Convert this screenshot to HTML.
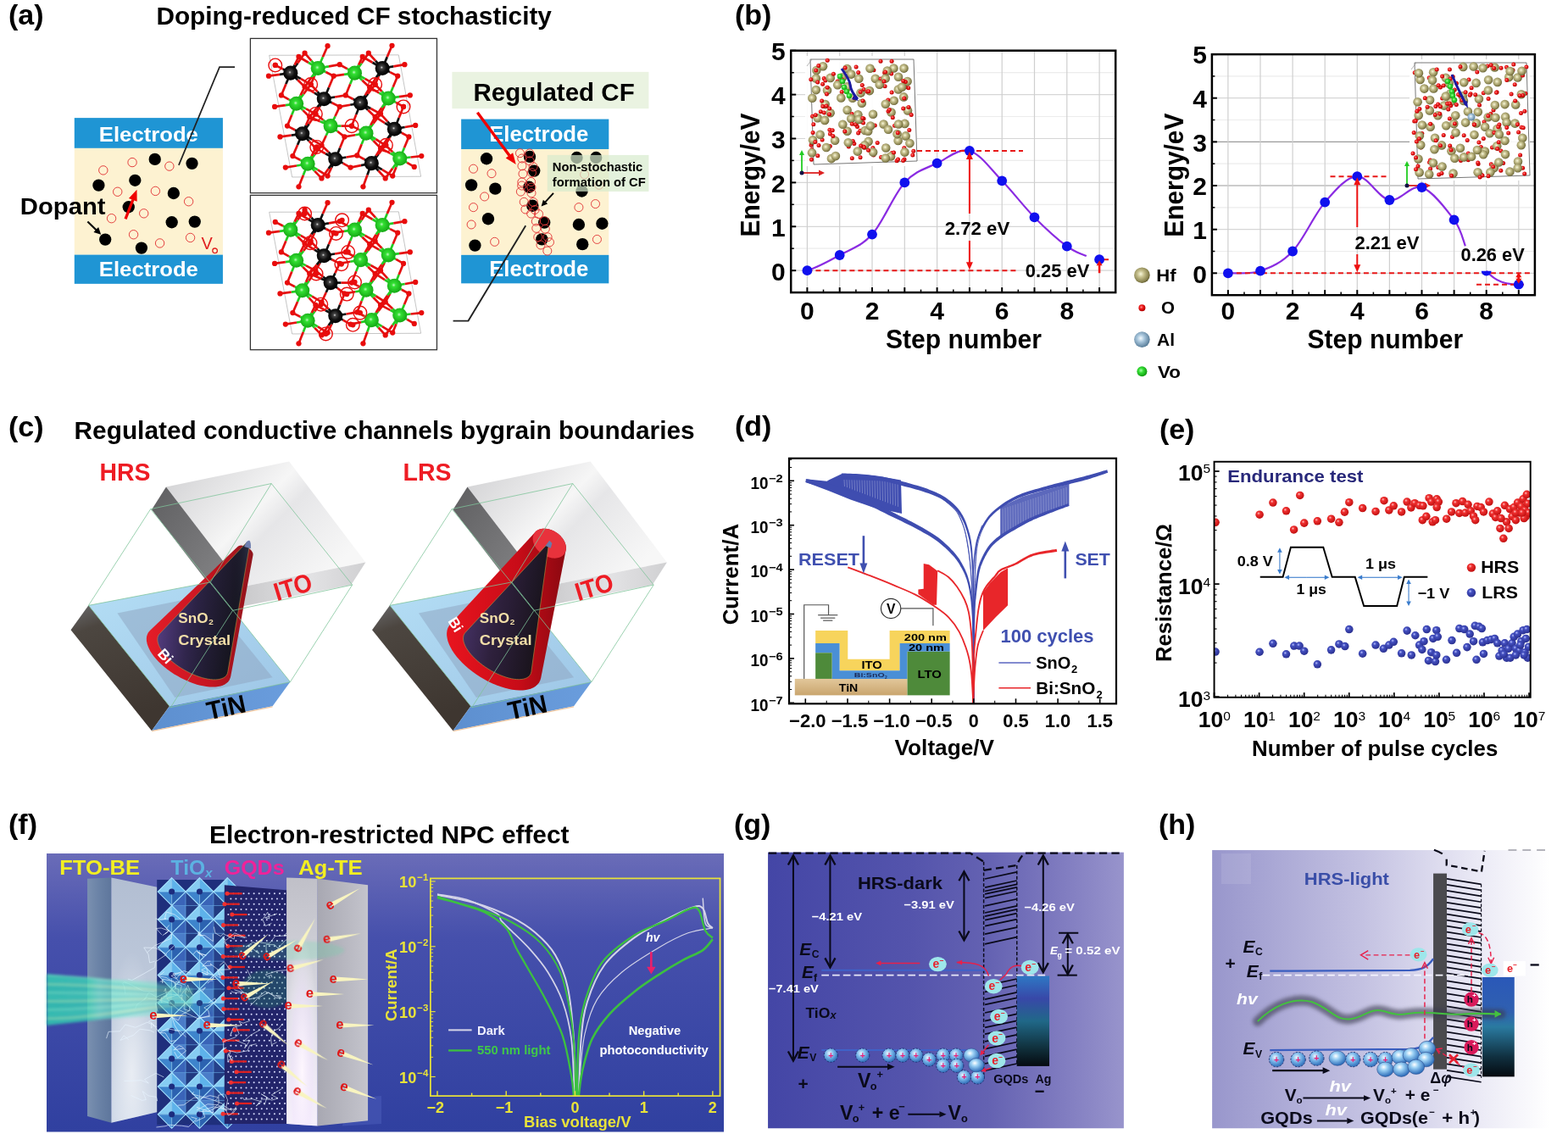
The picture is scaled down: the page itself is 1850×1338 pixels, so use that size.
<!DOCTYPE html>
<html><head><meta charset="utf-8"><title>Figure</title>
<style>
html,body{margin:0;padding:0;background:#fff;width:1850px;height:1338px;overflow:hidden}
svg{display:block}
text{font-family:"Liberation Sans", Arial, sans-serif;font-weight:bold}
</style></head><body>
<svg width="1850" height="1338" viewBox="0 0 1850 1338">
<defs>
<radialGradient id="gBlack" cx="0.45" cy="0.45" r="0.55"><stop offset="0" stop-color="#ddd"/><stop offset="0.18" stop-color="#444"/><stop offset="0.6" stop-color="#111"/><stop offset="1" stop-color="#000"/></radialGradient>
<radialGradient id="gGreen" cx="0.45" cy="0.45" r="0.55"><stop offset="0" stop-color="#bff7bf"/><stop offset="0.25" stop-color="#33e033"/><stop offset="1" stop-color="#15a815"/></radialGradient>
<radialGradient id="gGreenS" cx="0.4" cy="0.4" r="0.6"><stop offset="0" stop-color="#aaffaa"/><stop offset="0.4" stop-color="#33dd33"/><stop offset="1" stop-color="#119911"/></radialGradient>
<radialGradient id="gRed" cx="0.4" cy="0.4" r="0.6"><stop offset="0" stop-color="#ff9090"/><stop offset="0.45" stop-color="#ee1a1a"/><stop offset="1" stop-color="#b00000"/></radialGradient>
<radialGradient id="gHf" cx="0.42" cy="0.42" r="0.58"><stop offset="0" stop-color="#f8f8dc"/><stop offset="0.35" stop-color="#c8c290"/><stop offset="0.85" stop-color="#8a8450"/><stop offset="1" stop-color="#6a6436"/></radialGradient>
<radialGradient id="gAl" cx="0.42" cy="0.42" r="0.58"><stop offset="0" stop-color="#f4fbff"/><stop offset="0.4" stop-color="#a8c6dc"/><stop offset="1" stop-color="#5a7e9a"/></radialGradient>
<linearGradient id="gITOtop" x1="0" y1="0" x2="1" y2="0.6"><stop offset="0" stop-color="#cfcfd1"/><stop offset="0.35" stop-color="#e9e9ea"/><stop offset="0.5" stop-color="#f6f6f6"/><stop offset="0.62" stop-color="#e6e6e8"/><stop offset="1" stop-color="#f7f7f7"/></linearGradient>
<linearGradient id="gITOleft" x1="0" y1="0" x2="1" y2="1"><stop offset="0" stop-color="#5f5f61"/><stop offset="1" stop-color="#8c8c8e"/></linearGradient>
<linearGradient id="gITOfront" x1="0" y1="0" x2="1" y2="0"><stop offset="0" stop-color="#c4c4c6"/><stop offset="0.6" stop-color="#e2e2e4"/><stop offset="1" stop-color="#d0d0d2"/></linearGradient>
<linearGradient id="gTiNtop" x1="0" y1="0" x2="1" y2="1"><stop offset="0" stop-color="#b4def5"/><stop offset="1" stop-color="#9ec6e6"/></linearGradient>
<linearGradient id="gTiNleft" x1="0" y1="0" x2="0.3" y2="1"><stop offset="0" stop-color="#6a6a6c"/><stop offset="0.22" stop-color="#4c4640"/><stop offset="1" stop-color="#3e3630"/></linearGradient>
<linearGradient id="gTiNfront" x1="0" y1="0" x2="1" y2="0"><stop offset="0" stop-color="#5d8fcf"/><stop offset="1" stop-color="#6a9ddd"/></linearGradient>
<linearGradient id="gConeRed" x1="0" y1="0" x2="1" y2="0"><stop offset="0" stop-color="#e8141e"/><stop offset="0.6" stop-color="#c80c18"/><stop offset="1" stop-color="#8a0810"/></linearGradient>
<linearGradient id="gConeDark" x1="0" y1="0" x2="1" y2="0.3"><stop offset="0" stop-color="#4a3a78"/><stop offset="0.5" stop-color="#2a2240"/><stop offset="1" stop-color="#14141c"/></linearGradient>
<linearGradient id="gTiNd" x1="0" y1="0" x2="0" y2="1"><stop offset="0" stop-color="#e2c79a"/><stop offset="1" stop-color="#c9a56e"/></linearGradient>
<radialGradient id="gRedBall" cx="0.38" cy="0.35" r="0.65"><stop offset="0" stop-color="#ffc0c0"/><stop offset="0.3" stop-color="#f03030"/><stop offset="1" stop-color="#c01010"/></radialGradient>
<radialGradient id="gBlueBall" cx="0.38" cy="0.35" r="0.65"><stop offset="0" stop-color="#b8c0ff"/><stop offset="0.3" stop-color="#4450c0"/><stop offset="1" stop-color="#2a3090"/></radialGradient>
<linearGradient id="gFbg" x1="0" y1="0" x2="0" y2="1"><stop offset="0" stop-color="#6a6cb8"/><stop offset="0.3" stop-color="#4650ac"/><stop offset="1" stop-color="#3040a0"/></linearGradient>
<radialGradient id="gBeam" cx="0.5" cy="0.5" r="0.5"><stop offset="0" stop-color="#50e0b0" stop-opacity="0.55"/><stop offset="1" stop-color="#50e0b0" stop-opacity="0"/></radialGradient>
<linearGradient id="gFTOside" x1="0" y1="0" x2="1" y2="0"><stop offset="0" stop-color="#7a90b0"/><stop offset="0.5" stop-color="#6a82a6"/><stop offset="1" stop-color="#5e769c"/></linearGradient>
<linearGradient id="gFTOfront" x1="0" y1="0" x2="0" y2="1"><stop offset="0" stop-color="#b2bed2"/><stop offset="1" stop-color="#ccd6e6"/></linearGradient>
<radialGradient id="gFTOglow" cx="0.4" cy="0.8" r="0.5"><stop offset="0" stop-color="#ffffff" stop-opacity="0.6"/><stop offset="1" stop-color="#ffffff" stop-opacity="0"/></radialGradient>
<linearGradient id="gAgside" x1="0" y1="0" x2="0" y2="1"><stop offset="0" stop-color="#c0c0c8"/><stop offset="0.5" stop-color="#d8d8e0"/><stop offset="1" stop-color="#f4eefa"/></linearGradient>
<linearGradient id="gAgfront" x1="0" y1="0" x2="1" y2="0"><stop offset="0" stop-color="#a8a8b2"/><stop offset="1" stop-color="#c4c4cc"/></linearGradient>
<radialGradient id="gAgglow" cx="0.5" cy="0.78" r="0.55"><stop offset="0" stop-color="#fff8ff" stop-opacity="0.95"/><stop offset="0.6" stop-color="#f4e8ff" stop-opacity="0.5"/><stop offset="1" stop-color="#ffffff" stop-opacity="0"/></radialGradient>
<linearGradient id="gGbg" x1="0" y1="0" x2="1" y2="0"><stop offset="0" stop-color="#4446a6"/><stop offset="0.4" stop-color="#5454ac"/><stop offset="0.62" stop-color="#6462b2"/><stop offset="0.8" stop-color="#7c78be"/><stop offset="1" stop-color="#9894cc"/></linearGradient>
<linearGradient id="gHbg" x1="0" y1="0" x2="1" y2="0"><stop offset="0" stop-color="#9896cc"/><stop offset="0.45" stop-color="#c4c2e2"/><stop offset="0.8" stop-color="#ecebf6"/><stop offset="1" stop-color="#ffffff"/></linearGradient>
<linearGradient id="gAgBlk" x1="0" y1="0" x2="0" y2="1"><stop offset="0" stop-color="#2e78c4"/><stop offset="0.25" stop-color="#3848a8"/><stop offset="0.5" stop-color="#206888"/><stop offset="0.8" stop-color="#10303c"/><stop offset="1" stop-color="#050a10"/></linearGradient>
<linearGradient id="gAgBlk2" x1="0" y1="0" x2="0" y2="1"><stop offset="0" stop-color="#2a58b8"/><stop offset="0.35" stop-color="#3060b0"/><stop offset="0.5" stop-color="#2a7aa0"/><stop offset="0.8" stop-color="#103040"/><stop offset="1" stop-color="#050a10"/></linearGradient>
<radialGradient id="gHole" cx="0.4" cy="0.35" r="0.6"><stop offset="0" stop-color="#e8f4ff"/><stop offset="0.5" stop-color="#7ab8ea"/><stop offset="1" stop-color="#3a78c0"/></radialGradient>
<radialGradient id="gSphere" cx="0.4" cy="0.35" r="0.65"><stop offset="0" stop-color="#ffffff"/><stop offset="0.35" stop-color="#9ad0f4"/><stop offset="1" stop-color="#2a6ab8"/></radialGradient>
<linearGradient id="gBeamLin" x1="0" y1="0" x2="1" y2="0"><stop offset="0" stop-color="#34d2b2" stop-opacity="0.95"/><stop offset="0.23" stop-color="#40d8b8" stop-opacity="0.9"/><stop offset="0.3" stop-color="#80f0dc" stop-opacity="0.75"/><stop offset="0.65" stop-color="#60e0c8" stop-opacity="0.35"/><stop offset="1" stop-color="#40d8b8" stop-opacity="0"/></linearGradient>
<filter id="fBlur8" x="-20%" y="-50%" width="140%" height="200%"><feGaussianBlur stdDeviation="7"/></filter>
<filter id="fBlur3" x="-20%" y="-50%" width="140%" height="200%"><feGaussianBlur stdDeviation="3"/></filter>
<linearGradient id="gConeSheen" x1="0" y1="0" x2="1" y2="0"><stop offset="0" stop-color="#7a50b0" stop-opacity="0.35"/><stop offset="0.45" stop-color="#3a2a70" stop-opacity="0.1"/><stop offset="0.8" stop-color="#101018" stop-opacity="0"/><stop offset="1" stop-color="#5a6a9a" stop-opacity="0.3"/></linearGradient>
</defs>
<text x="10.0" y="28.6" font-size="34" fill="#000">(a)</text>
<text x="184.4" y="28.5" font-size="29.4" fill="#000" textLength="466.5" lengthAdjust="spacingAndGlyphs">Doping-reduced CF stochasticity</text>
<g transform="translate(0,60) scale(0.21676)"><rect x="405.0" y="365.0" width="808.0" height="165.0" fill="#1f95d4"/>
<rect x="405.0" y="530.0" width="808.0" height="580.0" fill="#fdf2d1"/>
<rect x="405.0" y="1110.0" width="808.0" height="158.0" fill="#1f95d4"/>
<text x="809.0" y="492.0" font-size="114" fill="#fff" text-anchor="middle" textLength="540" lengthAdjust="spacingAndGlyphs">Electrode</text>
<text x="809.0" y="1228.0" font-size="114" fill="#fff" text-anchor="middle" textLength="540" lengthAdjust="spacingAndGlyphs">Electrode</text>
<circle cx="843.0" cy="590.0" r="33" fill="#000"/>
<circle cx="1045.0" cy="613.0" r="33" fill="#000"/>
<circle cx="735.0" cy="705.0" r="33" fill="#000"/>
<circle cx="537.0" cy="732.0" r="33" fill="#000"/>
<circle cx="945.0" cy="775.0" r="33" fill="#000"/>
<circle cx="700.0" cy="850.0" r="33" fill="#000"/>
<circle cx="935.0" cy="933.0" r="33" fill="#000"/>
<circle cx="1060.0" cy="930.0" r="33" fill="#000"/>
<circle cx="573.0" cy="1027.0" r="33" fill="#000"/>
<circle cx="770.0" cy="1073.0" r="33" fill="#000"/>
<circle cx="720.0" cy="607.0" r="24" fill="none" stroke="#e23a3a" stroke-width="4.5"/>
<circle cx="922.0" cy="628.0" r="24" fill="none" stroke="#e23a3a" stroke-width="4.5"/>
<circle cx="562.0" cy="650.0" r="24" fill="none" stroke="#e23a3a" stroke-width="4.5"/>
<circle cx="640.0" cy="767.0" r="24" fill="none" stroke="#e23a3a" stroke-width="4.5"/>
<circle cx="846.0" cy="763.0" r="24" fill="none" stroke="#e23a3a" stroke-width="4.5"/>
<circle cx="1027.0" cy="820.0" r="24" fill="none" stroke="#e23a3a" stroke-width="4.5"/>
<circle cx="783.0" cy="885.0" r="24" fill="none" stroke="#e23a3a" stroke-width="4.5"/>
<circle cx="607.0" cy="912.0" r="24" fill="none" stroke="#e23a3a" stroke-width="4.5"/>
<circle cx="727.0" cy="1000.0" r="24" fill="none" stroke="#e23a3a" stroke-width="4.5"/>
<circle cx="1036.0" cy="1017.0" r="24" fill="none" stroke="#e23a3a" stroke-width="4.5"/>
<circle cx="870.0" cy="1047.0" r="24" fill="none" stroke="#e23a3a" stroke-width="4.5"/>
<line x1="683.0" y1="915.0" x2="723.7" y2="810.0" stroke="#f00000" stroke-width="15"/><path d="M745.0,755.0 L745.7,819.6 L700.9,802.3 Z" fill="#f00000"/>
<text x="110.0" y="890.0" font-size="124" fill="#000" textLength="465" lengthAdjust="spacingAndGlyphs">Dopant</text>
<line x1="477.0" y1="930.0" x2="523.3" y2="974.4" stroke="#000" stroke-width="10"/><path d="M550.0,1000.0 L509.4,987.4 L535.7,960.0 Z" fill="#000"/>
<text x="1096.0" y="1080.0" font-size="92" fill="#e02020" style="font-weight:normal;">V</text>
<circle cx="1170.0" cy="1088.0" r="13" fill="none" stroke="#e02020" stroke-width="6"/>
<path d="M973,622 L1195,88 L1278,88" fill="none" stroke="#222" stroke-width="8"/></g>
<g transform="translate(290,40) scale(0.14198)"><rect x="38.0" y="38.0" width="1550.0" height="1284.0" fill="#fff" stroke="#333" stroke-width="9"/>
<path d="M195,178 L1270,175 L1455,1185 L385,1190 Z" fill="none" stroke="#999" stroke-width="4"/>
<line x1="372.0" y1="325.0" x2="431.0" y2="242.5" stroke="#111" stroke-width="19"/>
<line x1="431.0" y1="242.5" x2="490.0" y2="160.0" stroke="#e41010" stroke-width="19"/>
<line x1="372.0" y1="325.0" x2="406.0" y2="257.5" stroke="#111" stroke-width="19"/>
<line x1="406.0" y1="257.5" x2="440.0" y2="190.0" stroke="#e41010" stroke-width="19"/>
<line x1="372.0" y1="325.0" x2="308.5" y2="292.5" stroke="#111" stroke-width="19"/>
<line x1="308.5" y1="292.5" x2="245.0" y2="260.0" stroke="#e41010" stroke-width="19"/>
<line x1="372.0" y1="325.0" x2="281.0" y2="337.5" stroke="#111" stroke-width="19"/>
<line x1="281.0" y1="337.5" x2="190.0" y2="350.0" stroke="#e41010" stroke-width="19"/>
<line x1="372.0" y1="325.0" x2="456.0" y2="372.5" stroke="#111" stroke-width="19"/>
<line x1="456.0" y1="372.5" x2="540.0" y2="420.0" stroke="#e41010" stroke-width="19"/>
<line x1="372.0" y1="325.0" x2="431.0" y2="382.5" stroke="#111" stroke-width="19"/>
<line x1="431.0" y1="382.5" x2="490.0" y2="440.0" stroke="#e41010" stroke-width="19"/>
<line x1="372.0" y1="325.0" x2="333.5" y2="417.5" stroke="#111" stroke-width="19"/>
<line x1="333.5" y1="417.5" x2="295.0" y2="510.0" stroke="#e41010" stroke-width="19"/>
<line x1="600.0" y1="285.0" x2="640.0" y2="192.5" stroke="#22cc22" stroke-width="19"/>
<line x1="640.0" y1="192.5" x2="680.0" y2="100.0" stroke="#e41010" stroke-width="19"/>
<line x1="600.0" y1="285.0" x2="545.0" y2="222.5" stroke="#22cc22" stroke-width="19"/>
<line x1="545.0" y1="222.5" x2="490.0" y2="160.0" stroke="#e41010" stroke-width="19"/>
<line x1="600.0" y1="285.0" x2="520.0" y2="237.5" stroke="#22cc22" stroke-width="19"/>
<line x1="520.0" y1="237.5" x2="440.0" y2="190.0" stroke="#e41010" stroke-width="19"/>
<line x1="600.0" y1="285.0" x2="690.0" y2="270.0" stroke="#22cc22" stroke-width="19"/>
<line x1="690.0" y1="270.0" x2="780.0" y2="255.0" stroke="#e41010" stroke-width="19"/>
<line x1="600.0" y1="285.0" x2="665.0" y2="317.5" stroke="#22cc22" stroke-width="19"/>
<line x1="665.0" y1="317.5" x2="730.0" y2="350.0" stroke="#e41010" stroke-width="19"/>
<line x1="600.0" y1="285.0" x2="570.0" y2="352.5" stroke="#22cc22" stroke-width="19"/>
<line x1="570.0" y1="352.5" x2="540.0" y2="420.0" stroke="#e41010" stroke-width="19"/>
<line x1="600.0" y1="285.0" x2="545.0" y2="362.5" stroke="#22cc22" stroke-width="19"/>
<line x1="545.0" y1="362.5" x2="490.0" y2="440.0" stroke="#e41010" stroke-width="19"/>
<line x1="905.0" y1="325.0" x2="962.5" y2="242.5" stroke="#22cc22" stroke-width="19"/>
<line x1="962.5" y1="242.5" x2="1020.0" y2="160.0" stroke="#e41010" stroke-width="19"/>
<line x1="905.0" y1="325.0" x2="937.5" y2="257.5" stroke="#22cc22" stroke-width="19"/>
<line x1="937.5" y1="257.5" x2="970.0" y2="190.0" stroke="#e41010" stroke-width="19"/>
<line x1="905.0" y1="325.0" x2="842.5" y2="290.0" stroke="#22cc22" stroke-width="19"/>
<line x1="842.5" y1="290.0" x2="780.0" y2="255.0" stroke="#e41010" stroke-width="19"/>
<line x1="905.0" y1="325.0" x2="817.5" y2="337.5" stroke="#22cc22" stroke-width="19"/>
<line x1="817.5" y1="337.5" x2="730.0" y2="350.0" stroke="#e41010" stroke-width="19"/>
<line x1="905.0" y1="325.0" x2="990.0" y2="372.5" stroke="#22cc22" stroke-width="19"/>
<line x1="990.0" y1="372.5" x2="1075.0" y2="420.0" stroke="#e41010" stroke-width="19"/>
<line x1="905.0" y1="325.0" x2="967.5" y2="385.0" stroke="#22cc22" stroke-width="19"/>
<line x1="967.5" y1="385.0" x2="1030.0" y2="445.0" stroke="#e41010" stroke-width="19"/>
<line x1="905.0" y1="325.0" x2="867.5" y2="417.5" stroke="#22cc22" stroke-width="19"/>
<line x1="867.5" y1="417.5" x2="830.0" y2="510.0" stroke="#e41010" stroke-width="19"/>
<line x1="1135.0" y1="285.0" x2="1175.0" y2="191.0" stroke="#111" stroke-width="19"/>
<line x1="1175.0" y1="191.0" x2="1215.0" y2="97.0" stroke="#e41010" stroke-width="19"/>
<line x1="1135.0" y1="285.0" x2="1077.5" y2="222.5" stroke="#111" stroke-width="19"/>
<line x1="1077.5" y1="222.5" x2="1020.0" y2="160.0" stroke="#e41010" stroke-width="19"/>
<line x1="1135.0" y1="285.0" x2="1052.5" y2="237.5" stroke="#111" stroke-width="19"/>
<line x1="1052.5" y1="237.5" x2="970.0" y2="190.0" stroke="#e41010" stroke-width="19"/>
<line x1="1135.0" y1="285.0" x2="1227.5" y2="270.0" stroke="#111" stroke-width="19"/>
<line x1="1227.5" y1="270.0" x2="1320.0" y2="255.0" stroke="#e41010" stroke-width="19"/>
<line x1="1135.0" y1="285.0" x2="1198.5" y2="317.5" stroke="#111" stroke-width="19"/>
<line x1="1198.5" y1="317.5" x2="1262.0" y2="350.0" stroke="#e41010" stroke-width="19"/>
<line x1="1135.0" y1="285.0" x2="1105.0" y2="352.5" stroke="#111" stroke-width="19"/>
<line x1="1105.0" y1="352.5" x2="1075.0" y2="420.0" stroke="#e41010" stroke-width="19"/>
<line x1="1135.0" y1="285.0" x2="1082.5" y2="365.0" stroke="#111" stroke-width="19"/>
<line x1="1082.5" y1="365.0" x2="1030.0" y2="445.0" stroke="#e41010" stroke-width="19"/>
<line x1="420.0" y1="580.0" x2="480.0" y2="500.0" stroke="#22cc22" stroke-width="19"/>
<line x1="480.0" y1="500.0" x2="540.0" y2="420.0" stroke="#e41010" stroke-width="19"/>
<line x1="420.0" y1="580.0" x2="455.0" y2="510.0" stroke="#22cc22" stroke-width="19"/>
<line x1="455.0" y1="510.0" x2="490.0" y2="440.0" stroke="#e41010" stroke-width="19"/>
<line x1="420.0" y1="580.0" x2="357.5" y2="545.0" stroke="#22cc22" stroke-width="19"/>
<line x1="357.5" y1="545.0" x2="295.0" y2="510.0" stroke="#e41010" stroke-width="19"/>
<line x1="420.0" y1="580.0" x2="330.0" y2="592.5" stroke="#22cc22" stroke-width="19"/>
<line x1="330.0" y1="592.5" x2="240.0" y2="605.0" stroke="#e41010" stroke-width="19"/>
<line x1="420.0" y1="580.0" x2="500.0" y2="622.5" stroke="#22cc22" stroke-width="19"/>
<line x1="500.0" y1="622.5" x2="580.0" y2="665.0" stroke="#e41010" stroke-width="19"/>
<line x1="420.0" y1="580.0" x2="475.0" y2="635.0" stroke="#22cc22" stroke-width="19"/>
<line x1="475.0" y1="635.0" x2="530.0" y2="690.0" stroke="#e41010" stroke-width="19"/>
<line x1="420.0" y1="580.0" x2="382.5" y2="672.5" stroke="#22cc22" stroke-width="19"/>
<line x1="382.5" y1="672.5" x2="345.0" y2="765.0" stroke="#e41010" stroke-width="19"/>
<line x1="650.0" y1="540.0" x2="690.0" y2="445.0" stroke="#111" stroke-width="19"/>
<line x1="690.0" y1="445.0" x2="730.0" y2="350.0" stroke="#e41010" stroke-width="19"/>
<line x1="650.0" y1="540.0" x2="595.0" y2="480.0" stroke="#111" stroke-width="19"/>
<line x1="595.0" y1="480.0" x2="540.0" y2="420.0" stroke="#e41010" stroke-width="19"/>
<line x1="650.0" y1="540.0" x2="570.0" y2="490.0" stroke="#111" stroke-width="19"/>
<line x1="570.0" y1="490.0" x2="490.0" y2="440.0" stroke="#e41010" stroke-width="19"/>
<line x1="650.0" y1="540.0" x2="740.0" y2="525.0" stroke="#111" stroke-width="19"/>
<line x1="740.0" y1="525.0" x2="830.0" y2="510.0" stroke="#e41010" stroke-width="19"/>
<line x1="650.0" y1="540.0" x2="715.0" y2="572.5" stroke="#111" stroke-width="19"/>
<line x1="715.0" y1="572.5" x2="780.0" y2="605.0" stroke="#e41010" stroke-width="19"/>
<line x1="650.0" y1="540.0" x2="615.0" y2="602.5" stroke="#111" stroke-width="19"/>
<line x1="615.0" y1="602.5" x2="580.0" y2="665.0" stroke="#e41010" stroke-width="19"/>
<line x1="650.0" y1="540.0" x2="590.0" y2="615.0" stroke="#111" stroke-width="19"/>
<line x1="590.0" y1="615.0" x2="530.0" y2="690.0" stroke="#e41010" stroke-width="19"/>
<line x1="955.0" y1="575.0" x2="1015.0" y2="497.5" stroke="#111" stroke-width="19"/>
<line x1="1015.0" y1="497.5" x2="1075.0" y2="420.0" stroke="#e41010" stroke-width="19"/>
<line x1="955.0" y1="575.0" x2="992.5" y2="510.0" stroke="#111" stroke-width="19"/>
<line x1="992.5" y1="510.0" x2="1030.0" y2="445.0" stroke="#e41010" stroke-width="19"/>
<line x1="955.0" y1="575.0" x2="892.5" y2="542.5" stroke="#111" stroke-width="19"/>
<line x1="892.5" y1="542.5" x2="830.0" y2="510.0" stroke="#e41010" stroke-width="19"/>
<line x1="955.0" y1="575.0" x2="867.5" y2="590.0" stroke="#111" stroke-width="19"/>
<line x1="867.5" y1="590.0" x2="780.0" y2="605.0" stroke="#e41010" stroke-width="19"/>
<line x1="955.0" y1="575.0" x2="1037.5" y2="620.0" stroke="#111" stroke-width="19"/>
<line x1="1037.5" y1="620.0" x2="1120.0" y2="665.0" stroke="#e41010" stroke-width="19"/>
<line x1="955.0" y1="575.0" x2="1015.0" y2="632.5" stroke="#111" stroke-width="19"/>
<line x1="1015.0" y1="632.5" x2="1075.0" y2="690.0" stroke="#e41010" stroke-width="19"/>
<line x1="955.0" y1="575.0" x2="917.5" y2="670.0" stroke="#111" stroke-width="19"/>
<line x1="917.5" y1="670.0" x2="880.0" y2="765.0" stroke="#e41010" stroke-width="19"/>
<line x1="1185.0" y1="535.0" x2="1223.5" y2="442.5" stroke="#22cc22" stroke-width="19"/>
<line x1="1223.5" y1="442.5" x2="1262.0" y2="350.0" stroke="#e41010" stroke-width="19"/>
<line x1="1185.0" y1="535.0" x2="1130.0" y2="477.5" stroke="#22cc22" stroke-width="19"/>
<line x1="1130.0" y1="477.5" x2="1075.0" y2="420.0" stroke="#e41010" stroke-width="19"/>
<line x1="1185.0" y1="535.0" x2="1107.5" y2="490.0" stroke="#22cc22" stroke-width="19"/>
<line x1="1107.5" y1="490.0" x2="1030.0" y2="445.0" stroke="#e41010" stroke-width="19"/>
<line x1="1185.0" y1="535.0" x2="1275.0" y2="522.5" stroke="#22cc22" stroke-width="19"/>
<line x1="1275.0" y1="522.5" x2="1365.0" y2="510.0" stroke="#e41010" stroke-width="19"/>
<line x1="1185.0" y1="535.0" x2="1247.5" y2="570.0" stroke="#22cc22" stroke-width="19"/>
<line x1="1247.5" y1="570.0" x2="1310.0" y2="605.0" stroke="#e41010" stroke-width="19"/>
<line x1="1185.0" y1="535.0" x2="1152.5" y2="600.0" stroke="#22cc22" stroke-width="19"/>
<line x1="1152.5" y1="600.0" x2="1120.0" y2="665.0" stroke="#e41010" stroke-width="19"/>
<line x1="1185.0" y1="535.0" x2="1130.0" y2="612.5" stroke="#22cc22" stroke-width="19"/>
<line x1="1130.0" y1="612.5" x2="1075.0" y2="690.0" stroke="#e41010" stroke-width="19"/>
<line x1="470.0" y1="830.0" x2="525.0" y2="747.5" stroke="#111" stroke-width="19"/>
<line x1="525.0" y1="747.5" x2="580.0" y2="665.0" stroke="#e41010" stroke-width="19"/>
<line x1="470.0" y1="830.0" x2="500.0" y2="760.0" stroke="#111" stroke-width="19"/>
<line x1="500.0" y1="760.0" x2="530.0" y2="690.0" stroke="#e41010" stroke-width="19"/>
<line x1="470.0" y1="830.0" x2="407.5" y2="797.5" stroke="#111" stroke-width="19"/>
<line x1="407.5" y1="797.5" x2="345.0" y2="765.0" stroke="#e41010" stroke-width="19"/>
<line x1="470.0" y1="830.0" x2="377.5" y2="842.5" stroke="#111" stroke-width="19"/>
<line x1="377.5" y1="842.5" x2="285.0" y2="855.0" stroke="#e41010" stroke-width="19"/>
<line x1="470.0" y1="830.0" x2="550.0" y2="877.5" stroke="#111" stroke-width="19"/>
<line x1="550.0" y1="877.5" x2="630.0" y2="925.0" stroke="#e41010" stroke-width="19"/>
<line x1="470.0" y1="830.0" x2="525.0" y2="890.0" stroke="#111" stroke-width="19"/>
<line x1="525.0" y1="890.0" x2="580.0" y2="950.0" stroke="#e41010" stroke-width="19"/>
<line x1="470.0" y1="830.0" x2="430.0" y2="922.5" stroke="#111" stroke-width="19"/>
<line x1="430.0" y1="922.5" x2="390.0" y2="1015.0" stroke="#e41010" stroke-width="19"/>
<line x1="705.0" y1="765.0" x2="742.5" y2="685.0" stroke="#22cc22" stroke-width="19"/>
<line x1="742.5" y1="685.0" x2="780.0" y2="605.0" stroke="#e41010" stroke-width="19"/>
<line x1="705.0" y1="765.0" x2="642.5" y2="715.0" stroke="#22cc22" stroke-width="19"/>
<line x1="642.5" y1="715.0" x2="580.0" y2="665.0" stroke="#e41010" stroke-width="19"/>
<line x1="705.0" y1="765.0" x2="617.5" y2="727.5" stroke="#22cc22" stroke-width="19"/>
<line x1="617.5" y1="727.5" x2="530.0" y2="690.0" stroke="#e41010" stroke-width="19"/>
<line x1="705.0" y1="765.0" x2="792.5" y2="765.0" stroke="#22cc22" stroke-width="19"/>
<line x1="792.5" y1="765.0" x2="880.0" y2="765.0" stroke="#e41010" stroke-width="19"/>
<line x1="705.0" y1="765.0" x2="762.5" y2="810.0" stroke="#22cc22" stroke-width="19"/>
<line x1="762.5" y1="810.0" x2="820.0" y2="855.0" stroke="#e41010" stroke-width="19"/>
<line x1="705.0" y1="765.0" x2="667.5" y2="845.0" stroke="#22cc22" stroke-width="19"/>
<line x1="667.5" y1="845.0" x2="630.0" y2="925.0" stroke="#e41010" stroke-width="19"/>
<line x1="1000.0" y1="825.0" x2="1060.0" y2="745.0" stroke="#22cc22" stroke-width="19"/>
<line x1="1060.0" y1="745.0" x2="1120.0" y2="665.0" stroke="#e41010" stroke-width="19"/>
<line x1="1000.0" y1="825.0" x2="1037.5" y2="757.5" stroke="#22cc22" stroke-width="19"/>
<line x1="1037.5" y1="757.5" x2="1075.0" y2="690.0" stroke="#e41010" stroke-width="19"/>
<line x1="1000.0" y1="825.0" x2="940.0" y2="795.0" stroke="#22cc22" stroke-width="19"/>
<line x1="940.0" y1="795.0" x2="880.0" y2="765.0" stroke="#e41010" stroke-width="19"/>
<line x1="1000.0" y1="825.0" x2="910.0" y2="840.0" stroke="#22cc22" stroke-width="19"/>
<line x1="910.0" y1="840.0" x2="820.0" y2="855.0" stroke="#e41010" stroke-width="19"/>
<line x1="1000.0" y1="825.0" x2="1080.0" y2="875.0" stroke="#22cc22" stroke-width="19"/>
<line x1="1080.0" y1="875.0" x2="1160.0" y2="925.0" stroke="#e41010" stroke-width="19"/>
<line x1="1000.0" y1="825.0" x2="1060.0" y2="887.5" stroke="#22cc22" stroke-width="19"/>
<line x1="1060.0" y1="887.5" x2="1120.0" y2="950.0" stroke="#e41010" stroke-width="19"/>
<line x1="1000.0" y1="825.0" x2="962.5" y2="917.5" stroke="#22cc22" stroke-width="19"/>
<line x1="962.5" y1="917.5" x2="925.0" y2="1010.0" stroke="#e41010" stroke-width="19"/>
<line x1="1235.0" y1="790.0" x2="1272.5" y2="697.5" stroke="#111" stroke-width="19"/>
<line x1="1272.5" y1="697.5" x2="1310.0" y2="605.0" stroke="#e41010" stroke-width="19"/>
<line x1="1235.0" y1="790.0" x2="1177.5" y2="727.5" stroke="#111" stroke-width="19"/>
<line x1="1177.5" y1="727.5" x2="1120.0" y2="665.0" stroke="#e41010" stroke-width="19"/>
<line x1="1235.0" y1="790.0" x2="1155.0" y2="740.0" stroke="#111" stroke-width="19"/>
<line x1="1155.0" y1="740.0" x2="1075.0" y2="690.0" stroke="#e41010" stroke-width="19"/>
<line x1="1235.0" y1="790.0" x2="1322.5" y2="775.0" stroke="#111" stroke-width="19"/>
<line x1="1322.5" y1="775.0" x2="1410.0" y2="760.0" stroke="#e41010" stroke-width="19"/>
<line x1="1235.0" y1="790.0" x2="1295.0" y2="822.5" stroke="#111" stroke-width="19"/>
<line x1="1295.0" y1="822.5" x2="1355.0" y2="855.0" stroke="#e41010" stroke-width="19"/>
<line x1="1235.0" y1="790.0" x2="1197.5" y2="857.5" stroke="#111" stroke-width="19"/>
<line x1="1197.5" y1="857.5" x2="1160.0" y2="925.0" stroke="#e41010" stroke-width="19"/>
<line x1="1235.0" y1="790.0" x2="1177.5" y2="870.0" stroke="#111" stroke-width="19"/>
<line x1="1177.5" y1="870.0" x2="1120.0" y2="950.0" stroke="#e41010" stroke-width="19"/>
<line x1="515.0" y1="1080.0" x2="572.5" y2="1002.5" stroke="#22cc22" stroke-width="19"/>
<line x1="572.5" y1="1002.5" x2="630.0" y2="925.0" stroke="#e41010" stroke-width="19"/>
<line x1="515.0" y1="1080.0" x2="547.5" y2="1015.0" stroke="#22cc22" stroke-width="19"/>
<line x1="547.5" y1="1015.0" x2="580.0" y2="950.0" stroke="#e41010" stroke-width="19"/>
<line x1="515.0" y1="1080.0" x2="452.5" y2="1047.5" stroke="#22cc22" stroke-width="19"/>
<line x1="452.5" y1="1047.5" x2="390.0" y2="1015.0" stroke="#e41010" stroke-width="19"/>
<line x1="515.0" y1="1080.0" x2="422.5" y2="1095.0" stroke="#22cc22" stroke-width="19"/>
<line x1="422.5" y1="1095.0" x2="330.0" y2="1110.0" stroke="#e41010" stroke-width="19"/>
<line x1="515.0" y1="1080.0" x2="597.5" y2="1130.0" stroke="#22cc22" stroke-width="19"/>
<line x1="597.5" y1="1130.0" x2="680.0" y2="1180.0" stroke="#e41010" stroke-width="19"/>
<line x1="515.0" y1="1080.0" x2="572.5" y2="1140.0" stroke="#22cc22" stroke-width="19"/>
<line x1="572.5" y1="1140.0" x2="630.0" y2="1200.0" stroke="#e41010" stroke-width="19"/>
<line x1="515.0" y1="1080.0" x2="477.5" y2="1175.0" stroke="#22cc22" stroke-width="19"/>
<line x1="477.5" y1="1175.0" x2="440.0" y2="1270.0" stroke="#e41010" stroke-width="19"/>
<line x1="745.0" y1="1040.0" x2="782.5" y2="947.5" stroke="#111" stroke-width="19"/>
<line x1="782.5" y1="947.5" x2="820.0" y2="855.0" stroke="#e41010" stroke-width="19"/>
<line x1="745.0" y1="1040.0" x2="687.5" y2="982.5" stroke="#111" stroke-width="19"/>
<line x1="687.5" y1="982.5" x2="630.0" y2="925.0" stroke="#e41010" stroke-width="19"/>
<line x1="745.0" y1="1040.0" x2="662.5" y2="995.0" stroke="#111" stroke-width="19"/>
<line x1="662.5" y1="995.0" x2="580.0" y2="950.0" stroke="#e41010" stroke-width="19"/>
<line x1="745.0" y1="1040.0" x2="835.0" y2="1025.0" stroke="#111" stroke-width="19"/>
<line x1="835.0" y1="1025.0" x2="925.0" y2="1010.0" stroke="#e41010" stroke-width="19"/>
<line x1="745.0" y1="1040.0" x2="807.5" y2="1075.0" stroke="#111" stroke-width="19"/>
<line x1="807.5" y1="1075.0" x2="870.0" y2="1110.0" stroke="#e41010" stroke-width="19"/>
<line x1="745.0" y1="1040.0" x2="712.5" y2="1110.0" stroke="#111" stroke-width="19"/>
<line x1="712.5" y1="1110.0" x2="680.0" y2="1180.0" stroke="#e41010" stroke-width="19"/>
<line x1="745.0" y1="1040.0" x2="687.5" y2="1120.0" stroke="#111" stroke-width="19"/>
<line x1="687.5" y1="1120.0" x2="630.0" y2="1200.0" stroke="#e41010" stroke-width="19"/>
<line x1="1045.0" y1="1075.0" x2="1102.5" y2="1000.0" stroke="#111" stroke-width="19"/>
<line x1="1102.5" y1="1000.0" x2="1160.0" y2="925.0" stroke="#e41010" stroke-width="19"/>
<line x1="1045.0" y1="1075.0" x2="1082.5" y2="1012.5" stroke="#111" stroke-width="19"/>
<line x1="1082.5" y1="1012.5" x2="1120.0" y2="950.0" stroke="#e41010" stroke-width="19"/>
<line x1="1045.0" y1="1075.0" x2="985.0" y2="1042.5" stroke="#111" stroke-width="19"/>
<line x1="985.0" y1="1042.5" x2="925.0" y2="1010.0" stroke="#e41010" stroke-width="19"/>
<line x1="1045.0" y1="1075.0" x2="957.5" y2="1092.5" stroke="#111" stroke-width="19"/>
<line x1="957.5" y1="1092.5" x2="870.0" y2="1110.0" stroke="#e41010" stroke-width="19"/>
<line x1="1045.0" y1="1075.0" x2="1132.5" y2="1127.5" stroke="#111" stroke-width="19"/>
<line x1="1132.5" y1="1127.5" x2="1220.0" y2="1180.0" stroke="#e41010" stroke-width="19"/>
<line x1="1045.0" y1="1075.0" x2="1102.5" y2="1137.5" stroke="#111" stroke-width="19"/>
<line x1="1102.5" y1="1137.5" x2="1160.0" y2="1200.0" stroke="#e41010" stroke-width="19"/>
<line x1="1045.0" y1="1075.0" x2="1010.0" y2="1172.5" stroke="#111" stroke-width="19"/>
<line x1="1010.0" y1="1172.5" x2="975.0" y2="1270.0" stroke="#e41010" stroke-width="19"/>
<line x1="1280.0" y1="1035.0" x2="1317.5" y2="945.0" stroke="#22cc22" stroke-width="19"/>
<line x1="1317.5" y1="945.0" x2="1355.0" y2="855.0" stroke="#e41010" stroke-width="19"/>
<line x1="1280.0" y1="1035.0" x2="1220.0" y2="980.0" stroke="#22cc22" stroke-width="19"/>
<line x1="1220.0" y1="980.0" x2="1160.0" y2="925.0" stroke="#e41010" stroke-width="19"/>
<line x1="1280.0" y1="1035.0" x2="1200.0" y2="992.5" stroke="#22cc22" stroke-width="19"/>
<line x1="1200.0" y1="992.5" x2="1120.0" y2="950.0" stroke="#e41010" stroke-width="19"/>
<line x1="1280.0" y1="1035.0" x2="1370.0" y2="1025.0" stroke="#22cc22" stroke-width="19"/>
<line x1="1370.0" y1="1025.0" x2="1460.0" y2="1015.0" stroke="#e41010" stroke-width="19"/>
<line x1="1280.0" y1="1035.0" x2="1340.0" y2="1070.0" stroke="#22cc22" stroke-width="19"/>
<line x1="1340.0" y1="1070.0" x2="1400.0" y2="1105.0" stroke="#e41010" stroke-width="19"/>
<line x1="1280.0" y1="1035.0" x2="1250.0" y2="1107.5" stroke="#22cc22" stroke-width="19"/>
<line x1="1250.0" y1="1107.5" x2="1220.0" y2="1180.0" stroke="#e41010" stroke-width="19"/>
<line x1="1280.0" y1="1035.0" x2="1220.0" y2="1117.5" stroke="#22cc22" stroke-width="19"/>
<line x1="1220.0" y1="1117.5" x2="1160.0" y2="1200.0" stroke="#e41010" stroke-width="19"/>
<circle cx="680.0" cy="100.0" r="22" fill="#e80c0c"/>
<circle cx="1215.0" cy="97.0" r="22" fill="#e80c0c"/>
<circle cx="490.0" cy="160.0" r="22" fill="#e80c0c"/>
<circle cx="440.0" cy="190.0" r="22" fill="#e80c0c"/>
<circle cx="1020.0" cy="160.0" r="22" fill="#e80c0c"/>
<circle cx="970.0" cy="190.0" r="22" fill="#e80c0c"/>
<circle cx="245.0" cy="260.0" r="22" fill="#e80c0c"/>
<circle cx="1320.0" cy="255.0" r="22" fill="#e80c0c"/>
<circle cx="190.0" cy="350.0" r="22" fill="#e80c0c"/>
<circle cx="780.0" cy="255.0" r="22" fill="#e80c0c"/>
<circle cx="730.0" cy="350.0" r="22" fill="#e80c0c"/>
<circle cx="1262.0" cy="350.0" r="22" fill="#e80c0c"/>
<circle cx="540.0" cy="420.0" r="22" fill="#e80c0c"/>
<circle cx="490.0" cy="440.0" r="22" fill="#e80c0c"/>
<circle cx="1075.0" cy="420.0" r="22" fill="#e80c0c"/>
<circle cx="1030.0" cy="445.0" r="22" fill="#e80c0c"/>
<circle cx="295.0" cy="510.0" r="22" fill="#e80c0c"/>
<circle cx="830.0" cy="510.0" r="22" fill="#e80c0c"/>
<circle cx="1365.0" cy="510.0" r="22" fill="#e80c0c"/>
<circle cx="240.0" cy="605.0" r="22" fill="#e80c0c"/>
<circle cx="780.0" cy="605.0" r="22" fill="#e80c0c"/>
<circle cx="1310.0" cy="605.0" r="22" fill="#e80c0c"/>
<circle cx="580.0" cy="665.0" r="22" fill="#e80c0c"/>
<circle cx="530.0" cy="690.0" r="22" fill="#e80c0c"/>
<circle cx="1120.0" cy="665.0" r="22" fill="#e80c0c"/>
<circle cx="1075.0" cy="690.0" r="22" fill="#e80c0c"/>
<circle cx="345.0" cy="765.0" r="22" fill="#e80c0c"/>
<circle cx="880.0" cy="765.0" r="22" fill="#e80c0c"/>
<circle cx="1410.0" cy="760.0" r="22" fill="#e80c0c"/>
<circle cx="285.0" cy="855.0" r="22" fill="#e80c0c"/>
<circle cx="820.0" cy="855.0" r="22" fill="#e80c0c"/>
<circle cx="1355.0" cy="855.0" r="22" fill="#e80c0c"/>
<circle cx="630.0" cy="925.0" r="22" fill="#e80c0c"/>
<circle cx="580.0" cy="950.0" r="22" fill="#e80c0c"/>
<circle cx="1160.0" cy="925.0" r="22" fill="#e80c0c"/>
<circle cx="1120.0" cy="950.0" r="22" fill="#e80c0c"/>
<circle cx="390.0" cy="1015.0" r="22" fill="#e80c0c"/>
<circle cx="925.0" cy="1010.0" r="22" fill="#e80c0c"/>
<circle cx="1460.0" cy="1015.0" r="22" fill="#e80c0c"/>
<circle cx="330.0" cy="1110.0" r="22" fill="#e80c0c"/>
<circle cx="870.0" cy="1110.0" r="22" fill="#e80c0c"/>
<circle cx="1400.0" cy="1105.0" r="22" fill="#e80c0c"/>
<circle cx="680.0" cy="1180.0" r="22" fill="#e80c0c"/>
<circle cx="630.0" cy="1200.0" r="22" fill="#e80c0c"/>
<circle cx="1220.0" cy="1180.0" r="22" fill="#e80c0c"/>
<circle cx="1160.0" cy="1200.0" r="22" fill="#e80c0c"/>
<circle cx="440.0" cy="1270.0" r="22" fill="#e80c0c"/>
<circle cx="975.0" cy="1270.0" r="22" fill="#e80c0c"/>
<circle cx="372.0" cy="325.0" r="60" fill="url(#gBlack)"/>
<circle cx="600.0" cy="285.0" r="60" fill="url(#gGreen)"/>
<circle cx="905.0" cy="325.0" r="60" fill="url(#gGreen)"/>
<circle cx="1135.0" cy="285.0" r="60" fill="url(#gBlack)"/>
<circle cx="420.0" cy="580.0" r="60" fill="url(#gGreen)"/>
<circle cx="650.0" cy="540.0" r="60" fill="url(#gBlack)"/>
<circle cx="955.0" cy="575.0" r="60" fill="url(#gBlack)"/>
<circle cx="1185.0" cy="535.0" r="60" fill="url(#gGreen)"/>
<circle cx="470.0" cy="830.0" r="60" fill="url(#gBlack)"/>
<circle cx="705.0" cy="765.0" r="60" fill="url(#gGreen)"/>
<circle cx="1000.0" cy="825.0" r="60" fill="url(#gGreen)"/>
<circle cx="1235.0" cy="790.0" r="60" fill="url(#gBlack)"/>
<circle cx="515.0" cy="1080.0" r="60" fill="url(#gGreen)"/>
<circle cx="745.0" cy="1040.0" r="60" fill="url(#gBlack)"/>
<circle cx="1045.0" cy="1075.0" r="60" fill="url(#gBlack)"/>
<circle cx="1280.0" cy="1035.0" r="60" fill="url(#gGreen)"/>
<circle cx="245.0" cy="260.0" r="22" fill="#e80c0c"/>
<circle cx="245.0" cy="260.0" r="55" fill="none" stroke="#e81010" stroke-width="10"/>
<circle cx="540.0" cy="420.0" r="22" fill="#e80c0c"/>
<circle cx="540.0" cy="420.0" r="55" fill="none" stroke="#e81010" stroke-width="10"/>
<circle cx="580.0" cy="665.0" r="22" fill="#e80c0c"/>
<circle cx="580.0" cy="665.0" r="55" fill="none" stroke="#e81010" stroke-width="10"/>
<circle cx="880.0" cy="765.0" r="22" fill="#e80c0c"/>
<circle cx="880.0" cy="765.0" r="55" fill="none" stroke="#e81010" stroke-width="10"/>
<circle cx="1310.0" cy="605.0" r="22" fill="#e80c0c"/>
<circle cx="1310.0" cy="605.0" r="55" fill="none" stroke="#e81010" stroke-width="10"/>
<circle cx="1075.0" cy="420.0" r="22" fill="#e80c0c"/>
<circle cx="1075.0" cy="420.0" r="55" fill="none" stroke="#e81010" stroke-width="10"/>
<circle cx="590.0" cy="940.0" r="22" fill="#e80c0c"/>
<circle cx="590.0" cy="940.0" r="55" fill="none" stroke="#e81010" stroke-width="10"/>
<circle cx="1165.0" cy="925.0" r="22" fill="#e80c0c"/>
<circle cx="1165.0" cy="925.0" r="55" fill="none" stroke="#e81010" stroke-width="10"/></g>
<g transform="translate(290,225) scale(0.14198)"><rect x="38.0" y="38.0" width="1550.0" height="1284.0" fill="#fff" stroke="#333" stroke-width="9"/>
<path d="M195,178 L1270,175 L1455,1185 L385,1190 Z" fill="none" stroke="#999" stroke-width="4"/>
<line x1="372.0" y1="325.0" x2="431.0" y2="242.5" stroke="#22cc22" stroke-width="19"/>
<line x1="431.0" y1="242.5" x2="490.0" y2="160.0" stroke="#e41010" stroke-width="19"/>
<line x1="372.0" y1="325.0" x2="406.0" y2="257.5" stroke="#22cc22" stroke-width="19"/>
<line x1="406.0" y1="257.5" x2="440.0" y2="190.0" stroke="#e41010" stroke-width="19"/>
<line x1="372.0" y1="325.0" x2="308.5" y2="292.5" stroke="#22cc22" stroke-width="19"/>
<line x1="308.5" y1="292.5" x2="245.0" y2="260.0" stroke="#e41010" stroke-width="19"/>
<line x1="372.0" y1="325.0" x2="281.0" y2="337.5" stroke="#22cc22" stroke-width="19"/>
<line x1="281.0" y1="337.5" x2="190.0" y2="350.0" stroke="#e41010" stroke-width="19"/>
<line x1="372.0" y1="325.0" x2="456.0" y2="372.5" stroke="#22cc22" stroke-width="19"/>
<line x1="456.0" y1="372.5" x2="540.0" y2="420.0" stroke="#e41010" stroke-width="19"/>
<line x1="372.0" y1="325.0" x2="431.0" y2="382.5" stroke="#22cc22" stroke-width="19"/>
<line x1="431.0" y1="382.5" x2="490.0" y2="440.0" stroke="#e41010" stroke-width="19"/>
<line x1="372.0" y1="325.0" x2="333.5" y2="417.5" stroke="#22cc22" stroke-width="19"/>
<line x1="333.5" y1="417.5" x2="295.0" y2="510.0" stroke="#e41010" stroke-width="19"/>
<line x1="600.0" y1="285.0" x2="640.0" y2="192.5" stroke="#111" stroke-width="19"/>
<line x1="640.0" y1="192.5" x2="680.0" y2="100.0" stroke="#e41010" stroke-width="19"/>
<line x1="600.0" y1="285.0" x2="545.0" y2="222.5" stroke="#111" stroke-width="19"/>
<line x1="545.0" y1="222.5" x2="490.0" y2="160.0" stroke="#e41010" stroke-width="19"/>
<line x1="600.0" y1="285.0" x2="520.0" y2="237.5" stroke="#111" stroke-width="19"/>
<line x1="520.0" y1="237.5" x2="440.0" y2="190.0" stroke="#e41010" stroke-width="19"/>
<line x1="600.0" y1="285.0" x2="690.0" y2="270.0" stroke="#111" stroke-width="19"/>
<line x1="690.0" y1="270.0" x2="780.0" y2="255.0" stroke="#e41010" stroke-width="19"/>
<line x1="600.0" y1="285.0" x2="665.0" y2="317.5" stroke="#111" stroke-width="19"/>
<line x1="665.0" y1="317.5" x2="730.0" y2="350.0" stroke="#e41010" stroke-width="19"/>
<line x1="600.0" y1="285.0" x2="570.0" y2="352.5" stroke="#111" stroke-width="19"/>
<line x1="570.0" y1="352.5" x2="540.0" y2="420.0" stroke="#e41010" stroke-width="19"/>
<line x1="600.0" y1="285.0" x2="545.0" y2="362.5" stroke="#111" stroke-width="19"/>
<line x1="545.0" y1="362.5" x2="490.0" y2="440.0" stroke="#e41010" stroke-width="19"/>
<line x1="905.0" y1="325.0" x2="962.5" y2="242.5" stroke="#22cc22" stroke-width="19"/>
<line x1="962.5" y1="242.5" x2="1020.0" y2="160.0" stroke="#e41010" stroke-width="19"/>
<line x1="905.0" y1="325.0" x2="937.5" y2="257.5" stroke="#22cc22" stroke-width="19"/>
<line x1="937.5" y1="257.5" x2="970.0" y2="190.0" stroke="#e41010" stroke-width="19"/>
<line x1="905.0" y1="325.0" x2="842.5" y2="290.0" stroke="#22cc22" stroke-width="19"/>
<line x1="842.5" y1="290.0" x2="780.0" y2="255.0" stroke="#e41010" stroke-width="19"/>
<line x1="905.0" y1="325.0" x2="817.5" y2="337.5" stroke="#22cc22" stroke-width="19"/>
<line x1="817.5" y1="337.5" x2="730.0" y2="350.0" stroke="#e41010" stroke-width="19"/>
<line x1="905.0" y1="325.0" x2="990.0" y2="372.5" stroke="#22cc22" stroke-width="19"/>
<line x1="990.0" y1="372.5" x2="1075.0" y2="420.0" stroke="#e41010" stroke-width="19"/>
<line x1="905.0" y1="325.0" x2="967.5" y2="385.0" stroke="#22cc22" stroke-width="19"/>
<line x1="967.5" y1="385.0" x2="1030.0" y2="445.0" stroke="#e41010" stroke-width="19"/>
<line x1="905.0" y1="325.0" x2="867.5" y2="417.5" stroke="#22cc22" stroke-width="19"/>
<line x1="867.5" y1="417.5" x2="830.0" y2="510.0" stroke="#e41010" stroke-width="19"/>
<line x1="1135.0" y1="285.0" x2="1175.0" y2="191.0" stroke="#22cc22" stroke-width="19"/>
<line x1="1175.0" y1="191.0" x2="1215.0" y2="97.0" stroke="#e41010" stroke-width="19"/>
<line x1="1135.0" y1="285.0" x2="1077.5" y2="222.5" stroke="#22cc22" stroke-width="19"/>
<line x1="1077.5" y1="222.5" x2="1020.0" y2="160.0" stroke="#e41010" stroke-width="19"/>
<line x1="1135.0" y1="285.0" x2="1052.5" y2="237.5" stroke="#22cc22" stroke-width="19"/>
<line x1="1052.5" y1="237.5" x2="970.0" y2="190.0" stroke="#e41010" stroke-width="19"/>
<line x1="1135.0" y1="285.0" x2="1227.5" y2="270.0" stroke="#22cc22" stroke-width="19"/>
<line x1="1227.5" y1="270.0" x2="1320.0" y2="255.0" stroke="#e41010" stroke-width="19"/>
<line x1="1135.0" y1="285.0" x2="1198.5" y2="317.5" stroke="#22cc22" stroke-width="19"/>
<line x1="1198.5" y1="317.5" x2="1262.0" y2="350.0" stroke="#e41010" stroke-width="19"/>
<line x1="1135.0" y1="285.0" x2="1105.0" y2="352.5" stroke="#22cc22" stroke-width="19"/>
<line x1="1105.0" y1="352.5" x2="1075.0" y2="420.0" stroke="#e41010" stroke-width="19"/>
<line x1="1135.0" y1="285.0" x2="1082.5" y2="365.0" stroke="#22cc22" stroke-width="19"/>
<line x1="1082.5" y1="365.0" x2="1030.0" y2="445.0" stroke="#e41010" stroke-width="19"/>
<line x1="420.0" y1="580.0" x2="480.0" y2="500.0" stroke="#22cc22" stroke-width="19"/>
<line x1="480.0" y1="500.0" x2="540.0" y2="420.0" stroke="#e41010" stroke-width="19"/>
<line x1="420.0" y1="580.0" x2="455.0" y2="510.0" stroke="#22cc22" stroke-width="19"/>
<line x1="455.0" y1="510.0" x2="490.0" y2="440.0" stroke="#e41010" stroke-width="19"/>
<line x1="420.0" y1="580.0" x2="357.5" y2="545.0" stroke="#22cc22" stroke-width="19"/>
<line x1="357.5" y1="545.0" x2="295.0" y2="510.0" stroke="#e41010" stroke-width="19"/>
<line x1="420.0" y1="580.0" x2="330.0" y2="592.5" stroke="#22cc22" stroke-width="19"/>
<line x1="330.0" y1="592.5" x2="240.0" y2="605.0" stroke="#e41010" stroke-width="19"/>
<line x1="420.0" y1="580.0" x2="500.0" y2="622.5" stroke="#22cc22" stroke-width="19"/>
<line x1="500.0" y1="622.5" x2="580.0" y2="665.0" stroke="#e41010" stroke-width="19"/>
<line x1="420.0" y1="580.0" x2="475.0" y2="635.0" stroke="#22cc22" stroke-width="19"/>
<line x1="475.0" y1="635.0" x2="530.0" y2="690.0" stroke="#e41010" stroke-width="19"/>
<line x1="420.0" y1="580.0" x2="382.5" y2="672.5" stroke="#22cc22" stroke-width="19"/>
<line x1="382.5" y1="672.5" x2="345.0" y2="765.0" stroke="#e41010" stroke-width="19"/>
<line x1="650.0" y1="540.0" x2="690.0" y2="445.0" stroke="#111" stroke-width="19"/>
<line x1="690.0" y1="445.0" x2="730.0" y2="350.0" stroke="#e41010" stroke-width="19"/>
<line x1="650.0" y1="540.0" x2="595.0" y2="480.0" stroke="#111" stroke-width="19"/>
<line x1="595.0" y1="480.0" x2="540.0" y2="420.0" stroke="#e41010" stroke-width="19"/>
<line x1="650.0" y1="540.0" x2="570.0" y2="490.0" stroke="#111" stroke-width="19"/>
<line x1="570.0" y1="490.0" x2="490.0" y2="440.0" stroke="#e41010" stroke-width="19"/>
<line x1="650.0" y1="540.0" x2="740.0" y2="525.0" stroke="#111" stroke-width="19"/>
<line x1="740.0" y1="525.0" x2="830.0" y2="510.0" stroke="#e41010" stroke-width="19"/>
<line x1="650.0" y1="540.0" x2="715.0" y2="572.5" stroke="#111" stroke-width="19"/>
<line x1="715.0" y1="572.5" x2="780.0" y2="605.0" stroke="#e41010" stroke-width="19"/>
<line x1="650.0" y1="540.0" x2="615.0" y2="602.5" stroke="#111" stroke-width="19"/>
<line x1="615.0" y1="602.5" x2="580.0" y2="665.0" stroke="#e41010" stroke-width="19"/>
<line x1="650.0" y1="540.0" x2="590.0" y2="615.0" stroke="#111" stroke-width="19"/>
<line x1="590.0" y1="615.0" x2="530.0" y2="690.0" stroke="#e41010" stroke-width="19"/>
<line x1="955.0" y1="575.0" x2="1015.0" y2="497.5" stroke="#22cc22" stroke-width="19"/>
<line x1="1015.0" y1="497.5" x2="1075.0" y2="420.0" stroke="#e41010" stroke-width="19"/>
<line x1="955.0" y1="575.0" x2="992.5" y2="510.0" stroke="#22cc22" stroke-width="19"/>
<line x1="992.5" y1="510.0" x2="1030.0" y2="445.0" stroke="#e41010" stroke-width="19"/>
<line x1="955.0" y1="575.0" x2="892.5" y2="542.5" stroke="#22cc22" stroke-width="19"/>
<line x1="892.5" y1="542.5" x2="830.0" y2="510.0" stroke="#e41010" stroke-width="19"/>
<line x1="955.0" y1="575.0" x2="867.5" y2="590.0" stroke="#22cc22" stroke-width="19"/>
<line x1="867.5" y1="590.0" x2="780.0" y2="605.0" stroke="#e41010" stroke-width="19"/>
<line x1="955.0" y1="575.0" x2="1037.5" y2="620.0" stroke="#22cc22" stroke-width="19"/>
<line x1="1037.5" y1="620.0" x2="1120.0" y2="665.0" stroke="#e41010" stroke-width="19"/>
<line x1="955.0" y1="575.0" x2="1015.0" y2="632.5" stroke="#22cc22" stroke-width="19"/>
<line x1="1015.0" y1="632.5" x2="1075.0" y2="690.0" stroke="#e41010" stroke-width="19"/>
<line x1="955.0" y1="575.0" x2="917.5" y2="670.0" stroke="#22cc22" stroke-width="19"/>
<line x1="917.5" y1="670.0" x2="880.0" y2="765.0" stroke="#e41010" stroke-width="19"/>
<line x1="1185.0" y1="535.0" x2="1223.5" y2="442.5" stroke="#22cc22" stroke-width="19"/>
<line x1="1223.5" y1="442.5" x2="1262.0" y2="350.0" stroke="#e41010" stroke-width="19"/>
<line x1="1185.0" y1="535.0" x2="1130.0" y2="477.5" stroke="#22cc22" stroke-width="19"/>
<line x1="1130.0" y1="477.5" x2="1075.0" y2="420.0" stroke="#e41010" stroke-width="19"/>
<line x1="1185.0" y1="535.0" x2="1107.5" y2="490.0" stroke="#22cc22" stroke-width="19"/>
<line x1="1107.5" y1="490.0" x2="1030.0" y2="445.0" stroke="#e41010" stroke-width="19"/>
<line x1="1185.0" y1="535.0" x2="1275.0" y2="522.5" stroke="#22cc22" stroke-width="19"/>
<line x1="1275.0" y1="522.5" x2="1365.0" y2="510.0" stroke="#e41010" stroke-width="19"/>
<line x1="1185.0" y1="535.0" x2="1247.5" y2="570.0" stroke="#22cc22" stroke-width="19"/>
<line x1="1247.5" y1="570.0" x2="1310.0" y2="605.0" stroke="#e41010" stroke-width="19"/>
<line x1="1185.0" y1="535.0" x2="1152.5" y2="600.0" stroke="#22cc22" stroke-width="19"/>
<line x1="1152.5" y1="600.0" x2="1120.0" y2="665.0" stroke="#e41010" stroke-width="19"/>
<line x1="1185.0" y1="535.0" x2="1130.0" y2="612.5" stroke="#22cc22" stroke-width="19"/>
<line x1="1130.0" y1="612.5" x2="1075.0" y2="690.0" stroke="#e41010" stroke-width="19"/>
<line x1="470.0" y1="830.0" x2="525.0" y2="747.5" stroke="#22cc22" stroke-width="19"/>
<line x1="525.0" y1="747.5" x2="580.0" y2="665.0" stroke="#e41010" stroke-width="19"/>
<line x1="470.0" y1="830.0" x2="500.0" y2="760.0" stroke="#22cc22" stroke-width="19"/>
<line x1="500.0" y1="760.0" x2="530.0" y2="690.0" stroke="#e41010" stroke-width="19"/>
<line x1="470.0" y1="830.0" x2="407.5" y2="797.5" stroke="#22cc22" stroke-width="19"/>
<line x1="407.5" y1="797.5" x2="345.0" y2="765.0" stroke="#e41010" stroke-width="19"/>
<line x1="470.0" y1="830.0" x2="377.5" y2="842.5" stroke="#22cc22" stroke-width="19"/>
<line x1="377.5" y1="842.5" x2="285.0" y2="855.0" stroke="#e41010" stroke-width="19"/>
<line x1="470.0" y1="830.0" x2="550.0" y2="877.5" stroke="#22cc22" stroke-width="19"/>
<line x1="550.0" y1="877.5" x2="630.0" y2="925.0" stroke="#e41010" stroke-width="19"/>
<line x1="470.0" y1="830.0" x2="525.0" y2="890.0" stroke="#22cc22" stroke-width="19"/>
<line x1="525.0" y1="890.0" x2="580.0" y2="950.0" stroke="#e41010" stroke-width="19"/>
<line x1="470.0" y1="830.0" x2="430.0" y2="922.5" stroke="#22cc22" stroke-width="19"/>
<line x1="430.0" y1="922.5" x2="390.0" y2="1015.0" stroke="#e41010" stroke-width="19"/>
<line x1="705.0" y1="765.0" x2="742.5" y2="685.0" stroke="#111" stroke-width="19"/>
<line x1="742.5" y1="685.0" x2="780.0" y2="605.0" stroke="#e41010" stroke-width="19"/>
<line x1="705.0" y1="765.0" x2="642.5" y2="715.0" stroke="#111" stroke-width="19"/>
<line x1="642.5" y1="715.0" x2="580.0" y2="665.0" stroke="#e41010" stroke-width="19"/>
<line x1="705.0" y1="765.0" x2="617.5" y2="727.5" stroke="#111" stroke-width="19"/>
<line x1="617.5" y1="727.5" x2="530.0" y2="690.0" stroke="#e41010" stroke-width="19"/>
<line x1="705.0" y1="765.0" x2="792.5" y2="765.0" stroke="#111" stroke-width="19"/>
<line x1="792.5" y1="765.0" x2="880.0" y2="765.0" stroke="#e41010" stroke-width="19"/>
<line x1="705.0" y1="765.0" x2="762.5" y2="810.0" stroke="#111" stroke-width="19"/>
<line x1="762.5" y1="810.0" x2="820.0" y2="855.0" stroke="#e41010" stroke-width="19"/>
<line x1="705.0" y1="765.0" x2="667.5" y2="845.0" stroke="#111" stroke-width="19"/>
<line x1="667.5" y1="845.0" x2="630.0" y2="925.0" stroke="#e41010" stroke-width="19"/>
<line x1="1000.0" y1="825.0" x2="1060.0" y2="745.0" stroke="#22cc22" stroke-width="19"/>
<line x1="1060.0" y1="745.0" x2="1120.0" y2="665.0" stroke="#e41010" stroke-width="19"/>
<line x1="1000.0" y1="825.0" x2="1037.5" y2="757.5" stroke="#22cc22" stroke-width="19"/>
<line x1="1037.5" y1="757.5" x2="1075.0" y2="690.0" stroke="#e41010" stroke-width="19"/>
<line x1="1000.0" y1="825.0" x2="940.0" y2="795.0" stroke="#22cc22" stroke-width="19"/>
<line x1="940.0" y1="795.0" x2="880.0" y2="765.0" stroke="#e41010" stroke-width="19"/>
<line x1="1000.0" y1="825.0" x2="910.0" y2="840.0" stroke="#22cc22" stroke-width="19"/>
<line x1="910.0" y1="840.0" x2="820.0" y2="855.0" stroke="#e41010" stroke-width="19"/>
<line x1="1000.0" y1="825.0" x2="1080.0" y2="875.0" stroke="#22cc22" stroke-width="19"/>
<line x1="1080.0" y1="875.0" x2="1160.0" y2="925.0" stroke="#e41010" stroke-width="19"/>
<line x1="1000.0" y1="825.0" x2="1060.0" y2="887.5" stroke="#22cc22" stroke-width="19"/>
<line x1="1060.0" y1="887.5" x2="1120.0" y2="950.0" stroke="#e41010" stroke-width="19"/>
<line x1="1000.0" y1="825.0" x2="962.5" y2="917.5" stroke="#22cc22" stroke-width="19"/>
<line x1="962.5" y1="917.5" x2="925.0" y2="1010.0" stroke="#e41010" stroke-width="19"/>
<line x1="1235.0" y1="790.0" x2="1272.5" y2="697.5" stroke="#22cc22" stroke-width="19"/>
<line x1="1272.5" y1="697.5" x2="1310.0" y2="605.0" stroke="#e41010" stroke-width="19"/>
<line x1="1235.0" y1="790.0" x2="1177.5" y2="727.5" stroke="#22cc22" stroke-width="19"/>
<line x1="1177.5" y1="727.5" x2="1120.0" y2="665.0" stroke="#e41010" stroke-width="19"/>
<line x1="1235.0" y1="790.0" x2="1155.0" y2="740.0" stroke="#22cc22" stroke-width="19"/>
<line x1="1155.0" y1="740.0" x2="1075.0" y2="690.0" stroke="#e41010" stroke-width="19"/>
<line x1="1235.0" y1="790.0" x2="1322.5" y2="775.0" stroke="#22cc22" stroke-width="19"/>
<line x1="1322.5" y1="775.0" x2="1410.0" y2="760.0" stroke="#e41010" stroke-width="19"/>
<line x1="1235.0" y1="790.0" x2="1295.0" y2="822.5" stroke="#22cc22" stroke-width="19"/>
<line x1="1295.0" y1="822.5" x2="1355.0" y2="855.0" stroke="#e41010" stroke-width="19"/>
<line x1="1235.0" y1="790.0" x2="1197.5" y2="857.5" stroke="#22cc22" stroke-width="19"/>
<line x1="1197.5" y1="857.5" x2="1160.0" y2="925.0" stroke="#e41010" stroke-width="19"/>
<line x1="1235.0" y1="790.0" x2="1177.5" y2="870.0" stroke="#22cc22" stroke-width="19"/>
<line x1="1177.5" y1="870.0" x2="1120.0" y2="950.0" stroke="#e41010" stroke-width="19"/>
<line x1="515.0" y1="1080.0" x2="572.5" y2="1002.5" stroke="#22cc22" stroke-width="19"/>
<line x1="572.5" y1="1002.5" x2="630.0" y2="925.0" stroke="#e41010" stroke-width="19"/>
<line x1="515.0" y1="1080.0" x2="547.5" y2="1015.0" stroke="#22cc22" stroke-width="19"/>
<line x1="547.5" y1="1015.0" x2="580.0" y2="950.0" stroke="#e41010" stroke-width="19"/>
<line x1="515.0" y1="1080.0" x2="452.5" y2="1047.5" stroke="#22cc22" stroke-width="19"/>
<line x1="452.5" y1="1047.5" x2="390.0" y2="1015.0" stroke="#e41010" stroke-width="19"/>
<line x1="515.0" y1="1080.0" x2="422.5" y2="1095.0" stroke="#22cc22" stroke-width="19"/>
<line x1="422.5" y1="1095.0" x2="330.0" y2="1110.0" stroke="#e41010" stroke-width="19"/>
<line x1="515.0" y1="1080.0" x2="597.5" y2="1130.0" stroke="#22cc22" stroke-width="19"/>
<line x1="597.5" y1="1130.0" x2="680.0" y2="1180.0" stroke="#e41010" stroke-width="19"/>
<line x1="515.0" y1="1080.0" x2="572.5" y2="1140.0" stroke="#22cc22" stroke-width="19"/>
<line x1="572.5" y1="1140.0" x2="630.0" y2="1200.0" stroke="#e41010" stroke-width="19"/>
<line x1="515.0" y1="1080.0" x2="477.5" y2="1175.0" stroke="#22cc22" stroke-width="19"/>
<line x1="477.5" y1="1175.0" x2="440.0" y2="1270.0" stroke="#e41010" stroke-width="19"/>
<line x1="745.0" y1="1040.0" x2="782.5" y2="947.5" stroke="#111" stroke-width="19"/>
<line x1="782.5" y1="947.5" x2="820.0" y2="855.0" stroke="#e41010" stroke-width="19"/>
<line x1="745.0" y1="1040.0" x2="687.5" y2="982.5" stroke="#111" stroke-width="19"/>
<line x1="687.5" y1="982.5" x2="630.0" y2="925.0" stroke="#e41010" stroke-width="19"/>
<line x1="745.0" y1="1040.0" x2="662.5" y2="995.0" stroke="#111" stroke-width="19"/>
<line x1="662.5" y1="995.0" x2="580.0" y2="950.0" stroke="#e41010" stroke-width="19"/>
<line x1="745.0" y1="1040.0" x2="835.0" y2="1025.0" stroke="#111" stroke-width="19"/>
<line x1="835.0" y1="1025.0" x2="925.0" y2="1010.0" stroke="#e41010" stroke-width="19"/>
<line x1="745.0" y1="1040.0" x2="807.5" y2="1075.0" stroke="#111" stroke-width="19"/>
<line x1="807.5" y1="1075.0" x2="870.0" y2="1110.0" stroke="#e41010" stroke-width="19"/>
<line x1="745.0" y1="1040.0" x2="712.5" y2="1110.0" stroke="#111" stroke-width="19"/>
<line x1="712.5" y1="1110.0" x2="680.0" y2="1180.0" stroke="#e41010" stroke-width="19"/>
<line x1="745.0" y1="1040.0" x2="687.5" y2="1120.0" stroke="#111" stroke-width="19"/>
<line x1="687.5" y1="1120.0" x2="630.0" y2="1200.0" stroke="#e41010" stroke-width="19"/>
<line x1="1045.0" y1="1075.0" x2="1102.5" y2="1000.0" stroke="#22cc22" stroke-width="19"/>
<line x1="1102.5" y1="1000.0" x2="1160.0" y2="925.0" stroke="#e41010" stroke-width="19"/>
<line x1="1045.0" y1="1075.0" x2="1082.5" y2="1012.5" stroke="#22cc22" stroke-width="19"/>
<line x1="1082.5" y1="1012.5" x2="1120.0" y2="950.0" stroke="#e41010" stroke-width="19"/>
<line x1="1045.0" y1="1075.0" x2="985.0" y2="1042.5" stroke="#22cc22" stroke-width="19"/>
<line x1="985.0" y1="1042.5" x2="925.0" y2="1010.0" stroke="#e41010" stroke-width="19"/>
<line x1="1045.0" y1="1075.0" x2="957.5" y2="1092.5" stroke="#22cc22" stroke-width="19"/>
<line x1="957.5" y1="1092.5" x2="870.0" y2="1110.0" stroke="#e41010" stroke-width="19"/>
<line x1="1045.0" y1="1075.0" x2="1132.5" y2="1127.5" stroke="#22cc22" stroke-width="19"/>
<line x1="1132.5" y1="1127.5" x2="1220.0" y2="1180.0" stroke="#e41010" stroke-width="19"/>
<line x1="1045.0" y1="1075.0" x2="1102.5" y2="1137.5" stroke="#22cc22" stroke-width="19"/>
<line x1="1102.5" y1="1137.5" x2="1160.0" y2="1200.0" stroke="#e41010" stroke-width="19"/>
<line x1="1045.0" y1="1075.0" x2="1010.0" y2="1172.5" stroke="#22cc22" stroke-width="19"/>
<line x1="1010.0" y1="1172.5" x2="975.0" y2="1270.0" stroke="#e41010" stroke-width="19"/>
<line x1="1280.0" y1="1035.0" x2="1317.5" y2="945.0" stroke="#22cc22" stroke-width="19"/>
<line x1="1317.5" y1="945.0" x2="1355.0" y2="855.0" stroke="#e41010" stroke-width="19"/>
<line x1="1280.0" y1="1035.0" x2="1220.0" y2="980.0" stroke="#22cc22" stroke-width="19"/>
<line x1="1220.0" y1="980.0" x2="1160.0" y2="925.0" stroke="#e41010" stroke-width="19"/>
<line x1="1280.0" y1="1035.0" x2="1200.0" y2="992.5" stroke="#22cc22" stroke-width="19"/>
<line x1="1200.0" y1="992.5" x2="1120.0" y2="950.0" stroke="#e41010" stroke-width="19"/>
<line x1="1280.0" y1="1035.0" x2="1370.0" y2="1025.0" stroke="#22cc22" stroke-width="19"/>
<line x1="1370.0" y1="1025.0" x2="1460.0" y2="1015.0" stroke="#e41010" stroke-width="19"/>
<line x1="1280.0" y1="1035.0" x2="1340.0" y2="1070.0" stroke="#22cc22" stroke-width="19"/>
<line x1="1340.0" y1="1070.0" x2="1400.0" y2="1105.0" stroke="#e41010" stroke-width="19"/>
<line x1="1280.0" y1="1035.0" x2="1250.0" y2="1107.5" stroke="#22cc22" stroke-width="19"/>
<line x1="1250.0" y1="1107.5" x2="1220.0" y2="1180.0" stroke="#e41010" stroke-width="19"/>
<line x1="1280.0" y1="1035.0" x2="1220.0" y2="1117.5" stroke="#22cc22" stroke-width="19"/>
<line x1="1220.0" y1="1117.5" x2="1160.0" y2="1200.0" stroke="#e41010" stroke-width="19"/>
<circle cx="680.0" cy="100.0" r="22" fill="#e80c0c"/>
<circle cx="1215.0" cy="97.0" r="22" fill="#e80c0c"/>
<circle cx="490.0" cy="160.0" r="22" fill="#e80c0c"/>
<circle cx="440.0" cy="190.0" r="22" fill="#e80c0c"/>
<circle cx="1020.0" cy="160.0" r="22" fill="#e80c0c"/>
<circle cx="970.0" cy="190.0" r="22" fill="#e80c0c"/>
<circle cx="245.0" cy="260.0" r="22" fill="#e80c0c"/>
<circle cx="1320.0" cy="255.0" r="22" fill="#e80c0c"/>
<circle cx="190.0" cy="350.0" r="22" fill="#e80c0c"/>
<circle cx="780.0" cy="255.0" r="22" fill="#e80c0c"/>
<circle cx="730.0" cy="350.0" r="22" fill="#e80c0c"/>
<circle cx="1262.0" cy="350.0" r="22" fill="#e80c0c"/>
<circle cx="540.0" cy="420.0" r="22" fill="#e80c0c"/>
<circle cx="490.0" cy="440.0" r="22" fill="#e80c0c"/>
<circle cx="1075.0" cy="420.0" r="22" fill="#e80c0c"/>
<circle cx="1030.0" cy="445.0" r="22" fill="#e80c0c"/>
<circle cx="295.0" cy="510.0" r="22" fill="#e80c0c"/>
<circle cx="830.0" cy="510.0" r="22" fill="#e80c0c"/>
<circle cx="1365.0" cy="510.0" r="22" fill="#e80c0c"/>
<circle cx="240.0" cy="605.0" r="22" fill="#e80c0c"/>
<circle cx="780.0" cy="605.0" r="22" fill="#e80c0c"/>
<circle cx="1310.0" cy="605.0" r="22" fill="#e80c0c"/>
<circle cx="580.0" cy="665.0" r="22" fill="#e80c0c"/>
<circle cx="530.0" cy="690.0" r="22" fill="#e80c0c"/>
<circle cx="1120.0" cy="665.0" r="22" fill="#e80c0c"/>
<circle cx="1075.0" cy="690.0" r="22" fill="#e80c0c"/>
<circle cx="345.0" cy="765.0" r="22" fill="#e80c0c"/>
<circle cx="880.0" cy="765.0" r="22" fill="#e80c0c"/>
<circle cx="1410.0" cy="760.0" r="22" fill="#e80c0c"/>
<circle cx="285.0" cy="855.0" r="22" fill="#e80c0c"/>
<circle cx="820.0" cy="855.0" r="22" fill="#e80c0c"/>
<circle cx="1355.0" cy="855.0" r="22" fill="#e80c0c"/>
<circle cx="630.0" cy="925.0" r="22" fill="#e80c0c"/>
<circle cx="580.0" cy="950.0" r="22" fill="#e80c0c"/>
<circle cx="1160.0" cy="925.0" r="22" fill="#e80c0c"/>
<circle cx="1120.0" cy="950.0" r="22" fill="#e80c0c"/>
<circle cx="390.0" cy="1015.0" r="22" fill="#e80c0c"/>
<circle cx="925.0" cy="1010.0" r="22" fill="#e80c0c"/>
<circle cx="1460.0" cy="1015.0" r="22" fill="#e80c0c"/>
<circle cx="330.0" cy="1110.0" r="22" fill="#e80c0c"/>
<circle cx="870.0" cy="1110.0" r="22" fill="#e80c0c"/>
<circle cx="1400.0" cy="1105.0" r="22" fill="#e80c0c"/>
<circle cx="680.0" cy="1180.0" r="22" fill="#e80c0c"/>
<circle cx="630.0" cy="1200.0" r="22" fill="#e80c0c"/>
<circle cx="1220.0" cy="1180.0" r="22" fill="#e80c0c"/>
<circle cx="1160.0" cy="1200.0" r="22" fill="#e80c0c"/>
<circle cx="440.0" cy="1270.0" r="22" fill="#e80c0c"/>
<circle cx="975.0" cy="1270.0" r="22" fill="#e80c0c"/>
<circle cx="372.0" cy="325.0" r="60" fill="url(#gGreen)"/>
<circle cx="600.0" cy="285.0" r="60" fill="url(#gBlack)"/>
<circle cx="905.0" cy="325.0" r="60" fill="url(#gGreen)"/>
<circle cx="1135.0" cy="285.0" r="60" fill="url(#gGreen)"/>
<circle cx="420.0" cy="580.0" r="60" fill="url(#gGreen)"/>
<circle cx="650.0" cy="540.0" r="60" fill="url(#gBlack)"/>
<circle cx="955.0" cy="575.0" r="60" fill="url(#gGreen)"/>
<circle cx="1185.0" cy="535.0" r="60" fill="url(#gGreen)"/>
<circle cx="470.0" cy="830.0" r="60" fill="url(#gGreen)"/>
<circle cx="705.0" cy="765.0" r="60" fill="url(#gBlack)"/>
<circle cx="1000.0" cy="825.0" r="60" fill="url(#gGreen)"/>
<circle cx="1235.0" cy="790.0" r="60" fill="url(#gGreen)"/>
<circle cx="515.0" cy="1080.0" r="60" fill="url(#gGreen)"/>
<circle cx="745.0" cy="1040.0" r="60" fill="url(#gBlack)"/>
<circle cx="1045.0" cy="1075.0" r="60" fill="url(#gGreen)"/>
<circle cx="1280.0" cy="1035.0" r="60" fill="url(#gGreen)"/>
<circle cx="490.0" cy="190.0" r="22" fill="#e80c0c"/>
<circle cx="490.0" cy="190.0" r="55" fill="none" stroke="#e81010" stroke-width="10"/>
<circle cx="800.0" cy="245.0" r="22" fill="#e80c0c"/>
<circle cx="800.0" cy="245.0" r="55" fill="none" stroke="#e81010" stroke-width="10"/>
<circle cx="750.0" cy="355.0" r="22" fill="#e80c0c"/>
<circle cx="750.0" cy="355.0" r="55" fill="none" stroke="#e81010" stroke-width="10"/>
<circle cx="535.0" cy="435.0" r="22" fill="#e80c0c"/>
<circle cx="535.0" cy="435.0" r="55" fill="none" stroke="#e81010" stroke-width="10"/>
<circle cx="850.0" cy="510.0" r="22" fill="#e80c0c"/>
<circle cx="850.0" cy="510.0" r="55" fill="none" stroke="#e81010" stroke-width="10"/>
<circle cx="795.0" cy="610.0" r="22" fill="#e80c0c"/>
<circle cx="795.0" cy="610.0" r="55" fill="none" stroke="#e81010" stroke-width="10"/>
<circle cx="585.0" cy="690.0" r="22" fill="#e80c0c"/>
<circle cx="585.0" cy="690.0" r="55" fill="none" stroke="#e81010" stroke-width="10"/>
<circle cx="905.0" cy="760.0" r="22" fill="#e80c0c"/>
<circle cx="905.0" cy="760.0" r="55" fill="none" stroke="#e81010" stroke-width="10"/>
<circle cx="840.0" cy="860.0" r="22" fill="#e80c0c"/>
<circle cx="840.0" cy="860.0" r="55" fill="none" stroke="#e81010" stroke-width="10"/>
<circle cx="625.0" cy="945.0" r="22" fill="#e80c0c"/>
<circle cx="625.0" cy="945.0" r="55" fill="none" stroke="#e81010" stroke-width="10"/>
<circle cx="950.0" cy="1015.0" r="22" fill="#e80c0c"/>
<circle cx="950.0" cy="1015.0" r="55" fill="none" stroke="#e81010" stroke-width="10"/>
<circle cx="890.0" cy="1115.0" r="22" fill="#e80c0c"/>
<circle cx="890.0" cy="1115.0" r="55" fill="none" stroke="#e81010" stroke-width="10"/>
<circle cx="665.0" cy="1190.0" r="22" fill="#e80c0c"/>
<circle cx="665.0" cy="1190.0" r="55" fill="none" stroke="#e81010" stroke-width="10"/></g>
<g transform="translate(525,70) scale(0.23923)"><rect x="35.0" y="62.0" width="970.0" height="181.0" fill="#eaf3e1"/>
<text x="140.0" y="205.0" font-size="121" fill="#000" textLength="795" lengthAdjust="spacingAndGlyphs">Regulated CF</text>
<rect x="80.0" y="295.0" width="728.0" height="148.0" fill="#1f95d4"/>
<rect x="80.0" y="443.0" width="728.0" height="522.0" fill="#fdf2d1"/>
<rect x="80.0" y="965.0" width="728.0" height="140.0" fill="#1f95d4"/>
<text x="463.0" y="405.0" font-size="104" fill="#fff" text-anchor="middle" textLength="490" lengthAdjust="spacingAndGlyphs">Electrode</text>
<text x="463.0" y="1072.0" font-size="104" fill="#fff" text-anchor="middle" textLength="490" lengthAdjust="spacingAndGlyphs">Electrode</text>
<circle cx="205.0" cy="490.0" r="30" fill="#000"/>
<circle cx="130.0" cy="620.0" r="30" fill="#000"/>
<circle cx="248.0" cy="638.0" r="30" fill="#000"/>
<circle cx="213.0" cy="787.0" r="30" fill="#000"/>
<circle cx="148.0" cy="918.0" r="30" fill="#000"/>
<circle cx="418.0" cy="480.0" r="30" fill="#000"/>
<circle cx="440.0" cy="550.0" r="30" fill="#000"/>
<circle cx="415.0" cy="630.0" r="30" fill="#000"/>
<circle cx="432.0" cy="722.0" r="30" fill="#000"/>
<circle cx="490.0" cy="805.0" r="30" fill="#000"/>
<circle cx="478.0" cy="888.0" r="30" fill="#000"/>
<circle cx="650.0" cy="485.0" r="30" fill="#000"/>
<circle cx="745.0" cy="485.0" r="30" fill="#000"/>
<circle cx="675.0" cy="650.0" r="30" fill="#000"/>
<circle cx="660.0" cy="815.0" r="30" fill="#000"/>
<circle cx="775.0" cy="810.0" r="30" fill="#000"/>
<circle cx="678.0" cy="912.0" r="30" fill="#000"/>
<circle cx="140.0" cy="540.0" r="21" fill="none" stroke="#e23a3a" stroke-width="4"/>
<circle cx="230.0" cy="563.0" r="21" fill="none" stroke="#e23a3a" stroke-width="4"/>
<circle cx="195.0" cy="677.0" r="21" fill="none" stroke="#e23a3a" stroke-width="4"/>
<circle cx="140.0" cy="730.0" r="21" fill="none" stroke="#e23a3a" stroke-width="4"/>
<circle cx="130.0" cy="815.0" r="21" fill="none" stroke="#e23a3a" stroke-width="4"/>
<circle cx="245.0" cy="900.0" r="21" fill="none" stroke="#e23a3a" stroke-width="4"/>
<circle cx="660.0" cy="730.0" r="21" fill="none" stroke="#e23a3a" stroke-width="4"/>
<circle cx="742.0" cy="713.0" r="21" fill="none" stroke="#e23a3a" stroke-width="4"/>
<circle cx="750.0" cy="888.0" r="21" fill="none" stroke="#e23a3a" stroke-width="4"/>
<circle cx="688.0" cy="568.0" r="21" fill="none" stroke="#e23a3a" stroke-width="4"/>
<circle cx="760.0" cy="620.0" r="21" fill="none" stroke="#e23a3a" stroke-width="4"/>
<circle cx="369.9" cy="462.7" r="21" fill="none" stroke="#e23a3a" stroke-width="4"/>
<circle cx="417.4" cy="463.7" r="21" fill="none" stroke="#e23a3a" stroke-width="4"/>
<circle cx="379.5" cy="489.0" r="21" fill="none" stroke="#e23a3a" stroke-width="4"/>
<circle cx="418.2" cy="501.4" r="21" fill="none" stroke="#e23a3a" stroke-width="4"/>
<circle cx="380.1" cy="525.7" r="21" fill="none" stroke="#e23a3a" stroke-width="4"/>
<circle cx="434.9" cy="529.5" r="21" fill="none" stroke="#e23a3a" stroke-width="4"/>
<circle cx="384.5" cy="564.6" r="21" fill="none" stroke="#e23a3a" stroke-width="4"/>
<circle cx="428.2" cy="559.4" r="21" fill="none" stroke="#e23a3a" stroke-width="4"/>
<circle cx="379.6" cy="605.9" r="21" fill="none" stroke="#e23a3a" stroke-width="4"/>
<circle cx="424.3" cy="603.9" r="21" fill="none" stroke="#e23a3a" stroke-width="4"/>
<circle cx="379.1" cy="623.0" r="21" fill="none" stroke="#e23a3a" stroke-width="4"/>
<circle cx="426.1" cy="631.5" r="21" fill="none" stroke="#e23a3a" stroke-width="4"/>
<circle cx="373.6" cy="652.5" r="21" fill="none" stroke="#e23a3a" stroke-width="4"/>
<circle cx="426.4" cy="659.6" r="21" fill="none" stroke="#e23a3a" stroke-width="4"/>
<circle cx="389.6" cy="703.6" r="21" fill="none" stroke="#e23a3a" stroke-width="4"/>
<circle cx="435.6" cy="704.2" r="21" fill="none" stroke="#e23a3a" stroke-width="4"/>
<circle cx="396.7" cy="739.8" r="21" fill="none" stroke="#e23a3a" stroke-width="4"/>
<circle cx="443.3" cy="742.0" r="21" fill="none" stroke="#e23a3a" stroke-width="4"/>
<circle cx="425.0" cy="761.1" r="21" fill="none" stroke="#e23a3a" stroke-width="4"/>
<circle cx="462.1" cy="763.0" r="21" fill="none" stroke="#e23a3a" stroke-width="4"/>
<circle cx="448.6" cy="799.0" r="21" fill="none" stroke="#e23a3a" stroke-width="4"/>
<circle cx="490.5" cy="796.8" r="21" fill="none" stroke="#e23a3a" stroke-width="4"/>
<circle cx="450.6" cy="833.2" r="21" fill="none" stroke="#e23a3a" stroke-width="4"/>
<circle cx="494.7" cy="836.4" r="21" fill="none" stroke="#e23a3a" stroke-width="4"/>
<circle cx="459.0" cy="876.5" r="21" fill="none" stroke="#e23a3a" stroke-width="4"/>
<circle cx="506.2" cy="876.9" r="21" fill="none" stroke="#e23a3a" stroke-width="4"/>
<circle cx="472.3" cy="915.4" r="21" fill="none" stroke="#e23a3a" stroke-width="4"/>
<circle cx="516.1" cy="902.1" r="21" fill="none" stroke="#e23a3a" stroke-width="4"/>
<circle cx="505.0" cy="945.0" r="21" fill="none" stroke="#e23a3a" stroke-width="4"/>
<rect x="505.0" y="472.0" width="500.0" height="180.0" fill="rgba(215,235,205,0.7)"/>
<text x="530.0" y="550.0" font-size="60" fill="#000" textLength="445" lengthAdjust="spacingAndGlyphs">Non-stochastic</text>
<text x="530.0" y="625.0" font-size="60" fill="#000" textLength="460" lengthAdjust="spacingAndGlyphs">formation of CF</text>
<line x1="160.0" y1="262.0" x2="317.8" y2="474.6" stroke="#f00000" stroke-width="14"/><path d="M350.0,518.0 L299.6,486.9 L334.9,460.7 Z" fill="#f00000"/>
<line x1="535.0" y1="660.0" x2="494.7" y2="703.7" stroke="#000" stroke-width="8"/><path d="M475.0,725.0 L484.3,692.8 L506.4,713.1 Z" fill="#000"/>
<path d="M398,820 L115,1290 L40,1290" fill="none" stroke="#222" stroke-width="8"/></g>
<text x="866.9" y="28.6" font-size="34" fill="#000">(b)</text>
<line x1="933.2" y1="319.2" x2="1316.2" y2="319.2" stroke="#d6d6d6" stroke-width="1.2"/>
<line x1="933.2" y1="293.2" x2="1316.2" y2="293.2" stroke="#ececec" stroke-width="1.2"/>
<line x1="933.2" y1="267.3" x2="1316.2" y2="267.3" stroke="#d6d6d6" stroke-width="1.2"/>
<line x1="933.2" y1="241.3" x2="1316.2" y2="241.3" stroke="#ececec" stroke-width="1.2"/>
<line x1="933.2" y1="215.4" x2="1316.2" y2="215.4" stroke="#d6d6d6" stroke-width="1.2"/>
<line x1="933.2" y1="189.4" x2="1316.2" y2="189.4" stroke="#ececec" stroke-width="1.2"/>
<line x1="933.2" y1="163.5" x2="1316.2" y2="163.5" stroke="#d6d6d6" stroke-width="1.2"/>
<line x1="933.2" y1="137.5" x2="1316.2" y2="137.5" stroke="#ececec" stroke-width="1.2"/>
<line x1="933.2" y1="111.6" x2="1316.2" y2="111.6" stroke="#d6d6d6" stroke-width="1.2"/>
<line x1="933.2" y1="85.7" x2="1316.2" y2="85.7" stroke="#ececec" stroke-width="1.2"/>
<line x1="952.4" y1="59.7" x2="952.4" y2="345.1" stroke="#cfcfcf" stroke-width="1.2"/>
<line x1="990.7" y1="59.7" x2="990.7" y2="345.1" stroke="#cfcfcf" stroke-width="1.2"/>
<line x1="1029.0" y1="59.7" x2="1029.0" y2="345.1" stroke="#cfcfcf" stroke-width="1.2"/>
<line x1="1067.3" y1="59.7" x2="1067.3" y2="345.1" stroke="#cfcfcf" stroke-width="1.2"/>
<line x1="1105.6" y1="59.7" x2="1105.6" y2="345.1" stroke="#cfcfcf" stroke-width="1.2"/>
<line x1="1143.9" y1="59.7" x2="1143.9" y2="345.1" stroke="#cfcfcf" stroke-width="1.2"/>
<line x1="1182.2" y1="59.7" x2="1182.2" y2="345.1" stroke="#cfcfcf" stroke-width="1.2"/>
<line x1="1220.5" y1="59.7" x2="1220.5" y2="345.1" stroke="#cfcfcf" stroke-width="1.2"/>
<line x1="1258.8" y1="59.7" x2="1258.8" y2="345.1" stroke="#cfcfcf" stroke-width="1.2"/>
<line x1="1297.1" y1="59.7" x2="1297.1" y2="345.1" stroke="#cfcfcf" stroke-width="1.2"/>
<line x1="952.4" y1="345.1" x2="952.4" y2="339.1" stroke="#000" stroke-width="2"/>
<line x1="971.5" y1="345.1" x2="971.5" y2="341.6" stroke="#000" stroke-width="1.5"/>
<line x1="990.7" y1="345.1" x2="990.7" y2="339.1" stroke="#000" stroke-width="2"/>
<line x1="1009.9" y1="345.1" x2="1009.9" y2="341.6" stroke="#000" stroke-width="1.5"/>
<line x1="1029.0" y1="345.1" x2="1029.0" y2="339.1" stroke="#000" stroke-width="2"/>
<line x1="1048.2" y1="345.1" x2="1048.2" y2="341.6" stroke="#000" stroke-width="1.5"/>
<line x1="1067.3" y1="345.1" x2="1067.3" y2="339.1" stroke="#000" stroke-width="2"/>
<line x1="1086.5" y1="345.1" x2="1086.5" y2="341.6" stroke="#000" stroke-width="1.5"/>
<line x1="1105.6" y1="345.1" x2="1105.6" y2="339.1" stroke="#000" stroke-width="2"/>
<line x1="1124.8" y1="345.1" x2="1124.8" y2="341.6" stroke="#000" stroke-width="1.5"/>
<line x1="1143.9" y1="345.1" x2="1143.9" y2="339.1" stroke="#000" stroke-width="2"/>
<line x1="1163.0" y1="345.1" x2="1163.0" y2="341.6" stroke="#000" stroke-width="1.5"/>
<line x1="1182.2" y1="345.1" x2="1182.2" y2="339.1" stroke="#000" stroke-width="2"/>
<line x1="1201.3" y1="345.1" x2="1201.3" y2="341.6" stroke="#000" stroke-width="1.5"/>
<line x1="1220.5" y1="345.1" x2="1220.5" y2="339.1" stroke="#000" stroke-width="2"/>
<line x1="1239.7" y1="345.1" x2="1239.7" y2="341.6" stroke="#000" stroke-width="1.5"/>
<line x1="1258.8" y1="345.1" x2="1258.8" y2="339.1" stroke="#000" stroke-width="2"/>
<line x1="1277.9" y1="345.1" x2="1277.9" y2="341.6" stroke="#000" stroke-width="1.5"/>
<line x1="1297.1" y1="345.1" x2="1297.1" y2="339.1" stroke="#000" stroke-width="2"/>
<line x1="1316.2" y1="345.1" x2="1316.2" y2="341.6" stroke="#000" stroke-width="1.5"/>
<line x1="933.2" y1="319.2" x2="939.2" y2="319.2" stroke="#000" stroke-width="2"/>
<line x1="933.2" y1="345.1" x2="936.8" y2="345.1" stroke="#000" stroke-width="1.5"/>
<line x1="933.2" y1="267.3" x2="939.2" y2="267.3" stroke="#000" stroke-width="2"/>
<line x1="933.2" y1="293.2" x2="936.8" y2="293.2" stroke="#000" stroke-width="1.5"/>
<line x1="933.2" y1="215.4" x2="939.2" y2="215.4" stroke="#000" stroke-width="2"/>
<line x1="933.2" y1="241.3" x2="936.8" y2="241.3" stroke="#000" stroke-width="1.5"/>
<line x1="933.2" y1="163.5" x2="939.2" y2="163.5" stroke="#000" stroke-width="2"/>
<line x1="933.2" y1="189.4" x2="936.8" y2="189.4" stroke="#000" stroke-width="1.5"/>
<line x1="933.2" y1="111.6" x2="939.2" y2="111.6" stroke="#000" stroke-width="2"/>
<line x1="933.2" y1="137.5" x2="936.8" y2="137.5" stroke="#000" stroke-width="1.5"/>
<line x1="933.2" y1="59.7" x2="939.2" y2="59.7" stroke="#000" stroke-width="2"/>
<line x1="933.2" y1="85.7" x2="936.8" y2="85.7" stroke="#000" stroke-width="1.5"/>
<rect x="950.0" y="66.0" width="132.0" height="130.0" fill="rgba(255,255,255,0.92)"/>
<path d="M956,70 L1078,70 L1082,190 L960,194 Z" fill="none" stroke="#555" stroke-width="0.8"/>
<path d="M952,78 L958,70" fill="none" stroke="#888" stroke-width="0.6"/>
<circle cx="972.2" cy="92.5" r="2.5" fill="url(#gRed)"/>
<circle cx="1014.9" cy="154.3" r="2.5" fill="url(#gRed)"/>
<circle cx="1071.8" cy="103.8" r="2.5" fill="url(#gRed)"/>
<circle cx="973.6" cy="123.1" r="5.3" fill="url(#gHf)"/>
<circle cx="1032.8" cy="92.7" r="5.3" fill="url(#gHf)"/>
<circle cx="1019.0" cy="139.9" r="2.5" fill="url(#gRed)"/>
<circle cx="1051.5" cy="132.5" r="5.3" fill="url(#gHf)"/>
<circle cx="1052.2" cy="180.6" r="2.5" fill="url(#gRed)"/>
<circle cx="966.0" cy="171.5" r="2.5" fill="url(#gRed)"/>
<circle cx="1024.6" cy="166.9" r="5.3" fill="url(#gHf)"/>
<circle cx="1008.7" cy="137.1" r="2.5" fill="url(#gRed)"/>
<circle cx="957.9" cy="176.5" r="2.5" fill="url(#gRed)"/>
<circle cx="1068.5" cy="102.8" r="2.5" fill="url(#gRed)"/>
<circle cx="976.2" cy="71.3" r="2.5" fill="url(#gRed)"/>
<circle cx="975.0" cy="125.0" r="2.5" fill="url(#gRed)"/>
<circle cx="999.4" cy="81.0" r="5.3" fill="url(#gHf)"/>
<circle cx="957.1" cy="171.2" r="2.5" fill="url(#gRed)"/>
<circle cx="1044.4" cy="147.9" r="2.5" fill="url(#gRed)"/>
<circle cx="1015.5" cy="109.6" r="5.3" fill="url(#gHf)"/>
<circle cx="1010.2" cy="146.3" r="2.5" fill="url(#gRed)"/>
<circle cx="988.1" cy="96.1" r="2.5" fill="url(#gRed)"/>
<circle cx="993.7" cy="91.4" r="5.3" fill="url(#gHf)"/>
<circle cx="958.6" cy="137.3" r="2.5" fill="url(#gRed)"/>
<circle cx="1030.6" cy="182.9" r="2.5" fill="url(#gRed)"/>
<circle cx="971.0" cy="78.2" r="5.3" fill="url(#gHf)"/>
<circle cx="979.3" cy="172.5" r="2.5" fill="url(#gRed)"/>
<circle cx="1054.7" cy="118.8" r="5.3" fill="url(#gHf)"/>
<circle cx="1076.8" cy="183.1" r="2.5" fill="url(#gRed)"/>
<circle cx="1058.1" cy="189.8" r="2.5" fill="url(#gRed)"/>
<circle cx="999.6" cy="154.7" r="5.3" fill="url(#gHf)"/>
<circle cx="1019.3" cy="105.4" r="2.5" fill="url(#gRed)"/>
<circle cx="964.7" cy="139.3" r="5.3" fill="url(#gHf)"/>
<circle cx="968.3" cy="131.7" r="2.5" fill="url(#gRed)"/>
<circle cx="1020.1" cy="171.4" r="5.3" fill="url(#gHf)"/>
<circle cx="1030.9" cy="82.8" r="2.5" fill="url(#gRed)"/>
<circle cx="970.1" cy="165.1" r="2.5" fill="url(#gRed)"/>
<circle cx="1032.3" cy="147.9" r="2.5" fill="url(#gRed)"/>
<circle cx="1029.9" cy="174.5" r="2.5" fill="url(#gRed)"/>
<circle cx="999.6" cy="129.9" r="5.3" fill="url(#gHf)"/>
<circle cx="1039.0" cy="72.2" r="2.5" fill="url(#gRed)"/>
<circle cx="993.3" cy="93.4" r="2.5" fill="url(#gRed)"/>
<circle cx="1053.3" cy="138.7" r="2.5" fill="url(#gRed)"/>
<circle cx="1011.8" cy="178.6" r="5.3" fill="url(#gHf)"/>
<circle cx="979.4" cy="158.1" r="2.5" fill="url(#gRed)"/>
<circle cx="963.3" cy="83.0" r="5.3" fill="url(#gHf)"/>
<circle cx="1055.5" cy="148.3" r="2.5" fill="url(#gRed)"/>
<circle cx="1052.8" cy="185.2" r="2.5" fill="url(#gRed)"/>
<circle cx="957.4" cy="188.3" r="2.5" fill="url(#gRed)"/>
<circle cx="1030.1" cy="179.6" r="5.3" fill="url(#gHf)"/>
<circle cx="978.9" cy="153.3" r="2.5" fill="url(#gRed)"/>
<circle cx="1060.0" cy="90.8" r="5.3" fill="url(#gHf)"/>
<circle cx="1015.1" cy="185.8" r="2.5" fill="url(#gRed)"/>
<circle cx="988.2" cy="100.3" r="5.3" fill="url(#gHf)"/>
<circle cx="1030.0" cy="134.7" r="5.3" fill="url(#gHf)"/>
<circle cx="1047.8" cy="118.0" r="2.5" fill="url(#gRed)"/>
<circle cx="1051.0" cy="184.5" r="5.3" fill="url(#gHf)"/>
<circle cx="1059.6" cy="166.0" r="5.3" fill="url(#gHf)"/>
<circle cx="1044.1" cy="101.7" r="2.5" fill="url(#gRed)"/>
<circle cx="994.3" cy="146.8" r="5.3" fill="url(#gHf)"/>
<circle cx="1043.7" cy="172.5" r="2.5" fill="url(#gRed)"/>
<circle cx="970.6" cy="99.2" r="2.5" fill="url(#gRed)"/>
<circle cx="978.9" cy="135.4" r="2.5" fill="url(#gRed)"/>
<circle cx="1016.4" cy="143.8" r="2.5" fill="url(#gRed)"/>
<circle cx="1010.1" cy="79.1" r="2.5" fill="url(#gRed)"/>
<circle cx="1071.0" cy="130.4" r="5.3" fill="url(#gHf)"/>
<circle cx="1054.4" cy="80.5" r="5.3" fill="url(#gHf)"/>
<circle cx="958.0" cy="180.2" r="5.3" fill="url(#gHf)"/>
<circle cx="1075.2" cy="135.5" r="2.5" fill="url(#gRed)"/>
<circle cx="1005.3" cy="134.6" r="2.5" fill="url(#gRed)"/>
<circle cx="1058.5" cy="158.1" r="5.3" fill="url(#gHf)"/>
<circle cx="1043.6" cy="85.8" r="2.5" fill="url(#gRed)"/>
<circle cx="985.1" cy="165.7" r="5.3" fill="url(#gHf)"/>
<circle cx="1066.8" cy="174.4" r="2.5" fill="url(#gRed)"/>
<circle cx="967.6" cy="158.8" r="5.3" fill="url(#gHf)"/>
<circle cx="965.8" cy="77.6" r="2.5" fill="url(#gRed)"/>
<circle cx="997.2" cy="80.1" r="2.5" fill="url(#gRed)"/>
<circle cx="996.9" cy="155.1" r="2.5" fill="url(#gRed)"/>
<circle cx="959.8" cy="146.8" r="2.5" fill="url(#gRed)"/>
<circle cx="957.5" cy="168.7" r="2.5" fill="url(#gRed)"/>
<circle cx="993.9" cy="113.4" r="2.5" fill="url(#gRed)"/>
<circle cx="1039.0" cy="93.1" r="2.5" fill="url(#gRed)"/>
<circle cx="1052.1" cy="109.1" r="2.5" fill="url(#gRed)"/>
<circle cx="1068.6" cy="160.4" r="5.3" fill="url(#gHf)"/>
<circle cx="1073.4" cy="169.1" r="5.3" fill="url(#gHf)"/>
<circle cx="972.4" cy="133.0" r="2.5" fill="url(#gRed)"/>
<circle cx="1020.7" cy="154.0" r="5.3" fill="url(#gHf)"/>
<circle cx="1011.5" cy="149.5" r="2.5" fill="url(#gRed)"/>
<circle cx="1012.3" cy="135.3" r="5.3" fill="url(#gHf)"/>
<circle cx="1018.8" cy="172.9" r="2.5" fill="url(#gRed)"/>
<circle cx="962.8" cy="92.6" r="5.3" fill="url(#gHf)"/>
<circle cx="1054.5" cy="180.1" r="2.5" fill="url(#gRed)"/>
<circle cx="962.2" cy="135.7" r="2.5" fill="url(#gRed)"/>
<circle cx="1019.7" cy="173.9" r="2.5" fill="url(#gRed)"/>
<circle cx="959.0" cy="165.2" r="5.3" fill="url(#gHf)"/>
<circle cx="1070.6" cy="96.1" r="5.3" fill="url(#gHf)"/>
<circle cx="961.9" cy="167.6" r="2.5" fill="url(#gRed)"/>
<circle cx="1059.9" cy="105.5" r="5.3" fill="url(#gHf)"/>
<circle cx="1016.8" cy="121.7" r="5.3" fill="url(#gHf)"/>
<circle cx="1013.3" cy="92.7" r="5.3" fill="url(#gHf)"/>
<circle cx="1005.3" cy="186.7" r="2.5" fill="url(#gRed)"/>
<circle cx="973.1" cy="141.9" r="5.3" fill="url(#gHf)"/>
<circle cx="1015.2" cy="108.5" r="2.5" fill="url(#gRed)"/>
<circle cx="974.9" cy="174.0" r="5.3" fill="url(#gHf)"/>
<circle cx="1001.3" cy="173.1" r="2.5" fill="url(#gRed)"/>
<circle cx="1059.2" cy="156.8" r="2.5" fill="url(#gRed)"/>
<circle cx="1042.5" cy="146.5" r="5.3" fill="url(#gHf)"/>
<circle cx="1018.5" cy="145.0" r="2.5" fill="url(#gRed)"/>
<circle cx="980.9" cy="187.1" r="5.3" fill="url(#gHf)"/>
<circle cx="1009.4" cy="146.9" r="2.5" fill="url(#gRed)"/>
<circle cx="964.7" cy="97.0" r="2.5" fill="url(#gRed)"/>
<circle cx="973.8" cy="94.9" r="2.5" fill="url(#gRed)"/>
<circle cx="1066.5" cy="80.6" r="5.3" fill="url(#gHf)"/>
<circle cx="1064.1" cy="102.7" r="5.3" fill="url(#gHf)"/>
<circle cx="993.2" cy="108.4" r="2.5" fill="url(#gRed)"/>
<circle cx="979.7" cy="91.9" r="5.3" fill="url(#gHf)"/>
<circle cx="1067.5" cy="145.9" r="5.3" fill="url(#gHf)"/>
<circle cx="1004.2" cy="87.6" r="5.3" fill="url(#gHf)"/>
<circle cx="1015.6" cy="172.1" r="2.5" fill="url(#gRed)"/>
<circle cx="969.6" cy="119.1" r="2.5" fill="url(#gRed)"/>
<circle cx="1012.7" cy="85.5" r="2.5" fill="url(#gRed)"/>
<circle cx="1004.2" cy="139.9" r="5.3" fill="url(#gHf)"/>
<circle cx="1024.2" cy="154.8" r="5.3" fill="url(#gHf)"/>
<circle cx="1026.5" cy="80.7" r="5.3" fill="url(#gHf)"/>
<circle cx="970.8" cy="125.5" r="2.5" fill="url(#gRed)"/>
<circle cx="1039.5" cy="185.4" r="2.5" fill="url(#gRed)"/>
<circle cx="1059.5" cy="188.1" r="2.5" fill="url(#gRed)"/>
<circle cx="1007.8" cy="169.5" r="2.5" fill="url(#gRed)"/>
<circle cx="1060.1" cy="146.5" r="5.3" fill="url(#gHf)"/>
<circle cx="979.6" cy="133.2" r="5.3" fill="url(#gHf)"/>
<circle cx="1072.8" cy="153.5" r="2.5" fill="url(#gRed)"/>
<circle cx="962.8" cy="106.1" r="5.3" fill="url(#gHf)"/>
<circle cx="1005.9" cy="115.8" r="5.3" fill="url(#gHf)"/>
<circle cx="1051.7" cy="87.1" r="2.5" fill="url(#gRed)"/>
<circle cx="1005.3" cy="146.3" r="2.5" fill="url(#gRed)"/>
<circle cx="982.2" cy="153.8" r="2.5" fill="url(#gRed)"/>
<circle cx="992.3" cy="115.5" r="5.3" fill="url(#gHf)"/>
<circle cx="1044.7" cy="92.6" r="5.3" fill="url(#gHf)"/>
<circle cx="1045.2" cy="174.5" r="5.3" fill="url(#gHf)"/>
<circle cx="978.5" cy="134.7" r="2.5" fill="url(#gRed)"/>
<circle cx="1006.3" cy="166.4" r="2.5" fill="url(#gRed)"/>
<circle cx="962.7" cy="83.0" r="2.5" fill="url(#gRed)"/>
<circle cx="1077.8" cy="178.3" r="2.5" fill="url(#gRed)"/>
<circle cx="1018.0" cy="118.9" r="2.5" fill="url(#gRed)"/>
<circle cx="1052.1" cy="72.3" r="2.5" fill="url(#gRed)"/>
<circle cx="1013.3" cy="140.9" r="5.3" fill="url(#gHf)"/>
<circle cx="1008.2" cy="115.8" r="2.5" fill="url(#gRed)"/>
<circle cx="1025.9" cy="107.1" r="5.3" fill="url(#gHf)"/>
<circle cx="1000.8" cy="168.2" r="5.3" fill="url(#gHf)"/>
<circle cx="1067.4" cy="179.6" r="5.3" fill="url(#gHf)"/>
<circle cx="1066.2" cy="114.4" r="5.3" fill="url(#gHf)"/>
<circle cx="983.4" cy="87.2" r="2.5" fill="url(#gRed)"/>
<circle cx="956.8" cy="93.7" r="2.5" fill="url(#gRed)"/>
<circle cx="1023.4" cy="108.0" r="2.5" fill="url(#gRed)"/>
<circle cx="1037.7" cy="99.7" r="5.3" fill="url(#gHf)"/>
<circle cx="1048.0" cy="131.3" r="2.5" fill="url(#gRed)"/>
<circle cx="1065.7" cy="128.1" r="2.5" fill="url(#gRed)"/>
<circle cx="1068.4" cy="96.6" r="2.5" fill="url(#gRed)"/>
<circle cx="985.9" cy="184.1" r="5.3" fill="url(#gHf)"/>
<circle cx="959.1" cy="156.5" r="2.5" fill="url(#gRed)"/>
<circle cx="1067.0" cy="188.1" r="2.5" fill="url(#gRed)"/>
<circle cx="1017.8" cy="139.4" r="2.5" fill="url(#gRed)"/>
<circle cx="1072.0" cy="126.4" r="2.5" fill="url(#gRed)"/>
<circle cx="1027.0" cy="148.5" r="5.3" fill="url(#gHf)"/>
<circle cx="1017.3" cy="100.6" r="2.5" fill="url(#gRed)"/>
<circle cx="1044.8" cy="122.7" r="5.3" fill="url(#gHf)"/>
<circle cx="1066.8" cy="116.0" r="2.5" fill="url(#gRed)"/>
<circle cx="1012.6" cy="157.1" r="2.5" fill="url(#gRed)"/>
<circle cx="978.7" cy="128.0" r="2.5" fill="url(#gRed)"/>
<circle cx="1049.3" cy="129.5" r="2.5" fill="url(#gRed)"/>
<circle cx="1024.5" cy="177.3" r="2.5" fill="url(#gRed)"/>
<circle cx="1046.8" cy="83.6" r="5.3" fill="url(#gHf)"/>
<circle cx="1048.0" cy="152.8" r="5.3" fill="url(#gHf)"/>
<circle cx="976.0" cy="106.5" r="5.3" fill="url(#gHf)"/>
<circle cx="982.8" cy="160.4" r="2.5" fill="url(#gRed)"/>
<circle cx="958.3" cy="115.8" r="5.3" fill="url(#gHf)"/>
<circle cx="976.2" cy="103.2" r="2.5" fill="url(#gRed)"/>
<circle cx="1044.6" cy="85.0" r="2.5" fill="url(#gRed)"/>
<circle cx="1044.8" cy="186.5" r="5.3" fill="url(#gHf)"/>
<circle cx="1065.6" cy="189.6" r="2.5" fill="url(#gRed)"/>
<circle cx="1035.2" cy="168.5" r="2.5" fill="url(#gRed)"/>
<circle cx="1065.7" cy="95.4" r="2.5" fill="url(#gRed)"/>
<circle cx="1043.0" cy="96.0" r="2.5" fill="url(#gRed)"/>
<circle cx="975.4" cy="110.9" r="2.5" fill="url(#gRed)"/>
<circle cx="964.8" cy="183.8" r="2.5" fill="url(#gRed)"/>
<circle cx="1024.8" cy="107.7" r="2.5" fill="url(#gRed)"/>
<circle cx="999.6" cy="102.4" r="5.3" fill="url(#gHf)"/>
<path d="M993,81 Q1003,95 1003,100 Q1004,108 1012,117" fill="none" stroke="#1a1aa0" stroke-width="3"/>
<path d="M1008,112 L1013,119 L1005,117 Z" fill="#1a1aa0"/>
<circle cx="991.0" cy="90.0" r="3.3" fill="url(#gGreenS)"/>
<circle cx="994.0" cy="96.0" r="3.3" fill="url(#gGreenS)"/>
<circle cx="996.0" cy="103.0" r="3.3" fill="url(#gGreenS)"/>
<circle cx="999.0" cy="108.0" r="3.3" fill="url(#gGreenS)"/>
<circle cx="1002.0" cy="113.0" r="3.3" fill="url(#gGreenS)"/>
<line x1="946.0" y1="204.0" x2="946.0" y2="182.0" stroke="#22cc22" stroke-width="1.8"/><path d="M946.0,177.0 L949.0,183.0 L943.0,183.0 Z" fill="#22cc22"/>
<line x1="946.0" y1="204.0" x2="967.0" y2="204.0" stroke="#dd2222" stroke-width="1.8"/><path d="M973.0,204.0 L966.0,207.5 L966.0,200.5 Z" fill="#dd2222"/>
<circle cx="946.0" cy="204.0" r="2.5" fill="#111144"/>
<path d="M952.4,319.2 C962.6,316.2 977.9,308.1 990.7,301.0 C1003.5,293.9 1016.2,290.9 1029.0,276.6 C1041.8,262.4 1054.5,229.4 1067.3,215.4 C1080.1,201.4 1092.8,198.8 1105.6,192.6 C1118.4,186.3 1131.1,174.6 1143.9,178.0 C1156.7,181.5 1169.4,200.3 1182.2,213.3 C1195.0,226.4 1207.7,243.5 1220.5,256.4 C1233.3,269.3 1248.6,283.0 1258.8,290.7 C1269.0,298.3 1278.0,300.2 1281.8,302.1" fill="none" stroke="#8a2be2" stroke-width="2.2"/>
<line x1="952.4" y1="319.2" x2="1201.3" y2="319.2" stroke="#e81818" stroke-width="2" stroke-dasharray="6,4"/>
<line x1="1082.0" y1="178.0" x2="1207.0" y2="178.0" stroke="#e81818" stroke-width="2" stroke-dasharray="6,4"/>
<line x1="1292.0" y1="306.2" x2="1310.0" y2="306.2" stroke="#e81818" stroke-width="2" stroke-dasharray="6,4"/>
<circle cx="952.4" cy="319.2" r="5.9" fill="#1010ee"/>
<circle cx="990.7" cy="301.0" r="5.9" fill="#1010ee"/>
<circle cx="1029.0" cy="276.6" r="5.9" fill="#1010ee"/>
<circle cx="1067.3" cy="215.4" r="5.9" fill="#1010ee"/>
<circle cx="1105.6" cy="192.6" r="5.9" fill="#1010ee"/>
<circle cx="1143.9" cy="178.0" r="5.9" fill="#1010ee"/>
<circle cx="1182.2" cy="213.3" r="5.9" fill="#1010ee"/>
<circle cx="1220.5" cy="256.4" r="5.9" fill="#1010ee"/>
<circle cx="1258.8" cy="290.7" r="5.9" fill="#1010ee"/>
<circle cx="1297.1" cy="306.2" r="5.9" fill="#1010ee"/>
<line x1="1143.9" y1="252.0" x2="1143.9" y2="187.0" stroke="#ee1111" stroke-width="2"/><path d="M1143.9,179.0 L1147.9,188.0 L1139.9,188.0 Z" fill="#ee1111"/>
<line x1="1143.9" y1="284.0" x2="1143.9" y2="310.2" stroke="#ee1111" stroke-width="2"/><path d="M1143.9,318.2 L1139.9,309.2 L1147.9,309.2 Z" fill="#ee1111"/>
<line x1="1297.1" y1="322.2" x2="1297.1" y2="312.2" stroke="#ee1111" stroke-width="2.5"/><path d="M1297.1,307.2 L1300.6,313.2 L1293.6,313.2 Z" fill="#ee1111"/>
<text x="1114.7" y="277.3" font-size="21.5" fill="#000" textLength="76.5" lengthAdjust="spacingAndGlyphs">2.72 eV</text>
<text x="1209.7" y="326.7" font-size="21.5" fill="#000" textLength="75.6" lengthAdjust="spacingAndGlyphs">0.25 eV</text>
<rect x="933.2" y="59.7" width="383.0" height="285.4" fill="none" stroke="#000" stroke-width="2.5"/>
<text x="926.8" y="330.5" font-size="30" fill="#000" text-anchor="end">0</text>
<text x="926.8" y="278.6" font-size="30" fill="#000" text-anchor="end">1</text>
<text x="926.8" y="226.7" font-size="30" fill="#000" text-anchor="end">2</text>
<text x="926.8" y="174.8" font-size="30" fill="#000" text-anchor="end">3</text>
<text x="926.8" y="122.9" font-size="30" fill="#000" text-anchor="end">4</text>
<text x="926.8" y="71.0" font-size="30" fill="#000" text-anchor="end">5</text>
<text x="952.4" y="376.8" font-size="30" fill="#000" text-anchor="middle">0</text>
<text x="1029.0" y="376.8" font-size="30" fill="#000" text-anchor="middle">2</text>
<text x="1105.6" y="376.8" font-size="30" fill="#000" text-anchor="middle">4</text>
<text x="1182.2" y="376.8" font-size="30" fill="#000" text-anchor="middle">6</text>
<text x="1258.8" y="376.8" font-size="30" fill="#000" text-anchor="middle">8</text>
<text x="1045.0" y="410.8" font-size="31" fill="#000" textLength="184" lengthAdjust="spacingAndGlyphs">Step number</text>
<text x="0.0" y="0.0" font-size="31" fill="#000" text-anchor="middle" textLength="146" lengthAdjust="spacingAndGlyphs" transform="translate(896.2,206.5) rotate(-90)">Energy/eV</text>
<line x1="1429.9" y1="322.3" x2="1810.9" y2="322.3" stroke="#d6d6d6" stroke-width="1.2"/>
<line x1="1429.9" y1="296.5" x2="1810.9" y2="296.5" stroke="#ececec" stroke-width="1.2"/>
<line x1="1429.9" y1="270.7" x2="1810.9" y2="270.7" stroke="#d6d6d6" stroke-width="1.2"/>
<line x1="1429.9" y1="244.8" x2="1810.9" y2="244.8" stroke="#ececec" stroke-width="1.2"/>
<line x1="1429.9" y1="219.0" x2="1810.9" y2="219.0" stroke="#9a9a9a" stroke-width="1.2"/>
<line x1="1429.9" y1="193.2" x2="1810.9" y2="193.2" stroke="#ececec" stroke-width="1.2"/>
<line x1="1429.9" y1="167.4" x2="1810.9" y2="167.4" stroke="#9a9a9a" stroke-width="1.2"/>
<line x1="1429.9" y1="141.5" x2="1810.9" y2="141.5" stroke="#ececec" stroke-width="1.2"/>
<line x1="1429.9" y1="115.7" x2="1810.9" y2="115.7" stroke="#d6d6d6" stroke-width="1.2"/>
<line x1="1429.9" y1="89.9" x2="1810.9" y2="89.9" stroke="#ececec" stroke-width="1.2"/>
<line x1="1448.9" y1="64.1" x2="1448.9" y2="348.1" stroke="#cfcfcf" stroke-width="1.2"/>
<line x1="1487.0" y1="64.1" x2="1487.0" y2="348.1" stroke="#cfcfcf" stroke-width="1.2"/>
<line x1="1525.1" y1="64.1" x2="1525.1" y2="348.1" stroke="#cfcfcf" stroke-width="1.2"/>
<line x1="1563.2" y1="64.1" x2="1563.2" y2="348.1" stroke="#cfcfcf" stroke-width="1.2"/>
<line x1="1601.3" y1="64.1" x2="1601.3" y2="348.1" stroke="#cfcfcf" stroke-width="1.2"/>
<line x1="1639.4" y1="64.1" x2="1639.4" y2="348.1" stroke="#cfcfcf" stroke-width="1.2"/>
<line x1="1677.5" y1="64.1" x2="1677.5" y2="348.1" stroke="#cfcfcf" stroke-width="1.2"/>
<line x1="1715.6" y1="64.1" x2="1715.6" y2="348.1" stroke="#cfcfcf" stroke-width="1.2"/>
<line x1="1753.7" y1="64.1" x2="1753.7" y2="348.1" stroke="#cfcfcf" stroke-width="1.2"/>
<line x1="1791.8" y1="64.1" x2="1791.8" y2="348.1" stroke="#cfcfcf" stroke-width="1.2"/>
<line x1="1448.9" y1="348.1" x2="1448.9" y2="342.1" stroke="#000" stroke-width="2"/>
<line x1="1468.0" y1="348.1" x2="1468.0" y2="344.6" stroke="#000" stroke-width="1.5"/>
<line x1="1487.0" y1="348.1" x2="1487.0" y2="342.1" stroke="#000" stroke-width="2"/>
<line x1="1506.1" y1="348.1" x2="1506.1" y2="344.6" stroke="#000" stroke-width="1.5"/>
<line x1="1525.1" y1="348.1" x2="1525.1" y2="342.1" stroke="#000" stroke-width="2"/>
<line x1="1544.2" y1="348.1" x2="1544.2" y2="344.6" stroke="#000" stroke-width="1.5"/>
<line x1="1563.2" y1="348.1" x2="1563.2" y2="342.1" stroke="#000" stroke-width="2"/>
<line x1="1582.2" y1="348.1" x2="1582.2" y2="344.6" stroke="#000" stroke-width="1.5"/>
<line x1="1601.3" y1="348.1" x2="1601.3" y2="342.1" stroke="#000" stroke-width="2"/>
<line x1="1620.4" y1="348.1" x2="1620.4" y2="344.6" stroke="#000" stroke-width="1.5"/>
<line x1="1639.4" y1="348.1" x2="1639.4" y2="342.1" stroke="#000" stroke-width="2"/>
<line x1="1658.5" y1="348.1" x2="1658.5" y2="344.6" stroke="#000" stroke-width="1.5"/>
<line x1="1677.5" y1="348.1" x2="1677.5" y2="342.1" stroke="#000" stroke-width="2"/>
<line x1="1696.6" y1="348.1" x2="1696.6" y2="344.6" stroke="#000" stroke-width="1.5"/>
<line x1="1715.6" y1="348.1" x2="1715.6" y2="342.1" stroke="#000" stroke-width="2"/>
<line x1="1734.7" y1="348.1" x2="1734.7" y2="344.6" stroke="#000" stroke-width="1.5"/>
<line x1="1753.7" y1="348.1" x2="1753.7" y2="342.1" stroke="#000" stroke-width="2"/>
<line x1="1772.8" y1="348.1" x2="1772.8" y2="344.6" stroke="#000" stroke-width="1.5"/>
<line x1="1791.8" y1="348.1" x2="1791.8" y2="342.1" stroke="#000" stroke-width="2"/>
<line x1="1810.9" y1="348.1" x2="1810.9" y2="344.6" stroke="#000" stroke-width="1.5"/>
<line x1="1429.9" y1="322.3" x2="1435.9" y2="322.3" stroke="#000" stroke-width="2"/>
<line x1="1429.9" y1="348.1" x2="1433.4" y2="348.1" stroke="#000" stroke-width="1.5"/>
<line x1="1429.9" y1="270.7" x2="1435.9" y2="270.7" stroke="#000" stroke-width="2"/>
<line x1="1429.9" y1="296.5" x2="1433.4" y2="296.5" stroke="#000" stroke-width="1.5"/>
<line x1="1429.9" y1="219.0" x2="1435.9" y2="219.0" stroke="#000" stroke-width="2"/>
<line x1="1429.9" y1="244.8" x2="1433.4" y2="244.8" stroke="#000" stroke-width="1.5"/>
<line x1="1429.9" y1="167.4" x2="1435.9" y2="167.4" stroke="#000" stroke-width="2"/>
<line x1="1429.9" y1="193.2" x2="1433.4" y2="193.2" stroke="#000" stroke-width="1.5"/>
<line x1="1429.9" y1="115.7" x2="1435.9" y2="115.7" stroke="#000" stroke-width="2"/>
<line x1="1429.9" y1="141.5" x2="1433.4" y2="141.5" stroke="#000" stroke-width="1.5"/>
<line x1="1429.9" y1="64.1" x2="1435.9" y2="64.1" stroke="#000" stroke-width="2"/>
<line x1="1429.9" y1="89.9" x2="1433.4" y2="89.9" stroke="#000" stroke-width="1.5"/>
<rect x="1663.0" y="70.0" width="142.0" height="143.0" fill="rgba(255,255,255,0.92)"/>
<path d="M1669,74 L1801,74 L1805,207 L1673,211 Z" fill="none" stroke="#555" stroke-width="0.8"/>
<path d="M1665,82 L1671,74" fill="none" stroke="#888" stroke-width="0.6"/>
<circle cx="1733.0" cy="94.1" r="2.5" fill="url(#gRed)"/>
<circle cx="1791.0" cy="190.5" r="5.3" fill="url(#gHf)"/>
<circle cx="1712.4" cy="178.3" r="5.3" fill="url(#gHf)"/>
<circle cx="1741.9" cy="145.4" r="5.3" fill="url(#gHf)"/>
<circle cx="1710.4" cy="82.0" r="2.5" fill="url(#gRed)"/>
<circle cx="1703.2" cy="159.5" r="2.5" fill="url(#gRed)"/>
<circle cx="1773.6" cy="192.6" r="2.5" fill="url(#gRed)"/>
<circle cx="1760.5" cy="173.9" r="2.5" fill="url(#gRed)"/>
<circle cx="1686.5" cy="191.6" r="2.5" fill="url(#gRed)"/>
<circle cx="1703.8" cy="124.6" r="5.3" fill="url(#gHf)"/>
<circle cx="1770.9" cy="177.9" r="2.5" fill="url(#gRed)"/>
<circle cx="1671.9" cy="139.4" r="2.5" fill="url(#gRed)"/>
<circle cx="1751.1" cy="143.7" r="2.5" fill="url(#gRed)"/>
<circle cx="1693.0" cy="162.8" r="5.3" fill="url(#gHf)"/>
<circle cx="1710.4" cy="121.1" r="2.5" fill="url(#gRed)"/>
<circle cx="1687.6" cy="149.7" r="5.3" fill="url(#gHf)"/>
<circle cx="1674.6" cy="203.4" r="5.3" fill="url(#gHf)"/>
<circle cx="1766.2" cy="172.2" r="5.3" fill="url(#gHf)"/>
<circle cx="1668.7" cy="143.0" r="2.5" fill="url(#gRed)"/>
<circle cx="1705.8" cy="91.8" r="5.3" fill="url(#gHf)"/>
<circle cx="1710.4" cy="139.9" r="2.5" fill="url(#gRed)"/>
<circle cx="1747.5" cy="206.0" r="2.5" fill="url(#gRed)"/>
<circle cx="1793.6" cy="182.9" r="2.5" fill="url(#gRed)"/>
<circle cx="1744.9" cy="116.7" r="5.3" fill="url(#gHf)"/>
<circle cx="1758.9" cy="134.3" r="2.5" fill="url(#gRed)"/>
<circle cx="1714.2" cy="90.4" r="2.5" fill="url(#gRed)"/>
<circle cx="1680.4" cy="104.6" r="5.3" fill="url(#gHf)"/>
<circle cx="1711.8" cy="120.1" r="5.3" fill="url(#gHf)"/>
<circle cx="1787.2" cy="143.7" r="2.5" fill="url(#gRed)"/>
<circle cx="1795.1" cy="150.2" r="2.5" fill="url(#gRed)"/>
<circle cx="1747.0" cy="174.2" r="2.5" fill="url(#gRed)"/>
<circle cx="1673.7" cy="136.1" r="5.3" fill="url(#gHf)"/>
<circle cx="1771.0" cy="80.3" r="2.5" fill="url(#gRed)"/>
<circle cx="1716.3" cy="105.9" r="2.5" fill="url(#gRed)"/>
<circle cx="1687.6" cy="199.0" r="2.5" fill="url(#gRed)"/>
<circle cx="1677.8" cy="157.6" r="2.5" fill="url(#gRed)"/>
<circle cx="1687.1" cy="118.1" r="5.3" fill="url(#gHf)"/>
<circle cx="1794.5" cy="133.6" r="2.5" fill="url(#gRed)"/>
<circle cx="1711.4" cy="110.2" r="5.3" fill="url(#gHf)"/>
<circle cx="1673.4" cy="187.5" r="5.3" fill="url(#gHf)"/>
<circle cx="1779.7" cy="157.0" r="2.5" fill="url(#gRed)"/>
<circle cx="1696.8" cy="197.6" r="2.5" fill="url(#gRed)"/>
<circle cx="1781.4" cy="202.6" r="5.3" fill="url(#gHf)"/>
<circle cx="1796.3" cy="162.8" r="5.3" fill="url(#gHf)"/>
<circle cx="1732.3" cy="180.9" r="2.5" fill="url(#gRed)"/>
<circle cx="1710.7" cy="172.0" r="2.5" fill="url(#gRed)"/>
<circle cx="1713.5" cy="161.6" r="2.5" fill="url(#gRed)"/>
<circle cx="1725.7" cy="113.4" r="5.3" fill="url(#gHf)"/>
<circle cx="1752.1" cy="149.7" r="5.3" fill="url(#gHf)"/>
<circle cx="1770.8" cy="201.2" r="2.5" fill="url(#gRed)"/>
<circle cx="1675.6" cy="94.0" r="5.3" fill="url(#gHf)"/>
<circle cx="1744.1" cy="193.6" r="2.5" fill="url(#gRed)"/>
<circle cx="1766.1" cy="108.8" r="2.5" fill="url(#gRed)"/>
<circle cx="1765.5" cy="109.3" r="2.5" fill="url(#gRed)"/>
<circle cx="1676.6" cy="174.1" r="2.5" fill="url(#gRed)"/>
<circle cx="1697.7" cy="205.9" r="2.5" fill="url(#gRed)"/>
<circle cx="1714.5" cy="107.7" r="2.5" fill="url(#gRed)"/>
<circle cx="1729.1" cy="108.8" r="2.5" fill="url(#gRed)"/>
<circle cx="1726.3" cy="78.9" r="5.3" fill="url(#gHf)"/>
<circle cx="1709.7" cy="98.6" r="5.3" fill="url(#gHf)"/>
<circle cx="1670.6" cy="186.0" r="2.5" fill="url(#gRed)"/>
<circle cx="1673.5" cy="120.0" r="2.5" fill="url(#gRed)"/>
<circle cx="1681.3" cy="115.8" r="2.5" fill="url(#gRed)"/>
<circle cx="1701.7" cy="116.0" r="2.5" fill="url(#gRed)"/>
<circle cx="1706.2" cy="148.2" r="5.3" fill="url(#gHf)"/>
<circle cx="1674.8" cy="160.2" r="5.3" fill="url(#gHf)"/>
<circle cx="1788.2" cy="123.4" r="5.3" fill="url(#gHf)"/>
<circle cx="1693.9" cy="125.6" r="2.5" fill="url(#gRed)"/>
<circle cx="1718.3" cy="123.5" r="2.5" fill="url(#gRed)"/>
<circle cx="1691.1" cy="85.2" r="5.3" fill="url(#gHf)"/>
<circle cx="1714.5" cy="204.6" r="5.3" fill="url(#gHf)"/>
<circle cx="1798.7" cy="204.9" r="2.5" fill="url(#gRed)"/>
<circle cx="1787.4" cy="145.6" r="5.3" fill="url(#gHf)"/>
<circle cx="1717.5" cy="156.5" r="5.3" fill="url(#gHf)"/>
<circle cx="1776.0" cy="182.1" r="5.3" fill="url(#gHf)"/>
<circle cx="1694.2" cy="165.8" r="2.5" fill="url(#gRed)"/>
<circle cx="1687.7" cy="146.3" r="2.5" fill="url(#gRed)"/>
<circle cx="1667.0" cy="181.0" r="2.5" fill="url(#gRed)"/>
<circle cx="1723.5" cy="189.4" r="2.5" fill="url(#gRed)"/>
<circle cx="1715.3" cy="146.1" r="5.3" fill="url(#gHf)"/>
<circle cx="1707.7" cy="122.3" r="2.5" fill="url(#gRed)"/>
<circle cx="1701.6" cy="90.1" r="2.5" fill="url(#gRed)"/>
<circle cx="1759.3" cy="193.8" r="2.5" fill="url(#gRed)"/>
<circle cx="1708.8" cy="129.0" r="2.5" fill="url(#gRed)"/>
<circle cx="1790.5" cy="146.8" r="2.5" fill="url(#gRed)"/>
<circle cx="1790.6" cy="91.5" r="5.3" fill="url(#gHf)"/>
<circle cx="1747.3" cy="173.4" r="2.5" fill="url(#gRed)"/>
<circle cx="1755.0" cy="77.9" r="2.5" fill="url(#gRed)"/>
<circle cx="1768.3" cy="167.7" r="2.5" fill="url(#gRed)"/>
<circle cx="1722.6" cy="112.8" r="2.5" fill="url(#gRed)"/>
<circle cx="1696.4" cy="136.3" r="5.3" fill="url(#gHf)"/>
<circle cx="1800.9" cy="79.1" r="2.5" fill="url(#gRed)"/>
<circle cx="1727.2" cy="159.7" r="2.5" fill="url(#gRed)"/>
<circle cx="1780.3" cy="91.1" r="5.3" fill="url(#gHf)"/>
<circle cx="1740.7" cy="111.7" r="2.5" fill="url(#gRed)"/>
<circle cx="1686.2" cy="205.4" r="5.3" fill="url(#gHf)"/>
<circle cx="1777.8" cy="94.5" r="2.5" fill="url(#gRed)"/>
<circle cx="1749.0" cy="207.1" r="2.5" fill="url(#gRed)"/>
<circle cx="1696.6" cy="123.0" r="2.5" fill="url(#gRed)"/>
<circle cx="1756.1" cy="116.6" r="2.5" fill="url(#gRed)"/>
<circle cx="1798.9" cy="131.2" r="2.5" fill="url(#gRed)"/>
<circle cx="1766.5" cy="152.0" r="5.3" fill="url(#gHf)"/>
<circle cx="1775.5" cy="166.0" r="5.3" fill="url(#gHf)"/>
<circle cx="1739.3" cy="147.0" r="2.5" fill="url(#gRed)"/>
<circle cx="1676.2" cy="171.1" r="5.3" fill="url(#gHf)"/>
<circle cx="1687.5" cy="189.0" r="2.5" fill="url(#gRed)"/>
<circle cx="1743.8" cy="132.1" r="5.3" fill="url(#gHf)"/>
<circle cx="1711.2" cy="93.0" r="2.5" fill="url(#gRed)"/>
<circle cx="1693.3" cy="135.5" r="2.5" fill="url(#gRed)"/>
<circle cx="1703.1" cy="101.0" r="2.5" fill="url(#gRed)"/>
<circle cx="1762.0" cy="129.9" r="2.5" fill="url(#gRed)"/>
<circle cx="1716.4" cy="145.9" r="2.5" fill="url(#gRed)"/>
<circle cx="1732.3" cy="188.7" r="2.5" fill="url(#gRed)"/>
<circle cx="1794.8" cy="171.2" r="5.3" fill="url(#gHf)"/>
<circle cx="1796.5" cy="89.1" r="2.5" fill="url(#gRed)"/>
<circle cx="1796.6" cy="198.2" r="2.5" fill="url(#gRed)"/>
<circle cx="1787.7" cy="118.9" r="2.5" fill="url(#gRed)"/>
<circle cx="1735.1" cy="110.7" r="2.5" fill="url(#gRed)"/>
<circle cx="1750.3" cy="109.8" r="2.5" fill="url(#gRed)"/>
<circle cx="1776.1" cy="137.9" r="5.3" fill="url(#gHf)"/>
<circle cx="1743.6" cy="203.2" r="5.3" fill="url(#gHf)"/>
<circle cx="1743.7" cy="192.0" r="2.5" fill="url(#gRed)"/>
<circle cx="1729.1" cy="144.6" r="5.3" fill="url(#gHf)"/>
<circle cx="1691.4" cy="104.5" r="5.3" fill="url(#gHf)"/>
<circle cx="1674.9" cy="128.5" r="2.5" fill="url(#gRed)"/>
<circle cx="1677.9" cy="147.5" r="5.3" fill="url(#gHf)"/>
<circle cx="1727.1" cy="185.4" r="5.3" fill="url(#gHf)"/>
<circle cx="1736.1" cy="103.7" r="2.5" fill="url(#gRed)"/>
<circle cx="1712.1" cy="176.9" r="2.5" fill="url(#gRed)"/>
<circle cx="1733.6" cy="186.4" r="2.5" fill="url(#gRed)"/>
<circle cx="1799.9" cy="110.3" r="2.5" fill="url(#gRed)"/>
<circle cx="1670.2" cy="142.8" r="2.5" fill="url(#gRed)"/>
<circle cx="1766.8" cy="96.9" r="5.3" fill="url(#gHf)"/>
<circle cx="1757.7" cy="157.2" r="5.3" fill="url(#gHf)"/>
<circle cx="1690.9" cy="192.2" r="5.3" fill="url(#gHf)"/>
<circle cx="1751.9" cy="178.5" r="5.3" fill="url(#gHf)"/>
<circle cx="1785.8" cy="76.1" r="2.5" fill="url(#gRed)"/>
<circle cx="1686.8" cy="130.4" r="5.3" fill="url(#gHf)"/>
<circle cx="1745.5" cy="123.9" r="2.5" fill="url(#gRed)"/>
<circle cx="1756.1" cy="94.3" r="5.3" fill="url(#gHf)"/>
<circle cx="1744.9" cy="168.1" r="2.5" fill="url(#gRed)"/>
<circle cx="1684.1" cy="126.2" r="2.5" fill="url(#gRed)"/>
<circle cx="1720.5" cy="111.6" r="2.5" fill="url(#gRed)"/>
<circle cx="1701.0" cy="171.4" r="5.3" fill="url(#gHf)"/>
<circle cx="1731.9" cy="131.5" r="5.3" fill="url(#gHf)"/>
<circle cx="1762.8" cy="198.1" r="5.3" fill="url(#gHf)"/>
<circle cx="1723.0" cy="78.7" r="2.5" fill="url(#gRed)"/>
<circle cx="1711.6" cy="124.7" r="2.5" fill="url(#gRed)"/>
<circle cx="1718.5" cy="98.2" r="2.5" fill="url(#gRed)"/>
<circle cx="1741.6" cy="97.9" r="5.3" fill="url(#gHf)"/>
<circle cx="1762.9" cy="156.6" r="2.5" fill="url(#gRed)"/>
<circle cx="1673.0" cy="196.1" r="2.5" fill="url(#gRed)"/>
<circle cx="1746.1" cy="208.9" r="2.5" fill="url(#gRed)"/>
<circle cx="1716.3" cy="186.7" r="5.3" fill="url(#gHf)"/>
<circle cx="1755.7" cy="138.2" r="5.3" fill="url(#gHf)"/>
<circle cx="1727.2" cy="97.2" r="5.3" fill="url(#gHf)"/>
<circle cx="1777.5" cy="79.3" r="2.5" fill="url(#gRed)"/>
<circle cx="1726.9" cy="118.9" r="5.3" fill="url(#gHf)"/>
<circle cx="1671.8" cy="131.3" r="2.5" fill="url(#gRed)"/>
<circle cx="1763.8" cy="124.1" r="5.3" fill="url(#gHf)"/>
<circle cx="1674.4" cy="163.7" r="2.5" fill="url(#gRed)"/>
<circle cx="1670.5" cy="199.8" r="2.5" fill="url(#gRed)"/>
<circle cx="1794.9" cy="111.2" r="5.3" fill="url(#gHf)"/>
<circle cx="1768.8" cy="158.5" r="5.3" fill="url(#gHf)"/>
<circle cx="1669.2" cy="85.7" r="2.5" fill="url(#gRed)"/>
<circle cx="1686.2" cy="91.7" r="2.5" fill="url(#gRed)"/>
<circle cx="1768.9" cy="147.1" r="2.5" fill="url(#gRed)"/>
<circle cx="1777.6" cy="144.4" r="5.3" fill="url(#gHf)"/>
<circle cx="1768.3" cy="191.5" r="5.3" fill="url(#gHf)"/>
<circle cx="1795.5" cy="83.7" r="5.3" fill="url(#gHf)"/>
<circle cx="1755.8" cy="136.8" r="2.5" fill="url(#gRed)"/>
<circle cx="1790.7" cy="198.2" r="5.3" fill="url(#gHf)"/>
<circle cx="1731.2" cy="165.4" r="2.5" fill="url(#gRed)"/>
<circle cx="1763.5" cy="79.5" r="5.3" fill="url(#gHf)"/>
<circle cx="1742.8" cy="85.1" r="2.5" fill="url(#gRed)"/>
<circle cx="1750.3" cy="163.4" r="2.5" fill="url(#gRed)"/>
<circle cx="1668.2" cy="156.6" r="2.5" fill="url(#gRed)"/>
<circle cx="1739.6" cy="147.0" r="2.5" fill="url(#gRed)"/>
<circle cx="1736.1" cy="184.8" r="5.3" fill="url(#gHf)"/>
<circle cx="1710.4" cy="122.1" r="2.5" fill="url(#gRed)"/>
<circle cx="1785.0" cy="82.7" r="2.5" fill="url(#gRed)"/>
<circle cx="1749.6" cy="80.2" r="5.3" fill="url(#gHf)"/>
<circle cx="1724.8" cy="118.3" r="2.5" fill="url(#gRed)"/>
<circle cx="1777.8" cy="150.6" r="2.5" fill="url(#gRed)"/>
<circle cx="1701.0" cy="204.4" r="2.5" fill="url(#gRed)"/>
<circle cx="1699.4" cy="103.1" r="2.5" fill="url(#gRed)"/>
<circle cx="1722.9" cy="174.8" r="5.3" fill="url(#gHf)"/>
<circle cx="1767.7" cy="149.8" r="2.5" fill="url(#gRed)"/>
<circle cx="1783.1" cy="111.1" r="2.5" fill="url(#gRed)"/>
<circle cx="1750.1" cy="182.3" r="5.3" fill="url(#gHf)"/>
<circle cx="1712.5" cy="207.3" r="2.5" fill="url(#gRed)"/>
<circle cx="1791.6" cy="155.9" r="2.5" fill="url(#gRed)"/>
<circle cx="1734.2" cy="112.3" r="2.5" fill="url(#gRed)"/>
<circle cx="1766.7" cy="175.5" r="2.5" fill="url(#gRed)"/>
<circle cx="1701.5" cy="196.5" r="5.3" fill="url(#gHf)"/>
<circle cx="1698.7" cy="134.3" r="2.5" fill="url(#gRed)"/>
<circle cx="1692.4" cy="176.3" r="5.3" fill="url(#gHf)"/>
<circle cx="1761.7" cy="196.8" r="2.5" fill="url(#gRed)"/>
<circle cx="1781.6" cy="84.0" r="5.3" fill="url(#gHf)"/>
<circle cx="1697.1" cy="100.8" r="2.5" fill="url(#gRed)"/>
<circle cx="1671.3" cy="167.1" r="2.5" fill="url(#gRed)"/>
<circle cx="1755.9" cy="106.5" r="5.3" fill="url(#gHf)"/>
<circle cx="1695.2" cy="82.0" r="2.5" fill="url(#gRed)"/>
<circle cx="1738.6" cy="78.5" r="5.3" fill="url(#gHf)"/>
<circle cx="1759.2" cy="76.8" r="2.5" fill="url(#gRed)"/>
<circle cx="1690.0" cy="94.6" r="5.3" fill="url(#gHf)"/>
<circle cx="1758.3" cy="203.3" r="5.3" fill="url(#gHf)"/>
<circle cx="1756.0" cy="207.7" r="2.5" fill="url(#gRed)"/>
<circle cx="1797.2" cy="150.8" r="2.5" fill="url(#gRed)"/>
<circle cx="1762.7" cy="80.4" r="2.5" fill="url(#gRed)"/>
<circle cx="1764.4" cy="138.8" r="5.3" fill="url(#gHf)"/>
<circle cx="1717.2" cy="136.2" r="5.3" fill="url(#gHf)"/>
<circle cx="1699.5" cy="171.7" r="2.5" fill="url(#gRed)"/>
<circle cx="1796.6" cy="112.4" r="2.5" fill="url(#gRed)"/>
<circle cx="1793.1" cy="112.7" r="2.5" fill="url(#gRed)"/>
<circle cx="1699.4" cy="125.7" r="2.5" fill="url(#gRed)"/>
<circle cx="1672.6" cy="120.3" r="5.3" fill="url(#gHf)"/>
<circle cx="1742.9" cy="177.0" r="5.3" fill="url(#gHf)"/>
<circle cx="1775.5" cy="123.1" r="5.3" fill="url(#gHf)"/>
<circle cx="1673.9" cy="86.2" r="5.3" fill="url(#gHf)"/>
<circle cx="1787.2" cy="99.7" r="2.5" fill="url(#gRed)"/>
<circle cx="1705.8" cy="113.6" r="5.3" fill="url(#gHf)"/>
<circle cx="1739.4" cy="159.0" r="5.3" fill="url(#gHf)"/>
<path d="M1713,88 Q1718,100 1722,108 Q1726,116 1730,124" fill="none" stroke="#1a1aa0" stroke-width="3"/>
<path d="M1726,121 L1732,128 L1731,119 Z" fill="#1a1aa0"/>
<circle cx="1708.0" cy="96.0" r="3.3" fill="url(#gGreenS)"/>
<circle cx="1711.0" cy="102.0" r="3.3" fill="url(#gGreenS)"/>
<circle cx="1713.0" cy="108.0" r="3.3" fill="url(#gGreenS)"/>
<circle cx="1714.0" cy="113.0" r="3.3" fill="url(#gGreenS)"/>
<circle cx="1716.0" cy="118.0" r="3.3" fill="url(#gGreenS)"/>
<circle cx="1736.0" cy="138.0" r="4.5" fill="url(#gAl)"/>
<line x1="1660.0" y1="219.0" x2="1660.0" y2="195.0" stroke="#22cc22" stroke-width="1.8"/><path d="M1660.0,190.0 L1663.0,196.0 L1657.0,196.0 Z" fill="#22cc22"/>
<line x1="1660.0" y1="219.0" x2="1682.0" y2="219.0" stroke="#dd2222" stroke-width="1.8"/><path d="M1688.0,219.0 L1681.0,222.5 L1681.0,215.5 Z" fill="#dd2222"/>
<circle cx="1660.0" cy="219.0" r="2.5" fill="#111144"/>
<path d="M1448.9,322.3 C1459.1,321.9 1474.3,324.0 1487.0,319.7 C1499.7,315.4 1512.4,310.0 1525.1,296.5 C1537.8,283.0 1550.5,253.3 1563.2,238.6 C1575.9,223.9 1588.6,208.6 1601.3,208.2 C1614.0,207.7 1626.7,233.9 1639.4,236.0 C1652.1,238.2 1664.8,217.2 1677.5,221.1 C1690.2,224.9 1707.0,247.8 1715.6,259.3 C1724.2,270.8 1726.7,285.1 1728.9,290.3" fill="none" stroke="#8a2be2" stroke-width="2.2"/>
<path d="M1753.7,319.7 C1765.1,332.6 1776.6,335.7 1791.8,335.7" fill="none" stroke="#8a2be2" stroke-width="2.2"/>
<line x1="1448.9" y1="322.3" x2="1807.0" y2="322.3" stroke="#e81818" stroke-width="2" stroke-dasharray="6,4"/>
<line x1="1569.5" y1="208.2" x2="1637.8" y2="208.2" stroke="#e81818" stroke-width="2" stroke-dasharray="6,4"/>
<line x1="1742.0" y1="335.7" x2="1802.0" y2="335.7" stroke="#e81818" stroke-width="2" stroke-dasharray="6,4"/>
<circle cx="1448.9" cy="322.3" r="5.9" fill="#1010ee"/>
<circle cx="1487.0" cy="319.7" r="5.9" fill="#1010ee"/>
<circle cx="1525.1" cy="296.5" r="5.9" fill="#1010ee"/>
<circle cx="1563.2" cy="238.6" r="5.9" fill="#1010ee"/>
<circle cx="1601.3" cy="208.2" r="5.9" fill="#1010ee"/>
<circle cx="1639.4" cy="236.0" r="5.9" fill="#1010ee"/>
<circle cx="1677.5" cy="221.1" r="5.9" fill="#1010ee"/>
<circle cx="1715.6" cy="259.3" r="5.9" fill="#1010ee"/>
<path d="M1747.8,319.7 A5.9,5.9 0 0 0 1759.6,319.7 Z" fill="#1010ee"/>
<circle cx="1791.8" cy="335.7" r="5.9" fill="#1010ee"/>
<line x1="1601.3" y1="268.0" x2="1601.3" y2="217.2" stroke="#ee1111" stroke-width="2"/><path d="M1601.3,209.2 L1605.3,218.2 L1597.3,218.2 Z" fill="#ee1111"/>
<line x1="1601.3" y1="300.0" x2="1601.3" y2="313.3" stroke="#ee1111" stroke-width="2"/><path d="M1601.3,321.3 L1597.3,312.3 L1605.3,312.3 Z" fill="#ee1111"/>
<line x1="1791.8" y1="332.7" x2="1791.8" y2="326.3" stroke="#ee1111" stroke-width="2.5"/><path d="M1791.8,321.3 L1795.3,327.3 L1788.3,327.3 Z" fill="#ee1111"/>
<line x1="1791.8" y1="324.3" x2="1791.8" y2="329.7" stroke="#ee1111" stroke-width="2.5"/><path d="M1791.8,334.7 L1788.3,328.7 L1795.3,328.7 Z" fill="#ee1111"/>
<text x="1598.4" y="294.2" font-size="21.5" fill="#000" textLength="76" lengthAdjust="spacingAndGlyphs">2.21 eV</text>
<text x="1723.5" y="308.3" font-size="21.5" fill="#000" textLength="75.3" lengthAdjust="spacingAndGlyphs">0.26 eV</text>
<rect x="1429.9" y="64.1" width="381.0" height="284.1" fill="none" stroke="#000" stroke-width="2.5"/>
<text x="1424.0" y="333.6" font-size="30" fill="#000" text-anchor="end">0</text>
<text x="1424.0" y="282.0" font-size="30" fill="#000" text-anchor="end">1</text>
<text x="1424.0" y="230.3" font-size="30" fill="#000" text-anchor="end">2</text>
<text x="1424.0" y="178.7" font-size="30" fill="#000" text-anchor="end">3</text>
<text x="1424.0" y="127.0" font-size="30" fill="#000" text-anchor="end">4</text>
<text x="1424.0" y="75.4" font-size="30" fill="#000" text-anchor="end">5</text>
<text x="1448.9" y="376.8" font-size="30" fill="#000" text-anchor="middle">0</text>
<text x="1525.1" y="376.8" font-size="30" fill="#000" text-anchor="middle">2</text>
<text x="1601.3" y="376.8" font-size="30" fill="#000" text-anchor="middle">4</text>
<text x="1677.5" y="376.8" font-size="30" fill="#000" text-anchor="middle">6</text>
<text x="1753.7" y="376.8" font-size="30" fill="#000" text-anchor="middle">8</text>
<text x="1542.6" y="410.5" font-size="31" fill="#000" textLength="183.5" lengthAdjust="spacingAndGlyphs">Step number</text>
<text x="0.0" y="0.0" font-size="31" fill="#000" text-anchor="middle" textLength="146" lengthAdjust="spacingAndGlyphs" transform="translate(1395.5,206.7) rotate(-90)">Energy/eV</text>
<circle cx="1347.4" cy="324.7" r="9.3" fill="url(#gHf)"/>
<text x="1364.3" y="331.5" font-size="21" fill="#000" textLength="23.3" lengthAdjust="spacingAndGlyphs">Hf</text>
<circle cx="1347.4" cy="363.2" r="4" fill="url(#gRed)"/>
<text x="1370.0" y="369.7" font-size="21" fill="#000" textLength="16" lengthAdjust="spacingAndGlyphs">O</text>
<circle cx="1347.4" cy="400.6" r="9.3" fill="url(#gAl)"/>
<text x="1365.0" y="408.0" font-size="21" fill="#000" textLength="21" lengthAdjust="spacingAndGlyphs">Al</text>
<circle cx="1347.4" cy="438.3" r="6" fill="url(#gGreenS)"/>
<text x="1366.0" y="445.6" font-size="21" fill="#000" textLength="27" lengthAdjust="spacingAndGlyphs">Vo</text>
<text x="10.0" y="514.6" font-size="34" fill="#000">(c)</text>
<text x="87.6" y="517.6" font-size="29.9" fill="#000" textLength="732" lengthAdjust="spacingAndGlyphs">Regulated conductive channels bygrain boundaries</text>
<text x="117.5" y="566.5" font-size="29" fill="#ee1c24" textLength="60" lengthAdjust="spacingAndGlyphs">HRS</text>
<text x="475.5" y="566.5" font-size="29" fill="#ee1c24" textLength="57" lengthAdjust="spacingAndGlyphs">LRS</text>
<g transform="translate(60,530) scale(0.26152)"><path d="M170.0,705.0 L720.0,600.0 L1080.0,1050.0 L535.0,1160.0 Z" fill="url(#gTiNtop)"/>
<path d="M300.0,740.0 L700.0,660.0 L1000.0,1030.0 L560.0,1120.0 Z" fill="#8fa8c2" opacity="0.55"/>
<path d="M170.0,705.0 L535.0,1160.0 L455.0,1270.0 L90.0,815.0 Z" fill="url(#gTiNleft)"/>
<path d="M535.0,1160.0 L1080.0,1050.0 L1000.0,1160.0 L455.0,1270.0 Z" fill="url(#gTiNfront)"/>
<line x1="455.0" y1="1272.0" x2="1000.0" y2="1162.0" stroke="#f2c8a0" stroke-width="5"/>
<path d="M520.0,170.0 L1075.0,55.0 L1420.0,510.0 L865.0,620.0 Z" fill="url(#gITOtop)"/>
<path d="M520.0,170.0 L865.0,620.0 L800.0,722.0 L455.0,272.0 Z" fill="url(#gITOleft)"/>
<path d="M865.0,620.0 L1420.0,510.0 L1355.0,612.0 L800.0,722.0 Z" fill="url(#gITOfront)"/>
<path d="M431.5,855.5 L432.3,845.9 L434.7,837.1 L438.4,829.0 L443.5,821.7 L450.0,815.3 L843.8,439.0 L845.4,437.8 L847.2,436.7 L849.3,435.8 L851.5,435.2 L853.9,434.7 L856.5,434.4 L859.3,434.4 L862.2,434.5 L865.1,434.9 L868.2,435.5 L871.3,436.3 L874.5,437.3 L877.7,438.4 L880.8,439.8 L883.9,441.3 L887.0,442.9 L890.0,444.8 L892.8,446.7 L895.6,448.8 L898.2,450.9 L900.6,453.2 L902.8,455.5 L904.9,457.9 L906.7,460.3 L908.3,462.7 L909.6,465.1 L910.7,467.5 L911.5,469.8 L912.0,472.1 L912.3,474.3 L912.3,476.4 L912.0,478.4 L811.7,1024.1 L809.3,1032.9 L805.6,1041.0 L800.5,1048.3 L794.0,1054.7 L786.1,1060.3 L777.1,1064.8 L766.8,1068.4 L755.5,1071.0 L743.1,1072.5 L729.9,1073.0 L715.8,1072.4 L700.9,1070.8 L685.5,1068.2 L669.6,1064.5 L653.4,1059.9 L636.9,1054.3 L620.3,1047.8 L603.7,1040.4 L587.2,1032.2 L571.0,1023.3 L555.2,1013.8 L539.9,1003.6 L525.2,992.9 L511.3,981.8 L498.2,970.3 L486.0,958.5 L474.9,946.6 L464.9,934.5 L456.1,922.5 L448.6,910.6 L442.4,898.8 L437.5,887.4 L434.1,876.3 L432.0,865.6 Z" fill="url(#gConeRed)" opacity="0.95"/>
<path d="M481.0,859.5 L481.4,852.1 L483.0,845.2 L485.8,839.0 L489.8,833.5 L884.0,420.0 L898.0,425.0 L798.6,1003.9 L797.0,1010.8 L794.2,1017.0 L790.2,1022.5 L785.0,1027.4 L778.8,1031.5 L771.5,1034.7 L763.2,1037.2 L754.0,1038.9 L743.9,1039.6 L733.0,1039.6 L721.4,1038.7 L709.2,1037.0 L696.5,1034.4 L683.3,1031.0 L669.8,1026.8 L656.1,1021.9 L642.2,1016.3 L628.4,1010.0 L614.6,1003.0 L601.0,995.5 L587.7,987.5 L574.8,979.1 L562.4,970.2 L550.6,961.0 L539.5,951.6 L529.1,942.0 L519.6,932.3 L511.0,922.5 L503.4,912.8 L496.8,903.2 L491.4,893.8 L487.0,884.7 L483.8,875.9 L481.8,867.5 Z" fill="url(#gConeDark)" stroke="#b09040" stroke-width="2.5"/>
<path d="M481.0,859.5 L481.4,852.1 L483.0,845.2 L485.8,839.0 L489.8,833.5 L884.0,420.0 L898.0,425.0 L798.6,1003.9 L797.0,1010.8 L794.2,1017.0 L790.2,1022.5 L785.0,1027.4 L778.8,1031.5 L771.5,1034.7 L763.2,1037.2 L754.0,1038.9 L743.9,1039.6 L733.0,1039.6 L721.4,1038.7 L709.2,1037.0 L696.5,1034.4 L683.3,1031.0 L669.8,1026.8 L656.1,1021.9 L642.2,1016.3 L628.4,1010.0 L614.6,1003.0 L601.0,995.5 L587.7,987.5 L574.8,979.1 L562.4,970.2 L550.6,961.0 L539.5,951.6 L529.1,942.0 L519.6,932.3 L511.0,922.5 L503.4,912.8 L496.8,903.2 L491.4,893.8 L487.0,884.7 L483.8,875.9 L481.8,867.5 Z" fill="url(#gConeSheen)"/>
<path d="M872,440 Q884,408 896,412 Q904,420 902,448 Z" fill="#7080b0"/>
<line x1="450.0" y1="270.0" x2="995.0" y2="155.0" stroke="#7fc49a" stroke-width="3"/>
<line x1="170.0" y1="705.0" x2="720.0" y2="600.0" stroke="#7fc49a" stroke-width="3"/>
<line x1="450.0" y1="270.0" x2="170.0" y2="705.0" stroke="#7fc49a" stroke-width="3"/>
<line x1="995.0" y1="155.0" x2="1360.0" y2="612.0" stroke="#7fc49a" stroke-width="3"/>
<line x1="720.0" y1="600.0" x2="1080.0" y2="1050.0" stroke="#7fc49a" stroke-width="3"/>
<line x1="995.0" y1="155.0" x2="720.0" y2="600.0" stroke="#7fc49a" stroke-width="3"/>
<line x1="1360.0" y1="612.0" x2="820.0" y2="728.0" stroke="#7fc49a" stroke-width="3"/>
<line x1="1080.0" y1="1050.0" x2="540.0" y2="1165.0" stroke="#7fc49a" stroke-width="3"/>
<line x1="1360.0" y1="612.0" x2="1080.0" y2="1050.0" stroke="#7fc49a" stroke-width="3"/>
<line x1="820.0" y1="728.0" x2="450.0" y2="270.0" stroke="#7fc49a" stroke-width="3"/>
<line x1="540.0" y1="1165.0" x2="170.0" y2="705.0" stroke="#7fc49a" stroke-width="3"/>
<line x1="820.0" y1="728.0" x2="540.0" y2="1165.0" stroke="#7fc49a" stroke-width="3"/>
<text x="575.0" y="782.0" font-size="62" fill="#f3dfa8" textLength="135" lengthAdjust="spacingAndGlyphs">SnO</text>
<text x="712.0" y="792.0" font-size="38" fill="#f3dfa8">2</text>
<text x="575.0" y="882.0" font-size="62" fill="#f3dfa8" textLength="236" lengthAdjust="spacingAndGlyphs">Crystal</text>
<text x="0.0" y="0.0" font-size="66" fill="#fff" transform="translate(478,925) rotate(47)">Bi</text>
<text x="0.0" y="0.0" font-size="115" fill="#ee1c24" textLength="175" lengthAdjust="spacingAndGlyphs" transform="translate(1020,685) rotate(-17)">ITO</text>
<text x="0.0" y="0.0" font-size="115" fill="#000" textLength="178" lengthAdjust="spacingAndGlyphs" transform="translate(712,1222) rotate(-12)">TiN</text></g>
<g transform="translate(415.5,530) scale(0.26152)"><path d="M170.0,705.0 L720.0,600.0 L1080.0,1050.0 L535.0,1160.0 Z" fill="url(#gTiNtop)"/>
<path d="M300.0,740.0 L700.0,660.0 L1000.0,1030.0 L560.0,1120.0 Z" fill="#8fa8c2" opacity="0.55"/>
<path d="M170.0,705.0 L535.0,1160.0 L455.0,1270.0 L90.0,815.0 Z" fill="url(#gTiNleft)"/>
<path d="M535.0,1160.0 L1080.0,1050.0 L1000.0,1160.0 L455.0,1270.0 Z" fill="url(#gTiNfront)"/>
<line x1="455.0" y1="1272.0" x2="1000.0" y2="1162.0" stroke="#f2c8a0" stroke-width="5"/>
<path d="M520.0,170.0 L1075.0,55.0 L1420.0,510.0 L865.0,620.0 Z" fill="url(#gITOtop)"/>
<path d="M520.0,170.0 L865.0,620.0 L800.0,722.0 L455.0,272.0 Z" fill="url(#gITOleft)"/>
<path d="M865.0,620.0 L1420.0,510.0 L1355.0,612.0 L800.0,722.0 Z" fill="url(#gITOfront)"/>
<path d="M426.9,828.5 L428.5,817.4 L431.7,807.2 L436.5,797.8 L442.8,789.4 L826.0,374.0 L829.6,370.4 L833.7,367.3 L838.3,364.6 L843.2,362.3 L848.5,360.5 L854.1,359.2 L859.9,358.4 L866.0,358.1 L872.3,358.4 L878.7,359.1 L885.2,360.3 L891.8,362.1 L898.3,364.3 L904.7,366.9 L911.1,370.0 L917.3,373.6 L923.3,377.5 L929.0,381.8 L934.4,386.4 L939.5,391.3 L944.2,396.4 L948.5,401.8 L952.4,407.4 L955.8,413.1 L958.7,418.8 L961.0,424.7 L962.8,430.5 L964.1,436.3 L964.8,442.0 L964.9,447.5 L964.5,452.9 L963.5,458.1 L851.5,1032.6 L848.3,1042.8 L843.5,1052.2 L837.2,1060.6 L829.4,1067.9 L820.1,1074.2 L809.5,1079.3 L797.6,1083.3 L784.5,1086.0 L770.2,1087.6 L755.0,1087.8 L739.0,1086.9 L722.1,1084.7 L704.7,1081.3 L686.7,1076.7 L668.4,1071.0 L649.9,1064.1 L631.3,1056.2 L612.7,1047.3 L594.4,1037.5 L576.4,1026.8 L558.9,1015.3 L542.0,1003.1 L525.9,990.4 L510.6,977.1 L496.4,963.5 L483.2,949.5 L471.2,935.4 L460.5,921.2 L451.1,907.0 L443.2,893.0 L436.8,879.2 L431.9,865.7 L428.7,852.7 L427.0,840.3 Z" fill="url(#gConeRed)"/>
<path d="M957.2,472.0 L954.0,476.0 L950.4,479.6 L946.3,482.7 L941.7,485.4 L936.8,487.7 L931.5,489.5 L925.9,490.8 L920.1,491.6 L914.0,491.9 L907.7,491.6 L901.3,490.9 L894.8,489.7 L888.2,487.9 L881.7,485.7 L875.3,483.1 L868.9,480.0 L862.7,476.4 L856.7,472.5 L851.0,468.2 L845.6,463.6 L840.5,458.7 L835.8,453.6 L831.5,448.2 L827.6,442.6 L824.2,436.9 L821.3,431.2 L819.0,425.3 L817.2,419.5 L815.9,413.7 L815.2,408.0 L815.1,402.5 L815.5,397.1 L816.5,391.9 L818.1,386.9 L820.2,382.3 L822.8,378.0 L826.0,374.0 L829.6,370.4 L833.7,367.3 L838.3,364.6 L843.2,362.3 L848.5,360.5 L854.1,359.2 L859.9,358.4 L866.0,358.1 L872.3,358.4 L878.7,359.1 L885.2,360.3 L891.8,362.1 L898.3,364.3 L904.7,366.9 L911.1,370.0 L917.3,373.6 L923.3,377.5 L929.0,381.8 L934.4,386.4 L939.5,391.3 L944.2,396.4 L948.5,401.8 L952.4,407.4 L955.8,413.1 L958.7,418.8 L961.0,424.7 L962.8,430.5 L964.1,436.3 L964.8,442.0 L964.9,447.5 L964.5,452.9 L963.5,458.1 L961.9,463.1 L959.8,467.7 Z" fill="#e8323c"/>
<path d="M501.0,852.5 L501.7,845.2 L503.6,838.4 L506.6,832.3 L510.8,826.9 L888.0,420.0 L808.3,1004.8 L806.4,1011.6 L803.4,1017.7 L799.2,1023.1 L794.0,1027.8 L787.7,1031.7 L780.3,1034.8 L772.0,1037.0 L762.9,1038.4 L752.9,1038.9 L742.1,1038.6 L730.7,1037.3 L718.7,1035.3 L706.3,1032.4 L693.4,1028.7 L680.3,1024.1 L666.9,1018.9 L653.5,1012.9 L640.1,1006.2 L626.8,999.0 L613.7,991.1 L600.9,982.8 L588.5,974.0 L576.7,964.9 L565.4,955.4 L554.8,945.8 L545.0,935.9 L536.0,926.0 L527.9,916.1 L520.8,906.2 L514.7,896.5 L509.7,887.0 L505.8,877.8 L503.0,868.9 L501.4,860.5 Z" fill="url(#gConeDark)" stroke="#b09040" stroke-width="2.5" opacity="0.97"/>
<path d="M872,436 L890,412 L902,424 L896,446 Z" fill="#6a7aa8"/>
<line x1="450.0" y1="270.0" x2="995.0" y2="155.0" stroke="#7fc49a" stroke-width="3"/>
<line x1="170.0" y1="705.0" x2="720.0" y2="600.0" stroke="#7fc49a" stroke-width="3"/>
<line x1="450.0" y1="270.0" x2="170.0" y2="705.0" stroke="#7fc49a" stroke-width="3"/>
<line x1="995.0" y1="155.0" x2="1360.0" y2="612.0" stroke="#7fc49a" stroke-width="3"/>
<line x1="720.0" y1="600.0" x2="1080.0" y2="1050.0" stroke="#7fc49a" stroke-width="3"/>
<line x1="995.0" y1="155.0" x2="720.0" y2="600.0" stroke="#7fc49a" stroke-width="3"/>
<line x1="1360.0" y1="612.0" x2="820.0" y2="728.0" stroke="#7fc49a" stroke-width="3"/>
<line x1="1080.0" y1="1050.0" x2="540.0" y2="1165.0" stroke="#7fc49a" stroke-width="3"/>
<line x1="1360.0" y1="612.0" x2="1080.0" y2="1050.0" stroke="#7fc49a" stroke-width="3"/>
<line x1="820.0" y1="728.0" x2="450.0" y2="270.0" stroke="#7fc49a" stroke-width="3"/>
<line x1="540.0" y1="1165.0" x2="170.0" y2="705.0" stroke="#7fc49a" stroke-width="3"/>
<line x1="820.0" y1="728.0" x2="540.0" y2="1165.0" stroke="#7fc49a" stroke-width="3"/>
<text x="575.0" y="782.0" font-size="62" fill="#f3dfa8" textLength="135" lengthAdjust="spacingAndGlyphs">SnO</text>
<text x="712.0" y="792.0" font-size="38" fill="#f3dfa8">2</text>
<text x="575.0" y="882.0" font-size="62" fill="#f3dfa8" textLength="236" lengthAdjust="spacingAndGlyphs">Crystal</text>
<text x="0.0" y="0.0" font-size="66" fill="#fff" transform="translate(430,775) rotate(58)">Bi</text>
<text x="0.0" y="0.0" font-size="115" fill="#ee1c24" textLength="175" lengthAdjust="spacingAndGlyphs" transform="translate(1020,685) rotate(-17)">ITO</text>
<text x="0.0" y="0.0" font-size="115" fill="#000" textLength="178" lengthAdjust="spacingAndGlyphs" transform="translate(712,1222) rotate(-12)">TiN</text></g>
<text x="866.9" y="513.7" font-size="34" fill="#000">(d)</text>
<path d="M950.8,565.2 L975.6,567.8 L978.1,566.3 L993.3,558.9 L1016.2,559.9 L1041.6,562.7 L1063.0,566.5 L1064.0,606.0 L1028.9,598.3 L1003.5,589.4 L978.1,579.2 L950.8,569.0 Z" fill="#3f4db0"/>
<line x1="996.0" y1="566.0" x2="996.5" y2="574.0" stroke="#fff" stroke-width="0.45" opacity="0.6"/>
<line x1="999.0" y1="566.1" x2="999.5" y2="575.1" stroke="#fff" stroke-width="0.45" opacity="0.6"/>
<line x1="1002.0" y1="566.2" x2="1002.5" y2="576.3" stroke="#fff" stroke-width="0.45" opacity="0.6"/>
<line x1="1005.0" y1="566.3" x2="1005.5" y2="577.4" stroke="#fff" stroke-width="0.45" opacity="0.6"/>
<line x1="1008.0" y1="566.4" x2="1008.5" y2="578.6" stroke="#fff" stroke-width="0.45" opacity="0.6"/>
<line x1="1011.0" y1="566.5" x2="1011.5" y2="579.7" stroke="#fff" stroke-width="0.45" opacity="0.6"/>
<line x1="1014.0" y1="566.5" x2="1014.5" y2="580.8" stroke="#fff" stroke-width="0.45" opacity="0.6"/>
<line x1="1017.0" y1="566.6" x2="1017.5" y2="582.0" stroke="#fff" stroke-width="0.45" opacity="0.6"/>
<line x1="1020.0" y1="566.7" x2="1020.5" y2="583.1" stroke="#fff" stroke-width="0.45" opacity="0.6"/>
<line x1="1023.0" y1="566.8" x2="1023.5" y2="584.3" stroke="#fff" stroke-width="0.45" opacity="0.6"/>
<line x1="1026.0" y1="566.9" x2="1026.5" y2="585.4" stroke="#fff" stroke-width="0.45" opacity="0.6"/>
<line x1="1029.0" y1="567.0" x2="1029.5" y2="586.5" stroke="#fff" stroke-width="0.45" opacity="0.6"/>
<line x1="1032.0" y1="567.1" x2="1032.5" y2="587.7" stroke="#fff" stroke-width="0.45" opacity="0.6"/>
<line x1="1035.0" y1="567.2" x2="1035.5" y2="588.8" stroke="#fff" stroke-width="0.45" opacity="0.6"/>
<line x1="1038.0" y1="567.3" x2="1038.5" y2="590.0" stroke="#fff" stroke-width="0.45" opacity="0.6"/>
<line x1="1041.0" y1="567.4" x2="1041.5" y2="591.1" stroke="#fff" stroke-width="0.45" opacity="0.6"/>
<line x1="1044.0" y1="567.4" x2="1044.5" y2="592.2" stroke="#fff" stroke-width="0.45" opacity="0.6"/>
<line x1="1047.0" y1="567.5" x2="1047.5" y2="593.4" stroke="#fff" stroke-width="0.45" opacity="0.6"/>
<line x1="1050.0" y1="567.6" x2="1050.5" y2="594.5" stroke="#fff" stroke-width="0.45" opacity="0.6"/>
<line x1="1053.0" y1="567.7" x2="1053.5" y2="595.7" stroke="#fff" stroke-width="0.45" opacity="0.6"/>
<line x1="1056.0" y1="567.8" x2="1056.5" y2="596.8" stroke="#fff" stroke-width="0.45" opacity="0.6"/>
<line x1="1059.0" y1="567.9" x2="1059.5" y2="597.9" stroke="#fff" stroke-width="0.45" opacity="0.6"/>
<path d="M992.9,563.5 L994.7,563.6 L997.0,563.6 L999.8,563.7 L1002.9,563.8 L1006.1,563.9 L1009.4,564.1 L1012.7,564.3 L1015.8,564.5 L1018.8,564.7 L1021.8,565.0 L1024.9,565.3 L1028.0,565.6 L1031.1,566.0 L1034.2,566.4 L1037.4,566.9 L1040.5,567.5 L1043.8,568.1 L1047.1,568.8 L1050.5,569.6 L1053.9,570.4 L1057.3,571.3 L1060.7,572.1 L1064.0,573.0 L1067.4,573.9 L1070.7,574.8 L1074.0,575.6 L1077.3,576.5 L1080.6,577.4 L1083.8,578.3 L1086.9,579.3 L1089.9,580.2 L1092.7,581.2 L1095.4,582.1 L1098.0,583.1 L1100.5,584.0 L1102.9,585.0 L1105.2,586.0 L1107.4,587.0 L1109.5,588.1 L1111.6,589.2 L1113.6,590.4 L1115.5,591.6 L1117.3,592.9 L1119.1,594.2 L1120.8,595.6 L1122.4,596.9 L1123.9,598.3 L1125.4,599.7 L1126.8,601.1 L1128.0,602.4 L1129.2,603.7 L1130.3,605.1 L1131.3,606.5 L1132.3,608.0 L1133.3,609.5 L1134.3,611.2 L1135.2,612.9 L1136.1,614.7 L1136.9,616.6 L1137.8,618.6 L1138.5,620.6 L1139.3,622.7 L1140.0,624.8 L1140.7,626.8 L1141.3,628.9 L1141.9,630.9 L1142.4,632.9 L1142.9,634.9 L1143.4,637.0 L1143.8,639.2 L1144.2,641.6 L1144.6,644.1 L1145.0,646.9 L1145.3,649.9 L1145.6,653.0 L1145.8,656.2 L1146.1,659.5 L1146.3,662.8 L1146.5,666.1 L1146.7,669.3 L1146.9,672.5 L1147.0,675.6 L1147.2,678.7 L1147.3,681.8 L1147.4,684.9 L1147.5,688.1 L1147.6,691.4 L1147.7,694.8 L1147.8,697.9 L1147.9,700.3 L1147.9,702.6 L1148.0,705.0 L1148.1,708.1 L1148.1,712.2 L1148.2,717.7 L1148.2,725.0 L1148.2,735.2 L1148.2,748.2 L1148.3,763.2 L1148.3,778.9 L1148.3,794.4 L1148.3,808.6 L1148.3,820.5 L1148.3,829.0 L1149.5,829.0 L1149.5,820.5 L1149.5,808.6 L1149.5,794.4 L1149.5,778.9 L1149.5,763.2 L1149.4,748.2 L1149.4,735.2 L1149.4,725.0 L1149.4,717.7 L1149.4,712.1 L1149.3,708.1 L1149.3,705.0 L1149.3,702.5 L1149.2,700.3 L1149.2,697.8 L1149.1,694.8 L1149.0,691.4 L1149.0,688.1 L1148.9,684.9 L1148.8,681.7 L1148.7,678.6 L1148.6,675.5 L1148.5,672.4 L1148.3,669.3 L1148.1,666.0 L1148.0,662.7 L1147.8,659.4 L1147.6,656.1 L1147.4,652.8 L1147.2,649.7 L1146.9,646.7 L1146.6,643.9 L1146.2,641.3 L1145.9,638.9 L1145.5,636.6 L1145.0,634.4 L1144.6,632.3 L1144.1,630.3 L1143.5,628.2 L1142.9,626.2 L1142.3,624.0 L1141.6,621.9 L1140.9,619.8 L1140.2,617.7 L1139.4,615.6 L1138.5,613.6 L1137.7,611.7 L1136.7,609.8 L1135.8,608.1 L1134.8,606.4 L1133.8,604.8 L1132.8,603.3 L1131.7,601.8 L1130.5,600.3 L1129.2,598.8 L1127.8,597.3 L1126.3,595.8 L1124.8,594.3 L1123.1,592.8 L1121.4,591.3 L1119.6,589.9 L1117.7,588.5 L1115.7,587.1 L1113.6,585.8 L1111.5,584.5 L1109.3,583.3 L1107.0,582.2 L1104.6,581.1 L1102.2,580.0 L1099.7,578.9 L1097.0,577.9 L1094.3,576.8 L1091.4,575.8 L1088.3,574.8 L1085.2,573.8 L1081.9,572.8 L1078.6,571.9 L1075.3,570.9 L1071.9,570.0 L1068.6,569.1 L1065.3,568.2 L1061.9,567.3 L1058.5,566.4 L1055.1,565.5 L1051.6,564.7 L1048.2,563.9 L1044.8,563.2 L1041.5,562.5 L1038.2,562.0 L1034.9,561.5 L1031.7,561.1 L1028.5,560.7 L1025.4,560.3 L1022.3,560.0 L1019.2,559.8 L1016.2,559.5 L1013.0,559.3 L1009.7,559.1 L1006.3,558.9 L1003.0,558.8 L999.9,558.7 L997.2,558.6 L994.8,558.6 L993.1,558.5 Z" fill="#3f4db0"/>
<path d="M1112.3,589.3 L1113.6,590.4 L1115.3,591.8 L1117.3,593.4 L1119.5,595.2 L1121.8,597.2 L1124.0,599.2 L1126.0,601.3 L1127.7,603.2 L1129.1,605.2 L1130.4,607.2 L1131.5,609.2 L1132.6,611.3 L1133.5,613.4 L1134.4,615.6 L1135.3,617.9 L1136.1,620.1 L1136.9,622.4 L1137.5,624.7 L1138.1,626.9 L1138.6,629.3 L1139.1,631.7 L1139.6,634.3 L1140.1,637.1 L1140.6,640.1 L1141.1,643.2 L1141.7,646.4 L1142.2,649.7 L1142.7,653.2 L1143.2,656.9 L1143.7,660.9 L1144.2,665.3 L1144.6,670.0 L1145.0,674.9 L1145.4,679.7 L1145.7,684.7 L1146.0,690.1 L1146.3,696.1 L1146.6,702.9 L1146.9,710.8 L1147.1,720.0 L1147.3,731.6 L1147.5,745.7 L1147.7,761.3 L1147.9,777.6 L1148.0,793.5 L1148.1,808.0 L1148.2,820.2 L1148.3,829.0 L1149.1,829.0 L1149.0,820.2 L1148.9,808.0 L1148.8,793.5 L1148.7,777.6 L1148.5,761.3 L1148.3,745.7 L1148.1,731.5 L1147.9,720.0 L1147.7,710.8 L1147.4,702.9 L1147.1,696.0 L1146.8,690.0 L1146.5,684.7 L1146.2,679.7 L1145.8,674.9 L1145.4,670.0 L1145.0,665.2 L1144.5,660.8 L1144.0,656.8 L1143.5,653.1 L1143.0,649.6 L1142.5,646.3 L1141.9,643.1 L1141.4,639.9 L1140.9,636.9 L1140.4,634.2 L1139.9,631.6 L1139.4,629.1 L1138.9,626.7 L1138.3,624.4 L1137.6,622.2 L1136.9,619.9 L1136.1,617.6 L1135.2,615.3 L1134.3,613.1 L1133.3,611.0 L1132.2,608.8 L1131.0,606.8 L1129.8,604.7 L1128.3,602.8 L1126.6,600.7 L1124.6,598.7 L1122.3,596.6 L1120.0,594.6 L1117.8,592.8 L1115.8,591.1 L1114.1,589.8 L1112.9,588.7 Z" fill="#3f4db0"/>
<path d="M950.3,569.0 L952.4,569.7 L955.2,570.5 L958.5,571.4 L962.2,572.4 L966.1,573.5 L970.0,574.6 L973.7,575.8 L977.1,576.9 L980.3,577.9 L983.5,579.0 L986.6,580.1 L989.7,581.2 L992.8,582.4 L995.9,583.6 L999.0,584.9 L1002.2,586.2 L1005.4,587.5 L1008.7,588.9 L1012.0,590.3 L1015.4,591.8 L1018.8,593.4 L1022.1,594.9 L1025.5,596.5 L1028.8,598.0 L1032.0,599.5 L1035.2,601.1 L1038.4,602.7 L1041.6,604.2 L1044.7,605.8 L1047.9,607.4 L1051.1,609.0 L1054.3,610.5 L1057.5,612.1 L1060.7,613.6 L1063.9,615.1 L1067.0,616.7 L1070.2,618.2 L1073.4,619.7 L1076.5,621.3 L1079.7,623.0 L1082.9,624.8 L1086.2,626.6 L1089.5,628.4 L1092.8,630.2 L1096.0,632.1 L1099.1,634.1 L1102.1,636.0 L1105.0,638.0 L1107.7,640.0 L1110.3,642.2 L1112.9,644.4 L1115.4,646.6 L1117.7,648.8 L1120.0,651.0 L1122.0,653.2 L1124.0,655.2 L1125.7,657.1 L1127.2,659.0 L1128.6,660.8 L1129.8,662.6 L1131.0,664.3 L1132.1,666.1 L1133.1,667.9 L1134.2,669.7 L1135.2,671.5 L1136.1,673.3 L1137.0,675.0 L1137.8,676.8 L1138.6,678.6 L1139.3,680.4 L1140.0,682.3 L1140.7,684.3 L1141.3,686.4 L1141.9,688.5 L1142.4,690.7 L1142.9,692.9 L1143.4,695.2 L1143.8,697.6 L1144.2,700.1 L1144.6,702.6 L1145.0,705.2 L1145.3,707.9 L1145.6,710.6 L1145.8,713.4 L1146.1,716.3 L1146.3,719.3 L1146.5,722.6 L1146.7,726.0 L1146.9,729.5 L1147.1,733.0 L1147.2,736.5 L1147.4,740.2 L1147.5,744.2 L1147.6,748.8 L1147.7,754.0 L1147.9,760.0 L1147.9,767.4 L1148.0,776.4 L1148.0,786.3 L1148.1,796.6 L1148.1,806.6 L1148.2,815.8 L1148.2,823.4 L1148.2,829.0 L1149.4,829.0 L1149.4,823.4 L1149.4,815.8 L1149.4,806.6 L1149.3,796.6 L1149.3,786.3 L1149.3,776.4 L1149.2,767.4 L1149.1,760.0 L1149.1,754.0 L1149.0,748.8 L1148.9,744.2 L1148.8,740.1 L1148.7,736.4 L1148.6,732.9 L1148.5,729.5 L1148.3,726.0 L1148.1,722.5 L1148.0,719.2 L1147.8,716.1 L1147.6,713.2 L1147.4,710.4 L1147.2,707.7 L1146.9,705.0 L1146.6,702.4 L1146.2,699.8 L1145.9,697.3 L1145.5,694.8 L1145.1,692.5 L1144.6,690.2 L1144.1,688.0 L1143.5,685.8 L1142.9,683.7 L1142.3,681.6 L1141.7,679.6 L1141.0,677.6 L1140.3,675.8 L1139.5,673.9 L1138.7,672.0 L1137.8,670.2 L1136.8,668.3 L1135.8,666.4 L1134.8,664.5 L1133.7,662.7 L1132.6,660.8 L1131.3,658.8 L1129.9,656.9 L1128.4,654.9 L1126.6,652.8 L1124.7,650.6 L1122.6,648.4 L1120.4,646.1 L1118.0,643.8 L1115.5,641.4 L1112.9,639.1 L1110.2,636.8 L1107.4,634.6 L1104.5,632.5 L1101.5,630.4 L1098.3,628.4 L1095.0,626.4 L1091.7,624.5 L1088.4,622.6 L1085.1,620.8 L1081.9,619.0 L1078.7,617.2 L1075.5,615.6 L1072.3,613.9 L1069.2,612.3 L1066.0,610.8 L1062.8,609.2 L1059.7,607.7 L1056.5,606.1 L1053.4,604.4 L1050.2,602.8 L1047.1,601.2 L1044.0,599.5 L1040.8,597.9 L1037.6,596.3 L1034.4,594.6 L1031.2,593.0 L1028.0,591.3 L1024.7,589.6 L1021.4,587.9 L1018.1,586.2 L1014.8,584.5 L1011.5,582.9 L1008.1,581.3 L1004.8,579.8 L1001.5,578.5 L998.3,577.3 L995.1,576.2 L991.9,575.1 L988.7,574.0 L985.4,573.0 L982.2,572.1 L978.9,571.1 L975.3,570.2 L971.4,569.3 L967.4,568.4 L963.4,567.6 L959.6,566.8 L956.2,566.1 L953.4,565.6 L951.3,565.2 Z" fill="#3f4db0"/>
<path d="M1306.2,554.3 L1304.3,554.9 L1301.8,555.6 L1298.9,556.5 L1295.6,557.4 L1292.1,558.5 L1288.6,559.5 L1285.1,560.5 L1281.9,561.3 L1278.8,562.2 L1275.7,563.0 L1272.5,563.8 L1269.3,564.6 L1266.1,565.4 L1262.9,566.2 L1259.7,567.0 L1256.5,567.8 L1253.4,568.7 L1250.2,569.5 L1247.1,570.3 L1243.9,571.1 L1240.7,572.0 L1237.5,572.8 L1234.4,573.7 L1231.2,574.6 L1228.0,575.5 L1224.7,576.4 L1221.4,577.3 L1218.1,578.2 L1214.8,579.2 L1211.6,580.2 L1208.6,581.2 L1205.7,582.3 L1202.9,583.4 L1200.3,584.6 L1197.8,585.8 L1195.4,587.0 L1193.0,588.2 L1190.8,589.5 L1188.5,590.8 L1186.4,592.1 L1184.2,593.5 L1182.1,594.9 L1180.1,596.4 L1178.1,597.9 L1176.2,599.4 L1174.3,600.9 L1172.6,602.4 L1170.9,604.0 L1169.4,605.5 L1168.0,607.0 L1166.6,608.6 L1165.4,610.1 L1164.2,611.7 L1163.0,613.4 L1161.9,615.1 L1160.8,616.9 L1159.7,618.8 L1158.6,620.8 L1157.6,622.8 L1156.6,624.9 L1155.6,627.1 L1154.7,629.2 L1153.9,631.5 L1153.2,633.7 L1152.5,635.9 L1151.9,638.1 L1151.4,640.3 L1151.0,642.5 L1150.6,644.8 L1150.2,647.2 L1149.8,649.7 L1149.5,652.4 L1149.2,655.1 L1148.9,657.9 L1148.6,660.8 L1148.4,663.7 L1148.2,666.9 L1148.0,670.3 L1147.9,673.9 L1147.8,678.0 L1147.6,682.0 L1147.6,685.8 L1147.5,689.6 L1147.5,693.8 L1147.5,698.6 L1147.5,704.4 L1147.6,711.4 L1147.6,720.0 L1147.6,731.2 L1147.7,745.1 L1147.8,760.8 L1147.9,777.1 L1148.0,793.2 L1148.2,807.8 L1148.2,820.1 L1148.3,829.0 L1149.5,829.0 L1149.4,820.1 L1149.4,807.8 L1149.2,793.2 L1149.1,777.1 L1149.0,760.8 L1148.9,745.1 L1148.8,731.2 L1148.8,720.0 L1148.8,711.4 L1148.8,704.4 L1148.8,698.6 L1148.8,693.8 L1148.8,689.6 L1148.8,685.8 L1148.9,682.0 L1149.0,678.0 L1149.2,674.0 L1149.4,670.3 L1149.6,667.0 L1149.8,663.8 L1150.1,660.9 L1150.4,658.1 L1150.7,655.3 L1151.1,652.6 L1151.5,650.0 L1151.9,647.5 L1152.3,645.1 L1152.7,642.9 L1153.2,640.7 L1153.8,638.6 L1154.4,636.4 L1155.0,634.3 L1155.8,632.2 L1156.7,630.0 L1157.6,627.9 L1158.6,625.8 L1159.6,623.8 L1160.6,621.8 L1161.7,619.9 L1162.8,618.1 L1163.9,616.4 L1165.1,614.8 L1166.2,613.2 L1167.4,611.8 L1168.6,610.3 L1169.9,608.9 L1171.3,607.5 L1172.9,606.0 L1174.5,604.6 L1176.2,603.1 L1178.0,601.7 L1179.9,600.3 L1181.8,598.9 L1183.9,597.5 L1185.9,596.2 L1188.0,594.9 L1190.2,593.6 L1192.4,592.4 L1194.6,591.2 L1196.9,590.0 L1199.2,588.9 L1201.7,587.8 L1204.3,586.7 L1206.9,585.7 L1209.8,584.7 L1212.8,583.7 L1215.9,582.8 L1219.1,581.9 L1222.4,581.0 L1225.7,580.1 L1229.0,579.3 L1232.2,578.4 L1235.4,577.6 L1238.6,576.8 L1241.7,576.0 L1244.9,575.2 L1248.1,574.5 L1251.3,573.7 L1254.5,573.0 L1257.7,572.2 L1260.8,571.4 L1264.0,570.6 L1267.2,569.8 L1270.4,569.0 L1273.6,568.2 L1276.8,567.4 L1280.0,566.5 L1283.1,565.7 L1286.4,564.7 L1289.8,563.6 L1293.3,562.4 L1296.8,561.3 L1300.0,560.2 L1303.0,559.2 L1305.4,558.3 L1307.2,557.7 Z" fill="#3f4db0"/>
<path d="M1180.8,598.0 L1206.3,586.0 L1231.7,578.5 L1260.9,571.0 L1260.9,596.0 L1244.4,602.0 L1219.0,611.5 L1199.9,621.5 L1180.8,633.0 Z" fill="#3f4db0" opacity="0.85"/>
<line x1="1183.0" y1="600.3" x2="1183.3" y2="630.0" stroke="#fff" stroke-width="0.45" opacity="0.55"/>
<line x1="1186.0" y1="599.2" x2="1186.3" y2="628.6" stroke="#fff" stroke-width="0.45" opacity="0.55"/>
<line x1="1189.0" y1="598.2" x2="1189.3" y2="627.2" stroke="#fff" stroke-width="0.45" opacity="0.55"/>
<line x1="1192.0" y1="597.2" x2="1192.3" y2="625.8" stroke="#fff" stroke-width="0.45" opacity="0.55"/>
<line x1="1195.0" y1="596.2" x2="1195.3" y2="624.4" stroke="#fff" stroke-width="0.45" opacity="0.55"/>
<line x1="1198.0" y1="595.2" x2="1198.3" y2="623.0" stroke="#fff" stroke-width="0.45" opacity="0.55"/>
<line x1="1201.0" y1="594.2" x2="1201.3" y2="621.7" stroke="#fff" stroke-width="0.45" opacity="0.55"/>
<line x1="1204.0" y1="593.2" x2="1204.3" y2="620.3" stroke="#fff" stroke-width="0.45" opacity="0.55"/>
<line x1="1207.0" y1="592.2" x2="1207.3" y2="618.9" stroke="#fff" stroke-width="0.45" opacity="0.55"/>
<line x1="1210.0" y1="591.1" x2="1210.3" y2="617.5" stroke="#fff" stroke-width="0.45" opacity="0.55"/>
<line x1="1213.0" y1="590.1" x2="1213.3" y2="616.1" stroke="#fff" stroke-width="0.45" opacity="0.55"/>
<line x1="1216.0" y1="589.1" x2="1216.3" y2="614.7" stroke="#fff" stroke-width="0.45" opacity="0.55"/>
<line x1="1219.0" y1="588.1" x2="1219.3" y2="613.3" stroke="#fff" stroke-width="0.45" opacity="0.55"/>
<line x1="1222.0" y1="587.1" x2="1222.3" y2="611.9" stroke="#fff" stroke-width="0.45" opacity="0.55"/>
<line x1="1225.0" y1="586.1" x2="1225.3" y2="610.6" stroke="#fff" stroke-width="0.45" opacity="0.55"/>
<line x1="1228.0" y1="585.1" x2="1228.3" y2="609.2" stroke="#fff" stroke-width="0.45" opacity="0.55"/>
<line x1="1231.0" y1="584.1" x2="1231.3" y2="607.8" stroke="#fff" stroke-width="0.45" opacity="0.55"/>
<line x1="1234.0" y1="583.0" x2="1234.3" y2="606.4" stroke="#fff" stroke-width="0.45" opacity="0.55"/>
<line x1="1237.0" y1="582.0" x2="1237.3" y2="605.0" stroke="#fff" stroke-width="0.45" opacity="0.55"/>
<line x1="1240.0" y1="581.0" x2="1240.3" y2="603.6" stroke="#fff" stroke-width="0.45" opacity="0.55"/>
<line x1="1243.0" y1="580.0" x2="1243.3" y2="602.2" stroke="#fff" stroke-width="0.45" opacity="0.55"/>
<line x1="1246.0" y1="579.0" x2="1246.3" y2="600.8" stroke="#fff" stroke-width="0.45" opacity="0.55"/>
<line x1="1249.0" y1="578.0" x2="1249.3" y2="599.5" stroke="#fff" stroke-width="0.45" opacity="0.55"/>
<line x1="1252.0" y1="577.0" x2="1252.3" y2="598.1" stroke="#fff" stroke-width="0.45" opacity="0.55"/>
<line x1="1255.0" y1="576.0" x2="1255.3" y2="596.7" stroke="#fff" stroke-width="0.45" opacity="0.55"/>
<line x1="1258.0" y1="574.9" x2="1258.3" y2="595.3" stroke="#fff" stroke-width="0.45" opacity="0.55"/>
<line x1="1180.8" y1="598.0" x2="1180.8" y2="634.0" stroke="#3f4db0" stroke-width="0.9"/>
<line x1="1260.9" y1="570.0" x2="1260.9" y2="597.0" stroke="#3f4db0" stroke-width="0.9"/>
<path d="M1260.4,594.1 L1259.2,594.5 L1257.6,595.0 L1255.8,595.7 L1253.7,596.4 L1251.4,597.2 L1249.0,598.0 L1246.4,598.9 L1243.8,599.9 L1241.0,601.0 L1237.9,602.1 L1234.6,603.3 L1231.2,604.6 L1227.8,605.9 L1224.4,607.3 L1221.2,608.6 L1218.3,609.9 L1215.5,611.1 L1213.0,612.3 L1210.6,613.6 L1208.2,614.8 L1205.9,616.0 L1203.6,617.3 L1201.4,618.6 L1199.0,619.9 L1196.6,621.3 L1194.1,622.7 L1191.5,624.2 L1189.0,625.7 L1186.5,627.2 L1184.1,628.7 L1181.9,630.2 L1179.7,631.7 L1177.8,633.2 L1176.0,634.6 L1174.3,636.1 L1172.7,637.5 L1171.1,639.0 L1169.6,640.5 L1168.2,642.1 L1166.8,643.8 L1165.5,645.6 L1164.2,647.4 L1163.0,649.4 L1161.8,651.4 L1160.7,653.4 L1159.7,655.4 L1158.7,657.4 L1157.8,659.4 L1157.0,661.3 L1156.3,663.1 L1155.6,664.8 L1155.0,666.7 L1154.4,668.5 L1153.8,670.6 L1153.3,672.8 L1152.8,675.3 L1152.4,678.0 L1151.9,681.1 L1151.5,684.4 L1151.2,687.8 L1150.8,691.2 L1150.5,694.6 L1150.3,697.9 L1150.0,700.9 L1149.8,703.6 L1149.6,706.1 L1149.4,708.4 L1149.2,710.7 L1149.1,713.0 L1149.0,715.6 L1148.9,718.6 L1148.8,722.0 L1148.7,725.7 L1148.6,729.6 L1148.6,733.6 L1148.6,738.0 L1148.5,742.7 L1148.5,747.9 L1148.5,753.6 L1148.5,760.0 L1148.4,767.6 L1148.4,776.7 L1148.4,786.6 L1148.3,796.9 L1148.3,806.8 L1148.3,815.9 L1148.3,823.5 L1148.3,829.0 L1149.5,829.0 L1149.5,823.5 L1149.5,815.9 L1149.6,806.8 L1149.6,796.9 L1149.6,786.6 L1149.7,776.7 L1149.7,767.6 L1149.7,760.0 L1149.8,753.7 L1149.9,747.9 L1149.9,742.7 L1150.0,738.0 L1150.1,733.7 L1150.2,729.6 L1150.3,725.7 L1150.4,722.0 L1150.5,718.6 L1150.7,715.7 L1150.9,713.1 L1151.0,710.8 L1151.2,708.5 L1151.5,706.3 L1151.7,703.8 L1152.0,701.1 L1152.3,698.1 L1152.7,694.8 L1153.1,691.4 L1153.5,688.0 L1153.9,684.7 L1154.4,681.4 L1154.9,678.4 L1155.4,675.7 L1155.9,673.4 L1156.5,671.3 L1157.0,669.3 L1157.6,667.6 L1158.3,665.9 L1159.0,664.2 L1159.7,662.4 L1160.6,660.6 L1161.5,658.7 L1162.4,656.8 L1163.5,654.9 L1164.5,652.9 L1165.7,651.1 L1166.9,649.2 L1168.1,647.5 L1169.4,645.8 L1170.7,644.3 L1172.1,642.8 L1173.5,641.4 L1175.0,640.1 L1176.5,638.7 L1178.2,637.4 L1180.0,636.0 L1181.9,634.7 L1183.9,633.2 L1186.1,631.8 L1188.4,630.3 L1190.9,628.8 L1193.4,627.3 L1195.9,625.9 L1198.4,624.4 L1200.8,623.1 L1203.1,621.7 L1205.4,620.5 L1207.7,619.2 L1209.9,618.0 L1212.2,616.8 L1214.6,615.6 L1217.1,614.4 L1219.7,613.1 L1222.6,611.9 L1225.8,610.6 L1229.1,609.2 L1232.5,607.9 L1235.9,606.6 L1239.1,605.3 L1242.2,604.2 L1245.0,603.1 L1247.6,602.1 L1250.1,601.1 L1252.5,600.2 L1254.8,599.4 L1256.8,598.6 L1258.7,597.9 L1260.2,597.4 L1261.4,596.9 Z" fill="#3f4db0"/>
<path d="M1130.0,605.0 C1131.3,608.3 1135.8,617.5 1138.0,625.0 C1140.2,632.5 1141.6,639.2 1143.0,650.0 C1144.4,660.8 1145.6,671.7 1146.5,690.0 C1147.4,708.3 1147.9,736.8 1148.3,760.0 C1148.7,783.2 1148.7,817.5 1148.8,829.0" fill="none" stroke="#3f4db0" stroke-width="0.8"/>
<path d="M1158.5,620.0 C1157.6,623.3 1154.3,631.7 1153.0,640.0 C1151.7,648.3 1151.1,656.7 1150.5,670.0 C1149.9,683.3 1149.6,693.5 1149.3,720.0 C1149.0,746.5 1149.0,810.8 1148.9,829.0" fill="none" stroke="#3f4db0" stroke-width="0.8"/>
<path d="M1166.0,612.0 C1164.3,615.5 1158.4,625.0 1156.0,633.0 C1153.6,641.0 1152.5,645.5 1151.5,660.0 C1150.5,674.5 1150.2,691.8 1149.8,720.0 C1149.4,748.2 1149.1,810.8 1149.0,829.0" fill="none" stroke="#3f4db0" stroke-width="0.8"/>
<path d="M1000.3,669.4 C1005.1,671.2 1019.9,676.7 1028.9,680.2 C1037.9,683.7 1045.8,686.8 1054.3,690.4 C1062.8,694.0 1072.0,697.5 1080.0,701.6 C1088.0,705.7 1095.5,710.5 1102.0,715.0 C1108.5,719.5 1114.2,723.2 1119.2,728.3 C1124.2,733.4 1128.1,738.8 1131.8,745.6 C1135.5,752.4 1138.8,761.2 1141.2,769.1 C1143.6,777.0 1144.7,782.6 1145.9,792.7 C1147.1,802.9 1147.9,823.8 1148.3,830.0" fill="none" stroke="#e8262a" stroke-width="1.8"/>
<path d="M1089.7,664.9 L1096.1,666.2 L1106.2,673.8 L1105.0,713.8 L1101.1,713.8 L1083.4,701.1 L1083.4,695.4 L1089.7,694.8 Z" fill="#e8262a"/>
<path d="M1106.2,673.2 C1108.3,674.5 1115.1,677.6 1118.9,680.8 C1122.7,684.0 1125.9,687.8 1129.1,692.2 C1132.3,696.7 1135.7,702.5 1138.0,707.5 C1140.3,712.5 1141.5,715.6 1142.8,722.0 C1144.1,728.4 1145.1,736.4 1145.9,745.6 C1146.7,754.8 1147.1,762.9 1147.5,777.0 C1147.9,791.1 1148.2,821.2 1148.3,830.0" fill="none" stroke="#e8262a" stroke-width="1.8"/>
<path d="M1246.6,647.8 L1244.5,648.2 L1241.5,648.6 L1238.0,649.2 L1234.0,649.8 L1229.9,650.5 L1225.9,651.3 L1222.0,652.2 L1218.6,653.2 L1215.5,654.3 L1212.5,655.7 L1209.7,657.2 L1207.0,658.8 L1204.4,660.3 L1201.9,661.8 L1199.5,663.2 L1197.2,664.4 L1194.8,665.5 L1192.5,666.4 L1190.2,667.3 L1187.9,668.2 L1185.8,669.0 L1183.8,669.8 L1181.9,670.6 L1180.2,671.6 L1178.9,672.4 L1177.8,673.2 L1177.0,674.0 L1176.4,674.8 L1175.8,675.7 L1175.1,676.6 L1174.4,677.6 L1173.4,678.9 L1172.1,680.4 L1170.5,682.1 L1168.8,684.0 L1167.1,686.0 L1165.3,688.1 L1163.6,690.3 L1162.1,692.6 L1160.7,694.8 L1159.6,697.0 L1158.6,699.1 L1157.8,701.3 L1157.0,703.5 L1156.3,705.8 L1155.6,708.3 L1155.0,711.0 L1154.4,714.0 L1153.8,717.4 L1153.2,721.0 L1152.7,724.9 L1152.2,729.0 L1151.7,733.2 L1151.3,737.4 L1150.9,741.5 L1150.5,745.5 L1150.1,749.3 L1149.8,752.9 L1149.5,756.3 L1149.2,759.9 L1148.9,763.6 L1148.7,767.6 L1148.5,772.0 L1148.3,777.0 L1148.1,782.9 L1148.0,790.0 L1147.9,797.6 L1147.8,805.5 L1147.7,813.1 L1147.7,820.0 L1147.6,825.8 L1147.6,830.0 L1149.0,830.0 L1149.1,825.8 L1149.1,820.0 L1149.2,813.1 L1149.3,805.5 L1149.4,797.6 L1149.6,790.0 L1149.7,783.0 L1149.9,777.0 L1150.1,772.1 L1150.4,767.7 L1150.6,763.7 L1150.9,760.0 L1151.2,756.5 L1151.5,753.0 L1151.9,749.5 L1152.3,745.7 L1152.7,741.7 L1153.1,737.5 L1153.6,733.4 L1154.0,729.2 L1154.5,725.2 L1155.0,721.3 L1155.6,717.7 L1156.2,714.4 L1156.9,711.4 L1157.5,708.8 L1158.1,706.3 L1158.8,704.1 L1159.6,702.0 L1160.4,699.9 L1161.4,697.9 L1162.5,695.8 L1163.8,693.7 L1165.3,691.6 L1166.9,689.5 L1168.7,687.4 L1170.4,685.4 L1172.1,683.6 L1173.7,681.9 L1175.0,680.3 L1176.1,679.0 L1176.9,677.9 L1177.6,676.9 L1178.1,676.2 L1178.6,675.5 L1179.3,674.9 L1180.2,674.2 L1181.4,673.4 L1182.9,672.6 L1184.6,671.9 L1186.6,671.1 L1188.7,670.3 L1191.0,669.5 L1193.4,668.6 L1195.8,667.7 L1198.2,666.6 L1200.7,665.4 L1203.2,664.0 L1205.7,662.5 L1208.3,661.0 L1211.0,659.5 L1213.7,658.1 L1216.5,656.9 L1219.4,655.8 L1222.7,654.9 L1226.5,654.1 L1230.5,653.4 L1234.5,652.7 L1238.4,652.2 L1242.0,651.7 L1244.9,651.3 L1247.2,651.0 Z" fill="#e8262a"/>
<path d="M1160.0,699.0 L1168.0,688.0 L1180.8,675.0 L1189.1,670.2 L1189.1,714.2 L1175.0,728.0 L1160.0,744.0 Z" fill="#e8262a"/>
<path d="M1160.0,744.0 C1159.0,746.9 1155.4,754.5 1153.8,761.3 C1152.2,768.1 1151.4,776.9 1150.6,784.8 C1149.8,792.6 1149.5,800.9 1149.1,808.4 C1148.7,815.9 1148.4,826.4 1148.3,830.0" fill="none" stroke="#e8262a" stroke-width="1.8"/>
<line x1="931.0" y1="829.3" x2="937.0" y2="829.3" stroke="#000" stroke-width="1.6"/>
<line x1="931.0" y1="813.5" x2="934.2" y2="813.5" stroke="#000" stroke-width="1.0"/>
<line x1="931.0" y1="804.3" x2="934.2" y2="804.3" stroke="#000" stroke-width="1.0"/>
<line x1="931.0" y1="797.8" x2="934.2" y2="797.8" stroke="#000" stroke-width="1.0"/>
<line x1="931.0" y1="792.7" x2="934.2" y2="792.7" stroke="#000" stroke-width="1.0"/>
<line x1="931.0" y1="788.5" x2="934.2" y2="788.5" stroke="#000" stroke-width="1.0"/>
<line x1="931.0" y1="785.0" x2="934.2" y2="785.0" stroke="#000" stroke-width="1.0"/>
<line x1="931.0" y1="782.0" x2="934.2" y2="782.0" stroke="#000" stroke-width="1.0"/>
<line x1="931.0" y1="779.3" x2="934.2" y2="779.3" stroke="#000" stroke-width="1.0"/>
<line x1="931.0" y1="776.9" x2="937.0" y2="776.9" stroke="#000" stroke-width="1.6"/>
<line x1="931.0" y1="761.1" x2="934.2" y2="761.1" stroke="#000" stroke-width="1.0"/>
<line x1="931.0" y1="751.9" x2="934.2" y2="751.9" stroke="#000" stroke-width="1.0"/>
<line x1="931.0" y1="745.4" x2="934.2" y2="745.4" stroke="#000" stroke-width="1.0"/>
<line x1="931.0" y1="740.3" x2="934.2" y2="740.3" stroke="#000" stroke-width="1.0"/>
<line x1="931.0" y1="736.1" x2="934.2" y2="736.1" stroke="#000" stroke-width="1.0"/>
<line x1="931.0" y1="732.6" x2="934.2" y2="732.6" stroke="#000" stroke-width="1.0"/>
<line x1="931.0" y1="729.6" x2="934.2" y2="729.6" stroke="#000" stroke-width="1.0"/>
<line x1="931.0" y1="726.9" x2="934.2" y2="726.9" stroke="#000" stroke-width="1.0"/>
<line x1="931.0" y1="724.5" x2="937.0" y2="724.5" stroke="#000" stroke-width="1.6"/>
<line x1="931.0" y1="708.7" x2="934.2" y2="708.7" stroke="#000" stroke-width="1.0"/>
<line x1="931.0" y1="699.5" x2="934.2" y2="699.5" stroke="#000" stroke-width="1.0"/>
<line x1="931.0" y1="693.0" x2="934.2" y2="693.0" stroke="#000" stroke-width="1.0"/>
<line x1="931.0" y1="687.9" x2="934.2" y2="687.9" stroke="#000" stroke-width="1.0"/>
<line x1="931.0" y1="683.7" x2="934.2" y2="683.7" stroke="#000" stroke-width="1.0"/>
<line x1="931.0" y1="680.2" x2="934.2" y2="680.2" stroke="#000" stroke-width="1.0"/>
<line x1="931.0" y1="677.2" x2="934.2" y2="677.2" stroke="#000" stroke-width="1.0"/>
<line x1="931.0" y1="674.5" x2="934.2" y2="674.5" stroke="#000" stroke-width="1.0"/>
<line x1="931.0" y1="672.1" x2="937.0" y2="672.1" stroke="#000" stroke-width="1.6"/>
<line x1="931.0" y1="656.3" x2="934.2" y2="656.3" stroke="#000" stroke-width="1.0"/>
<line x1="931.0" y1="647.1" x2="934.2" y2="647.1" stroke="#000" stroke-width="1.0"/>
<line x1="931.0" y1="640.6" x2="934.2" y2="640.6" stroke="#000" stroke-width="1.0"/>
<line x1="931.0" y1="635.5" x2="934.2" y2="635.5" stroke="#000" stroke-width="1.0"/>
<line x1="931.0" y1="631.3" x2="934.2" y2="631.3" stroke="#000" stroke-width="1.0"/>
<line x1="931.0" y1="627.8" x2="934.2" y2="627.8" stroke="#000" stroke-width="1.0"/>
<line x1="931.0" y1="624.8" x2="934.2" y2="624.8" stroke="#000" stroke-width="1.0"/>
<line x1="931.0" y1="622.1" x2="934.2" y2="622.1" stroke="#000" stroke-width="1.0"/>
<line x1="931.0" y1="619.7" x2="937.0" y2="619.7" stroke="#000" stroke-width="1.6"/>
<line x1="931.0" y1="603.9" x2="934.2" y2="603.9" stroke="#000" stroke-width="1.0"/>
<line x1="931.0" y1="594.7" x2="934.2" y2="594.7" stroke="#000" stroke-width="1.0"/>
<line x1="931.0" y1="588.2" x2="934.2" y2="588.2" stroke="#000" stroke-width="1.0"/>
<line x1="931.0" y1="583.1" x2="934.2" y2="583.1" stroke="#000" stroke-width="1.0"/>
<line x1="931.0" y1="578.9" x2="934.2" y2="578.9" stroke="#000" stroke-width="1.0"/>
<line x1="931.0" y1="575.4" x2="934.2" y2="575.4" stroke="#000" stroke-width="1.0"/>
<line x1="931.0" y1="572.4" x2="934.2" y2="572.4" stroke="#000" stroke-width="1.0"/>
<line x1="931.0" y1="569.7" x2="934.2" y2="569.7" stroke="#000" stroke-width="1.0"/>
<line x1="931.0" y1="567.3" x2="937.0" y2="567.3" stroke="#000" stroke-width="1.6"/>
<line x1="931.0" y1="551.5" x2="934.2" y2="551.5" stroke="#000" stroke-width="1.0"/>
<line x1="931.0" y1="542.3" x2="934.2" y2="542.3" stroke="#000" stroke-width="1.0"/>
<line x1="950.3" y1="830.3" x2="950.3" y2="824.3" stroke="#000" stroke-width="1.6"/>
<line x1="975.2" y1="830.3" x2="975.2" y2="826.8" stroke="#000" stroke-width="1.1"/>
<line x1="1000.0" y1="830.3" x2="1000.0" y2="824.3" stroke="#000" stroke-width="1.6"/>
<line x1="1024.8" y1="830.3" x2="1024.8" y2="826.8" stroke="#000" stroke-width="1.1"/>
<line x1="1049.6" y1="830.3" x2="1049.6" y2="824.3" stroke="#000" stroke-width="1.6"/>
<line x1="1074.4" y1="830.3" x2="1074.4" y2="826.8" stroke="#000" stroke-width="1.1"/>
<line x1="1099.2" y1="830.3" x2="1099.2" y2="824.3" stroke="#000" stroke-width="1.6"/>
<line x1="1124.0" y1="830.3" x2="1124.0" y2="826.8" stroke="#000" stroke-width="1.1"/>
<line x1="1148.8" y1="830.3" x2="1148.8" y2="824.3" stroke="#000" stroke-width="1.6"/>
<line x1="1173.7" y1="830.3" x2="1173.7" y2="826.8" stroke="#000" stroke-width="1.1"/>
<line x1="1198.5" y1="830.3" x2="1198.5" y2="824.3" stroke="#000" stroke-width="1.6"/>
<line x1="1223.3" y1="830.3" x2="1223.3" y2="826.8" stroke="#000" stroke-width="1.1"/>
<line x1="1248.1" y1="830.3" x2="1248.1" y2="824.3" stroke="#000" stroke-width="1.6"/>
<line x1="1272.9" y1="830.3" x2="1272.9" y2="826.8" stroke="#000" stroke-width="1.1"/>
<line x1="1297.7" y1="830.3" x2="1297.7" y2="824.3" stroke="#000" stroke-width="1.6"/>
<rect x="931.0" y="540.8" width="386.0" height="289.5" fill="none" stroke="#000" stroke-width="2.2"/>
<g transform="translate(930,700) scale(0.149522)"><path d="M125,675 L125,92 L318,92 L318,172" fill="none" stroke="#555" stroke-width="8"/>
<line x1="235.0" y1="172.0" x2="390.0" y2="172.0" stroke="#555" stroke-width="8"/>
<line x1="255.0" y1="195.0" x2="370.0" y2="195.0" stroke="#555" stroke-width="8"/>
<line x1="275.0" y1="215.0" x2="350.0" y2="215.0" stroke="#555" stroke-width="8"/>
<circle cx="810.0" cy="120.0" r="78" fill="#fff" stroke="#333" stroke-width="8"/>
<text x="810.0" y="160.0" font-size="105" fill="#000" text-anchor="middle">V</text>
<path d="M888,120 L1143,120 L1143,255" fill="none" stroke="#555" stroke-width="8"/>
<rect x="52.0" y="675.0" width="888.0" height="130.0" fill="url(#gTiNd)"/>
<path d="M215.0,295.0 L470.0,295.0 L470.0,520.0 L800.0,520.0 L800.0,295.0 L1275.0,295.0 L1275.0,395.0 L880.0,395.0 L880.0,610.0 L405.0,610.0 L405.0,395.0 L215.0,395.0 Z" fill="#f7d45c"/>
<path d="M215.0,395.0 L405.0,395.0 L405.0,610.0 L880.0,610.0 L880.0,395.0 L1275.0,395.0 L1275.0,460.0 L940.0,460.0 L940.0,675.0 L345.0,675.0 L345.0,470.0 L215.0,470.0 Z" fill="#4a8fd6"/>
<rect x="215.0" y="470.0" width="130.0" height="205.0" fill="#4e8a3a"/>
<rect x="940.0" y="460.0" width="335.0" height="345.0" fill="#4e8a3a"/>
<text x="915.0" y="375.0" font-size="78" fill="#000" textLength="335" lengthAdjust="spacingAndGlyphs">200 nm</text>
<text x="950.0" y="455.0" font-size="78" fill="#000" textLength="280" lengthAdjust="spacingAndGlyphs">20 nm</text>
<text x="578.0" y="598.0" font-size="88" fill="#000" textLength="162" lengthAdjust="spacingAndGlyphs">ITO</text>
<text x="520.0" y="665.0" font-size="50" fill="#1a2a5a" textLength="240" lengthAdjust="spacingAndGlyphs">Bi:SnO</text>
<text x="762.0" y="675.0" font-size="32" fill="#1a2a5a">2</text>
<text x="1020.0" y="668.0" font-size="90" fill="#000" textLength="190" lengthAdjust="spacingAndGlyphs">LTO</text>
<text x="400.0" y="778.0" font-size="88" fill="#000" textLength="150" lengthAdjust="spacingAndGlyphs">TiN</text></g>
<text x="885.5" y="576.6" font-size="21" fill="#000" textLength="21" lengthAdjust="spacingAndGlyphs">10</text>
<text x="907.0" y="568.9" font-size="12.5" fill="#000" textLength="16.7" lengthAdjust="spacingAndGlyphs">−2</text>
<text x="885.5" y="629.0" font-size="21" fill="#000" textLength="21" lengthAdjust="spacingAndGlyphs">10</text>
<text x="907.0" y="621.3" font-size="12.5" fill="#000" textLength="16.7" lengthAdjust="spacingAndGlyphs">−3</text>
<text x="885.5" y="681.4" font-size="21" fill="#000" textLength="21" lengthAdjust="spacingAndGlyphs">10</text>
<text x="907.0" y="673.7" font-size="12.5" fill="#000" textLength="16.7" lengthAdjust="spacingAndGlyphs">−4</text>
<text x="885.5" y="733.8" font-size="21" fill="#000" textLength="21" lengthAdjust="spacingAndGlyphs">10</text>
<text x="907.0" y="726.1" font-size="12.5" fill="#000" textLength="16.7" lengthAdjust="spacingAndGlyphs">−5</text>
<text x="885.5" y="786.2" font-size="21" fill="#000" textLength="21" lengthAdjust="spacingAndGlyphs">10</text>
<text x="907.0" y="778.5" font-size="12.5" fill="#000" textLength="16.7" lengthAdjust="spacingAndGlyphs">−6</text>
<text x="885.5" y="838.6" font-size="21" fill="#000" textLength="21" lengthAdjust="spacingAndGlyphs">10</text>
<text x="907.0" y="830.9" font-size="12.5" fill="#000" textLength="16.7" lengthAdjust="spacingAndGlyphs">−7</text>
<text x="931.1" y="857.6" font-size="21.7" fill="#000" textLength="43.5" lengthAdjust="spacingAndGlyphs">−2.0</text>
<text x="980.7" y="857.6" font-size="21.7" fill="#000" textLength="43.5" lengthAdjust="spacingAndGlyphs">−1.5</text>
<text x="1030.3" y="857.6" font-size="21.7" fill="#000" textLength="43.5" lengthAdjust="spacingAndGlyphs">−1.0</text>
<text x="1080.0" y="857.6" font-size="21.7" fill="#000" textLength="43.5" lengthAdjust="spacingAndGlyphs">−0.5</text>
<text x="1142.8" y="857.6" font-size="21.7" fill="#000" textLength="12" lengthAdjust="spacingAndGlyphs">0</text>
<text x="1183.2" y="857.6" font-size="21.7" fill="#000" textLength="30.5" lengthAdjust="spacingAndGlyphs">0.5</text>
<text x="1232.8" y="857.6" font-size="21.7" fill="#000" textLength="30.5" lengthAdjust="spacingAndGlyphs">1.0</text>
<text x="1282.5" y="857.6" font-size="21.7" fill="#000" textLength="30.5" lengthAdjust="spacingAndGlyphs">1.5</text>
<text x="1055.6" y="891.4" font-size="25" fill="#000" textLength="117.4" lengthAdjust="spacingAndGlyphs">Voltage/V</text>
<text x="0.0" y="0.0" font-size="26.5" fill="#000" text-anchor="middle" textLength="119.5" lengthAdjust="spacingAndGlyphs" transform="translate(870.5,677.6) rotate(-90)">Current/A</text>
<text x="942.0" y="666.8" font-size="20" fill="#4050b0" textLength="72" lengthAdjust="spacingAndGlyphs">RESET</text>
<text x="1268.4" y="666.8" font-size="20" fill="#4050b0" textLength="41.5" lengthAdjust="spacingAndGlyphs">SET</text>
<line x1="1018.9" y1="632.2" x2="1018.9" y2="665.5" stroke="#4050b0" stroke-width="2.6"/><path d="M1018.9,676.5 L1014.4,664.5 L1023.4,664.5 Z" fill="#4050b0"/>
<line x1="1256.8" y1="682.4" x2="1256.8" y2="649.5" stroke="#4050b0" stroke-width="2.6"/><path d="M1256.8,638.5 L1261.3,650.5 L1252.3,650.5 Z" fill="#4050b0"/>
<text x="1180.5" y="757.8" font-size="22" fill="#4050b0" textLength="110" lengthAdjust="spacingAndGlyphs">100 cycles</text>
<line x1="1178.4" y1="782.0" x2="1216.0" y2="782.0" stroke="#5a64c0" stroke-width="1.6"/>
<text x="1222.3" y="789.2" font-size="20" fill="#000" textLength="41" lengthAdjust="spacingAndGlyphs">SnO</text>
<text x="1264.0" y="794.0" font-size="13" fill="#000">2</text>
<line x1="1178.4" y1="811.8" x2="1216.0" y2="811.8" stroke="#e8262a" stroke-width="1.6"/>
<text x="1222.3" y="819.0" font-size="20" fill="#000" textLength="70" lengthAdjust="spacingAndGlyphs">Bi:SnO</text>
<text x="1293.5" y="824.0" font-size="13" fill="#000">2</text>
<text x="1367.9" y="517.7" font-size="34" fill="#000">(e)</text>
<g transform="translate(1420,540) scale(0.216685)"><clipPath id="clipE"><rect x="58" y="22" width="1722" height="1283"/></clipPath>
<g clip-path="url(#clipE)">
<circle cx="65.0" cy="352.0" r="22" fill="url(#gRedBall)"/>
<circle cx="305.0" cy="310.0" r="22" fill="url(#gRedBall)"/>
<circle cx="378.0" cy="245.0" r="22" fill="url(#gRedBall)"/>
<circle cx="450.0" cy="290.0" r="22" fill="url(#gRedBall)"/>
<circle cx="525.0" cy="205.0" r="22" fill="url(#gRedBall)"/>
<circle cx="492.0" cy="392.0" r="22" fill="url(#gRedBall)"/>
<circle cx="548.0" cy="356.0" r="22" fill="url(#gRedBall)"/>
<circle cx="620.0" cy="345.0" r="22" fill="url(#gRedBall)"/>
<circle cx="695.0" cy="333.0" r="22" fill="url(#gRedBall)"/>
<circle cx="738.0" cy="352.0" r="22" fill="url(#gRedBall)"/>
<circle cx="768.0" cy="296.0" r="22" fill="url(#gRedBall)"/>
<circle cx="793.0" cy="243.0" r="22" fill="url(#gRedBall)"/>
<circle cx="866.0" cy="275.0" r="22" fill="url(#gRedBall)"/>
<circle cx="937.0" cy="293.0" r="22" fill="url(#gRedBall)"/>
<circle cx="983.0" cy="234.0" r="22" fill="url(#gRedBall)"/>
<circle cx="1010.0" cy="286.0" r="22" fill="url(#gRedBall)"/>
<circle cx="1035.0" cy="262.0" r="22" fill="url(#gRedBall)"/>
<circle cx="1078.0" cy="295.0" r="22" fill="url(#gRedBall)"/>
<circle cx="1108.0" cy="240.0" r="22" fill="url(#gRedBall)"/>
<circle cx="1130.0" cy="272.0" r="22" fill="url(#gRedBall)"/>
<circle cx="1150.0" cy="248.0" r="22" fill="url(#gRedBall)"/>
<circle cx="1175.0" cy="260.0" r="22" fill="url(#gRedBall)"/>
<circle cx="1195.0" cy="262.0" r="22" fill="url(#gRedBall)"/>
<circle cx="1192.0" cy="340.0" r="22" fill="url(#gRedBall)"/>
<circle cx="1213.0" cy="320.0" r="22" fill="url(#gRedBall)"/>
<circle cx="1228.0" cy="220.0" r="22" fill="url(#gRedBall)"/>
<circle cx="1240.0" cy="240.0" r="22" fill="url(#gRedBall)"/>
<circle cx="1247.0" cy="350.0" r="22" fill="url(#gRedBall)"/>
<circle cx="1262.0" cy="340.0" r="22" fill="url(#gRedBall)"/>
<circle cx="1270.0" cy="225.0" r="22" fill="url(#gRedBall)"/>
<circle cx="1280.0" cy="240.0" r="22" fill="url(#gRedBall)"/>
<circle cx="1270.0" cy="270.0" r="22" fill="url(#gRedBall)"/>
<circle cx="1323.0" cy="333.0" r="22" fill="url(#gRedBall)"/>
<circle cx="1350.0" cy="295.0" r="22" fill="url(#gRedBall)"/>
<circle cx="1375.0" cy="248.0" r="22" fill="url(#gRedBall)"/>
<circle cx="1393.0" cy="302.0" r="22" fill="url(#gRedBall)"/>
<circle cx="1410.0" cy="238.0" r="22" fill="url(#gRedBall)"/>
<circle cx="1425.0" cy="300.0" r="22" fill="url(#gRedBall)"/>
<circle cx="1440.0" cy="255.0" r="22" fill="url(#gRedBall)"/>
<circle cx="1455.0" cy="290.0" r="22" fill="url(#gRedBall)"/>
<circle cx="1470.0" cy="318.0" r="22" fill="url(#gRedBall)"/>
<circle cx="1480.0" cy="340.0" r="22" fill="url(#gRedBall)"/>
<circle cx="1490.0" cy="265.0" r="22" fill="url(#gRedBall)"/>
<circle cx="1510.0" cy="270.0" r="22" fill="url(#gRedBall)"/>
<circle cx="1525.0" cy="295.0" r="22" fill="url(#gRedBall)"/>
<circle cx="1555.0" cy="240.0" r="22" fill="url(#gRedBall)"/>
<circle cx="1575.0" cy="305.0" r="22" fill="url(#gRedBall)"/>
<circle cx="1590.0" cy="325.0" r="22" fill="url(#gRedBall)"/>
<circle cx="1600.0" cy="290.0" r="22" fill="url(#gRedBall)"/>
<circle cx="1615.0" cy="385.0" r="22" fill="url(#gRedBall)"/>
<circle cx="1633.0" cy="440.0" r="22" fill="url(#gRedBall)"/>
<circle cx="1640.0" cy="260.0" r="22" fill="url(#gRedBall)"/>
<circle cx="1650.0" cy="350.0" r="22" fill="url(#gRedBall)"/>
<circle cx="1662.0" cy="385.0" r="22" fill="url(#gRedBall)"/>
<circle cx="1668.0" cy="280.0" r="22" fill="url(#gRedBall)"/>
<circle cx="1680.0" cy="320.0" r="22" fill="url(#gRedBall)"/>
<circle cx="1690.0" cy="270.0" r="22" fill="url(#gRedBall)"/>
<circle cx="1700.0" cy="340.0" r="22" fill="url(#gRedBall)"/>
<circle cx="1710.0" cy="245.0" r="22" fill="url(#gRedBall)"/>
<circle cx="1720.0" cy="300.0" r="22" fill="url(#gRedBall)"/>
<circle cx="1730.0" cy="265.0" r="22" fill="url(#gRedBall)"/>
<circle cx="1740.0" cy="225.0" r="22" fill="url(#gRedBall)"/>
<circle cx="1750.0" cy="285.0" r="22" fill="url(#gRedBall)"/>
<circle cx="1755.0" cy="320.0" r="22" fill="url(#gRedBall)"/>
<circle cx="1760.0" cy="200.0" r="22" fill="url(#gRedBall)"/>
<circle cx="1765.0" cy="250.0" r="22" fill="url(#gRedBall)"/>
<circle cx="1770.0" cy="300.0" r="22" fill="url(#gRedBall)"/>
<circle cx="1620.0" cy="330.0" r="22" fill="url(#gRedBall)"/>
<circle cx="1700.0" cy="300.0" r="22" fill="url(#gRedBall)"/>
<circle cx="1745.0" cy="330.0" r="22" fill="url(#gRedBall)"/>
<circle cx="1735.0" cy="300.0" r="22" fill="url(#gRedBall)"/>
<circle cx="65.0" cy="1057.0" r="22" fill="url(#gBlueBall)"/>
<circle cx="305.0" cy="1058.0" r="22" fill="url(#gBlueBall)"/>
<circle cx="378.0" cy="1012.0" r="22" fill="url(#gBlueBall)"/>
<circle cx="450.0" cy="1070.0" r="22" fill="url(#gBlueBall)"/>
<circle cx="493.0" cy="1025.0" r="22" fill="url(#gBlueBall)"/>
<circle cx="522.0" cy="1025.0" r="22" fill="url(#gBlueBall)"/>
<circle cx="548.0" cy="1053.0" r="22" fill="url(#gBlueBall)"/>
<circle cx="620.0" cy="1125.0" r="22" fill="url(#gBlueBall)"/>
<circle cx="695.0" cy="1047.0" r="22" fill="url(#gBlueBall)"/>
<circle cx="738.0" cy="1015.0" r="22" fill="url(#gBlueBall)"/>
<circle cx="770.0" cy="1027.0" r="22" fill="url(#gBlueBall)"/>
<circle cx="793.0" cy="935.0" r="22" fill="url(#gBlueBall)"/>
<circle cx="866.0" cy="1067.0" r="22" fill="url(#gBlueBall)"/>
<circle cx="937.0" cy="1020.0" r="22" fill="url(#gBlueBall)"/>
<circle cx="980.0" cy="1040.0" r="22" fill="url(#gBlueBall)"/>
<circle cx="1010.0" cy="1020.0" r="22" fill="url(#gBlueBall)"/>
<circle cx="1035.0" cy="1003.0" r="22" fill="url(#gBlueBall)"/>
<circle cx="1078.0" cy="1065.0" r="22" fill="url(#gBlueBall)"/>
<circle cx="1108.0" cy="942.0" r="22" fill="url(#gBlueBall)"/>
<circle cx="1132.0" cy="1075.0" r="22" fill="url(#gBlueBall)"/>
<circle cx="1153.0" cy="968.0" r="22" fill="url(#gBlueBall)"/>
<circle cx="1175.0" cy="1020.0" r="22" fill="url(#gBlueBall)"/>
<circle cx="1190.0" cy="1045.0" r="22" fill="url(#gBlueBall)"/>
<circle cx="1200.0" cy="1000.0" r="22" fill="url(#gBlueBall)"/>
<circle cx="1215.0" cy="935.0" r="22" fill="url(#gBlueBall)"/>
<circle cx="1225.0" cy="1105.0" r="22" fill="url(#gBlueBall)"/>
<circle cx="1240.0" cy="1060.0" r="22" fill="url(#gBlueBall)"/>
<circle cx="1250.0" cy="985.0" r="22" fill="url(#gBlueBall)"/>
<circle cx="1262.0" cy="1110.0" r="22" fill="url(#gBlueBall)"/>
<circle cx="1268.0" cy="940.0" r="22" fill="url(#gBlueBall)"/>
<circle cx="1275.0" cy="975.0" r="22" fill="url(#gBlueBall)"/>
<circle cx="1268.0" cy="1075.0" r="22" fill="url(#gBlueBall)"/>
<circle cx="1322.0" cy="1100.0" r="22" fill="url(#gBlueBall)"/>
<circle cx="1352.0" cy="995.0" r="22" fill="url(#gBlueBall)"/>
<circle cx="1378.0" cy="1063.0" r="22" fill="url(#gBlueBall)"/>
<circle cx="1393.0" cy="930.0" r="22" fill="url(#gBlueBall)"/>
<circle cx="1420.0" cy="935.0" r="22" fill="url(#gBlueBall)"/>
<circle cx="1435.0" cy="1032.0" r="22" fill="url(#gBlueBall)"/>
<circle cx="1450.0" cy="960.0" r="22" fill="url(#gBlueBall)"/>
<circle cx="1470.0" cy="1000.0" r="22" fill="url(#gBlueBall)"/>
<circle cx="1478.0" cy="915.0" r="22" fill="url(#gBlueBall)"/>
<circle cx="1486.0" cy="1100.0" r="22" fill="url(#gBlueBall)"/>
<circle cx="1500.0" cy="920.0" r="22" fill="url(#gBlueBall)"/>
<circle cx="1515.0" cy="930.0" r="22" fill="url(#gBlueBall)"/>
<circle cx="1520.0" cy="1005.0" r="22" fill="url(#gBlueBall)"/>
<circle cx="1525.0" cy="1068.0" r="22" fill="url(#gBlueBall)"/>
<circle cx="1545.0" cy="995.0" r="22" fill="url(#gBlueBall)"/>
<circle cx="1565.0" cy="990.0" r="22" fill="url(#gBlueBall)"/>
<circle cx="1585.0" cy="985.0" r="22" fill="url(#gBlueBall)"/>
<circle cx="1600.0" cy="1010.0" r="22" fill="url(#gBlueBall)"/>
<circle cx="1610.0" cy="1080.0" r="22" fill="url(#gBlueBall)"/>
<circle cx="1625.0" cy="1050.0" r="22" fill="url(#gBlueBall)"/>
<circle cx="1640.0" cy="1010.0" r="22" fill="url(#gBlueBall)"/>
<circle cx="1650.0" cy="1090.0" r="22" fill="url(#gBlueBall)"/>
<circle cx="1660.0" cy="1040.0" r="22" fill="url(#gBlueBall)"/>
<circle cx="1670.0" cy="1090.0" r="22" fill="url(#gBlueBall)"/>
<circle cx="1680.0" cy="1010.0" r="22" fill="url(#gBlueBall)"/>
<circle cx="1690.0" cy="975.0" r="22" fill="url(#gBlueBall)"/>
<circle cx="1700.0" cy="1040.0" r="22" fill="url(#gBlueBall)"/>
<circle cx="1710.0" cy="960.0" r="22" fill="url(#gBlueBall)"/>
<circle cx="1720.0" cy="1050.0" r="22" fill="url(#gBlueBall)"/>
<circle cx="1730.0" cy="1000.0" r="22" fill="url(#gBlueBall)"/>
<circle cx="1740.0" cy="940.0" r="22" fill="url(#gBlueBall)"/>
<circle cx="1750.0" cy="1060.0" r="22" fill="url(#gBlueBall)"/>
<circle cx="1755.0" cy="985.0" r="22" fill="url(#gBlueBall)"/>
<circle cx="1760.0" cy="935.0" r="22" fill="url(#gBlueBall)"/>
<circle cx="1765.0" cy="1090.0" r="22" fill="url(#gBlueBall)"/>
<circle cx="1770.0" cy="1030.0" r="22" fill="url(#gBlueBall)"/>
<circle cx="1725.0" cy="1020.0" r="22" fill="url(#gBlueBall)"/>
<circle cx="1745.0" cy="1075.0" r="22" fill="url(#gBlueBall)"/>
<circle cx="1700.0" cy="1075.0" r="22" fill="url(#gBlueBall)"/>
<circle cx="1635.0" cy="1070.0" r="22" fill="url(#gBlueBall)"/>
</g>
<line x1="58.0" y1="1305.0" x2="58.0" y2="1279.0" stroke="#000" stroke-width="8"/>
<line x1="131.7" y1="1305.0" x2="131.7" y2="1291.0" stroke="#000" stroke-width="5"/>
<line x1="174.8" y1="1305.0" x2="174.8" y2="1291.0" stroke="#000" stroke-width="5"/>
<line x1="205.4" y1="1305.0" x2="205.4" y2="1291.0" stroke="#000" stroke-width="5"/>
<line x1="229.2" y1="1305.0" x2="229.2" y2="1291.0" stroke="#000" stroke-width="5"/>
<line x1="248.6" y1="1305.0" x2="248.6" y2="1291.0" stroke="#000" stroke-width="5"/>
<line x1="265.0" y1="1305.0" x2="265.0" y2="1291.0" stroke="#000" stroke-width="5"/>
<line x1="279.2" y1="1305.0" x2="279.2" y2="1291.0" stroke="#000" stroke-width="5"/>
<line x1="291.7" y1="1305.0" x2="291.7" y2="1291.0" stroke="#000" stroke-width="5"/>
<line x1="302.9" y1="1305.0" x2="302.9" y2="1279.0" stroke="#000" stroke-width="8"/>
<line x1="376.6" y1="1305.0" x2="376.6" y2="1291.0" stroke="#000" stroke-width="5"/>
<line x1="419.7" y1="1305.0" x2="419.7" y2="1291.0" stroke="#000" stroke-width="5"/>
<line x1="450.3" y1="1305.0" x2="450.3" y2="1291.0" stroke="#000" stroke-width="5"/>
<line x1="474.1" y1="1305.0" x2="474.1" y2="1291.0" stroke="#000" stroke-width="5"/>
<line x1="493.5" y1="1305.0" x2="493.5" y2="1291.0" stroke="#000" stroke-width="5"/>
<line x1="509.9" y1="1305.0" x2="509.9" y2="1291.0" stroke="#000" stroke-width="5"/>
<line x1="524.1" y1="1305.0" x2="524.1" y2="1291.0" stroke="#000" stroke-width="5"/>
<line x1="536.6" y1="1305.0" x2="536.6" y2="1291.0" stroke="#000" stroke-width="5"/>
<line x1="547.8" y1="1305.0" x2="547.8" y2="1279.0" stroke="#000" stroke-width="8"/>
<line x1="621.5" y1="1305.0" x2="621.5" y2="1291.0" stroke="#000" stroke-width="5"/>
<line x1="664.6" y1="1305.0" x2="664.6" y2="1291.0" stroke="#000" stroke-width="5"/>
<line x1="695.2" y1="1305.0" x2="695.2" y2="1291.0" stroke="#000" stroke-width="5"/>
<line x1="719.0" y1="1305.0" x2="719.0" y2="1291.0" stroke="#000" stroke-width="5"/>
<line x1="738.4" y1="1305.0" x2="738.4" y2="1291.0" stroke="#000" stroke-width="5"/>
<line x1="754.8" y1="1305.0" x2="754.8" y2="1291.0" stroke="#000" stroke-width="5"/>
<line x1="769.0" y1="1305.0" x2="769.0" y2="1291.0" stroke="#000" stroke-width="5"/>
<line x1="781.5" y1="1305.0" x2="781.5" y2="1291.0" stroke="#000" stroke-width="5"/>
<line x1="792.7" y1="1305.0" x2="792.7" y2="1279.0" stroke="#000" stroke-width="8"/>
<line x1="866.4" y1="1305.0" x2="866.4" y2="1291.0" stroke="#000" stroke-width="5"/>
<line x1="909.5" y1="1305.0" x2="909.5" y2="1291.0" stroke="#000" stroke-width="5"/>
<line x1="940.1" y1="1305.0" x2="940.1" y2="1291.0" stroke="#000" stroke-width="5"/>
<line x1="963.9" y1="1305.0" x2="963.9" y2="1291.0" stroke="#000" stroke-width="5"/>
<line x1="983.3" y1="1305.0" x2="983.3" y2="1291.0" stroke="#000" stroke-width="5"/>
<line x1="999.7" y1="1305.0" x2="999.7" y2="1291.0" stroke="#000" stroke-width="5"/>
<line x1="1013.9" y1="1305.0" x2="1013.9" y2="1291.0" stroke="#000" stroke-width="5"/>
<line x1="1026.4" y1="1305.0" x2="1026.4" y2="1291.0" stroke="#000" stroke-width="5"/>
<line x1="1037.6" y1="1305.0" x2="1037.6" y2="1279.0" stroke="#000" stroke-width="8"/>
<line x1="1111.3" y1="1305.0" x2="1111.3" y2="1291.0" stroke="#000" stroke-width="5"/>
<line x1="1154.4" y1="1305.0" x2="1154.4" y2="1291.0" stroke="#000" stroke-width="5"/>
<line x1="1185.0" y1="1305.0" x2="1185.0" y2="1291.0" stroke="#000" stroke-width="5"/>
<line x1="1208.8" y1="1305.0" x2="1208.8" y2="1291.0" stroke="#000" stroke-width="5"/>
<line x1="1228.2" y1="1305.0" x2="1228.2" y2="1291.0" stroke="#000" stroke-width="5"/>
<line x1="1244.6" y1="1305.0" x2="1244.6" y2="1291.0" stroke="#000" stroke-width="5"/>
<line x1="1258.8" y1="1305.0" x2="1258.8" y2="1291.0" stroke="#000" stroke-width="5"/>
<line x1="1271.3" y1="1305.0" x2="1271.3" y2="1291.0" stroke="#000" stroke-width="5"/>
<line x1="1282.5" y1="1305.0" x2="1282.5" y2="1279.0" stroke="#000" stroke-width="8"/>
<line x1="1356.2" y1="1305.0" x2="1356.2" y2="1291.0" stroke="#000" stroke-width="5"/>
<line x1="1399.3" y1="1305.0" x2="1399.3" y2="1291.0" stroke="#000" stroke-width="5"/>
<line x1="1429.9" y1="1305.0" x2="1429.9" y2="1291.0" stroke="#000" stroke-width="5"/>
<line x1="1453.7" y1="1305.0" x2="1453.7" y2="1291.0" stroke="#000" stroke-width="5"/>
<line x1="1473.1" y1="1305.0" x2="1473.1" y2="1291.0" stroke="#000" stroke-width="5"/>
<line x1="1489.5" y1="1305.0" x2="1489.5" y2="1291.0" stroke="#000" stroke-width="5"/>
<line x1="1503.7" y1="1305.0" x2="1503.7" y2="1291.0" stroke="#000" stroke-width="5"/>
<line x1="1516.2" y1="1305.0" x2="1516.2" y2="1291.0" stroke="#000" stroke-width="5"/>
<line x1="1527.4" y1="1305.0" x2="1527.4" y2="1279.0" stroke="#000" stroke-width="8"/>
<line x1="1601.1" y1="1305.0" x2="1601.1" y2="1291.0" stroke="#000" stroke-width="5"/>
<line x1="1644.2" y1="1305.0" x2="1644.2" y2="1291.0" stroke="#000" stroke-width="5"/>
<line x1="1674.8" y1="1305.0" x2="1674.8" y2="1291.0" stroke="#000" stroke-width="5"/>
<line x1="1698.6" y1="1305.0" x2="1698.6" y2="1291.0" stroke="#000" stroke-width="5"/>
<line x1="1718.0" y1="1305.0" x2="1718.0" y2="1291.0" stroke="#000" stroke-width="5"/>
<line x1="1734.4" y1="1305.0" x2="1734.4" y2="1291.0" stroke="#000" stroke-width="5"/>
<line x1="1748.6" y1="1305.0" x2="1748.6" y2="1291.0" stroke="#000" stroke-width="5"/>
<line x1="1761.1" y1="1305.0" x2="1761.1" y2="1291.0" stroke="#000" stroke-width="5"/>
<line x1="1772.3" y1="1305.0" x2="1772.3" y2="1279.0" stroke="#000" stroke-width="8"/>
<line x1="58.0" y1="1302.0" x2="86.0" y2="1302.0" stroke="#000" stroke-width="8"/>
<line x1="58.0" y1="1117.2" x2="72.0" y2="1117.2" stroke="#000" stroke-width="5"/>
<line x1="58.0" y1="1009.0" x2="72.0" y2="1009.0" stroke="#000" stroke-width="5"/>
<line x1="58.0" y1="932.3" x2="72.0" y2="932.3" stroke="#000" stroke-width="5"/>
<line x1="58.0" y1="872.8" x2="72.0" y2="872.8" stroke="#000" stroke-width="5"/>
<line x1="58.0" y1="824.2" x2="72.0" y2="824.2" stroke="#000" stroke-width="5"/>
<line x1="58.0" y1="783.1" x2="72.0" y2="783.1" stroke="#000" stroke-width="5"/>
<line x1="58.0" y1="747.5" x2="72.0" y2="747.5" stroke="#000" stroke-width="5"/>
<line x1="58.0" y1="716.1" x2="72.0" y2="716.1" stroke="#000" stroke-width="5"/>
<line x1="58.0" y1="688.0" x2="86.0" y2="688.0" stroke="#000" stroke-width="8"/>
<line x1="58.0" y1="503.2" x2="72.0" y2="503.2" stroke="#000" stroke-width="5"/>
<line x1="58.0" y1="395.0" x2="72.0" y2="395.0" stroke="#000" stroke-width="5"/>
<line x1="58.0" y1="318.3" x2="72.0" y2="318.3" stroke="#000" stroke-width="5"/>
<line x1="58.0" y1="258.8" x2="72.0" y2="258.8" stroke="#000" stroke-width="5"/>
<line x1="58.0" y1="210.2" x2="72.0" y2="210.2" stroke="#000" stroke-width="5"/>
<line x1="58.0" y1="169.1" x2="72.0" y2="169.1" stroke="#000" stroke-width="5"/>
<line x1="58.0" y1="133.5" x2="72.0" y2="133.5" stroke="#000" stroke-width="5"/>
<line x1="58.0" y1="102.1" x2="72.0" y2="102.1" stroke="#000" stroke-width="5"/>
<line x1="58.0" y1="74.0" x2="86.0" y2="74.0" stroke="#000" stroke-width="8"/>
<rect x="58.0" y="22.0" width="1722.0" height="1283.0" fill="none" stroke="#000" stroke-width="9"/>
<text x="130.0" y="135.0" font-size="97" fill="#28287a" textLength="740" lengthAdjust="spacingAndGlyphs">Endurance test</text>
<path d="M308,650 L432,650 L475,488 L652,488 L700,650 L825,650 L873,808 L1053,808 L1093,650 L1220,650" fill="none" stroke="#000" stroke-width="9" stroke-linejoin="miter"/>
<line x1="415.0" y1="562.5" x2="415.0" y2="610.0" stroke="#3a7ccc" stroke-width="5"/><path d="M415.0,635.0 L402.0,609.0 L428.0,609.0 Z" fill="#3a7ccc"/><line x1="415.0" y1="562.5" x2="415.0" y2="515.0" stroke="#3a7ccc" stroke-width="5"/><path d="M415.0,490.0 L428.0,516.0 L402.0,516.0 Z" fill="#3a7ccc"/>
<line x1="562.5" y1="652.0" x2="660.0" y2="652.0" stroke="#3a7ccc" stroke-width="5"/><path d="M685.0,652.0 L659.0,665.0 L659.0,639.0 Z" fill="#3a7ccc"/><line x1="562.5" y1="652.0" x2="465.0" y2="652.0" stroke="#3a7ccc" stroke-width="5"/><path d="M440.0,652.0 L466.0,639.0 L466.0,665.0 Z" fill="#3a7ccc"/>
<line x1="960.5" y1="652.0" x2="1058.0" y2="652.0" stroke="#3a7ccc" stroke-width="5"/><path d="M1083.0,652.0 L1057.0,665.0 L1057.0,639.0 Z" fill="#3a7ccc"/><line x1="960.5" y1="652.0" x2="863.0" y2="652.0" stroke="#3a7ccc" stroke-width="5"/><path d="M838.0,652.0 L864.0,639.0 L864.0,665.0 Z" fill="#3a7ccc"/>
<line x1="1117.0" y1="735.0" x2="1117.0" y2="783.0" stroke="#3a7ccc" stroke-width="5"/><path d="M1117.0,808.0 L1104.0,782.0 L1130.0,782.0 Z" fill="#3a7ccc"/><line x1="1117.0" y1="735.0" x2="1117.0" y2="687.0" stroke="#3a7ccc" stroke-width="5"/><path d="M1117.0,662.0 L1130.0,688.0 L1104.0,688.0 Z" fill="#3a7ccc"/>
<text x="183.0" y="593.0" font-size="80" fill="#000" textLength="195" lengthAdjust="spacingAndGlyphs">0.8 V</text>
<text x="505.0" y="745.0" font-size="80" fill="#000" textLength="163" lengthAdjust="spacingAndGlyphs">1 μs</text>
<text x="882.0" y="603.0" font-size="80" fill="#000" textLength="166" lengthAdjust="spacingAndGlyphs">1 μs</text>
<text x="1165.0" y="765.0" font-size="80" fill="#000" textLength="175" lengthAdjust="spacingAndGlyphs">−1 V</text>
<circle cx="1458.0" cy="598.0" r="24" fill="url(#gRedBall)"/>
<text x="1510.0" y="628.0" font-size="95" fill="#000" textLength="208" lengthAdjust="spacingAndGlyphs">HRS</text>
<circle cx="1458.0" cy="735.0" r="24" fill="url(#gBlueBall)"/>
<text x="1515.0" y="768.0" font-size="95" fill="#000" textLength="197" lengthAdjust="spacingAndGlyphs">LRS</text></g>
<text x="1390.0" y="567.0" font-size="26.5" fill="#000">10</text>
<text x="1419.4" y="558.3" font-size="15.5" fill="#000" style="font-weight:normal;">5</text>
<text x="1390.0" y="700.8" font-size="26.5" fill="#000">10</text>
<text x="1419.4" y="692.1" font-size="15.5" fill="#000" style="font-weight:normal;">4</text>
<text x="1390.0" y="834.2" font-size="26.5" fill="#000">10</text>
<text x="1419.4" y="825.5" font-size="15.5" fill="#000" style="font-weight:normal;">3</text>
<text x="1413.8" y="858.2" font-size="26.5" fill="#000">10</text>
<text x="1443.2" y="849.9" font-size="15.5" fill="#000" style="font-weight:normal;">0</text>
<text x="1466.9" y="858.2" font-size="26.5" fill="#000">10</text>
<text x="1496.3" y="849.9" font-size="15.5" fill="#000" style="font-weight:normal;">1</text>
<text x="1519.9" y="858.2" font-size="26.5" fill="#000">10</text>
<text x="1549.3" y="849.9" font-size="15.5" fill="#000" style="font-weight:normal;">2</text>
<text x="1573.0" y="858.2" font-size="26.5" fill="#000">10</text>
<text x="1602.4" y="849.9" font-size="15.5" fill="#000" style="font-weight:normal;">3</text>
<text x="1626.1" y="858.2" font-size="26.5" fill="#000">10</text>
<text x="1655.5" y="849.9" font-size="15.5" fill="#000" style="font-weight:normal;">4</text>
<text x="1679.2" y="858.2" font-size="26.5" fill="#000">10</text>
<text x="1708.6" y="849.9" font-size="15.5" fill="#000" style="font-weight:normal;">5</text>
<text x="1732.2" y="858.2" font-size="26.5" fill="#000">10</text>
<text x="1761.6" y="849.9" font-size="15.5" fill="#000" style="font-weight:normal;">6</text>
<text x="1785.3" y="858.2" font-size="26.5" fill="#000">10</text>
<text x="1814.7" y="849.9" font-size="15.5" fill="#000" style="font-weight:normal;">7</text>
<text x="1477.0" y="891.7" font-size="25" fill="#000" textLength="290.3" lengthAdjust="spacingAndGlyphs">Number of pulse cycles</text>
<text x="0.0" y="0.0" font-size="25" fill="#000" text-anchor="middle" textLength="163" lengthAdjust="spacingAndGlyphs" transform="translate(1382.2,699.6) rotate(-90)">Resistance/Ω</text>
<text x="10.0" y="984.3" font-size="34" fill="#000">(f)</text>
<text x="247.0" y="994.6" font-size="29.5" fill="#000" textLength="424.5" lengthAdjust="spacingAndGlyphs">Electron-restricted NPC effect</text>
<rect x="55.0" y="1007.0" width="799.0" height="328.5" fill="url(#gFbg)"/>
<g transform="translate(50,1000) scale(0.252685)"><path d="M1450.0,1170.0 L1583.0,1160.0 L1583.0,1290.0 L1400.0,1300.0 Z" fill="#4a5ab8" opacity="0.6"/>
<path d="M210.0,145.0 L322.0,140.0 L322.0,1285.0 L210.0,1255.0 Z" fill="url(#gFTOside)"/>
<path d="M322.0,140.0 L560.0,190.0 L560.0,1230.0 L322.0,1285.0 Z" fill="url(#gFTOfront)"/>
<path d="M322.0,140.0 L560.0,190.0 L560.0,1230.0 L322.0,1285.0 Z" fill="url(#gFTOglow)"/>
<path d="M535.0,150.0 L870.0,150.0 L870.0,1295.0 L535.0,1295.0 Z" fill="#1f2f7c"/>
<path d="M669.0,206.0 L604.0,271.0 L669.0,271.0 Z" fill="#3a64b8"/>
<path d="M669.0,206.0 L734.0,271.0 L669.0,271.0 Z" fill="#26408a"/>
<path d="M669.0,336.0 L604.0,271.0 L669.0,271.0 Z" fill="#4a7cc8"/>
<path d="M669.0,336.0 L734.0,271.0 L669.0,271.0 Z" fill="#223a80"/>
<path d="M669.0,206.0 L604.0,271.0 L669.0,336.0 L734.0,271.0 Z" fill="none" stroke="#6aaee8" stroke-width="4"/>
<line x1="669.0" y1="206.0" x2="669.0" y2="336.0" stroke="#6aaee8" stroke-width="2.5"/>
<line x1="604.0" y1="271.0" x2="734.0" y2="271.0" stroke="#6aaee8" stroke-width="2.5"/>
<path d="M669.0,336.0 L604.0,401.0 L669.0,401.0 Z" fill="#3a64b8"/>
<path d="M669.0,336.0 L734.0,401.0 L669.0,401.0 Z" fill="#26408a"/>
<path d="M669.0,466.0 L604.0,401.0 L669.0,401.0 Z" fill="#4a7cc8"/>
<path d="M669.0,466.0 L734.0,401.0 L669.0,401.0 Z" fill="#223a80"/>
<path d="M669.0,336.0 L604.0,401.0 L669.0,466.0 L734.0,401.0 Z" fill="none" stroke="#6aaee8" stroke-width="4"/>
<line x1="669.0" y1="336.0" x2="669.0" y2="466.0" stroke="#6aaee8" stroke-width="2.5"/>
<line x1="604.0" y1="401.0" x2="734.0" y2="401.0" stroke="#6aaee8" stroke-width="2.5"/>
<path d="M669.0,466.0 L604.0,531.0 L669.0,531.0 Z" fill="#3a64b8"/>
<path d="M669.0,466.0 L734.0,531.0 L669.0,531.0 Z" fill="#26408a"/>
<path d="M669.0,596.0 L604.0,531.0 L669.0,531.0 Z" fill="#4a7cc8"/>
<path d="M669.0,596.0 L734.0,531.0 L669.0,531.0 Z" fill="#223a80"/>
<path d="M669.0,466.0 L604.0,531.0 L669.0,596.0 L734.0,531.0 Z" fill="none" stroke="#6aaee8" stroke-width="4"/>
<line x1="669.0" y1="466.0" x2="669.0" y2="596.0" stroke="#6aaee8" stroke-width="2.5"/>
<line x1="604.0" y1="531.0" x2="734.0" y2="531.0" stroke="#6aaee8" stroke-width="2.5"/>
<path d="M669.0,596.0 L604.0,661.0 L669.0,661.0 Z" fill="#3a64b8"/>
<path d="M669.0,596.0 L734.0,661.0 L669.0,661.0 Z" fill="#26408a"/>
<path d="M669.0,726.0 L604.0,661.0 L669.0,661.0 Z" fill="#4a7cc8"/>
<path d="M669.0,726.0 L734.0,661.0 L669.0,661.0 Z" fill="#223a80"/>
<path d="M669.0,596.0 L604.0,661.0 L669.0,726.0 L734.0,661.0 Z" fill="none" stroke="#6aaee8" stroke-width="4"/>
<line x1="669.0" y1="596.0" x2="669.0" y2="726.0" stroke="#6aaee8" stroke-width="2.5"/>
<line x1="604.0" y1="661.0" x2="734.0" y2="661.0" stroke="#6aaee8" stroke-width="2.5"/>
<path d="M669.0,726.0 L604.0,791.0 L669.0,791.0 Z" fill="#3a64b8"/>
<path d="M669.0,726.0 L734.0,791.0 L669.0,791.0 Z" fill="#26408a"/>
<path d="M669.0,856.0 L604.0,791.0 L669.0,791.0 Z" fill="#4a7cc8"/>
<path d="M669.0,856.0 L734.0,791.0 L669.0,791.0 Z" fill="#223a80"/>
<path d="M669.0,726.0 L604.0,791.0 L669.0,856.0 L734.0,791.0 Z" fill="none" stroke="#6aaee8" stroke-width="4"/>
<line x1="669.0" y1="726.0" x2="669.0" y2="856.0" stroke="#6aaee8" stroke-width="2.5"/>
<line x1="604.0" y1="791.0" x2="734.0" y2="791.0" stroke="#6aaee8" stroke-width="2.5"/>
<path d="M669.0,856.0 L604.0,921.0 L669.0,921.0 Z" fill="#3a64b8"/>
<path d="M669.0,856.0 L734.0,921.0 L669.0,921.0 Z" fill="#26408a"/>
<path d="M669.0,986.0 L604.0,921.0 L669.0,921.0 Z" fill="#4a7cc8"/>
<path d="M669.0,986.0 L734.0,921.0 L669.0,921.0 Z" fill="#223a80"/>
<path d="M669.0,856.0 L604.0,921.0 L669.0,986.0 L734.0,921.0 Z" fill="none" stroke="#6aaee8" stroke-width="4"/>
<line x1="669.0" y1="856.0" x2="669.0" y2="986.0" stroke="#6aaee8" stroke-width="2.5"/>
<line x1="604.0" y1="921.0" x2="734.0" y2="921.0" stroke="#6aaee8" stroke-width="2.5"/>
<path d="M669.0,986.0 L604.0,1051.0 L669.0,1051.0 Z" fill="#3a64b8"/>
<path d="M669.0,986.0 L734.0,1051.0 L669.0,1051.0 Z" fill="#26408a"/>
<path d="M669.0,1116.0 L604.0,1051.0 L669.0,1051.0 Z" fill="#4a7cc8"/>
<path d="M669.0,1116.0 L734.0,1051.0 L669.0,1051.0 Z" fill="#223a80"/>
<path d="M669.0,986.0 L604.0,1051.0 L669.0,1116.0 L734.0,1051.0 Z" fill="none" stroke="#6aaee8" stroke-width="4"/>
<line x1="669.0" y1="986.0" x2="669.0" y2="1116.0" stroke="#6aaee8" stroke-width="2.5"/>
<line x1="604.0" y1="1051.0" x2="734.0" y2="1051.0" stroke="#6aaee8" stroke-width="2.5"/>
<path d="M669.0,1116.0 L604.0,1181.0 L669.0,1181.0 Z" fill="#3a64b8"/>
<path d="M669.0,1116.0 L734.0,1181.0 L669.0,1181.0 Z" fill="#26408a"/>
<path d="M669.0,1246.0 L604.0,1181.0 L669.0,1181.0 Z" fill="#4a7cc8"/>
<path d="M669.0,1246.0 L734.0,1181.0 L669.0,1181.0 Z" fill="#223a80"/>
<path d="M669.0,1116.0 L604.0,1181.0 L669.0,1246.0 L734.0,1181.0 Z" fill="none" stroke="#6aaee8" stroke-width="4"/>
<line x1="669.0" y1="1116.0" x2="669.0" y2="1246.0" stroke="#6aaee8" stroke-width="2.5"/>
<line x1="604.0" y1="1181.0" x2="734.0" y2="1181.0" stroke="#6aaee8" stroke-width="2.5"/>
<path d="M799.0,206.0 L734.0,271.0 L799.0,271.0 Z" fill="#3a64b8"/>
<path d="M799.0,206.0 L864.0,271.0 L799.0,271.0 Z" fill="#26408a"/>
<path d="M799.0,336.0 L734.0,271.0 L799.0,271.0 Z" fill="#4a7cc8"/>
<path d="M799.0,336.0 L864.0,271.0 L799.0,271.0 Z" fill="#223a80"/>
<path d="M799.0,206.0 L734.0,271.0 L799.0,336.0 L864.0,271.0 Z" fill="none" stroke="#6aaee8" stroke-width="4"/>
<line x1="799.0" y1="206.0" x2="799.0" y2="336.0" stroke="#6aaee8" stroke-width="2.5"/>
<line x1="734.0" y1="271.0" x2="864.0" y2="271.0" stroke="#6aaee8" stroke-width="2.5"/>
<path d="M799.0,336.0 L734.0,401.0 L799.0,401.0 Z" fill="#3a64b8"/>
<path d="M799.0,336.0 L864.0,401.0 L799.0,401.0 Z" fill="#26408a"/>
<path d="M799.0,466.0 L734.0,401.0 L799.0,401.0 Z" fill="#4a7cc8"/>
<path d="M799.0,466.0 L864.0,401.0 L799.0,401.0 Z" fill="#223a80"/>
<path d="M799.0,336.0 L734.0,401.0 L799.0,466.0 L864.0,401.0 Z" fill="none" stroke="#6aaee8" stroke-width="4"/>
<line x1="799.0" y1="336.0" x2="799.0" y2="466.0" stroke="#6aaee8" stroke-width="2.5"/>
<line x1="734.0" y1="401.0" x2="864.0" y2="401.0" stroke="#6aaee8" stroke-width="2.5"/>
<path d="M799.0,466.0 L734.0,531.0 L799.0,531.0 Z" fill="#3a64b8"/>
<path d="M799.0,466.0 L864.0,531.0 L799.0,531.0 Z" fill="#26408a"/>
<path d="M799.0,596.0 L734.0,531.0 L799.0,531.0 Z" fill="#4a7cc8"/>
<path d="M799.0,596.0 L864.0,531.0 L799.0,531.0 Z" fill="#223a80"/>
<path d="M799.0,466.0 L734.0,531.0 L799.0,596.0 L864.0,531.0 Z" fill="none" stroke="#6aaee8" stroke-width="4"/>
<line x1="799.0" y1="466.0" x2="799.0" y2="596.0" stroke="#6aaee8" stroke-width="2.5"/>
<line x1="734.0" y1="531.0" x2="864.0" y2="531.0" stroke="#6aaee8" stroke-width="2.5"/>
<path d="M799.0,596.0 L734.0,661.0 L799.0,661.0 Z" fill="#3a64b8"/>
<path d="M799.0,596.0 L864.0,661.0 L799.0,661.0 Z" fill="#26408a"/>
<path d="M799.0,726.0 L734.0,661.0 L799.0,661.0 Z" fill="#4a7cc8"/>
<path d="M799.0,726.0 L864.0,661.0 L799.0,661.0 Z" fill="#223a80"/>
<path d="M799.0,596.0 L734.0,661.0 L799.0,726.0 L864.0,661.0 Z" fill="none" stroke="#6aaee8" stroke-width="4"/>
<line x1="799.0" y1="596.0" x2="799.0" y2="726.0" stroke="#6aaee8" stroke-width="2.5"/>
<line x1="734.0" y1="661.0" x2="864.0" y2="661.0" stroke="#6aaee8" stroke-width="2.5"/>
<path d="M799.0,726.0 L734.0,791.0 L799.0,791.0 Z" fill="#3a64b8"/>
<path d="M799.0,726.0 L864.0,791.0 L799.0,791.0 Z" fill="#26408a"/>
<path d="M799.0,856.0 L734.0,791.0 L799.0,791.0 Z" fill="#4a7cc8"/>
<path d="M799.0,856.0 L864.0,791.0 L799.0,791.0 Z" fill="#223a80"/>
<path d="M799.0,726.0 L734.0,791.0 L799.0,856.0 L864.0,791.0 Z" fill="none" stroke="#6aaee8" stroke-width="4"/>
<line x1="799.0" y1="726.0" x2="799.0" y2="856.0" stroke="#6aaee8" stroke-width="2.5"/>
<line x1="734.0" y1="791.0" x2="864.0" y2="791.0" stroke="#6aaee8" stroke-width="2.5"/>
<path d="M799.0,856.0 L734.0,921.0 L799.0,921.0 Z" fill="#3a64b8"/>
<path d="M799.0,856.0 L864.0,921.0 L799.0,921.0 Z" fill="#26408a"/>
<path d="M799.0,986.0 L734.0,921.0 L799.0,921.0 Z" fill="#4a7cc8"/>
<path d="M799.0,986.0 L864.0,921.0 L799.0,921.0 Z" fill="#223a80"/>
<path d="M799.0,856.0 L734.0,921.0 L799.0,986.0 L864.0,921.0 Z" fill="none" stroke="#6aaee8" stroke-width="4"/>
<line x1="799.0" y1="856.0" x2="799.0" y2="986.0" stroke="#6aaee8" stroke-width="2.5"/>
<line x1="734.0" y1="921.0" x2="864.0" y2="921.0" stroke="#6aaee8" stroke-width="2.5"/>
<path d="M799.0,986.0 L734.0,1051.0 L799.0,1051.0 Z" fill="#3a64b8"/>
<path d="M799.0,986.0 L864.0,1051.0 L799.0,1051.0 Z" fill="#26408a"/>
<path d="M799.0,1116.0 L734.0,1051.0 L799.0,1051.0 Z" fill="#4a7cc8"/>
<path d="M799.0,1116.0 L864.0,1051.0 L799.0,1051.0 Z" fill="#223a80"/>
<path d="M799.0,986.0 L734.0,1051.0 L799.0,1116.0 L864.0,1051.0 Z" fill="none" stroke="#6aaee8" stroke-width="4"/>
<line x1="799.0" y1="986.0" x2="799.0" y2="1116.0" stroke="#6aaee8" stroke-width="2.5"/>
<line x1="734.0" y1="1051.0" x2="864.0" y2="1051.0" stroke="#6aaee8" stroke-width="2.5"/>
<path d="M799.0,1116.0 L734.0,1181.0 L799.0,1181.0 Z" fill="#3a64b8"/>
<path d="M799.0,1116.0 L864.0,1181.0 L799.0,1181.0 Z" fill="#26408a"/>
<path d="M799.0,1246.0 L734.0,1181.0 L799.0,1181.0 Z" fill="#4a7cc8"/>
<path d="M799.0,1246.0 L864.0,1181.0 L799.0,1181.0 Z" fill="#223a80"/>
<path d="M799.0,1116.0 L734.0,1181.0 L799.0,1246.0 L864.0,1181.0 Z" fill="none" stroke="#6aaee8" stroke-width="4"/>
<line x1="799.0" y1="1116.0" x2="799.0" y2="1246.0" stroke="#6aaee8" stroke-width="2.5"/>
<line x1="734.0" y1="1181.0" x2="864.0" y2="1181.0" stroke="#6aaee8" stroke-width="2.5"/>
<path d="M604.0,141.0 L539.0,206.0 L604.0,206.0 Z" fill="#86ccf2"/>
<path d="M604.0,141.0 L669.0,206.0 L604.0,206.0 Z" fill="#5eb2ea"/>
<path d="M604.0,271.0 L539.0,206.0 L604.0,206.0 Z" fill="#3e84cc"/>
<path d="M604.0,271.0 L669.0,206.0 L604.0,206.0 Z" fill="#2c62b0"/>
<path d="M604.0,141.0 L539.0,206.0 L604.0,271.0 L669.0,206.0 Z" fill="none" stroke="#a8e4ff" stroke-width="4"/>
<line x1="604.0" y1="141.0" x2="604.0" y2="271.0" stroke="#a8e4ff" stroke-width="2.5"/>
<line x1="539.0" y1="206.0" x2="669.0" y2="206.0" stroke="#a8e4ff" stroke-width="2.5"/>
<circle cx="604.0" cy="206.0" r="14" fill="#1c2c7e"/>
<path d="M604.0,271.0 L539.0,336.0 L604.0,336.0 Z" fill="#86ccf2"/>
<path d="M604.0,271.0 L669.0,336.0 L604.0,336.0 Z" fill="#5eb2ea"/>
<path d="M604.0,401.0 L539.0,336.0 L604.0,336.0 Z" fill="#3e84cc"/>
<path d="M604.0,401.0 L669.0,336.0 L604.0,336.0 Z" fill="#2c62b0"/>
<path d="M604.0,271.0 L539.0,336.0 L604.0,401.0 L669.0,336.0 Z" fill="none" stroke="#a8e4ff" stroke-width="4"/>
<line x1="604.0" y1="271.0" x2="604.0" y2="401.0" stroke="#a8e4ff" stroke-width="2.5"/>
<line x1="539.0" y1="336.0" x2="669.0" y2="336.0" stroke="#a8e4ff" stroke-width="2.5"/>
<circle cx="604.0" cy="336.0" r="14" fill="#1c2c7e"/>
<path d="M604.0,401.0 L539.0,466.0 L604.0,466.0 Z" fill="#86ccf2"/>
<path d="M604.0,401.0 L669.0,466.0 L604.0,466.0 Z" fill="#5eb2ea"/>
<path d="M604.0,531.0 L539.0,466.0 L604.0,466.0 Z" fill="#3e84cc"/>
<path d="M604.0,531.0 L669.0,466.0 L604.0,466.0 Z" fill="#2c62b0"/>
<path d="M604.0,401.0 L539.0,466.0 L604.0,531.0 L669.0,466.0 Z" fill="none" stroke="#a8e4ff" stroke-width="4"/>
<line x1="604.0" y1="401.0" x2="604.0" y2="531.0" stroke="#a8e4ff" stroke-width="2.5"/>
<line x1="539.0" y1="466.0" x2="669.0" y2="466.0" stroke="#a8e4ff" stroke-width="2.5"/>
<circle cx="604.0" cy="466.0" r="14" fill="#1c2c7e"/>
<path d="M604.0,531.0 L539.0,596.0 L604.0,596.0 Z" fill="#86ccf2"/>
<path d="M604.0,531.0 L669.0,596.0 L604.0,596.0 Z" fill="#5eb2ea"/>
<path d="M604.0,661.0 L539.0,596.0 L604.0,596.0 Z" fill="#3e84cc"/>
<path d="M604.0,661.0 L669.0,596.0 L604.0,596.0 Z" fill="#2c62b0"/>
<path d="M604.0,531.0 L539.0,596.0 L604.0,661.0 L669.0,596.0 Z" fill="none" stroke="#a8e4ff" stroke-width="4"/>
<line x1="604.0" y1="531.0" x2="604.0" y2="661.0" stroke="#a8e4ff" stroke-width="2.5"/>
<line x1="539.0" y1="596.0" x2="669.0" y2="596.0" stroke="#a8e4ff" stroke-width="2.5"/>
<circle cx="604.0" cy="596.0" r="14" fill="#1c2c7e"/>
<path d="M604.0,661.0 L539.0,726.0 L604.0,726.0 Z" fill="#86ccf2"/>
<path d="M604.0,661.0 L669.0,726.0 L604.0,726.0 Z" fill="#5eb2ea"/>
<path d="M604.0,791.0 L539.0,726.0 L604.0,726.0 Z" fill="#3e84cc"/>
<path d="M604.0,791.0 L669.0,726.0 L604.0,726.0 Z" fill="#2c62b0"/>
<path d="M604.0,661.0 L539.0,726.0 L604.0,791.0 L669.0,726.0 Z" fill="none" stroke="#a8e4ff" stroke-width="4"/>
<line x1="604.0" y1="661.0" x2="604.0" y2="791.0" stroke="#a8e4ff" stroke-width="2.5"/>
<line x1="539.0" y1="726.0" x2="669.0" y2="726.0" stroke="#a8e4ff" stroke-width="2.5"/>
<circle cx="604.0" cy="726.0" r="14" fill="#1c2c7e"/>
<path d="M604.0,791.0 L539.0,856.0 L604.0,856.0 Z" fill="#86ccf2"/>
<path d="M604.0,791.0 L669.0,856.0 L604.0,856.0 Z" fill="#5eb2ea"/>
<path d="M604.0,921.0 L539.0,856.0 L604.0,856.0 Z" fill="#3e84cc"/>
<path d="M604.0,921.0 L669.0,856.0 L604.0,856.0 Z" fill="#2c62b0"/>
<path d="M604.0,791.0 L539.0,856.0 L604.0,921.0 L669.0,856.0 Z" fill="none" stroke="#a8e4ff" stroke-width="4"/>
<line x1="604.0" y1="791.0" x2="604.0" y2="921.0" stroke="#a8e4ff" stroke-width="2.5"/>
<line x1="539.0" y1="856.0" x2="669.0" y2="856.0" stroke="#a8e4ff" stroke-width="2.5"/>
<circle cx="604.0" cy="856.0" r="14" fill="#1c2c7e"/>
<path d="M604.0,921.0 L539.0,986.0 L604.0,986.0 Z" fill="#86ccf2"/>
<path d="M604.0,921.0 L669.0,986.0 L604.0,986.0 Z" fill="#5eb2ea"/>
<path d="M604.0,1051.0 L539.0,986.0 L604.0,986.0 Z" fill="#3e84cc"/>
<path d="M604.0,1051.0 L669.0,986.0 L604.0,986.0 Z" fill="#2c62b0"/>
<path d="M604.0,921.0 L539.0,986.0 L604.0,1051.0 L669.0,986.0 Z" fill="none" stroke="#a8e4ff" stroke-width="4"/>
<line x1="604.0" y1="921.0" x2="604.0" y2="1051.0" stroke="#a8e4ff" stroke-width="2.5"/>
<line x1="539.0" y1="986.0" x2="669.0" y2="986.0" stroke="#a8e4ff" stroke-width="2.5"/>
<circle cx="604.0" cy="986.0" r="14" fill="#1c2c7e"/>
<path d="M604.0,1051.0 L539.0,1116.0 L604.0,1116.0 Z" fill="#86ccf2"/>
<path d="M604.0,1051.0 L669.0,1116.0 L604.0,1116.0 Z" fill="#5eb2ea"/>
<path d="M604.0,1181.0 L539.0,1116.0 L604.0,1116.0 Z" fill="#3e84cc"/>
<path d="M604.0,1181.0 L669.0,1116.0 L604.0,1116.0 Z" fill="#2c62b0"/>
<path d="M604.0,1051.0 L539.0,1116.0 L604.0,1181.0 L669.0,1116.0 Z" fill="none" stroke="#a8e4ff" stroke-width="4"/>
<line x1="604.0" y1="1051.0" x2="604.0" y2="1181.0" stroke="#a8e4ff" stroke-width="2.5"/>
<line x1="539.0" y1="1116.0" x2="669.0" y2="1116.0" stroke="#a8e4ff" stroke-width="2.5"/>
<circle cx="604.0" cy="1116.0" r="14" fill="#1c2c7e"/>
<path d="M604.0,1181.0 L539.0,1246.0 L604.0,1246.0 Z" fill="#86ccf2"/>
<path d="M604.0,1181.0 L669.0,1246.0 L604.0,1246.0 Z" fill="#5eb2ea"/>
<path d="M604.0,1311.0 L539.0,1246.0 L604.0,1246.0 Z" fill="#3e84cc"/>
<path d="M604.0,1311.0 L669.0,1246.0 L604.0,1246.0 Z" fill="#2c62b0"/>
<path d="M604.0,1181.0 L539.0,1246.0 L604.0,1311.0 L669.0,1246.0 Z" fill="none" stroke="#a8e4ff" stroke-width="4"/>
<line x1="604.0" y1="1181.0" x2="604.0" y2="1311.0" stroke="#a8e4ff" stroke-width="2.5"/>
<line x1="539.0" y1="1246.0" x2="669.0" y2="1246.0" stroke="#a8e4ff" stroke-width="2.5"/>
<circle cx="604.0" cy="1246.0" r="14" fill="#1c2c7e"/>
<path d="M734.0,141.0 L669.0,206.0 L734.0,206.0 Z" fill="#86ccf2"/>
<path d="M734.0,141.0 L799.0,206.0 L734.0,206.0 Z" fill="#5eb2ea"/>
<path d="M734.0,271.0 L669.0,206.0 L734.0,206.0 Z" fill="#3e84cc"/>
<path d="M734.0,271.0 L799.0,206.0 L734.0,206.0 Z" fill="#2c62b0"/>
<path d="M734.0,141.0 L669.0,206.0 L734.0,271.0 L799.0,206.0 Z" fill="none" stroke="#a8e4ff" stroke-width="4"/>
<line x1="734.0" y1="141.0" x2="734.0" y2="271.0" stroke="#a8e4ff" stroke-width="2.5"/>
<line x1="669.0" y1="206.0" x2="799.0" y2="206.0" stroke="#a8e4ff" stroke-width="2.5"/>
<circle cx="734.0" cy="206.0" r="14" fill="#1c2c7e"/>
<path d="M734.0,271.0 L669.0,336.0 L734.0,336.0 Z" fill="#86ccf2"/>
<path d="M734.0,271.0 L799.0,336.0 L734.0,336.0 Z" fill="#5eb2ea"/>
<path d="M734.0,401.0 L669.0,336.0 L734.0,336.0 Z" fill="#3e84cc"/>
<path d="M734.0,401.0 L799.0,336.0 L734.0,336.0 Z" fill="#2c62b0"/>
<path d="M734.0,271.0 L669.0,336.0 L734.0,401.0 L799.0,336.0 Z" fill="none" stroke="#a8e4ff" stroke-width="4"/>
<line x1="734.0" y1="271.0" x2="734.0" y2="401.0" stroke="#a8e4ff" stroke-width="2.5"/>
<line x1="669.0" y1="336.0" x2="799.0" y2="336.0" stroke="#a8e4ff" stroke-width="2.5"/>
<circle cx="734.0" cy="336.0" r="14" fill="#1c2c7e"/>
<path d="M734.0,401.0 L669.0,466.0 L734.0,466.0 Z" fill="#86ccf2"/>
<path d="M734.0,401.0 L799.0,466.0 L734.0,466.0 Z" fill="#5eb2ea"/>
<path d="M734.0,531.0 L669.0,466.0 L734.0,466.0 Z" fill="#3e84cc"/>
<path d="M734.0,531.0 L799.0,466.0 L734.0,466.0 Z" fill="#2c62b0"/>
<path d="M734.0,401.0 L669.0,466.0 L734.0,531.0 L799.0,466.0 Z" fill="none" stroke="#a8e4ff" stroke-width="4"/>
<line x1="734.0" y1="401.0" x2="734.0" y2="531.0" stroke="#a8e4ff" stroke-width="2.5"/>
<line x1="669.0" y1="466.0" x2="799.0" y2="466.0" stroke="#a8e4ff" stroke-width="2.5"/>
<circle cx="734.0" cy="466.0" r="14" fill="#1c2c7e"/>
<path d="M734.0,531.0 L669.0,596.0 L734.0,596.0 Z" fill="#86ccf2"/>
<path d="M734.0,531.0 L799.0,596.0 L734.0,596.0 Z" fill="#5eb2ea"/>
<path d="M734.0,661.0 L669.0,596.0 L734.0,596.0 Z" fill="#3e84cc"/>
<path d="M734.0,661.0 L799.0,596.0 L734.0,596.0 Z" fill="#2c62b0"/>
<path d="M734.0,531.0 L669.0,596.0 L734.0,661.0 L799.0,596.0 Z" fill="none" stroke="#a8e4ff" stroke-width="4"/>
<line x1="734.0" y1="531.0" x2="734.0" y2="661.0" stroke="#a8e4ff" stroke-width="2.5"/>
<line x1="669.0" y1="596.0" x2="799.0" y2="596.0" stroke="#a8e4ff" stroke-width="2.5"/>
<circle cx="734.0" cy="596.0" r="14" fill="#1c2c7e"/>
<path d="M734.0,661.0 L669.0,726.0 L734.0,726.0 Z" fill="#86ccf2"/>
<path d="M734.0,661.0 L799.0,726.0 L734.0,726.0 Z" fill="#5eb2ea"/>
<path d="M734.0,791.0 L669.0,726.0 L734.0,726.0 Z" fill="#3e84cc"/>
<path d="M734.0,791.0 L799.0,726.0 L734.0,726.0 Z" fill="#2c62b0"/>
<path d="M734.0,661.0 L669.0,726.0 L734.0,791.0 L799.0,726.0 Z" fill="none" stroke="#a8e4ff" stroke-width="4"/>
<line x1="734.0" y1="661.0" x2="734.0" y2="791.0" stroke="#a8e4ff" stroke-width="2.5"/>
<line x1="669.0" y1="726.0" x2="799.0" y2="726.0" stroke="#a8e4ff" stroke-width="2.5"/>
<circle cx="734.0" cy="726.0" r="14" fill="#1c2c7e"/>
<path d="M734.0,791.0 L669.0,856.0 L734.0,856.0 Z" fill="#86ccf2"/>
<path d="M734.0,791.0 L799.0,856.0 L734.0,856.0 Z" fill="#5eb2ea"/>
<path d="M734.0,921.0 L669.0,856.0 L734.0,856.0 Z" fill="#3e84cc"/>
<path d="M734.0,921.0 L799.0,856.0 L734.0,856.0 Z" fill="#2c62b0"/>
<path d="M734.0,791.0 L669.0,856.0 L734.0,921.0 L799.0,856.0 Z" fill="none" stroke="#a8e4ff" stroke-width="4"/>
<line x1="734.0" y1="791.0" x2="734.0" y2="921.0" stroke="#a8e4ff" stroke-width="2.5"/>
<line x1="669.0" y1="856.0" x2="799.0" y2="856.0" stroke="#a8e4ff" stroke-width="2.5"/>
<circle cx="734.0" cy="856.0" r="14" fill="#1c2c7e"/>
<path d="M734.0,921.0 L669.0,986.0 L734.0,986.0 Z" fill="#86ccf2"/>
<path d="M734.0,921.0 L799.0,986.0 L734.0,986.0 Z" fill="#5eb2ea"/>
<path d="M734.0,1051.0 L669.0,986.0 L734.0,986.0 Z" fill="#3e84cc"/>
<path d="M734.0,1051.0 L799.0,986.0 L734.0,986.0 Z" fill="#2c62b0"/>
<path d="M734.0,921.0 L669.0,986.0 L734.0,1051.0 L799.0,986.0 Z" fill="none" stroke="#a8e4ff" stroke-width="4"/>
<line x1="734.0" y1="921.0" x2="734.0" y2="1051.0" stroke="#a8e4ff" stroke-width="2.5"/>
<line x1="669.0" y1="986.0" x2="799.0" y2="986.0" stroke="#a8e4ff" stroke-width="2.5"/>
<circle cx="734.0" cy="986.0" r="14" fill="#1c2c7e"/>
<path d="M734.0,1051.0 L669.0,1116.0 L734.0,1116.0 Z" fill="#86ccf2"/>
<path d="M734.0,1051.0 L799.0,1116.0 L734.0,1116.0 Z" fill="#5eb2ea"/>
<path d="M734.0,1181.0 L669.0,1116.0 L734.0,1116.0 Z" fill="#3e84cc"/>
<path d="M734.0,1181.0 L799.0,1116.0 L734.0,1116.0 Z" fill="#2c62b0"/>
<path d="M734.0,1051.0 L669.0,1116.0 L734.0,1181.0 L799.0,1116.0 Z" fill="none" stroke="#a8e4ff" stroke-width="4"/>
<line x1="734.0" y1="1051.0" x2="734.0" y2="1181.0" stroke="#a8e4ff" stroke-width="2.5"/>
<line x1="669.0" y1="1116.0" x2="799.0" y2="1116.0" stroke="#a8e4ff" stroke-width="2.5"/>
<circle cx="734.0" cy="1116.0" r="14" fill="#1c2c7e"/>
<path d="M734.0,1181.0 L669.0,1246.0 L734.0,1246.0 Z" fill="#86ccf2"/>
<path d="M734.0,1181.0 L799.0,1246.0 L734.0,1246.0 Z" fill="#5eb2ea"/>
<path d="M734.0,1311.0 L669.0,1246.0 L734.0,1246.0 Z" fill="#3e84cc"/>
<path d="M734.0,1311.0 L799.0,1246.0 L734.0,1246.0 Z" fill="#2c62b0"/>
<path d="M734.0,1181.0 L669.0,1246.0 L734.0,1311.0 L799.0,1246.0 Z" fill="none" stroke="#a8e4ff" stroke-width="4"/>
<line x1="734.0" y1="1181.0" x2="734.0" y2="1311.0" stroke="#a8e4ff" stroke-width="2.5"/>
<line x1="669.0" y1="1246.0" x2="799.0" y2="1246.0" stroke="#a8e4ff" stroke-width="2.5"/>
<circle cx="734.0" cy="1246.0" r="14" fill="#1c2c7e"/>
<path d="M864.0,141.0 L799.0,206.0 L864.0,206.0 Z" fill="#86ccf2"/>
<path d="M864.0,141.0 L929.0,206.0 L864.0,206.0 Z" fill="#5eb2ea"/>
<path d="M864.0,271.0 L799.0,206.0 L864.0,206.0 Z" fill="#3e84cc"/>
<path d="M864.0,271.0 L929.0,206.0 L864.0,206.0 Z" fill="#2c62b0"/>
<path d="M864.0,141.0 L799.0,206.0 L864.0,271.0 L929.0,206.0 Z" fill="none" stroke="#a8e4ff" stroke-width="4"/>
<line x1="864.0" y1="141.0" x2="864.0" y2="271.0" stroke="#a8e4ff" stroke-width="2.5"/>
<line x1="799.0" y1="206.0" x2="929.0" y2="206.0" stroke="#a8e4ff" stroke-width="2.5"/>
<circle cx="864.0" cy="206.0" r="14" fill="#1c2c7e"/>
<path d="M864.0,271.0 L799.0,336.0 L864.0,336.0 Z" fill="#86ccf2"/>
<path d="M864.0,271.0 L929.0,336.0 L864.0,336.0 Z" fill="#5eb2ea"/>
<path d="M864.0,401.0 L799.0,336.0 L864.0,336.0 Z" fill="#3e84cc"/>
<path d="M864.0,401.0 L929.0,336.0 L864.0,336.0 Z" fill="#2c62b0"/>
<path d="M864.0,271.0 L799.0,336.0 L864.0,401.0 L929.0,336.0 Z" fill="none" stroke="#a8e4ff" stroke-width="4"/>
<line x1="864.0" y1="271.0" x2="864.0" y2="401.0" stroke="#a8e4ff" stroke-width="2.5"/>
<line x1="799.0" y1="336.0" x2="929.0" y2="336.0" stroke="#a8e4ff" stroke-width="2.5"/>
<circle cx="864.0" cy="336.0" r="14" fill="#1c2c7e"/>
<path d="M864.0,401.0 L799.0,466.0 L864.0,466.0 Z" fill="#86ccf2"/>
<path d="M864.0,401.0 L929.0,466.0 L864.0,466.0 Z" fill="#5eb2ea"/>
<path d="M864.0,531.0 L799.0,466.0 L864.0,466.0 Z" fill="#3e84cc"/>
<path d="M864.0,531.0 L929.0,466.0 L864.0,466.0 Z" fill="#2c62b0"/>
<path d="M864.0,401.0 L799.0,466.0 L864.0,531.0 L929.0,466.0 Z" fill="none" stroke="#a8e4ff" stroke-width="4"/>
<line x1="864.0" y1="401.0" x2="864.0" y2="531.0" stroke="#a8e4ff" stroke-width="2.5"/>
<line x1="799.0" y1="466.0" x2="929.0" y2="466.0" stroke="#a8e4ff" stroke-width="2.5"/>
<circle cx="864.0" cy="466.0" r="14" fill="#1c2c7e"/>
<path d="M864.0,531.0 L799.0,596.0 L864.0,596.0 Z" fill="#86ccf2"/>
<path d="M864.0,531.0 L929.0,596.0 L864.0,596.0 Z" fill="#5eb2ea"/>
<path d="M864.0,661.0 L799.0,596.0 L864.0,596.0 Z" fill="#3e84cc"/>
<path d="M864.0,661.0 L929.0,596.0 L864.0,596.0 Z" fill="#2c62b0"/>
<path d="M864.0,531.0 L799.0,596.0 L864.0,661.0 L929.0,596.0 Z" fill="none" stroke="#a8e4ff" stroke-width="4"/>
<line x1="864.0" y1="531.0" x2="864.0" y2="661.0" stroke="#a8e4ff" stroke-width="2.5"/>
<line x1="799.0" y1="596.0" x2="929.0" y2="596.0" stroke="#a8e4ff" stroke-width="2.5"/>
<circle cx="864.0" cy="596.0" r="14" fill="#1c2c7e"/>
<path d="M864.0,661.0 L799.0,726.0 L864.0,726.0 Z" fill="#86ccf2"/>
<path d="M864.0,661.0 L929.0,726.0 L864.0,726.0 Z" fill="#5eb2ea"/>
<path d="M864.0,791.0 L799.0,726.0 L864.0,726.0 Z" fill="#3e84cc"/>
<path d="M864.0,791.0 L929.0,726.0 L864.0,726.0 Z" fill="#2c62b0"/>
<path d="M864.0,661.0 L799.0,726.0 L864.0,791.0 L929.0,726.0 Z" fill="none" stroke="#a8e4ff" stroke-width="4"/>
<line x1="864.0" y1="661.0" x2="864.0" y2="791.0" stroke="#a8e4ff" stroke-width="2.5"/>
<line x1="799.0" y1="726.0" x2="929.0" y2="726.0" stroke="#a8e4ff" stroke-width="2.5"/>
<circle cx="864.0" cy="726.0" r="14" fill="#1c2c7e"/>
<path d="M864.0,791.0 L799.0,856.0 L864.0,856.0 Z" fill="#86ccf2"/>
<path d="M864.0,791.0 L929.0,856.0 L864.0,856.0 Z" fill="#5eb2ea"/>
<path d="M864.0,921.0 L799.0,856.0 L864.0,856.0 Z" fill="#3e84cc"/>
<path d="M864.0,921.0 L929.0,856.0 L864.0,856.0 Z" fill="#2c62b0"/>
<path d="M864.0,791.0 L799.0,856.0 L864.0,921.0 L929.0,856.0 Z" fill="none" stroke="#a8e4ff" stroke-width="4"/>
<line x1="864.0" y1="791.0" x2="864.0" y2="921.0" stroke="#a8e4ff" stroke-width="2.5"/>
<line x1="799.0" y1="856.0" x2="929.0" y2="856.0" stroke="#a8e4ff" stroke-width="2.5"/>
<circle cx="864.0" cy="856.0" r="14" fill="#1c2c7e"/>
<path d="M864.0,921.0 L799.0,986.0 L864.0,986.0 Z" fill="#86ccf2"/>
<path d="M864.0,921.0 L929.0,986.0 L864.0,986.0 Z" fill="#5eb2ea"/>
<path d="M864.0,1051.0 L799.0,986.0 L864.0,986.0 Z" fill="#3e84cc"/>
<path d="M864.0,1051.0 L929.0,986.0 L864.0,986.0 Z" fill="#2c62b0"/>
<path d="M864.0,921.0 L799.0,986.0 L864.0,1051.0 L929.0,986.0 Z" fill="none" stroke="#a8e4ff" stroke-width="4"/>
<line x1="864.0" y1="921.0" x2="864.0" y2="1051.0" stroke="#a8e4ff" stroke-width="2.5"/>
<line x1="799.0" y1="986.0" x2="929.0" y2="986.0" stroke="#a8e4ff" stroke-width="2.5"/>
<circle cx="864.0" cy="986.0" r="14" fill="#1c2c7e"/>
<path d="M864.0,1051.0 L799.0,1116.0 L864.0,1116.0 Z" fill="#86ccf2"/>
<path d="M864.0,1051.0 L929.0,1116.0 L864.0,1116.0 Z" fill="#5eb2ea"/>
<path d="M864.0,1181.0 L799.0,1116.0 L864.0,1116.0 Z" fill="#3e84cc"/>
<path d="M864.0,1181.0 L929.0,1116.0 L864.0,1116.0 Z" fill="#2c62b0"/>
<path d="M864.0,1051.0 L799.0,1116.0 L864.0,1181.0 L929.0,1116.0 Z" fill="none" stroke="#a8e4ff" stroke-width="4"/>
<line x1="864.0" y1="1051.0" x2="864.0" y2="1181.0" stroke="#a8e4ff" stroke-width="2.5"/>
<line x1="799.0" y1="1116.0" x2="929.0" y2="1116.0" stroke="#a8e4ff" stroke-width="2.5"/>
<circle cx="864.0" cy="1116.0" r="14" fill="#1c2c7e"/>
<path d="M864.0,1181.0 L799.0,1246.0 L864.0,1246.0 Z" fill="#86ccf2"/>
<path d="M864.0,1181.0 L929.0,1246.0 L864.0,1246.0 Z" fill="#5eb2ea"/>
<path d="M864.0,1311.0 L799.0,1246.0 L864.0,1246.0 Z" fill="#3e84cc"/>
<path d="M864.0,1311.0 L929.0,1246.0 L864.0,1246.0 Z" fill="#2c62b0"/>
<path d="M864.0,1181.0 L799.0,1246.0 L864.0,1311.0 L929.0,1246.0 Z" fill="none" stroke="#a8e4ff" stroke-width="4"/>
<line x1="864.0" y1="1181.0" x2="864.0" y2="1311.0" stroke="#a8e4ff" stroke-width="2.5"/>
<line x1="799.0" y1="1246.0" x2="929.0" y2="1246.0" stroke="#a8e4ff" stroke-width="2.5"/>
<circle cx="864.0" cy="1246.0" r="14" fill="#1c2c7e"/>
<path d="M850.0,175.0 L1150.0,200.0 L1150.0,1290.0 L850.0,1290.0 Z" fill="#22246a"/>
<circle cx="868.0" cy="215.0" r="4" fill="#d8dcff"/>
<circle cx="892.0" cy="215.0" r="4" fill="#d8dcff"/>
<circle cx="916.0" cy="215.0" r="4" fill="#d8dcff"/>
<circle cx="940.0" cy="215.0" r="4" fill="#d8dcff"/>
<circle cx="964.0" cy="215.0" r="4" fill="#d8dcff"/>
<circle cx="988.0" cy="215.0" r="4" fill="#d8dcff"/>
<circle cx="1012.0" cy="215.0" r="4" fill="#d8dcff"/>
<circle cx="1036.0" cy="215.0" r="4" fill="#d8dcff"/>
<circle cx="1060.0" cy="215.0" r="4" fill="#d8dcff"/>
<circle cx="1084.0" cy="215.0" r="4" fill="#d8dcff"/>
<circle cx="1108.0" cy="215.0" r="4" fill="#d8dcff"/>
<circle cx="1132.0" cy="215.0" r="4" fill="#d8dcff"/>
<line x1="862.7" y1="215.0" x2="932.7" y2="215.0" stroke="#e02020" stroke-width="9"/>
<circle cx="862.7" cy="215.0" r="10" fill="#f03030"/>
<circle cx="880.0" cy="239.5" r="4" fill="#d8dcff"/>
<circle cx="904.0" cy="239.5" r="4" fill="#d8dcff"/>
<circle cx="928.0" cy="239.5" r="4" fill="#d8dcff"/>
<circle cx="952.0" cy="239.5" r="4" fill="#d8dcff"/>
<circle cx="976.0" cy="239.5" r="4" fill="#d8dcff"/>
<circle cx="1000.0" cy="239.5" r="4" fill="#d8dcff"/>
<circle cx="1024.0" cy="239.5" r="4" fill="#d8dcff"/>
<circle cx="1048.0" cy="239.5" r="4" fill="#d8dcff"/>
<circle cx="1072.0" cy="239.5" r="4" fill="#d8dcff"/>
<circle cx="1096.0" cy="239.5" r="4" fill="#d8dcff"/>
<circle cx="1120.0" cy="239.5" r="4" fill="#d8dcff"/>
<circle cx="868.0" cy="264.0" r="4" fill="#d8dcff"/>
<circle cx="892.0" cy="264.0" r="4" fill="#d8dcff"/>
<circle cx="916.0" cy="264.0" r="4" fill="#d8dcff"/>
<circle cx="940.0" cy="264.0" r="4" fill="#d8dcff"/>
<circle cx="964.0" cy="264.0" r="4" fill="#d8dcff"/>
<circle cx="988.0" cy="264.0" r="4" fill="#d8dcff"/>
<circle cx="1012.0" cy="264.0" r="4" fill="#d8dcff"/>
<circle cx="1036.0" cy="264.0" r="4" fill="#d8dcff"/>
<circle cx="1060.0" cy="264.0" r="4" fill="#d8dcff"/>
<circle cx="1084.0" cy="264.0" r="4" fill="#d8dcff"/>
<circle cx="1108.0" cy="264.0" r="4" fill="#d8dcff"/>
<circle cx="1132.0" cy="264.0" r="4" fill="#d8dcff"/>
<line x1="850.6" y1="264.0" x2="920.6" y2="264.0" stroke="#e02020" stroke-width="9"/>
<circle cx="850.6" cy="264.0" r="10" fill="#f03030"/>
<circle cx="880.0" cy="288.5" r="4" fill="#d8dcff"/>
<circle cx="904.0" cy="288.5" r="4" fill="#d8dcff"/>
<circle cx="928.0" cy="288.5" r="4" fill="#d8dcff"/>
<circle cx="952.0" cy="288.5" r="4" fill="#d8dcff"/>
<circle cx="976.0" cy="288.5" r="4" fill="#d8dcff"/>
<circle cx="1000.0" cy="288.5" r="4" fill="#d8dcff"/>
<circle cx="1024.0" cy="288.5" r="4" fill="#d8dcff"/>
<circle cx="1048.0" cy="288.5" r="4" fill="#d8dcff"/>
<circle cx="1072.0" cy="288.5" r="4" fill="#d8dcff"/>
<circle cx="1096.0" cy="288.5" r="4" fill="#d8dcff"/>
<circle cx="1120.0" cy="288.5" r="4" fill="#d8dcff"/>
<circle cx="868.0" cy="313.0" r="4" fill="#d8dcff"/>
<circle cx="892.0" cy="313.0" r="4" fill="#d8dcff"/>
<circle cx="916.0" cy="313.0" r="4" fill="#d8dcff"/>
<circle cx="940.0" cy="313.0" r="4" fill="#d8dcff"/>
<circle cx="964.0" cy="313.0" r="4" fill="#d8dcff"/>
<circle cx="988.0" cy="313.0" r="4" fill="#d8dcff"/>
<circle cx="1012.0" cy="313.0" r="4" fill="#d8dcff"/>
<circle cx="1036.0" cy="313.0" r="4" fill="#d8dcff"/>
<circle cx="1060.0" cy="313.0" r="4" fill="#d8dcff"/>
<circle cx="1084.0" cy="313.0" r="4" fill="#d8dcff"/>
<circle cx="1108.0" cy="313.0" r="4" fill="#d8dcff"/>
<circle cx="1132.0" cy="313.0" r="4" fill="#d8dcff"/>
<line x1="885.6" y1="313.0" x2="955.6" y2="313.0" stroke="#e02020" stroke-width="9"/>
<circle cx="885.6" cy="313.0" r="10" fill="#f03030"/>
<circle cx="880.0" cy="337.5" r="4" fill="#d8dcff"/>
<circle cx="904.0" cy="337.5" r="4" fill="#d8dcff"/>
<circle cx="928.0" cy="337.5" r="4" fill="#d8dcff"/>
<circle cx="952.0" cy="337.5" r="4" fill="#d8dcff"/>
<circle cx="976.0" cy="337.5" r="4" fill="#d8dcff"/>
<circle cx="1000.0" cy="337.5" r="4" fill="#d8dcff"/>
<circle cx="1024.0" cy="337.5" r="4" fill="#d8dcff"/>
<circle cx="1048.0" cy="337.5" r="4" fill="#d8dcff"/>
<circle cx="1072.0" cy="337.5" r="4" fill="#d8dcff"/>
<circle cx="1096.0" cy="337.5" r="4" fill="#d8dcff"/>
<circle cx="1120.0" cy="337.5" r="4" fill="#d8dcff"/>
<circle cx="868.0" cy="362.0" r="4" fill="#d8dcff"/>
<circle cx="892.0" cy="362.0" r="4" fill="#d8dcff"/>
<circle cx="916.0" cy="362.0" r="4" fill="#d8dcff"/>
<circle cx="940.0" cy="362.0" r="4" fill="#d8dcff"/>
<circle cx="964.0" cy="362.0" r="4" fill="#d8dcff"/>
<circle cx="988.0" cy="362.0" r="4" fill="#d8dcff"/>
<circle cx="1012.0" cy="362.0" r="4" fill="#d8dcff"/>
<circle cx="1036.0" cy="362.0" r="4" fill="#d8dcff"/>
<circle cx="1060.0" cy="362.0" r="4" fill="#d8dcff"/>
<circle cx="1084.0" cy="362.0" r="4" fill="#d8dcff"/>
<circle cx="1108.0" cy="362.0" r="4" fill="#d8dcff"/>
<circle cx="1132.0" cy="362.0" r="4" fill="#d8dcff"/>
<line x1="845.1" y1="362.0" x2="915.1" y2="362.0" stroke="#e02020" stroke-width="9"/>
<circle cx="845.1" cy="362.0" r="10" fill="#f03030"/>
<circle cx="880.0" cy="386.5" r="4" fill="#d8dcff"/>
<circle cx="904.0" cy="386.5" r="4" fill="#d8dcff"/>
<circle cx="928.0" cy="386.5" r="4" fill="#d8dcff"/>
<circle cx="952.0" cy="386.5" r="4" fill="#d8dcff"/>
<circle cx="976.0" cy="386.5" r="4" fill="#d8dcff"/>
<circle cx="1000.0" cy="386.5" r="4" fill="#d8dcff"/>
<circle cx="1024.0" cy="386.5" r="4" fill="#d8dcff"/>
<circle cx="1048.0" cy="386.5" r="4" fill="#d8dcff"/>
<circle cx="1072.0" cy="386.5" r="4" fill="#d8dcff"/>
<circle cx="1096.0" cy="386.5" r="4" fill="#d8dcff"/>
<circle cx="1120.0" cy="386.5" r="4" fill="#d8dcff"/>
<circle cx="868.0" cy="411.0" r="4" fill="#d8dcff"/>
<circle cx="892.0" cy="411.0" r="4" fill="#d8dcff"/>
<circle cx="916.0" cy="411.0" r="4" fill="#d8dcff"/>
<circle cx="940.0" cy="411.0" r="4" fill="#d8dcff"/>
<circle cx="964.0" cy="411.0" r="4" fill="#d8dcff"/>
<circle cx="988.0" cy="411.0" r="4" fill="#d8dcff"/>
<circle cx="1012.0" cy="411.0" r="4" fill="#d8dcff"/>
<circle cx="1036.0" cy="411.0" r="4" fill="#d8dcff"/>
<circle cx="1060.0" cy="411.0" r="4" fill="#d8dcff"/>
<circle cx="1084.0" cy="411.0" r="4" fill="#d8dcff"/>
<circle cx="1108.0" cy="411.0" r="4" fill="#d8dcff"/>
<circle cx="1132.0" cy="411.0" r="4" fill="#d8dcff"/>
<line x1="877.5" y1="411.0" x2="947.5" y2="411.0" stroke="#e02020" stroke-width="9"/>
<circle cx="877.5" cy="411.0" r="10" fill="#f03030"/>
<circle cx="880.0" cy="435.5" r="4" fill="#d8dcff"/>
<circle cx="904.0" cy="435.5" r="4" fill="#d8dcff"/>
<circle cx="928.0" cy="435.5" r="4" fill="#d8dcff"/>
<circle cx="952.0" cy="435.5" r="4" fill="#d8dcff"/>
<circle cx="976.0" cy="435.5" r="4" fill="#d8dcff"/>
<circle cx="1000.0" cy="435.5" r="4" fill="#d8dcff"/>
<circle cx="1024.0" cy="435.5" r="4" fill="#d8dcff"/>
<circle cx="1048.0" cy="435.5" r="4" fill="#d8dcff"/>
<circle cx="1072.0" cy="435.5" r="4" fill="#d8dcff"/>
<circle cx="1096.0" cy="435.5" r="4" fill="#d8dcff"/>
<circle cx="1120.0" cy="435.5" r="4" fill="#d8dcff"/>
<circle cx="868.0" cy="460.0" r="4" fill="#d8dcff"/>
<circle cx="892.0" cy="460.0" r="4" fill="#d8dcff"/>
<circle cx="916.0" cy="460.0" r="4" fill="#d8dcff"/>
<circle cx="940.0" cy="460.0" r="4" fill="#d8dcff"/>
<circle cx="964.0" cy="460.0" r="4" fill="#d8dcff"/>
<circle cx="988.0" cy="460.0" r="4" fill="#d8dcff"/>
<circle cx="1012.0" cy="460.0" r="4" fill="#d8dcff"/>
<circle cx="1036.0" cy="460.0" r="4" fill="#d8dcff"/>
<circle cx="1060.0" cy="460.0" r="4" fill="#d8dcff"/>
<circle cx="1084.0" cy="460.0" r="4" fill="#d8dcff"/>
<circle cx="1108.0" cy="460.0" r="4" fill="#d8dcff"/>
<circle cx="1132.0" cy="460.0" r="4" fill="#d8dcff"/>
<line x1="865.6" y1="460.0" x2="935.6" y2="460.0" stroke="#e02020" stroke-width="9"/>
<circle cx="865.6" cy="460.0" r="10" fill="#f03030"/>
<circle cx="880.0" cy="484.5" r="4" fill="#d8dcff"/>
<circle cx="904.0" cy="484.5" r="4" fill="#d8dcff"/>
<circle cx="928.0" cy="484.5" r="4" fill="#d8dcff"/>
<circle cx="952.0" cy="484.5" r="4" fill="#d8dcff"/>
<circle cx="976.0" cy="484.5" r="4" fill="#d8dcff"/>
<circle cx="1000.0" cy="484.5" r="4" fill="#d8dcff"/>
<circle cx="1024.0" cy="484.5" r="4" fill="#d8dcff"/>
<circle cx="1048.0" cy="484.5" r="4" fill="#d8dcff"/>
<circle cx="1072.0" cy="484.5" r="4" fill="#d8dcff"/>
<circle cx="1096.0" cy="484.5" r="4" fill="#d8dcff"/>
<circle cx="1120.0" cy="484.5" r="4" fill="#d8dcff"/>
<circle cx="868.0" cy="509.0" r="4" fill="#d8dcff"/>
<circle cx="892.0" cy="509.0" r="4" fill="#d8dcff"/>
<circle cx="916.0" cy="509.0" r="4" fill="#d8dcff"/>
<circle cx="940.0" cy="509.0" r="4" fill="#d8dcff"/>
<circle cx="964.0" cy="509.0" r="4" fill="#d8dcff"/>
<circle cx="988.0" cy="509.0" r="4" fill="#d8dcff"/>
<circle cx="1012.0" cy="509.0" r="4" fill="#d8dcff"/>
<circle cx="1036.0" cy="509.0" r="4" fill="#d8dcff"/>
<circle cx="1060.0" cy="509.0" r="4" fill="#d8dcff"/>
<circle cx="1084.0" cy="509.0" r="4" fill="#d8dcff"/>
<circle cx="1108.0" cy="509.0" r="4" fill="#d8dcff"/>
<circle cx="1132.0" cy="509.0" r="4" fill="#d8dcff"/>
<line x1="844.1" y1="509.0" x2="914.1" y2="509.0" stroke="#e02020" stroke-width="9"/>
<circle cx="844.1" cy="509.0" r="10" fill="#f03030"/>
<circle cx="880.0" cy="533.5" r="4" fill="#d8dcff"/>
<circle cx="904.0" cy="533.5" r="4" fill="#d8dcff"/>
<circle cx="928.0" cy="533.5" r="4" fill="#d8dcff"/>
<circle cx="952.0" cy="533.5" r="4" fill="#d8dcff"/>
<circle cx="976.0" cy="533.5" r="4" fill="#d8dcff"/>
<circle cx="1000.0" cy="533.5" r="4" fill="#d8dcff"/>
<circle cx="1024.0" cy="533.5" r="4" fill="#d8dcff"/>
<circle cx="1048.0" cy="533.5" r="4" fill="#d8dcff"/>
<circle cx="1072.0" cy="533.5" r="4" fill="#d8dcff"/>
<circle cx="1096.0" cy="533.5" r="4" fill="#d8dcff"/>
<circle cx="1120.0" cy="533.5" r="4" fill="#d8dcff"/>
<circle cx="868.0" cy="558.0" r="4" fill="#d8dcff"/>
<circle cx="892.0" cy="558.0" r="4" fill="#d8dcff"/>
<circle cx="916.0" cy="558.0" r="4" fill="#d8dcff"/>
<circle cx="940.0" cy="558.0" r="4" fill="#d8dcff"/>
<circle cx="964.0" cy="558.0" r="4" fill="#d8dcff"/>
<circle cx="988.0" cy="558.0" r="4" fill="#d8dcff"/>
<circle cx="1012.0" cy="558.0" r="4" fill="#d8dcff"/>
<circle cx="1036.0" cy="558.0" r="4" fill="#d8dcff"/>
<circle cx="1060.0" cy="558.0" r="4" fill="#d8dcff"/>
<circle cx="1084.0" cy="558.0" r="4" fill="#d8dcff"/>
<circle cx="1108.0" cy="558.0" r="4" fill="#d8dcff"/>
<circle cx="1132.0" cy="558.0" r="4" fill="#d8dcff"/>
<line x1="875.5" y1="558.0" x2="945.5" y2="558.0" stroke="#e02020" stroke-width="9"/>
<circle cx="875.5" cy="558.0" r="10" fill="#f03030"/>
<circle cx="880.0" cy="582.5" r="4" fill="#d8dcff"/>
<circle cx="904.0" cy="582.5" r="4" fill="#d8dcff"/>
<circle cx="928.0" cy="582.5" r="4" fill="#d8dcff"/>
<circle cx="952.0" cy="582.5" r="4" fill="#d8dcff"/>
<circle cx="976.0" cy="582.5" r="4" fill="#d8dcff"/>
<circle cx="1000.0" cy="582.5" r="4" fill="#d8dcff"/>
<circle cx="1024.0" cy="582.5" r="4" fill="#d8dcff"/>
<circle cx="1048.0" cy="582.5" r="4" fill="#d8dcff"/>
<circle cx="1072.0" cy="582.5" r="4" fill="#d8dcff"/>
<circle cx="1096.0" cy="582.5" r="4" fill="#d8dcff"/>
<circle cx="1120.0" cy="582.5" r="4" fill="#d8dcff"/>
<circle cx="868.0" cy="607.0" r="4" fill="#d8dcff"/>
<circle cx="892.0" cy="607.0" r="4" fill="#d8dcff"/>
<circle cx="916.0" cy="607.0" r="4" fill="#d8dcff"/>
<circle cx="940.0" cy="607.0" r="4" fill="#d8dcff"/>
<circle cx="964.0" cy="607.0" r="4" fill="#d8dcff"/>
<circle cx="988.0" cy="607.0" r="4" fill="#d8dcff"/>
<circle cx="1012.0" cy="607.0" r="4" fill="#d8dcff"/>
<circle cx="1036.0" cy="607.0" r="4" fill="#d8dcff"/>
<circle cx="1060.0" cy="607.0" r="4" fill="#d8dcff"/>
<circle cx="1084.0" cy="607.0" r="4" fill="#d8dcff"/>
<circle cx="1108.0" cy="607.0" r="4" fill="#d8dcff"/>
<circle cx="1132.0" cy="607.0" r="4" fill="#d8dcff"/>
<line x1="842.6" y1="607.0" x2="912.6" y2="607.0" stroke="#e02020" stroke-width="9"/>
<circle cx="842.6" cy="607.0" r="10" fill="#f03030"/>
<circle cx="880.0" cy="631.5" r="4" fill="#d8dcff"/>
<circle cx="904.0" cy="631.5" r="4" fill="#d8dcff"/>
<circle cx="928.0" cy="631.5" r="4" fill="#d8dcff"/>
<circle cx="952.0" cy="631.5" r="4" fill="#d8dcff"/>
<circle cx="976.0" cy="631.5" r="4" fill="#d8dcff"/>
<circle cx="1000.0" cy="631.5" r="4" fill="#d8dcff"/>
<circle cx="1024.0" cy="631.5" r="4" fill="#d8dcff"/>
<circle cx="1048.0" cy="631.5" r="4" fill="#d8dcff"/>
<circle cx="1072.0" cy="631.5" r="4" fill="#d8dcff"/>
<circle cx="1096.0" cy="631.5" r="4" fill="#d8dcff"/>
<circle cx="1120.0" cy="631.5" r="4" fill="#d8dcff"/>
<circle cx="868.0" cy="656.0" r="4" fill="#d8dcff"/>
<circle cx="892.0" cy="656.0" r="4" fill="#d8dcff"/>
<circle cx="916.0" cy="656.0" r="4" fill="#d8dcff"/>
<circle cx="940.0" cy="656.0" r="4" fill="#d8dcff"/>
<circle cx="964.0" cy="656.0" r="4" fill="#d8dcff"/>
<circle cx="988.0" cy="656.0" r="4" fill="#d8dcff"/>
<circle cx="1012.0" cy="656.0" r="4" fill="#d8dcff"/>
<circle cx="1036.0" cy="656.0" r="4" fill="#d8dcff"/>
<circle cx="1060.0" cy="656.0" r="4" fill="#d8dcff"/>
<circle cx="1084.0" cy="656.0" r="4" fill="#d8dcff"/>
<circle cx="1108.0" cy="656.0" r="4" fill="#d8dcff"/>
<circle cx="1132.0" cy="656.0" r="4" fill="#d8dcff"/>
<line x1="870.4" y1="656.0" x2="940.4" y2="656.0" stroke="#e02020" stroke-width="9"/>
<circle cx="870.4" cy="656.0" r="10" fill="#f03030"/>
<circle cx="880.0" cy="680.5" r="4" fill="#d8dcff"/>
<circle cx="904.0" cy="680.5" r="4" fill="#d8dcff"/>
<circle cx="928.0" cy="680.5" r="4" fill="#d8dcff"/>
<circle cx="952.0" cy="680.5" r="4" fill="#d8dcff"/>
<circle cx="976.0" cy="680.5" r="4" fill="#d8dcff"/>
<circle cx="1000.0" cy="680.5" r="4" fill="#d8dcff"/>
<circle cx="1024.0" cy="680.5" r="4" fill="#d8dcff"/>
<circle cx="1048.0" cy="680.5" r="4" fill="#d8dcff"/>
<circle cx="1072.0" cy="680.5" r="4" fill="#d8dcff"/>
<circle cx="1096.0" cy="680.5" r="4" fill="#d8dcff"/>
<circle cx="1120.0" cy="680.5" r="4" fill="#d8dcff"/>
<circle cx="868.0" cy="705.0" r="4" fill="#d8dcff"/>
<circle cx="892.0" cy="705.0" r="4" fill="#d8dcff"/>
<circle cx="916.0" cy="705.0" r="4" fill="#d8dcff"/>
<circle cx="940.0" cy="705.0" r="4" fill="#d8dcff"/>
<circle cx="964.0" cy="705.0" r="4" fill="#d8dcff"/>
<circle cx="988.0" cy="705.0" r="4" fill="#d8dcff"/>
<circle cx="1012.0" cy="705.0" r="4" fill="#d8dcff"/>
<circle cx="1036.0" cy="705.0" r="4" fill="#d8dcff"/>
<circle cx="1060.0" cy="705.0" r="4" fill="#d8dcff"/>
<circle cx="1084.0" cy="705.0" r="4" fill="#d8dcff"/>
<circle cx="1108.0" cy="705.0" r="4" fill="#d8dcff"/>
<circle cx="1132.0" cy="705.0" r="4" fill="#d8dcff"/>
<line x1="844.9" y1="705.0" x2="914.9" y2="705.0" stroke="#e02020" stroke-width="9"/>
<circle cx="844.9" cy="705.0" r="10" fill="#f03030"/>
<circle cx="880.0" cy="729.5" r="4" fill="#d8dcff"/>
<circle cx="904.0" cy="729.5" r="4" fill="#d8dcff"/>
<circle cx="928.0" cy="729.5" r="4" fill="#d8dcff"/>
<circle cx="952.0" cy="729.5" r="4" fill="#d8dcff"/>
<circle cx="976.0" cy="729.5" r="4" fill="#d8dcff"/>
<circle cx="1000.0" cy="729.5" r="4" fill="#d8dcff"/>
<circle cx="1024.0" cy="729.5" r="4" fill="#d8dcff"/>
<circle cx="1048.0" cy="729.5" r="4" fill="#d8dcff"/>
<circle cx="1072.0" cy="729.5" r="4" fill="#d8dcff"/>
<circle cx="1096.0" cy="729.5" r="4" fill="#d8dcff"/>
<circle cx="1120.0" cy="729.5" r="4" fill="#d8dcff"/>
<circle cx="868.0" cy="754.0" r="4" fill="#d8dcff"/>
<circle cx="892.0" cy="754.0" r="4" fill="#d8dcff"/>
<circle cx="916.0" cy="754.0" r="4" fill="#d8dcff"/>
<circle cx="940.0" cy="754.0" r="4" fill="#d8dcff"/>
<circle cx="964.0" cy="754.0" r="4" fill="#d8dcff"/>
<circle cx="988.0" cy="754.0" r="4" fill="#d8dcff"/>
<circle cx="1012.0" cy="754.0" r="4" fill="#d8dcff"/>
<circle cx="1036.0" cy="754.0" r="4" fill="#d8dcff"/>
<circle cx="1060.0" cy="754.0" r="4" fill="#d8dcff"/>
<circle cx="1084.0" cy="754.0" r="4" fill="#d8dcff"/>
<circle cx="1108.0" cy="754.0" r="4" fill="#d8dcff"/>
<circle cx="1132.0" cy="754.0" r="4" fill="#d8dcff"/>
<line x1="846.3" y1="754.0" x2="916.3" y2="754.0" stroke="#e02020" stroke-width="9"/>
<circle cx="846.3" cy="754.0" r="10" fill="#f03030"/>
<circle cx="880.0" cy="778.5" r="4" fill="#d8dcff"/>
<circle cx="904.0" cy="778.5" r="4" fill="#d8dcff"/>
<circle cx="928.0" cy="778.5" r="4" fill="#d8dcff"/>
<circle cx="952.0" cy="778.5" r="4" fill="#d8dcff"/>
<circle cx="976.0" cy="778.5" r="4" fill="#d8dcff"/>
<circle cx="1000.0" cy="778.5" r="4" fill="#d8dcff"/>
<circle cx="1024.0" cy="778.5" r="4" fill="#d8dcff"/>
<circle cx="1048.0" cy="778.5" r="4" fill="#d8dcff"/>
<circle cx="1072.0" cy="778.5" r="4" fill="#d8dcff"/>
<circle cx="1096.0" cy="778.5" r="4" fill="#d8dcff"/>
<circle cx="1120.0" cy="778.5" r="4" fill="#d8dcff"/>
<circle cx="868.0" cy="803.0" r="4" fill="#d8dcff"/>
<circle cx="892.0" cy="803.0" r="4" fill="#d8dcff"/>
<circle cx="916.0" cy="803.0" r="4" fill="#d8dcff"/>
<circle cx="940.0" cy="803.0" r="4" fill="#d8dcff"/>
<circle cx="964.0" cy="803.0" r="4" fill="#d8dcff"/>
<circle cx="988.0" cy="803.0" r="4" fill="#d8dcff"/>
<circle cx="1012.0" cy="803.0" r="4" fill="#d8dcff"/>
<circle cx="1036.0" cy="803.0" r="4" fill="#d8dcff"/>
<circle cx="1060.0" cy="803.0" r="4" fill="#d8dcff"/>
<circle cx="1084.0" cy="803.0" r="4" fill="#d8dcff"/>
<circle cx="1108.0" cy="803.0" r="4" fill="#d8dcff"/>
<circle cx="1132.0" cy="803.0" r="4" fill="#d8dcff"/>
<line x1="869.7" y1="803.0" x2="939.7" y2="803.0" stroke="#e02020" stroke-width="9"/>
<circle cx="869.7" cy="803.0" r="10" fill="#f03030"/>
<circle cx="880.0" cy="827.5" r="4" fill="#d8dcff"/>
<circle cx="904.0" cy="827.5" r="4" fill="#d8dcff"/>
<circle cx="928.0" cy="827.5" r="4" fill="#d8dcff"/>
<circle cx="952.0" cy="827.5" r="4" fill="#d8dcff"/>
<circle cx="976.0" cy="827.5" r="4" fill="#d8dcff"/>
<circle cx="1000.0" cy="827.5" r="4" fill="#d8dcff"/>
<circle cx="1024.0" cy="827.5" r="4" fill="#d8dcff"/>
<circle cx="1048.0" cy="827.5" r="4" fill="#d8dcff"/>
<circle cx="1072.0" cy="827.5" r="4" fill="#d8dcff"/>
<circle cx="1096.0" cy="827.5" r="4" fill="#d8dcff"/>
<circle cx="1120.0" cy="827.5" r="4" fill="#d8dcff"/>
<circle cx="868.0" cy="852.0" r="4" fill="#d8dcff"/>
<circle cx="892.0" cy="852.0" r="4" fill="#d8dcff"/>
<circle cx="916.0" cy="852.0" r="4" fill="#d8dcff"/>
<circle cx="940.0" cy="852.0" r="4" fill="#d8dcff"/>
<circle cx="964.0" cy="852.0" r="4" fill="#d8dcff"/>
<circle cx="988.0" cy="852.0" r="4" fill="#d8dcff"/>
<circle cx="1012.0" cy="852.0" r="4" fill="#d8dcff"/>
<circle cx="1036.0" cy="852.0" r="4" fill="#d8dcff"/>
<circle cx="1060.0" cy="852.0" r="4" fill="#d8dcff"/>
<circle cx="1084.0" cy="852.0" r="4" fill="#d8dcff"/>
<circle cx="1108.0" cy="852.0" r="4" fill="#d8dcff"/>
<circle cx="1132.0" cy="852.0" r="4" fill="#d8dcff"/>
<line x1="897.9" y1="852.0" x2="967.9" y2="852.0" stroke="#e02020" stroke-width="9"/>
<circle cx="897.9" cy="852.0" r="10" fill="#f03030"/>
<circle cx="880.0" cy="876.5" r="4" fill="#d8dcff"/>
<circle cx="904.0" cy="876.5" r="4" fill="#d8dcff"/>
<circle cx="928.0" cy="876.5" r="4" fill="#d8dcff"/>
<circle cx="952.0" cy="876.5" r="4" fill="#d8dcff"/>
<circle cx="976.0" cy="876.5" r="4" fill="#d8dcff"/>
<circle cx="1000.0" cy="876.5" r="4" fill="#d8dcff"/>
<circle cx="1024.0" cy="876.5" r="4" fill="#d8dcff"/>
<circle cx="1048.0" cy="876.5" r="4" fill="#d8dcff"/>
<circle cx="1072.0" cy="876.5" r="4" fill="#d8dcff"/>
<circle cx="1096.0" cy="876.5" r="4" fill="#d8dcff"/>
<circle cx="1120.0" cy="876.5" r="4" fill="#d8dcff"/>
<circle cx="868.0" cy="901.0" r="4" fill="#d8dcff"/>
<circle cx="892.0" cy="901.0" r="4" fill="#d8dcff"/>
<circle cx="916.0" cy="901.0" r="4" fill="#d8dcff"/>
<circle cx="940.0" cy="901.0" r="4" fill="#d8dcff"/>
<circle cx="964.0" cy="901.0" r="4" fill="#d8dcff"/>
<circle cx="988.0" cy="901.0" r="4" fill="#d8dcff"/>
<circle cx="1012.0" cy="901.0" r="4" fill="#d8dcff"/>
<circle cx="1036.0" cy="901.0" r="4" fill="#d8dcff"/>
<circle cx="1060.0" cy="901.0" r="4" fill="#d8dcff"/>
<circle cx="1084.0" cy="901.0" r="4" fill="#d8dcff"/>
<circle cx="1108.0" cy="901.0" r="4" fill="#d8dcff"/>
<circle cx="1132.0" cy="901.0" r="4" fill="#d8dcff"/>
<line x1="848.7" y1="901.0" x2="918.7" y2="901.0" stroke="#e02020" stroke-width="9"/>
<circle cx="848.7" cy="901.0" r="10" fill="#f03030"/>
<circle cx="880.0" cy="925.5" r="4" fill="#d8dcff"/>
<circle cx="904.0" cy="925.5" r="4" fill="#d8dcff"/>
<circle cx="928.0" cy="925.5" r="4" fill="#d8dcff"/>
<circle cx="952.0" cy="925.5" r="4" fill="#d8dcff"/>
<circle cx="976.0" cy="925.5" r="4" fill="#d8dcff"/>
<circle cx="1000.0" cy="925.5" r="4" fill="#d8dcff"/>
<circle cx="1024.0" cy="925.5" r="4" fill="#d8dcff"/>
<circle cx="1048.0" cy="925.5" r="4" fill="#d8dcff"/>
<circle cx="1072.0" cy="925.5" r="4" fill="#d8dcff"/>
<circle cx="1096.0" cy="925.5" r="4" fill="#d8dcff"/>
<circle cx="1120.0" cy="925.5" r="4" fill="#d8dcff"/>
<circle cx="868.0" cy="950.0" r="4" fill="#d8dcff"/>
<circle cx="892.0" cy="950.0" r="4" fill="#d8dcff"/>
<circle cx="916.0" cy="950.0" r="4" fill="#d8dcff"/>
<circle cx="940.0" cy="950.0" r="4" fill="#d8dcff"/>
<circle cx="964.0" cy="950.0" r="4" fill="#d8dcff"/>
<circle cx="988.0" cy="950.0" r="4" fill="#d8dcff"/>
<circle cx="1012.0" cy="950.0" r="4" fill="#d8dcff"/>
<circle cx="1036.0" cy="950.0" r="4" fill="#d8dcff"/>
<circle cx="1060.0" cy="950.0" r="4" fill="#d8dcff"/>
<circle cx="1084.0" cy="950.0" r="4" fill="#d8dcff"/>
<circle cx="1108.0" cy="950.0" r="4" fill="#d8dcff"/>
<circle cx="1132.0" cy="950.0" r="4" fill="#d8dcff"/>
<line x1="855.6" y1="950.0" x2="925.6" y2="950.0" stroke="#e02020" stroke-width="9"/>
<circle cx="855.6" cy="950.0" r="10" fill="#f03030"/>
<circle cx="880.0" cy="974.5" r="4" fill="#d8dcff"/>
<circle cx="904.0" cy="974.5" r="4" fill="#d8dcff"/>
<circle cx="928.0" cy="974.5" r="4" fill="#d8dcff"/>
<circle cx="952.0" cy="974.5" r="4" fill="#d8dcff"/>
<circle cx="976.0" cy="974.5" r="4" fill="#d8dcff"/>
<circle cx="1000.0" cy="974.5" r="4" fill="#d8dcff"/>
<circle cx="1024.0" cy="974.5" r="4" fill="#d8dcff"/>
<circle cx="1048.0" cy="974.5" r="4" fill="#d8dcff"/>
<circle cx="1072.0" cy="974.5" r="4" fill="#d8dcff"/>
<circle cx="1096.0" cy="974.5" r="4" fill="#d8dcff"/>
<circle cx="1120.0" cy="974.5" r="4" fill="#d8dcff"/>
<circle cx="868.0" cy="999.0" r="4" fill="#d8dcff"/>
<circle cx="892.0" cy="999.0" r="4" fill="#d8dcff"/>
<circle cx="916.0" cy="999.0" r="4" fill="#d8dcff"/>
<circle cx="940.0" cy="999.0" r="4" fill="#d8dcff"/>
<circle cx="964.0" cy="999.0" r="4" fill="#d8dcff"/>
<circle cx="988.0" cy="999.0" r="4" fill="#d8dcff"/>
<circle cx="1012.0" cy="999.0" r="4" fill="#d8dcff"/>
<circle cx="1036.0" cy="999.0" r="4" fill="#d8dcff"/>
<circle cx="1060.0" cy="999.0" r="4" fill="#d8dcff"/>
<circle cx="1084.0" cy="999.0" r="4" fill="#d8dcff"/>
<circle cx="1108.0" cy="999.0" r="4" fill="#d8dcff"/>
<circle cx="1132.0" cy="999.0" r="4" fill="#d8dcff"/>
<line x1="883.9" y1="999.0" x2="953.9" y2="999.0" stroke="#e02020" stroke-width="9"/>
<circle cx="883.9" cy="999.0" r="10" fill="#f03030"/>
<circle cx="880.0" cy="1023.5" r="4" fill="#d8dcff"/>
<circle cx="904.0" cy="1023.5" r="4" fill="#d8dcff"/>
<circle cx="928.0" cy="1023.5" r="4" fill="#d8dcff"/>
<circle cx="952.0" cy="1023.5" r="4" fill="#d8dcff"/>
<circle cx="976.0" cy="1023.5" r="4" fill="#d8dcff"/>
<circle cx="1000.0" cy="1023.5" r="4" fill="#d8dcff"/>
<circle cx="1024.0" cy="1023.5" r="4" fill="#d8dcff"/>
<circle cx="1048.0" cy="1023.5" r="4" fill="#d8dcff"/>
<circle cx="1072.0" cy="1023.5" r="4" fill="#d8dcff"/>
<circle cx="1096.0" cy="1023.5" r="4" fill="#d8dcff"/>
<circle cx="1120.0" cy="1023.5" r="4" fill="#d8dcff"/>
<circle cx="868.0" cy="1048.0" r="4" fill="#d8dcff"/>
<circle cx="892.0" cy="1048.0" r="4" fill="#d8dcff"/>
<circle cx="916.0" cy="1048.0" r="4" fill="#d8dcff"/>
<circle cx="940.0" cy="1048.0" r="4" fill="#d8dcff"/>
<circle cx="964.0" cy="1048.0" r="4" fill="#d8dcff"/>
<circle cx="988.0" cy="1048.0" r="4" fill="#d8dcff"/>
<circle cx="1012.0" cy="1048.0" r="4" fill="#d8dcff"/>
<circle cx="1036.0" cy="1048.0" r="4" fill="#d8dcff"/>
<circle cx="1060.0" cy="1048.0" r="4" fill="#d8dcff"/>
<circle cx="1084.0" cy="1048.0" r="4" fill="#d8dcff"/>
<circle cx="1108.0" cy="1048.0" r="4" fill="#d8dcff"/>
<circle cx="1132.0" cy="1048.0" r="4" fill="#d8dcff"/>
<line x1="906.3" y1="1048.0" x2="976.3" y2="1048.0" stroke="#e02020" stroke-width="9"/>
<circle cx="906.3" cy="1048.0" r="10" fill="#f03030"/>
<circle cx="880.0" cy="1072.5" r="4" fill="#d8dcff"/>
<circle cx="904.0" cy="1072.5" r="4" fill="#d8dcff"/>
<circle cx="928.0" cy="1072.5" r="4" fill="#d8dcff"/>
<circle cx="952.0" cy="1072.5" r="4" fill="#d8dcff"/>
<circle cx="976.0" cy="1072.5" r="4" fill="#d8dcff"/>
<circle cx="1000.0" cy="1072.5" r="4" fill="#d8dcff"/>
<circle cx="1024.0" cy="1072.5" r="4" fill="#d8dcff"/>
<circle cx="1048.0" cy="1072.5" r="4" fill="#d8dcff"/>
<circle cx="1072.0" cy="1072.5" r="4" fill="#d8dcff"/>
<circle cx="1096.0" cy="1072.5" r="4" fill="#d8dcff"/>
<circle cx="1120.0" cy="1072.5" r="4" fill="#d8dcff"/>
<circle cx="868.0" cy="1097.0" r="4" fill="#d8dcff"/>
<circle cx="892.0" cy="1097.0" r="4" fill="#d8dcff"/>
<circle cx="916.0" cy="1097.0" r="4" fill="#d8dcff"/>
<circle cx="940.0" cy="1097.0" r="4" fill="#d8dcff"/>
<circle cx="964.0" cy="1097.0" r="4" fill="#d8dcff"/>
<circle cx="988.0" cy="1097.0" r="4" fill="#d8dcff"/>
<circle cx="1012.0" cy="1097.0" r="4" fill="#d8dcff"/>
<circle cx="1036.0" cy="1097.0" r="4" fill="#d8dcff"/>
<circle cx="1060.0" cy="1097.0" r="4" fill="#d8dcff"/>
<circle cx="1084.0" cy="1097.0" r="4" fill="#d8dcff"/>
<circle cx="1108.0" cy="1097.0" r="4" fill="#d8dcff"/>
<circle cx="1132.0" cy="1097.0" r="4" fill="#d8dcff"/>
<line x1="880.4" y1="1097.0" x2="950.4" y2="1097.0" stroke="#e02020" stroke-width="9"/>
<circle cx="880.4" cy="1097.0" r="10" fill="#f03030"/>
<circle cx="880.0" cy="1121.5" r="4" fill="#d8dcff"/>
<circle cx="904.0" cy="1121.5" r="4" fill="#d8dcff"/>
<circle cx="928.0" cy="1121.5" r="4" fill="#d8dcff"/>
<circle cx="952.0" cy="1121.5" r="4" fill="#d8dcff"/>
<circle cx="976.0" cy="1121.5" r="4" fill="#d8dcff"/>
<circle cx="1000.0" cy="1121.5" r="4" fill="#d8dcff"/>
<circle cx="1024.0" cy="1121.5" r="4" fill="#d8dcff"/>
<circle cx="1048.0" cy="1121.5" r="4" fill="#d8dcff"/>
<circle cx="1072.0" cy="1121.5" r="4" fill="#d8dcff"/>
<circle cx="1096.0" cy="1121.5" r="4" fill="#d8dcff"/>
<circle cx="1120.0" cy="1121.5" r="4" fill="#d8dcff"/>
<circle cx="868.0" cy="1146.0" r="4" fill="#d8dcff"/>
<circle cx="892.0" cy="1146.0" r="4" fill="#d8dcff"/>
<circle cx="916.0" cy="1146.0" r="4" fill="#d8dcff"/>
<circle cx="940.0" cy="1146.0" r="4" fill="#d8dcff"/>
<circle cx="964.0" cy="1146.0" r="4" fill="#d8dcff"/>
<circle cx="988.0" cy="1146.0" r="4" fill="#d8dcff"/>
<circle cx="1012.0" cy="1146.0" r="4" fill="#d8dcff"/>
<circle cx="1036.0" cy="1146.0" r="4" fill="#d8dcff"/>
<circle cx="1060.0" cy="1146.0" r="4" fill="#d8dcff"/>
<circle cx="1084.0" cy="1146.0" r="4" fill="#d8dcff"/>
<circle cx="1108.0" cy="1146.0" r="4" fill="#d8dcff"/>
<circle cx="1132.0" cy="1146.0" r="4" fill="#d8dcff"/>
<line x1="867.8" y1="1146.0" x2="937.8" y2="1146.0" stroke="#e02020" stroke-width="9"/>
<circle cx="867.8" cy="1146.0" r="10" fill="#f03030"/>
<circle cx="880.0" cy="1170.5" r="4" fill="#d8dcff"/>
<circle cx="904.0" cy="1170.5" r="4" fill="#d8dcff"/>
<circle cx="928.0" cy="1170.5" r="4" fill="#d8dcff"/>
<circle cx="952.0" cy="1170.5" r="4" fill="#d8dcff"/>
<circle cx="976.0" cy="1170.5" r="4" fill="#d8dcff"/>
<circle cx="1000.0" cy="1170.5" r="4" fill="#d8dcff"/>
<circle cx="1024.0" cy="1170.5" r="4" fill="#d8dcff"/>
<circle cx="1048.0" cy="1170.5" r="4" fill="#d8dcff"/>
<circle cx="1072.0" cy="1170.5" r="4" fill="#d8dcff"/>
<circle cx="1096.0" cy="1170.5" r="4" fill="#d8dcff"/>
<circle cx="1120.0" cy="1170.5" r="4" fill="#d8dcff"/>
<circle cx="868.0" cy="1195.0" r="4" fill="#d8dcff"/>
<circle cx="892.0" cy="1195.0" r="4" fill="#d8dcff"/>
<circle cx="916.0" cy="1195.0" r="4" fill="#d8dcff"/>
<circle cx="940.0" cy="1195.0" r="4" fill="#d8dcff"/>
<circle cx="964.0" cy="1195.0" r="4" fill="#d8dcff"/>
<circle cx="988.0" cy="1195.0" r="4" fill="#d8dcff"/>
<circle cx="1012.0" cy="1195.0" r="4" fill="#d8dcff"/>
<circle cx="1036.0" cy="1195.0" r="4" fill="#d8dcff"/>
<circle cx="1060.0" cy="1195.0" r="4" fill="#d8dcff"/>
<circle cx="1084.0" cy="1195.0" r="4" fill="#d8dcff"/>
<circle cx="1108.0" cy="1195.0" r="4" fill="#d8dcff"/>
<circle cx="1132.0" cy="1195.0" r="4" fill="#d8dcff"/>
<line x1="908.3" y1="1195.0" x2="978.3" y2="1195.0" stroke="#e02020" stroke-width="9"/>
<circle cx="908.3" cy="1195.0" r="10" fill="#f03030"/>
<circle cx="880.0" cy="1219.5" r="4" fill="#d8dcff"/>
<circle cx="904.0" cy="1219.5" r="4" fill="#d8dcff"/>
<circle cx="928.0" cy="1219.5" r="4" fill="#d8dcff"/>
<circle cx="952.0" cy="1219.5" r="4" fill="#d8dcff"/>
<circle cx="976.0" cy="1219.5" r="4" fill="#d8dcff"/>
<circle cx="1000.0" cy="1219.5" r="4" fill="#d8dcff"/>
<circle cx="1024.0" cy="1219.5" r="4" fill="#d8dcff"/>
<circle cx="1048.0" cy="1219.5" r="4" fill="#d8dcff"/>
<circle cx="1072.0" cy="1219.5" r="4" fill="#d8dcff"/>
<circle cx="1096.0" cy="1219.5" r="4" fill="#d8dcff"/>
<circle cx="1120.0" cy="1219.5" r="4" fill="#d8dcff"/>
<circle cx="868.0" cy="1244.0" r="4" fill="#d8dcff"/>
<circle cx="892.0" cy="1244.0" r="4" fill="#d8dcff"/>
<circle cx="916.0" cy="1244.0" r="4" fill="#d8dcff"/>
<circle cx="940.0" cy="1244.0" r="4" fill="#d8dcff"/>
<circle cx="964.0" cy="1244.0" r="4" fill="#d8dcff"/>
<circle cx="988.0" cy="1244.0" r="4" fill="#d8dcff"/>
<circle cx="1012.0" cy="1244.0" r="4" fill="#d8dcff"/>
<circle cx="1036.0" cy="1244.0" r="4" fill="#d8dcff"/>
<circle cx="1060.0" cy="1244.0" r="4" fill="#d8dcff"/>
<circle cx="1084.0" cy="1244.0" r="4" fill="#d8dcff"/>
<circle cx="1108.0" cy="1244.0" r="4" fill="#d8dcff"/>
<circle cx="1132.0" cy="1244.0" r="4" fill="#d8dcff"/>
<line x1="843.3" y1="1244.0" x2="913.3" y2="1244.0" stroke="#e02020" stroke-width="9"/>
<circle cx="843.3" cy="1244.0" r="10" fill="#f03030"/>
<circle cx="880.0" cy="1268.5" r="4" fill="#d8dcff"/>
<circle cx="904.0" cy="1268.5" r="4" fill="#d8dcff"/>
<circle cx="928.0" cy="1268.5" r="4" fill="#d8dcff"/>
<circle cx="952.0" cy="1268.5" r="4" fill="#d8dcff"/>
<circle cx="976.0" cy="1268.5" r="4" fill="#d8dcff"/>
<circle cx="1000.0" cy="1268.5" r="4" fill="#d8dcff"/>
<circle cx="1024.0" cy="1268.5" r="4" fill="#d8dcff"/>
<circle cx="1048.0" cy="1268.5" r="4" fill="#d8dcff"/>
<circle cx="1072.0" cy="1268.5" r="4" fill="#d8dcff"/>
<circle cx="1096.0" cy="1268.5" r="4" fill="#d8dcff"/>
<circle cx="1120.0" cy="1268.5" r="4" fill="#d8dcff"/>
<ellipse cx="1050" cy="660" rx="120" ry="90" fill="#2a8a6a" opacity="0.35" filter="url(#fBlur8)"/>
<path d="M1087,693 L1040,672 L1007,699 L964,709 L961,705 L950,680 L896,664" fill="none" stroke="#e8f4ff" stroke-width="3" opacity="0.85"/>
<path d="M969,809 L937,820 L918,811 L930,830 L892,840 L879,872 L885,862" fill="none" stroke="#e8f4ff" stroke-width="3" opacity="0.85"/>
<path d="M1167,549 L1145,572 L1098,576 L1042,593 L1051,603 L1069,595 L1072,607" fill="none" stroke="#e8f4ff" stroke-width="3" opacity="0.85"/>
<path d="M903,833 L918,869 L901,886 L846,905 L845,944 L859,934 L833,951" fill="none" stroke="#e8f4ff" stroke-width="3" opacity="0.85"/>
<path d="M535,838 L490,816 L435,840 L387,827 L362,858 L309,860 L299,891" fill="none" stroke="#e8f4ff" stroke-width="3" opacity="0.85"/>
<path d="M1061,1176 L1026,1175 L998,1207 L1024,1187 L980,1174 L941,1177 L934,1166" fill="none" stroke="#e8f4ff" stroke-width="3" opacity="0.85"/>
<path d="M523,802 L496,812 L522,830 L508,843 L509,817 L530,842 L549,867" fill="none" stroke="#e8f4ff" stroke-width="3" opacity="0.85"/>
<path d="M779,785 L728,800 L674,774 L633,756 L603,729 L543,710 L492,705" fill="none" stroke="#e8f4ff" stroke-width="3" opacity="0.85"/>
<path d="M537,1184 L532,1165 L495,1159 L468,1138 L484,1177 L466,1181 L414,1158" fill="none" stroke="#e8f4ff" stroke-width="3" opacity="0.85"/>
<path d="M746,672 L761,654 L703,690 L690,671 L679,642 L667,681 L684,700" fill="none" stroke="#e8f4ff" stroke-width="3" opacity="0.85"/>
<path d="M692,758 L647,782 L635,807 L605,792 L618,831 L635,858 L648,879" fill="none" stroke="#e8f4ff" stroke-width="3" opacity="0.85"/>
<path d="M670,885 L642,857 L584,846 L547,865 L574,866 L598,905 L624,901" fill="none" stroke="#e8f4ff" stroke-width="3" opacity="0.85"/>
<path d="M666,641 L623,625 L619,658 L635,661 L634,687 L581,704 L603,728" fill="none" stroke="#e8f4ff" stroke-width="3" opacity="0.85"/>
<path d="M1015,852 L971,877 L941,903 L969,901 L945,937 L950,919 L901,899" fill="none" stroke="#e8f4ff" stroke-width="3" opacity="0.85"/>
<path d="M1117,1127 L1070,1155 L1099,1171 L1070,1180 L1022,1151 L1049,1166 L1037,1202" fill="none" stroke="#e8f4ff" stroke-width="3" opacity="0.85"/>
<path d="M806,1182 L821,1167 L783,1158 L745,1169 L708,1168 L660,1202 L632,1204" fill="none" stroke="#e8f4ff" stroke-width="3" opacity="0.85"/>
<path d="M905,1210 L883,1244 L868,1251 L855,1222 L835,1205 L775,1231 L731,1234" fill="none" stroke="#e8f4ff" stroke-width="3" opacity="0.85"/>
<path d="M999,917 L968,924 L958,949 L908,958 L870,947 L879,953 L870,976" fill="none" stroke="#e8f4ff" stroke-width="3" opacity="0.85"/>
<path d="M1122,822 L1117,828 L1103,846 L1084,854 L1067,889 L1070,921 L1095,909" fill="none" stroke="#e8f4ff" stroke-width="3" opacity="0.85"/>
<path d="M889,1242 L905,1222 L856,1223 L802,1210 L749,1227 L759,1259 L713,1280" fill="none" stroke="#e8f4ff" stroke-width="3" opacity="0.85"/>
<path d="M956,570 L975,608 L935,645 L911,649 L940,677 L894,677 L881,671" fill="none" stroke="#e8f4ff" stroke-width="3" opacity="0.85"/>
<path d="M649,718 L654,689 L644,690 L586,683 L582,689 L528,728 L539,766" fill="none" stroke="#e8f4ff" stroke-width="3" opacity="0.85"/>
<path d="M589,673 L533,698 L497,677 L475,710 L489,699 L442,733 L434,752" fill="none" stroke="#e8f4ff" stroke-width="3" opacity="0.85"/>
<path d="M579,498 L581,498 L528,534 L525,560 L472,590 L418,620 L399,614" fill="none" stroke="#e8f4ff" stroke-width="3" opacity="0.85"/>
<path d="M885,1228 L849,1207 L837,1194 L786,1175 L731,1160 L699,1151 L707,1141" fill="none" stroke="#e8f4ff" stroke-width="3" opacity="0.85"/>
<path d="M850,599 L821,571 L784,542 L790,550 L747,554 L771,531 L785,531" fill="none" stroke="#e8f4ff" stroke-width="3" opacity="0.85"/>
<path d="M847,1151 L822,1157 L824,1195 L795,1224 L798,1238 L775,1232 L720,1212" fill="none" stroke="#e8f4ff" stroke-width="3" opacity="0.85"/>
<path d="M567,1072 L530,1054 L477,1083 L496,1100 L461,1087 L427,1089 L382,1090" fill="none" stroke="#e8f4ff" stroke-width="3" opacity="0.85"/>
<path d="M694,1258 L721,1266 L683,1304 L651,1299 L591,1295 L574,1301 L532,1306" fill="none" stroke="#e8f4ff" stroke-width="3" opacity="0.85"/>
<path d="M523,672 L471,670 L415,641 L382,628 L375,635 L383,651 L387,682" fill="none" stroke="#e8f4ff" stroke-width="3" opacity="0.85"/>
<path d="M777,724 L806,704 L811,719 L755,748 L775,762 L781,789 L734,795" fill="none" stroke="#e8f4ff" stroke-width="3" opacity="0.85"/>
<path d="M853,1151 L865,1179 L858,1212 L859,1230 L820,1202 L772,1198 L721,1226" fill="none" stroke="#e8f4ff" stroke-width="3" opacity="0.85"/>
<path d="M889,977 L885,995 L869,965 L881,988 L866,995 L865,970 L872,957" fill="none" stroke="#e8f4ff" stroke-width="3" opacity="0.85"/>
<path d="M569,673 L575,657 L581,696 L566,693 L549,710 L558,724 L556,699" fill="none" stroke="#e8f4ff" stroke-width="3" opacity="0.85"/>
<path d="M617,663 L624,655 L615,625 L561,614 L561,633 L562,623 L549,626" fill="none" stroke="#e8f4ff" stroke-width="3" opacity="0.85"/>
<path d="M828,550 L848,533 L876,569 L818,571 L832,609 L812,598 L771,634" fill="none" stroke="#e8f4ff" stroke-width="3" opacity="0.85"/>
<path d="M659,938 L612,945 L638,924 L651,930 L671,949 L632,982 L616,954" fill="none" stroke="#e8f4ff" stroke-width="3" opacity="0.85"/>
<path d="M522,863 L503,854 L456,848 L424,877 L364,900 L380,878 L403,898" fill="none" stroke="#e8f4ff" stroke-width="3" opacity="0.85"/>
<path d="M1115,693 L1089,691 L1118,702 L1091,702 L1056,676 L1005,704 L971,739" fill="none" stroke="#e8f4ff" stroke-width="3" opacity="0.85"/>
<path d="M685,673 L671,657 L644,693 L664,720 L661,754 L685,763 L690,736" fill="none" stroke="#e8f4ff" stroke-width="3" opacity="0.85"/>
<path d="M1003,480 L1011,495 L977,469 L1000,448 L983,442 L950,464 L977,452" fill="none" stroke="#e8f4ff" stroke-width="3" opacity="0.85"/>
<path d="M953,420 L943,418 L898,399 L857,433 L842,418 L863,458 L844,438" fill="none" stroke="#e8f4ff" stroke-width="3" opacity="0.85"/>
<path d="M647,336 L618,313 L579,301 L571,333 L578,332 L555,338 L529,332" fill="none" stroke="#e8f4ff" stroke-width="3" opacity="0.85"/>
<path d="M561,411 L588,390 L573,404 L591,389 L555,376 L531,378 L557,407" fill="none" stroke="#e8f4ff" stroke-width="3" opacity="0.85"/>
<path d="M1096,309 L1039,328 L1060,332 L1052,302 L1028,336 L1042,366 L1070,354" fill="none" stroke="#e8f4ff" stroke-width="3" opacity="0.85"/>
<path d="M592,362 L579,379 L604,400 L602,424 L583,432 L527,457 L488,491" fill="none" stroke="#e8f4ff" stroke-width="3" opacity="0.85"/>
<path d="M946,422 L898,409 L895,428 L845,403 L832,414 L807,399 L801,370" fill="none" stroke="#e8f4ff" stroke-width="3" opacity="0.85"/>
<path d="M719,484 L745,499 L765,503 L726,490 L752,509 L720,481 L705,498" fill="none" stroke="#e8f4ff" stroke-width="3" opacity="0.85"/>
<path d="M797,403 L797,438 L758,410 L728,409 L730,393 L741,415 L727,399" fill="none" stroke="#e8f4ff" stroke-width="3" opacity="0.85"/>
<path d="M1160,425 L1174,411 L1134,434 L1100,471 L1085,454 L1045,453 L1045,489" fill="none" stroke="#e8f4ff" stroke-width="3" opacity="0.85"/>
<path d="M617,457 L576,496 L529,469 L474,467 L495,499 L501,538 L525,531" fill="none" stroke="#e8f4ff" stroke-width="3" opacity="0.85"/>
<path d="M642,674 L650,647 L649,643 L623,636 L578,607 L543,601 L569,580" fill="none" stroke="#e8f4ff" stroke-width="3" opacity="0.85"/>
<path d="M1156,383 L1129,410 L1142,411 L1087,414 L1060,448 L1018,444 L1039,416" fill="none" stroke="#e8f4ff" stroke-width="3" opacity="0.85"/>
<path d="M791,625 L800,598 L743,572 L766,560 L773,593 L744,582 L770,595" fill="none" stroke="#e8f4ff" stroke-width="3" opacity="0.85"/>
<path d="M693,587 L662,576 L602,599 L624,613 L649,585 L610,588 L636,625" fill="none" stroke="#e8f4ff" stroke-width="3" opacity="0.85"/>
<path d="M1140.0,140.0 L1285.0,145.0 L1285.0,1300.0 L1140.0,1290.0 Z" fill="url(#gAgside)"/>
<path d="M1285.0,145.0 L1520.0,175.0 L1520.0,1275.0 L1285.0,1300.0 Z" fill="url(#gAgfront)"/>
<path d="M1140.0,140.0 L1285.0,145.0 L1285.0,1300.0 L1140.0,1290.0 Z" fill="url(#gAgglow)"/>
<g filter="url(#fBlur8)">
<path d="M20.0,590.0 L20.0,830.0 L300.0,800.0 L820.0,765.0 L840.0,640.0 L300.0,615.0 Z" fill="url(#gBeamLin)" opacity="0.85"/>
<path d="M20,598 C250,598 450,644.0 700,660.8" fill="none" stroke="#8ef0c8" stroke-width="6" opacity="0.55"/>
<path d="M20,618 C250,618 450,654.0 700,667.8" fill="none" stroke="#36c8b0" stroke-width="6" opacity="0.55"/>
<path d="M20,638 C250,638 450,664.0 700,674.8" fill="none" stroke="#c8f4a8" stroke-width="6" opacity="0.55"/>
<path d="M20,658 C250,658 450,674.0 700,681.8" fill="none" stroke="#2ab0a8" stroke-width="6" opacity="0.55"/>
<path d="M20,678 C250,678 450,684.0 700,688.8" fill="none" stroke="#8ef0c8" stroke-width="6" opacity="0.55"/>
<path d="M20,698 C250,698 450,694.0 700,695.8" fill="none" stroke="#36c8b0" stroke-width="6" opacity="0.55"/>
<path d="M20,718 C250,718 450,704.0 700,702.8" fill="none" stroke="#c8f4a8" stroke-width="6" opacity="0.55"/>
<path d="M20,738 C250,738 450,714.0 700,709.8" fill="none" stroke="#2ab0a8" stroke-width="6" opacity="0.55"/>
<path d="M20,758 C250,758 450,724.0 700,716.8" fill="none" stroke="#8ef0c8" stroke-width="6" opacity="0.55"/>
<path d="M20,778 C250,778 450,734.0 700,723.8" fill="none" stroke="#36c8b0" stroke-width="6" opacity="0.55"/>
<path d="M20,798 C250,798 450,744.0 700,730.8" fill="none" stroke="#c8f4a8" stroke-width="6" opacity="0.55"/>
<path d="M20,818 C250,818 450,754.0 700,737.8" fill="none" stroke="#2ab0a8" stroke-width="6" opacity="0.55"/>
<ellipse cx="1150" cy="480" rx="260" ry="45" fill="#50e0a0" opacity="0.2"/>
</g>
<g transform="translate(1345,270) rotate(-30)"><path d="M6,-11 Q80,-6 160,0 Q80,6 6,11 Z" fill="#f8f4c0"/><text x="-20" y="17" font-size="66" fill="#e01818" font-family="Liberation Serif, serif" font-weight="bold">e</text></g>
<g transform="translate(1195,470) rotate(-60)"><path d="M6,-11 Q80,-6 160,0 Q80,6 6,11 Z" fill="#f8f4c0"/><text x="-20" y="17" font-size="66" fill="#e01818" font-family="Liberation Serif, serif" font-weight="bold">e</text></g>
<g transform="translate(1330,430) rotate(-10)"><path d="M6,-11 Q80,-6 160,0 Q80,6 6,11 Z" fill="#f8f4c0"/><text x="-20" y="17" font-size="66" fill="#e01818" font-family="Liberation Serif, serif" font-weight="bold">e</text></g>
<g transform="translate(935,505) rotate(-40)"><path d="M6,-11 Q80,-6 160,0 Q80,6 6,11 Z" fill="#f8f4c0"/><text x="-20" y="17" font-size="66" fill="#e01818" font-family="Liberation Serif, serif" font-weight="bold">e</text></g>
<g transform="translate(1050,510) rotate(-30)"><path d="M6,-11 Q80,-6 160,0 Q80,6 6,11 Z" fill="#f8f4c0"/><text x="-20" y="17" font-size="66" fill="#e01818" font-family="Liberation Serif, serif" font-weight="bold">e</text></g>
<g transform="translate(1160,565) rotate(-15)"><path d="M6,-11 Q80,-6 160,0 Q80,6 6,11 Z" fill="#f8f4c0"/><text x="-20" y="17" font-size="66" fill="#e01818" font-family="Liberation Serif, serif" font-weight="bold">e</text></g>
<g transform="translate(660,615) rotate(0)"><path d="M6,-11 Q80,-6 160,0 Q80,6 6,11 Z" fill="#f8f4c0"/><text x="-20" y="17" font-size="66" fill="#e01818" font-family="Liberation Serif, serif" font-weight="bold">e</text></g>
<g transform="translate(905,635) rotate(0)"><path d="M6,-11 Q80,-6 160,0 Q80,6 6,11 Z" fill="#f8f4c0"/><text x="-20" y="17" font-size="66" fill="#e01818" font-family="Liberation Serif, serif" font-weight="bold">e</text></g>
<g transform="translate(1360,615) rotate(0)"><path d="M6,-11 Q80,-6 160,0 Q80,6 6,11 Z" fill="#f8f4c0"/><text x="-20" y="17" font-size="66" fill="#e01818" font-family="Liberation Serif, serif" font-weight="bold">e</text></g>
<g transform="translate(1250,685) rotate(0)"><path d="M6,-11 Q80,-6 160,0 Q80,6 6,11 Z" fill="#f8f4c0"/><text x="-20" y="17" font-size="66" fill="#e01818" font-family="Liberation Serif, serif" font-weight="bold">e</text></g>
<g transform="translate(945,700) rotate(-30)"><path d="M6,-11 Q80,-6 160,0 Q80,6 6,11 Z" fill="#f8f4c0"/><text x="-20" y="17" font-size="66" fill="#e01818" font-family="Liberation Serif, serif" font-weight="bold">e</text></g>
<g transform="translate(1150,740) rotate(0)"><path d="M6,-11 Q80,-6 160,0 Q80,6 6,11 Z" fill="#f8f4c0"/><text x="-20" y="17" font-size="66" fill="#e01818" font-family="Liberation Serif, serif" font-weight="bold">e</text></g>
<g transform="translate(520,785) rotate(0)"><path d="M6,-11 Q80,-6 160,0 Q80,6 6,11 Z" fill="#f8f4c0"/><text x="-20" y="17" font-size="66" fill="#e01818" font-family="Liberation Serif, serif" font-weight="bold">e</text></g>
<g transform="translate(770,830) rotate(0)"><path d="M6,-11 Q80,-6 160,0 Q80,6 6,11 Z" fill="#f8f4c0"/><text x="-20" y="17" font-size="66" fill="#e01818" font-family="Liberation Serif, serif" font-weight="bold">e</text></g>
<g transform="translate(1030,825) rotate(40)"><path d="M6,-11 Q80,-6 160,0 Q80,6 6,11 Z" fill="#f8f4c0"/><text x="-20" y="17" font-size="66" fill="#e01818" font-family="Liberation Serif, serif" font-weight="bold">e</text></g>
<g transform="translate(1390,830) rotate(0)"><path d="M6,-11 Q80,-6 160,0 Q80,6 6,11 Z" fill="#f8f4c0"/><text x="-20" y="17" font-size="66" fill="#e01818" font-family="Liberation Serif, serif" font-weight="bold">e</text></g>
<g transform="translate(1195,915) rotate(30)"><path d="M6,-11 Q80,-6 160,0 Q80,6 6,11 Z" fill="#f8f4c0"/><text x="-20" y="17" font-size="66" fill="#e01818" font-family="Liberation Serif, serif" font-weight="bold">e</text></g>
<g transform="translate(1395,960) rotate(20)"><path d="M6,-11 Q80,-6 160,0 Q80,6 6,11 Z" fill="#f8f4c0"/><text x="-20" y="17" font-size="66" fill="#e01818" font-family="Liberation Serif, serif" font-weight="bold">e</text></g>
<g transform="translate(1115,1015) rotate(40)"><path d="M6,-11 Q80,-6 160,0 Q80,6 6,11 Z" fill="#f8f4c0"/><text x="-20" y="17" font-size="66" fill="#e01818" font-family="Liberation Serif, serif" font-weight="bold">e</text></g>
<g transform="translate(1190,1140) rotate(30)"><path d="M6,-11 Q80,-6 160,0 Q80,6 6,11 Z" fill="#f8f4c0"/><text x="-20" y="17" font-size="66" fill="#e01818" font-family="Liberation Serif, serif" font-weight="bold">e</text></g>
<g transform="translate(1410,1120) rotate(20)"><path d="M6,-11 Q80,-6 160,0 Q80,6 6,11 Z" fill="#f8f4c0"/><text x="-20" y="17" font-size="66" fill="#e01818" font-family="Liberation Serif, serif" font-weight="bold">e</text></g>
<text x="80.0" y="125.0" font-size="92" fill="#f2ee22" textLength="375" lengthAdjust="spacingAndGlyphs">FTO-BE</text>
<text x="600.0" y="125.0" font-size="92" fill="#5cb2e2" textLength="160" lengthAdjust="spacingAndGlyphs">TiO</text>
<text x="760.0" y="140.0" font-size="60" fill="#5cb2e2" style="font-style:italic">x</text>
<text x="850.0" y="125.0" font-size="92" fill="#f0229a" textLength="280" lengthAdjust="spacingAndGlyphs">GQDs</text>
<text x="1195.0" y="125.0" font-size="92" fill="#f2ee22" textLength="300" lengthAdjust="spacingAndGlyphs">Ag-TE</text></g>
<g transform="translate(400,950) scale(0.290023)"><path d="M400.0,362.0 C420.0,365.8 480.0,372.0 520.0,385.0 C560.0,398.0 616.7,425.8 640.0,440.0 C663.3,454.2 650.0,458.3 660.0,470.0 C670.0,481.7 680.0,490.0 700.0,510.0 C720.0,530.0 755.0,561.7 780.0,590.0 C805.0,618.3 828.3,645.0 850.0,680.0 C871.7,715.0 894.2,755.0 910.0,800.0 C925.8,845.0 937.0,886.2 945.0,950.0 C953.0,1013.8 955.8,1144.2 958.0,1183.0" fill="none" stroke="#d4d4e8" stroke-width="6"/>
<path d="M400.0,365.0 C426.7,370.8 510.0,385.0 560.0,400.0 C610.0,415.0 660.0,435.0 700.0,455.0 C740.0,475.0 770.0,494.2 800.0,520.0 C830.0,545.8 858.3,573.3 880.0,610.0 C901.7,646.7 917.5,683.3 930.0,740.0 C942.5,796.7 949.7,876.2 955.0,950.0 C960.3,1023.8 960.8,1144.2 962.0,1183.0" fill="none" stroke="#d4d4e8" stroke-width="7"/>
<path d="M400.0,372.0 C420.0,378.3 486.7,398.7 520.0,410.0 C553.3,421.3 573.3,425.0 600.0,440.0 C626.7,455.0 660.0,476.7 680.0,500.0 C700.0,523.3 706.7,555.0 720.0,580.0 C733.3,605.0 740.0,615.0 760.0,650.0 C780.0,685.0 815.0,741.7 840.0,790.0 C865.0,838.3 892.5,888.3 910.0,940.0 C927.5,991.7 937.5,1059.5 945.0,1100.0 C952.5,1140.5 953.3,1169.2 955.0,1183.0" fill="none" stroke="#3cc040" stroke-width="8"/>
<path d="M400.0,378.0 C426.7,385.0 510.0,403.8 560.0,420.0 C610.0,436.2 656.7,451.7 700.0,475.0 C743.3,498.3 786.7,525.8 820.0,560.0 C853.3,594.2 880.0,633.3 900.0,680.0 C920.0,726.7 930.3,786.7 940.0,840.0 C949.7,893.3 954.2,942.8 958.0,1000.0 C961.8,1057.2 962.2,1152.5 963.0,1183.0" fill="none" stroke="#3cc040" stroke-width="7"/>
<path d="M975.0,1183.0 C976.7,1144.2 979.2,1013.8 985.0,950.0 C990.8,886.2 994.2,850.0 1010.0,800.0 C1025.8,750.0 1048.3,693.3 1080.0,650.0 C1111.7,606.7 1158.3,570.8 1200.0,540.0 C1241.7,509.2 1290.0,485.8 1330.0,465.0 C1370.0,444.2 1415.0,422.5 1440.0,415.0 C1465.0,407.5 1470.0,409.2 1480.0,420.0 C1490.0,430.8 1493.3,466.7 1500.0,480.0 C1506.7,493.3 1516.7,496.7 1520.0,500.0" fill="none" stroke="#d4d4e8" stroke-width="7"/>
<path d="M1520.0,500.0 C1503.3,503.3 1456.7,506.7 1420.0,520.0 C1383.3,533.3 1345.0,553.3 1300.0,580.0 C1255.0,606.7 1191.7,645.0 1150.0,680.0 C1108.3,715.0 1075.0,748.3 1050.0,790.0 C1025.0,831.7 1011.7,878.3 1000.0,930.0 C988.3,981.7 984.2,1057.8 980.0,1100.0 C975.8,1142.2 975.8,1169.2 975.0,1183.0" fill="none" stroke="#d4d4e8" stroke-width="4"/>
<path d="M968.0,1183.0 C969.2,1144.2 969.7,1013.8 975.0,950.0 C980.3,886.2 984.2,851.7 1000.0,800.0 C1015.8,748.3 1036.7,685.0 1070.0,640.0 C1103.3,595.0 1156.7,558.3 1200.0,530.0 C1243.3,501.7 1291.7,488.3 1330.0,470.0 C1368.3,451.7 1407.5,426.7 1430.0,420.0 C1452.5,413.3 1455.0,415.0 1465.0,430.0 C1475.0,445.0 1480.8,491.7 1490.0,510.0 C1499.2,528.3 1515.0,535.0 1520.0,540.0" fill="none" stroke="#3cc040" stroke-width="8"/>
<path d="M1520.0,545.0 C1513.3,552.5 1500.0,575.8 1480.0,590.0 C1460.0,604.2 1430.0,613.3 1400.0,630.0 C1370.0,646.7 1333.3,668.3 1300.0,690.0 C1266.7,711.7 1233.3,733.3 1200.0,760.0 C1166.7,786.7 1128.3,818.3 1100.0,850.0 C1071.7,881.7 1048.3,911.7 1030.0,950.0 C1011.7,988.3 999.2,1041.2 990.0,1080.0 C980.8,1118.8 977.5,1165.8 975.0,1183.0" fill="none" stroke="#3cc040" stroke-width="9"/>
<path d="M1480.0,378.0 C1481.7,395.0 1483.3,459.7 1490.0,480.0 C1496.7,500.3 1515.0,496.7 1520.0,500.0" fill="none" stroke="#d4d4e8" stroke-width="5"/>
<line x1="400.0" y1="1183.0" x2="400.0" y2="1163.0" stroke="#e8e23a" stroke-width="5"/>
<line x1="540.0" y1="1183.0" x2="540.0" y2="1171.0" stroke="#e8e23a" stroke-width="5"/>
<line x1="680.0" y1="1183.0" x2="680.0" y2="1163.0" stroke="#e8e23a" stroke-width="5"/>
<line x1="820.0" y1="1183.0" x2="820.0" y2="1171.0" stroke="#e8e23a" stroke-width="5"/>
<line x1="960.0" y1="1183.0" x2="960.0" y2="1163.0" stroke="#e8e23a" stroke-width="5"/>
<line x1="1100.0" y1="1183.0" x2="1100.0" y2="1171.0" stroke="#e8e23a" stroke-width="5"/>
<line x1="1240.0" y1="1183.0" x2="1240.0" y2="1163.0" stroke="#e8e23a" stroke-width="5"/>
<line x1="1380.0" y1="1183.0" x2="1380.0" y2="1171.0" stroke="#e8e23a" stroke-width="5"/>
<line x1="1520.0" y1="1183.0" x2="1520.0" y2="1163.0" stroke="#e8e23a" stroke-width="5"/>
<line x1="372.0" y1="1105.0" x2="392.0" y2="1105.0" stroke="#e8e23a" stroke-width="4"/>
<line x1="372.0" y1="1025.2" x2="383.0" y2="1025.2" stroke="#e8e23a" stroke-width="3"/>
<line x1="372.0" y1="978.6" x2="383.0" y2="978.6" stroke="#e8e23a" stroke-width="3"/>
<line x1="372.0" y1="945.5" x2="383.0" y2="945.5" stroke="#e8e23a" stroke-width="3"/>
<line x1="372.0" y1="919.8" x2="383.0" y2="919.8" stroke="#e8e23a" stroke-width="3"/>
<line x1="372.0" y1="898.8" x2="383.0" y2="898.8" stroke="#e8e23a" stroke-width="3"/>
<line x1="372.0" y1="881.0" x2="383.0" y2="881.0" stroke="#e8e23a" stroke-width="3"/>
<line x1="372.0" y1="865.7" x2="383.0" y2="865.7" stroke="#e8e23a" stroke-width="3"/>
<line x1="372.0" y1="852.1" x2="383.0" y2="852.1" stroke="#e8e23a" stroke-width="3"/>
<line x1="372.0" y1="840.0" x2="392.0" y2="840.0" stroke="#e8e23a" stroke-width="4"/>
<line x1="372.0" y1="760.2" x2="383.0" y2="760.2" stroke="#e8e23a" stroke-width="3"/>
<line x1="372.0" y1="713.6" x2="383.0" y2="713.6" stroke="#e8e23a" stroke-width="3"/>
<line x1="372.0" y1="680.5" x2="383.0" y2="680.5" stroke="#e8e23a" stroke-width="3"/>
<line x1="372.0" y1="654.8" x2="383.0" y2="654.8" stroke="#e8e23a" stroke-width="3"/>
<line x1="372.0" y1="633.8" x2="383.0" y2="633.8" stroke="#e8e23a" stroke-width="3"/>
<line x1="372.0" y1="616.0" x2="383.0" y2="616.0" stroke="#e8e23a" stroke-width="3"/>
<line x1="372.0" y1="600.7" x2="383.0" y2="600.7" stroke="#e8e23a" stroke-width="3"/>
<line x1="372.0" y1="587.1" x2="383.0" y2="587.1" stroke="#e8e23a" stroke-width="3"/>
<line x1="372.0" y1="575.0" x2="392.0" y2="575.0" stroke="#e8e23a" stroke-width="4"/>
<line x1="372.0" y1="495.2" x2="383.0" y2="495.2" stroke="#e8e23a" stroke-width="3"/>
<line x1="372.0" y1="448.6" x2="383.0" y2="448.6" stroke="#e8e23a" stroke-width="3"/>
<line x1="372.0" y1="415.5" x2="383.0" y2="415.5" stroke="#e8e23a" stroke-width="3"/>
<line x1="372.0" y1="389.8" x2="383.0" y2="389.8" stroke="#e8e23a" stroke-width="3"/>
<line x1="372.0" y1="368.8" x2="383.0" y2="368.8" stroke="#e8e23a" stroke-width="3"/>
<line x1="372.0" y1="351.0" x2="383.0" y2="351.0" stroke="#e8e23a" stroke-width="3"/>
<line x1="372.0" y1="335.7" x2="383.0" y2="335.7" stroke="#e8e23a" stroke-width="3"/>
<line x1="372.0" y1="322.1" x2="383.0" y2="322.1" stroke="#e8e23a" stroke-width="3"/>
<line x1="372.0" y1="310.0" x2="392.0" y2="310.0" stroke="#e8e23a" stroke-width="4"/>
<rect x="372.0" y="298.0" width="1178.0" height="885.0" fill="none" stroke="#e8e23a" stroke-width="6"/>
<text x="245.0" y="335.0" font-size="62" fill="#e8e23a" textLength="70" lengthAdjust="spacingAndGlyphs">10</text>
<text x="318.0" y="307.0" font-size="40" fill="#e8e23a" textLength="45" lengthAdjust="spacingAndGlyphs">−1</text>
<text x="245.0" y="600.0" font-size="62" fill="#e8e23a" textLength="70" lengthAdjust="spacingAndGlyphs">10</text>
<text x="318.0" y="572.0" font-size="40" fill="#e8e23a" textLength="45" lengthAdjust="spacingAndGlyphs">−2</text>
<text x="245.0" y="865.0" font-size="62" fill="#e8e23a" textLength="70" lengthAdjust="spacingAndGlyphs">10</text>
<text x="318.0" y="837.0" font-size="40" fill="#e8e23a" textLength="45" lengthAdjust="spacingAndGlyphs">−3</text>
<text x="245.0" y="1130.0" font-size="62" fill="#e8e23a" textLength="70" lengthAdjust="spacingAndGlyphs">10</text>
<text x="318.0" y="1102.0" font-size="40" fill="#e8e23a" textLength="45" lengthAdjust="spacingAndGlyphs">−4</text>
<text x="392.0" y="1252.0" font-size="62" fill="#e8e23a" text-anchor="middle">−2</text>
<text x="672.0" y="1252.0" font-size="62" fill="#e8e23a" text-anchor="middle">−1</text>
<text x="960.0" y="1252.0" font-size="62" fill="#e8e23a" text-anchor="middle">0</text>
<text x="1240.0" y="1252.0" font-size="62" fill="#e8e23a" text-anchor="middle">1</text>
<text x="1520.0" y="1252.0" font-size="62" fill="#e8e23a" text-anchor="middle">2</text>
<text x="752.0" y="1310.0" font-size="66" fill="#e8e23a" textLength="436" lengthAdjust="spacingAndGlyphs">Bias voltage/V</text>
<text x="0.0" y="0.0" font-size="62" fill="#e8e23a" text-anchor="middle" textLength="295" lengthAdjust="spacingAndGlyphs" transform="translate(235,732) rotate(-90)">Current/A</text>
<line x1="445.0" y1="915.0" x2="540.0" y2="915.0" stroke="#d4d4e8" stroke-width="7"/>
<text x="562.0" y="935.0" font-size="52" fill="#f0f0ff" textLength="113" lengthAdjust="spacingAndGlyphs">Dark</text>
<line x1="445.0" y1="998.0" x2="540.0" y2="998.0" stroke="#3cc040" stroke-width="8"/>
<text x="562.0" y="1015.0" font-size="52" fill="#40c848" textLength="298" lengthAdjust="spacingAndGlyphs">550 nm light</text>
<text x="1178.0" y="935.0" font-size="52" fill="#ffffff" textLength="212" lengthAdjust="spacingAndGlyphs">Negative</text>
<text x="1060.0" y="1012.0" font-size="52" fill="#ffffff" textLength="442" lengthAdjust="spacingAndGlyphs">photoconductivity</text>
<text x="1248.0" y="555.0" font-size="52" fill="#ffffff" textLength="57" lengthAdjust="spacingAndGlyphs" style="font-style:italic">hv</text>
<line x1="1270.0" y1="597.0" x2="1270.0" y2="659.0" stroke="#e8206a" stroke-width="9"/><path d="M1270.0,688.0 L1252.0,658.0 L1288.0,658.0 Z" fill="#e8206a"/></g>
<text x="866.0" y="984.3" font-size="34" fill="#000">(g)</text>
<g transform="translate(862,950) scale(0.289939)"><rect x="152.0" y="192.0" width="1448.0" height="1123.0" fill="url(#gGbg)"/>
<path d="M155,195 L975,195 L1030,230" fill="none" stroke="#0a0a1a" stroke-width="8" stroke-dasharray="32,18"/>
<path d="M1200,195 L1600,195" fill="none" stroke="#0a0a1a" stroke-width="8" stroke-dasharray="32,18"/>
<path d="M1030,265 L1165,245 Q1180,205 1200,195" fill="none" stroke="#0a0a1a" stroke-width="8" stroke-dasharray="32,18"/>
<path d="M1030,230 L1030,1110" fill="none" stroke="#0a0a1a" stroke-width="5" stroke-dasharray="14,8"/>
<path d="M1165,245 L1165,1060" fill="none" stroke="#0a0a1a" stroke-width="5" stroke-dasharray="14,8"/>
<line x1="1035.0" y1="300.0" x2="1165.0" y2="272.0" stroke="#0a0a1a" stroke-width="6"/>
<line x1="1035.0" y1="335.0" x2="1165.0" y2="307.0" stroke="#0a0a1a" stroke-width="6"/>
<line x1="1035.0" y1="350.0" x2="1165.0" y2="322.0" stroke="#0a0a1a" stroke-width="6"/>
<line x1="1035.0" y1="362.0" x2="1165.0" y2="334.0" stroke="#0a0a1a" stroke-width="6"/>
<line x1="1035.0" y1="378.0" x2="1165.0" y2="350.0" stroke="#0a0a1a" stroke-width="6"/>
<line x1="1035.0" y1="410.0" x2="1165.0" y2="382.0" stroke="#0a0a1a" stroke-width="6"/>
<line x1="1035.0" y1="438.0" x2="1165.0" y2="410.0" stroke="#0a0a1a" stroke-width="6"/>
<line x1="1035.0" y1="452.0" x2="1165.0" y2="424.0" stroke="#0a0a1a" stroke-width="6"/>
<line x1="1035.0" y1="468.0" x2="1165.0" y2="440.0" stroke="#0a0a1a" stroke-width="6"/>
<line x1="1035.0" y1="492.0" x2="1165.0" y2="464.0" stroke="#0a0a1a" stroke-width="6"/>
<line x1="1035.0" y1="525.0" x2="1165.0" y2="497.0" stroke="#0a0a1a" stroke-width="6"/>
<line x1="1035.0" y1="565.0" x2="1165.0" y2="537.0" stroke="#0a0a1a" stroke-width="6"/>
<line x1="1035.0" y1="735.0" x2="1165.0" y2="707.0" stroke="#0a0a1a" stroke-width="6"/>
<line x1="1035.0" y1="760.0" x2="1165.0" y2="732.0" stroke="#0a0a1a" stroke-width="6"/>
<line x1="1035.0" y1="790.0" x2="1165.0" y2="762.0" stroke="#0a0a1a" stroke-width="6"/>
<line x1="1035.0" y1="812.0" x2="1165.0" y2="784.0" stroke="#0a0a1a" stroke-width="6"/>
<line x1="1035.0" y1="845.0" x2="1165.0" y2="817.0" stroke="#0a0a1a" stroke-width="6"/>
<line x1="1035.0" y1="878.0" x2="1165.0" y2="850.0" stroke="#0a0a1a" stroke-width="6"/>
<line x1="1035.0" y1="905.0" x2="1165.0" y2="877.0" stroke="#0a0a1a" stroke-width="6"/>
<line x1="1035.0" y1="932.0" x2="1165.0" y2="904.0" stroke="#0a0a1a" stroke-width="6"/>
<line x1="1035.0" y1="962.0" x2="1165.0" y2="934.0" stroke="#0a0a1a" stroke-width="6"/>
<line x1="1035.0" y1="992.0" x2="1165.0" y2="964.0" stroke="#0a0a1a" stroke-width="6"/>
<line x1="1035.0" y1="1022.0" x2="1165.0" y2="994.0" stroke="#0a0a1a" stroke-width="6"/>
<line x1="1035.0" y1="1052.0" x2="1165.0" y2="1024.0" stroke="#0a0a1a" stroke-width="6"/>
<line x1="1035.0" y1="1080.0" x2="1165.0" y2="1052.0" stroke="#0a0a1a" stroke-width="6"/>
<rect x="1165.0" y="695.0" width="132.0" height="367.0" fill="url(#gAgBlk)"/>
<line x1="370.0" y1="672.0" x2="1035.0" y2="672.0" stroke="#3f62c8" stroke-width="7"/>
<line x1="370.0" y1="692.0" x2="1290.0" y2="692.0" stroke="#e8e8f8" stroke-width="6" stroke-dasharray="30,14"/>
<line x1="370.0" y1="997.0" x2="960.0" y2="997.0" stroke="#3f62c8" stroke-width="7"/>
<line x1="255.0" y1="205.0" x2="255.0" y2="1040.0" stroke="#0a0a1a" stroke-width="7"/><path d="M234.1,243 L255,205 L275.9,243" fill="none" stroke="#0a0a1a" stroke-width="8"/><path d="M234.1,1002 L255,1040 L275.9,1002" fill="none" stroke="#0a0a1a" stroke-width="8"/>
<line x1="405.0" y1="205.0" x2="405.0" y2="660.0" stroke="#0a0a1a" stroke-width="7"/><path d="M384.1,243 L405,205 L425.9,243" fill="none" stroke="#0a0a1a" stroke-width="8"/><path d="M384.1,622 L405,660 L425.9,622" fill="none" stroke="#0a0a1a" stroke-width="8"/>
<line x1="950.0" y1="270.0" x2="950.0" y2="550.0" stroke="#0a0a1a" stroke-width="7"/><path d="M929.1,308 L950,270 L970.9,308" fill="none" stroke="#0a0a1a" stroke-width="8"/><path d="M929.1,512 L950,550 L970.9,512" fill="none" stroke="#0a0a1a" stroke-width="8"/>
<line x1="1272.0" y1="205.0" x2="1272.0" y2="680.0" stroke="#0a0a1a" stroke-width="7"/><path d="M1251.1,243 L1272,205 L1292.9,243" fill="none" stroke="#0a0a1a" stroke-width="8"/><path d="M1251.1,642 L1272,680 L1292.9,642" fill="none" stroke="#0a0a1a" stroke-width="8"/>
<line x1="1372.0" y1="525.0" x2="1372.0" y2="688.0" stroke="#0a0a1a" stroke-width="7"/><path d="M1351.1,563 L1372,525 L1392.9,563" fill="none" stroke="#0a0a1a" stroke-width="8"/><path d="M1351.1,650 L1372,688 L1392.9,650" fill="none" stroke="#0a0a1a" stroke-width="8"/>
<line x1="1335.0" y1="520.0" x2="1415.0" y2="520.0" stroke="#0a0a1a" stroke-width="7"/>
<line x1="1330.0" y1="692.0" x2="1410.0" y2="692.0" stroke="#0a0a1a" stroke-width="7"/>
<text x="330.0" y="468.0" font-size="46" fill="#ffffff" textLength="205" lengthAdjust="spacingAndGlyphs">−4.21 eV</text>
<text x="705.0" y="420.0" font-size="46" fill="#ffffff" textLength="205" lengthAdjust="spacingAndGlyphs">−3.91 eV</text>
<text x="1195.0" y="432.0" font-size="46" fill="#ffffff" textLength="205" lengthAdjust="spacingAndGlyphs">−4.26 eV</text>
<text x="155.0" y="762.0" font-size="46" fill="#ffffff" textLength="203" lengthAdjust="spacingAndGlyphs">−7.41 eV</text>
<text x="1300.0" y="608.0" font-size="46" fill="#ffffff" style="font-style:italic">E</text>
<text x="1330.0" y="622.0" font-size="30" fill="#ffffff">g</text>
<text x="1360.0" y="608.0" font-size="46" fill="#ffffff" textLength="225" lengthAdjust="spacingAndGlyphs">= 0.52 eV</text>
<text x="517.0" y="343.0" font-size="72" fill="#0a0a1a" textLength="345" lengthAdjust="spacingAndGlyphs">HRS-dark</text>
<text x="280.0" y="612.0" font-size="72" fill="#0a0a1a" style="font-style:italic">E</text>
<text x="330.0" y="622.0" font-size="42" fill="#0a0a1a">C</text>
<text x="290.0" y="705.0" font-size="72" fill="#0a0a1a" style="font-style:italic">E</text>
<text x="338.0" y="718.0" font-size="42" fill="#0a0a1a">f</text>
<text x="272.0" y="1030.0" font-size="72" fill="#0a0a1a" style="font-style:italic">E</text>
<text x="322.0" y="1040.0" font-size="42" fill="#0a0a1a">V</text>
<text x="305.0" y="865.0" font-size="58" fill="#0a0a1a" textLength="100" lengthAdjust="spacingAndGlyphs">TiO</text>
<text x="405.0" y="870.0" font-size="44" fill="#0a0a1a" style="font-style:italic">x</text>
<line x1="770.0" y1="643.0" x2="611.0" y2="643.0" stroke="#e8204a" stroke-width="5"/><path d="M590.0,643.0 L612.0,633.0 L612.0,653.0 Z" fill="#e8204a"/>
<path d="M1050,695 C1040,650 1000,640 920,640" fill="none" stroke="#e8204a" stroke-width="5"/>
<path d="M920,640 L942,630 L942,650 Z" fill="#e8204a"/>
<path d="M1120,690 C1140,650 1160,650 1190,655" fill="none" stroke="#e8204a" stroke-width="5"/>
<path d="M1120,690 L1095,712" fill="none" stroke="#e8204a" stroke-width="5"/>
<line x1="1050.0" y1="975.0" x2="1027.0" y2="1003.3" stroke="#e8204a" stroke-width="5"/><path d="M1015.0,1018.0 L1019.9,996.2 L1035.4,1008.8 Z" fill="#e8204a"/>
<line x1="1060.0" y1="1070.0" x2="1036.3" y2="1076.8" stroke="#e8204a" stroke-width="5"/><path d="M1018.0,1082.0 L1034.5,1066.9 L1040.0,1086.1 Z" fill="#e8204a"/>
<ellipse cx="843" cy="647" rx="36" ry="30" fill="#9ee6ea"/><text x="823.0" y="663.0" font-size="48" fill="#e8202a" style="font-weight:bold">e</text><text x="851.0" y="641.0" font-size="28.799999999999997" fill="#e8202a">−</text>
<ellipse cx="1218" cy="660" rx="36" ry="30" fill="#9ee6ea"/><text x="1198.0" y="676.0" font-size="48" fill="#e8202a" style="font-weight:bold">e</text><text x="1226.0" y="654.0" font-size="28.799999999999997" fill="#e8202a">−</text>
<ellipse cx="1070" cy="737" rx="36" ry="30" fill="#9ee6ea"/><text x="1050.0" y="753.0" font-size="48" fill="#e8202a" style="font-weight:bold">e</text><text x="1078.0" y="731.0" font-size="28.799999999999997" fill="#e8202a">−</text>
<ellipse cx="1092" cy="860" rx="36" ry="30" fill="#9ee6ea"/><text x="1072.0" y="876.0" font-size="48" fill="#e8202a" style="font-weight:bold">e</text><text x="1100.0" y="854.0" font-size="28.799999999999997" fill="#e8202a">−</text>
<ellipse cx="1083" cy="948" rx="36" ry="30" fill="#9ee6ea"/><text x="1063.0" y="964.0" font-size="48" fill="#e8202a" style="font-weight:bold">e</text><text x="1091.0" y="942.0" font-size="28.799999999999997" fill="#e8202a">−</text>
<ellipse cx="1083" cy="1040" rx="36" ry="30" fill="#9ee6ea"/><text x="1063.0" y="1056.0" font-size="48" fill="#e8202a" style="font-weight:bold">e</text><text x="1091.0" y="1034.0" font-size="28.799999999999997" fill="#e8202a">−</text>
<circle cx="408" cy="1018" r="28" fill="url(#gHole)" stroke="#1a2a6a" stroke-width="3" stroke-dasharray="8,5"/><text x="408.0" y="1030.0" font-size="36" fill="#e8207a" text-anchor="middle">+</text>
<circle cx="537" cy="1018" r="28" fill="url(#gHole)" stroke="#1a2a6a" stroke-width="3" stroke-dasharray="8,5"/><text x="537.0" y="1030.0" font-size="36" fill="#e8207a" text-anchor="middle">+</text>
<circle cx="645" cy="1018" r="28" fill="url(#gHole)" stroke="#1a2a6a" stroke-width="3" stroke-dasharray="8,5"/><text x="645.0" y="1030.0" font-size="36" fill="#e8207a" text-anchor="middle">+</text>
<circle cx="700" cy="1018" r="28" fill="url(#gHole)" stroke="#1a2a6a" stroke-width="3" stroke-dasharray="8,5"/><text x="700.0" y="1030.0" font-size="36" fill="#e8207a" text-anchor="middle">+</text>
<circle cx="755" cy="1018" r="28" fill="url(#gHole)" stroke="#1a2a6a" stroke-width="3" stroke-dasharray="8,5"/><text x="755.0" y="1030.0" font-size="36" fill="#e8207a" text-anchor="middle">+</text>
<circle cx="808" cy="1035" r="28" fill="url(#gHole)" stroke="#1a2a6a" stroke-width="3" stroke-dasharray="8,5"/><text x="808.0" y="1047.0" font-size="36" fill="#e8207a" text-anchor="middle">+</text>
<circle cx="865" cy="1018" r="28" fill="url(#gHole)" stroke="#1a2a6a" stroke-width="3" stroke-dasharray="8,5"/><text x="865.0" y="1030.0" font-size="36" fill="#e8207a" text-anchor="middle">+</text>
<circle cx="918" cy="1018" r="28" fill="url(#gHole)" stroke="#1a2a6a" stroke-width="3" stroke-dasharray="8,5"/><text x="918.0" y="1030.0" font-size="36" fill="#e8207a" text-anchor="middle">+</text>
<circle cx="865" cy="1060" r="28" fill="url(#gHole)" stroke="#1a2a6a" stroke-width="3" stroke-dasharray="8,5"/><text x="865.0" y="1072.0" font-size="36" fill="#e8207a" text-anchor="middle">+</text>
<circle cx="920" cy="1060" r="28" fill="url(#gHole)" stroke="#1a2a6a" stroke-width="3" stroke-dasharray="8,5"/><text x="920.0" y="1072.0" font-size="36" fill="#e8207a" text-anchor="middle">+</text>
<circle cx="950" cy="1107" r="28" fill="url(#gHole)" stroke="#1a2a6a" stroke-width="3" stroke-dasharray="8,5"/><text x="950.0" y="1119.0" font-size="36" fill="#e8207a" text-anchor="middle">+</text>
<circle cx="1005" cy="1107" r="28" fill="url(#gHole)" stroke="#1a2a6a" stroke-width="3" stroke-dasharray="8,5"/><text x="1005.0" y="1119.0" font-size="36" fill="#e8207a" text-anchor="middle">+</text>
<ellipse cx="980" cy="1018" rx="32" ry="28" fill="url(#gSphere)" stroke="#2a4a8a" stroke-width="2"/>
<ellipse cx="1000" cy="1058" rx="32" ry="28" fill="url(#gSphere)" stroke="#2a4a8a" stroke-width="2"/>
<text x="295.0" y="1158.0" font-size="72" fill="#0a0a1a" text-anchor="middle">+</text>
<line x1="435.0" y1="1065.0" x2="639.0" y2="1065.0" stroke="#0a0a1a" stroke-width="7"/><path d="M668.0,1065.0 L638.0,1078.0 L638.0,1052.0 Z" fill="#0a0a1a"/>
<text x="517.0" y="1150.0" font-size="80" fill="#0a0a1a">V</text>
<text x="568.0" y="1160.0" font-size="44" fill="#0a0a1a">o</text>
<text x="595.0" y="1112.0" font-size="44" fill="#0a0a1a">+</text>
<text x="445.0" y="1280.0" font-size="80" fill="#0a0a1a">V</text>
<text x="496.0" y="1290.0" font-size="44" fill="#0a0a1a">o</text>
<text x="520.0" y="1245.0" font-size="44" fill="#0a0a1a">+</text>
<text x="575.0" y="1280.0" font-size="80" fill="#0a0a1a">+ e</text>
<text x="684.0" y="1242.0" font-size="44" fill="#0a0a1a">−</text>
<line x1="722.0" y1="1258.0" x2="851.0" y2="1258.0" stroke="#0a0a1a" stroke-width="7"/><path d="M878.0,1258.0 L850.0,1270.0 L850.0,1246.0 Z" fill="#0a0a1a"/>
<text x="885.0" y="1280.0" font-size="80" fill="#0a0a1a">V</text>
<text x="938.0" y="1290.0" font-size="44" fill="#0a0a1a">o</text>
<text x="1070.0" y="1130.0" font-size="50" fill="#0a0a1a" textLength="142" lengthAdjust="spacingAndGlyphs">GQDs</text>
<text x="1240.0" y="1130.0" font-size="50" fill="#0a0a1a" textLength="65" lengthAdjust="spacingAndGlyphs">Ag</text>
<line x1="1240.0" y1="1165.0" x2="1275.0" y2="1165.0" stroke="#0a0a1a" stroke-width="8"/></g>
<text x="1367.0" y="984.3" font-size="34" fill="#000">(h)</text>
<g transform="translate(1362,950) scale(0.289939)"><rect x="235.0" y="183.0" width="1375.0" height="1132.0" fill="url(#gHbg)"/>
<rect x="272.0" y="197.0" width="121.0" height="124.0" fill="#ffffff" opacity="0.1"/>
<rect x="1135.0" y="278.0" width="55.0" height="797.0" fill="#4a4a4e"/>
<line x1="1190.0" y1="300.0" x2="1330.0" y2="322.0" stroke="#0a0a1a" stroke-width="6"/>
<line x1="1190.0" y1="324.0" x2="1330.0" y2="346.0" stroke="#0a0a1a" stroke-width="6"/>
<line x1="1190.0" y1="348.0" x2="1330.0" y2="370.0" stroke="#0a0a1a" stroke-width="6"/>
<line x1="1190.0" y1="372.0" x2="1330.0" y2="394.0" stroke="#0a0a1a" stroke-width="6"/>
<line x1="1190.0" y1="396.0" x2="1330.0" y2="418.0" stroke="#0a0a1a" stroke-width="6"/>
<line x1="1190.0" y1="420.0" x2="1330.0" y2="442.0" stroke="#0a0a1a" stroke-width="6"/>
<line x1="1190.0" y1="444.0" x2="1330.0" y2="466.0" stroke="#0a0a1a" stroke-width="6"/>
<line x1="1190.0" y1="468.0" x2="1330.0" y2="490.0" stroke="#0a0a1a" stroke-width="6"/>
<line x1="1190.0" y1="492.0" x2="1330.0" y2="514.0" stroke="#0a0a1a" stroke-width="6"/>
<line x1="1190.0" y1="516.0" x2="1330.0" y2="538.0" stroke="#0a0a1a" stroke-width="6"/>
<line x1="1190.0" y1="540.0" x2="1330.0" y2="562.0" stroke="#0a0a1a" stroke-width="6"/>
<line x1="1190.0" y1="564.0" x2="1330.0" y2="586.0" stroke="#0a0a1a" stroke-width="6"/>
<line x1="1190.0" y1="588.0" x2="1330.0" y2="610.0" stroke="#0a0a1a" stroke-width="6"/>
<line x1="1190.0" y1="612.0" x2="1330.0" y2="634.0" stroke="#0a0a1a" stroke-width="6"/>
<line x1="1190.0" y1="636.0" x2="1330.0" y2="658.0" stroke="#0a0a1a" stroke-width="6"/>
<line x1="1190.0" y1="660.0" x2="1330.0" y2="682.0" stroke="#0a0a1a" stroke-width="6"/>
<line x1="1190.0" y1="684.0" x2="1330.0" y2="706.0" stroke="#0a0a1a" stroke-width="6"/>
<line x1="1190.0" y1="715.0" x2="1330.0" y2="737.0" stroke="#0a0a1a" stroke-width="6"/>
<line x1="1190.0" y1="741.0" x2="1330.0" y2="763.0" stroke="#0a0a1a" stroke-width="6"/>
<line x1="1190.0" y1="767.0" x2="1330.0" y2="789.0" stroke="#0a0a1a" stroke-width="6"/>
<line x1="1190.0" y1="793.0" x2="1330.0" y2="815.0" stroke="#0a0a1a" stroke-width="6"/>
<line x1="1190.0" y1="819.0" x2="1330.0" y2="841.0" stroke="#0a0a1a" stroke-width="6"/>
<line x1="1190.0" y1="845.0" x2="1330.0" y2="867.0" stroke="#0a0a1a" stroke-width="6"/>
<line x1="1190.0" y1="871.0" x2="1330.0" y2="893.0" stroke="#0a0a1a" stroke-width="6"/>
<line x1="1190.0" y1="897.0" x2="1330.0" y2="919.0" stroke="#0a0a1a" stroke-width="6"/>
<line x1="1190.0" y1="923.0" x2="1330.0" y2="945.0" stroke="#0a0a1a" stroke-width="6"/>
<line x1="1190.0" y1="949.0" x2="1330.0" y2="971.0" stroke="#0a0a1a" stroke-width="6"/>
<line x1="1190.0" y1="975.0" x2="1330.0" y2="997.0" stroke="#0a0a1a" stroke-width="6"/>
<line x1="1190.0" y1="1001.0" x2="1330.0" y2="1023.0" stroke="#0a0a1a" stroke-width="6"/>
<line x1="1190.0" y1="1027.0" x2="1330.0" y2="1049.0" stroke="#0a0a1a" stroke-width="6"/>
<line x1="1190.0" y1="1053.0" x2="1330.0" y2="1075.0" stroke="#0a0a1a" stroke-width="6"/>
<line x1="1190.0" y1="1079.0" x2="1330.0" y2="1101.0" stroke="#0a0a1a" stroke-width="6"/>
<line x1="1190.0" y1="1105.0" x2="1330.0" y2="1127.0" stroke="#0a0a1a" stroke-width="6"/>
<path d="M1330,322 L1330,1110" fill="none" stroke="#0a0a1a" stroke-width="4" stroke-dasharray="12,8"/>
<path d="M1138,182 Q1160,190 1172,198" fill="none" stroke="#0a0a1a" stroke-width="8"/>
<path d="M1189,220 L1189,243 L1331,271 L1344,186" fill="none" stroke="#0a0a1a" stroke-width="8" stroke-dasharray="26,16"/>
<path d="M1440,183 L1610,183" fill="none" stroke="#b4b4bc" stroke-width="7" stroke-dasharray="34,24"/>
<rect x="1335.0" y="700.0" width="130.0" height="405.0" fill="url(#gAgBlk2)"/>
<path d="M470,675 L1040,672 C1090,670 1110,660 1135,625" fill="none" stroke="#3a5ec0" stroke-width="8"/>
<line x1="440.0" y1="692.0" x2="1470.0" y2="692.0" stroke="#f4f4ff" stroke-width="6" stroke-dasharray="30,14"/>
<path d="M470,997 L1040,993 C1090,990 1110,975 1135,945" fill="none" stroke="#3a5ec0" stroke-width="8"/>
<path d="M420,880 C480,820 560,780 640,800 C720,830 740,880 800,870 C860,860 880,820 940,840 C1000,860 1010,850 1060,845 C1120,840 1200,855 1260,850 C1320,845 1360,850 1410,850" fill="none" stroke="#3a3a50" stroke-width="40" opacity="0.6" stroke-linecap="round" filter="url(#fBlur8)"/>
<path d="M420,880 C480,820 560,780 640,800 C720,830 740,880 800,870 C860,860 880,820 940,840 C1000,860 1010,850 1060,845 C1120,840 1200,855 1260,850 C1320,845 1360,850 1410,850" fill="none" stroke="#44c040" stroke-width="7"/>
<path d="M1385,835 L1412,850 L1385,865 Z" fill="#44c040"/>
<text x="335.0" y="810.0" font-size="66" fill="#ffffff" textLength="85" lengthAdjust="spacingAndGlyphs" style="font-style:italic">hv</text>
<text x="610.0" y="325.0" font-size="72" fill="#3a4ea8" textLength="345" lengthAdjust="spacingAndGlyphs">HRS-light</text>
<text x="360.0" y="600.0" font-size="72" fill="#0a0a1a" style="font-style:italic">E</text>
<text x="410.0" y="612.0" font-size="42" fill="#0a0a1a">C</text>
<text x="288.0" y="668.0" font-size="72" fill="#0a0a1a">+</text>
<text x="375.0" y="700.0" font-size="72" fill="#0a0a1a" style="font-style:italic">E</text>
<text x="425.0" y="712.0" font-size="42" fill="#0a0a1a">f</text>
<text x="360.0" y="1015.0" font-size="72" fill="#0a0a1a" style="font-style:italic">E</text>
<text x="410.0" y="1027.0" font-size="42" fill="#0a0a1a">V</text>
<line x1="1530.0" y1="650.0" x2="1565.0" y2="650.0" stroke="#0a0a1a" stroke-width="8"/>
<path d="M1040,610 L850,610" fill="none" stroke="#e8204a" stroke-width="5" stroke-dasharray="20,12"/>
<path d="M870,592 L840,610 L870,628" fill="none" stroke="#e8204a" stroke-width="5"/>
<path d="M1100,950 L1100,650" fill="none" stroke="#e8204a" stroke-width="5" stroke-dasharray="20,12"/>
<path d="M1088,665 L1100,640 L1112,665" fill="none" stroke="#e8204a" stroke-width="5"/>
<path d="M1290,760 L1290,545" fill="none" stroke="#e8204a" stroke-width="5" stroke-dasharray="20,12"/>
<path d="M1278,565 L1290,540 L1302,565" fill="none" stroke="#e8204a" stroke-width="5"/>
<path d="M1320,520 Q1370,530 1370,640" fill="none" stroke="#e8204a" stroke-width="5" stroke-dasharray="20,12"/>
<path d="M1358,620 L1370,645 L1382,620" fill="none" stroke="#e8204a" stroke-width="5"/>
<path d="M1270,1075 L1150,995" fill="none" stroke="#e8204a" stroke-width="5" stroke-dasharray="20,12"/>
<path d="M1172,990 L1148,993 L1160,1012" fill="none" stroke="#e8204a" stroke-width="5"/>
<path d="M1200,1015 L1235,1050 M1235,1015 L1200,1050" fill="none" stroke="#e82030" stroke-width="9"/>
<ellipse cx="1075" cy="608" rx="34" ry="28" fill="#9ee6ea"/><text x="1055.0" y="624.0" font-size="44" fill="#e8202a" style="font-weight:bold">e</text><text x="1083.0" y="602.0" font-size="26.4" fill="#e8202a">−</text>
<ellipse cx="1285" cy="505" rx="34" ry="28" fill="#9ee6ea"/><text x="1265.0" y="521.0" font-size="44" fill="#e8202a" style="font-weight:bold">e</text><text x="1293.0" y="499.0" font-size="26.4" fill="#e8202a">−</text>
<ellipse cx="1365" cy="672" rx="34" ry="28" fill="#9ee6ea"/><text x="1345.0" y="688.0" font-size="44" fill="#e8202a" style="font-weight:bold">e</text><text x="1373.0" y="666.0" font-size="26.4" fill="#e8202a">−</text>
<ellipse cx="1290" cy="1078" rx="34" ry="28" fill="#9ee6ea"/><text x="1270.0" y="1094.0" font-size="44" fill="#e8202a" style="font-weight:bold">e</text><text x="1298.0" y="1072.0" font-size="26.4" fill="#e8202a">−</text>
<rect x="1420.0" y="635.0" width="90.0" height="60.0" fill="#ffffff"/>
<text x="1435.0" y="680.0" font-size="44" fill="#e8202a">e</text>
<text x="1460.0" y="660.0" font-size="28" fill="#e8202a">−</text>
<circle cx="1290" cy="790" r="30" fill="#d81a5a"/>
<text x="1272.0" y="804.0" font-size="40" fill="#0a0a1a">h</text>
<text x="1294.0" y="784.0" font-size="26" fill="#fff">+</text>
<circle cx="1290" cy="890" r="30" fill="#d81a5a"/>
<text x="1272.0" y="904.0" font-size="40" fill="#0a0a1a">h</text>
<text x="1294.0" y="884.0" font-size="26" fill="#fff">+</text>
<circle cx="1290" cy="985" r="30" fill="#d81a5a"/>
<text x="1272.0" y="999.0" font-size="40" fill="#0a0a1a">h</text>
<text x="1294.0" y="979.0" font-size="26" fill="#fff">+</text>
<circle cx="497" cy="1035" r="30" fill="url(#gHole)" stroke="#1a2a6a" stroke-width="3" stroke-dasharray="8,5"/><text x="497.0" y="1047.0" font-size="36" fill="#e8207a" text-anchor="middle">+</text>
<circle cx="585" cy="1035" r="30" fill="url(#gHole)" stroke="#1a2a6a" stroke-width="3" stroke-dasharray="8,5"/><text x="585.0" y="1047.0" font-size="36" fill="#e8207a" text-anchor="middle">+</text>
<circle cx="660" cy="1030" r="30" fill="url(#gHole)" stroke="#1a2a6a" stroke-width="3" stroke-dasharray="8,5"/><text x="660.0" y="1042.0" font-size="36" fill="#e8207a" text-anchor="middle">+</text>
<circle cx="808" cy="1035" r="30" fill="url(#gHole)" stroke="#1a2a6a" stroke-width="3" stroke-dasharray="8,5"/><text x="808.0" y="1047.0" font-size="36" fill="#e8207a" text-anchor="middle">+</text>
<circle cx="880" cy="1035" r="30" fill="url(#gHole)" stroke="#1a2a6a" stroke-width="3" stroke-dasharray="8,5"/><text x="880.0" y="1047.0" font-size="36" fill="#e8207a" text-anchor="middle">+</text>
<circle cx="940" cy="1035" r="30" fill="url(#gHole)" stroke="#1a2a6a" stroke-width="3" stroke-dasharray="8,5"/><text x="940.0" y="1047.0" font-size="36" fill="#e8207a" text-anchor="middle">+</text>
<ellipse cx="745" cy="1030" rx="34" ry="30" fill="url(#gSphere)" stroke="#2a4a8a" stroke-width="2"/>
<ellipse cx="1000" cy="1025" rx="34" ry="30" fill="url(#gSphere)" stroke="#2a4a8a" stroke-width="2"/>
<ellipse cx="1045" cy="1018" rx="34" ry="30" fill="url(#gSphere)" stroke="#2a4a8a" stroke-width="2"/>
<ellipse cx="1110" cy="990" rx="34" ry="30" fill="url(#gSphere)" stroke="#2a4a8a" stroke-width="2"/>
<ellipse cx="1105" cy="1035" rx="34" ry="30" fill="url(#gSphere)" stroke="#2a4a8a" stroke-width="2"/>
<ellipse cx="940" cy="1075" rx="34" ry="30" fill="url(#gSphere)" stroke="#2a4a8a" stroke-width="2"/>
<ellipse cx="1005" cy="1075" rx="34" ry="30" fill="url(#gSphere)" stroke="#2a4a8a" stroke-width="2"/>
<ellipse cx="1065" cy="1065" rx="34" ry="30" fill="url(#gSphere)" stroke="#2a4a8a" stroke-width="2"/>
<line x1="480.0" y1="1080.0" x2="686.0" y2="1080.0" stroke="#0a0a1a" stroke-width="7"/><path d="M715.0,1080.0 L685.0,1093.0 L685.0,1067.0 Z" fill="#0a0a1a"/>
<text x="1122" y="1130" font-size="62" fill="#0a0a1a">Δ<tspan font-style="italic">φ</tspan></text>
<text x="530.0" y="1205.0" font-size="72" fill="#0a0a1a">V</text>
<text x="578.0" y="1215.0" font-size="40" fill="#0a0a1a">o</text>
<line x1="605.0" y1="1192.0" x2="853.0" y2="1192.0" stroke="#0a0a1a" stroke-width="7"/><path d="M880.0,1192.0 L852.0,1204.0 L852.0,1180.0 Z" fill="#0a0a1a"/>
<text x="712.0" y="1165.0" font-size="66" fill="#ffffff" textLength="88" lengthAdjust="spacingAndGlyphs" style="font-style:italic">hv</text>
<text x="890.0" y="1205.0" font-size="72" fill="#0a0a1a">V</text>
<text x="938.0" y="1215.0" font-size="40" fill="#0a0a1a">o</text>
<text x="962.0" y="1175.0" font-size="40" fill="#0a0a1a">+</text>
<text x="1020.0" y="1205.0" font-size="72" fill="#0a0a1a">+ e</text>
<text x="1135.0" y="1172.0" font-size="40" fill="#0a0a1a">−</text>
<text x="432.0" y="1298.0" font-size="72" fill="#0a0a1a" textLength="212" lengthAdjust="spacingAndGlyphs">GQDs</text>
<line x1="662.0" y1="1285.0" x2="785.0" y2="1285.0" stroke="#0a0a1a" stroke-width="7"/><path d="M812.0,1285.0 L784.0,1297.0 L784.0,1273.0 Z" fill="#0a0a1a"/>
<text x="695.0" y="1262.0" font-size="66" fill="#ffffff" textLength="88" lengthAdjust="spacingAndGlyphs" style="font-style:italic">hv</text>
<text x="838.0" y="1298.0" font-size="72" fill="#0a0a1a" textLength="276" lengthAdjust="spacingAndGlyphs">GQDs(e</text>
<text x="1118.0" y="1262.0" font-size="40" fill="#0a0a1a">−</text>
<text x="1170.0" y="1298.0" font-size="72" fill="#0a0a1a" textLength="113" lengthAdjust="spacingAndGlyphs">+ h</text>
<text x="1286.0" y="1262.0" font-size="40" fill="#0a0a1a">+</text>
<text x="1300.0" y="1298.0" font-size="72" fill="#0a0a1a">)</text></g>
</svg>
</body></html>
